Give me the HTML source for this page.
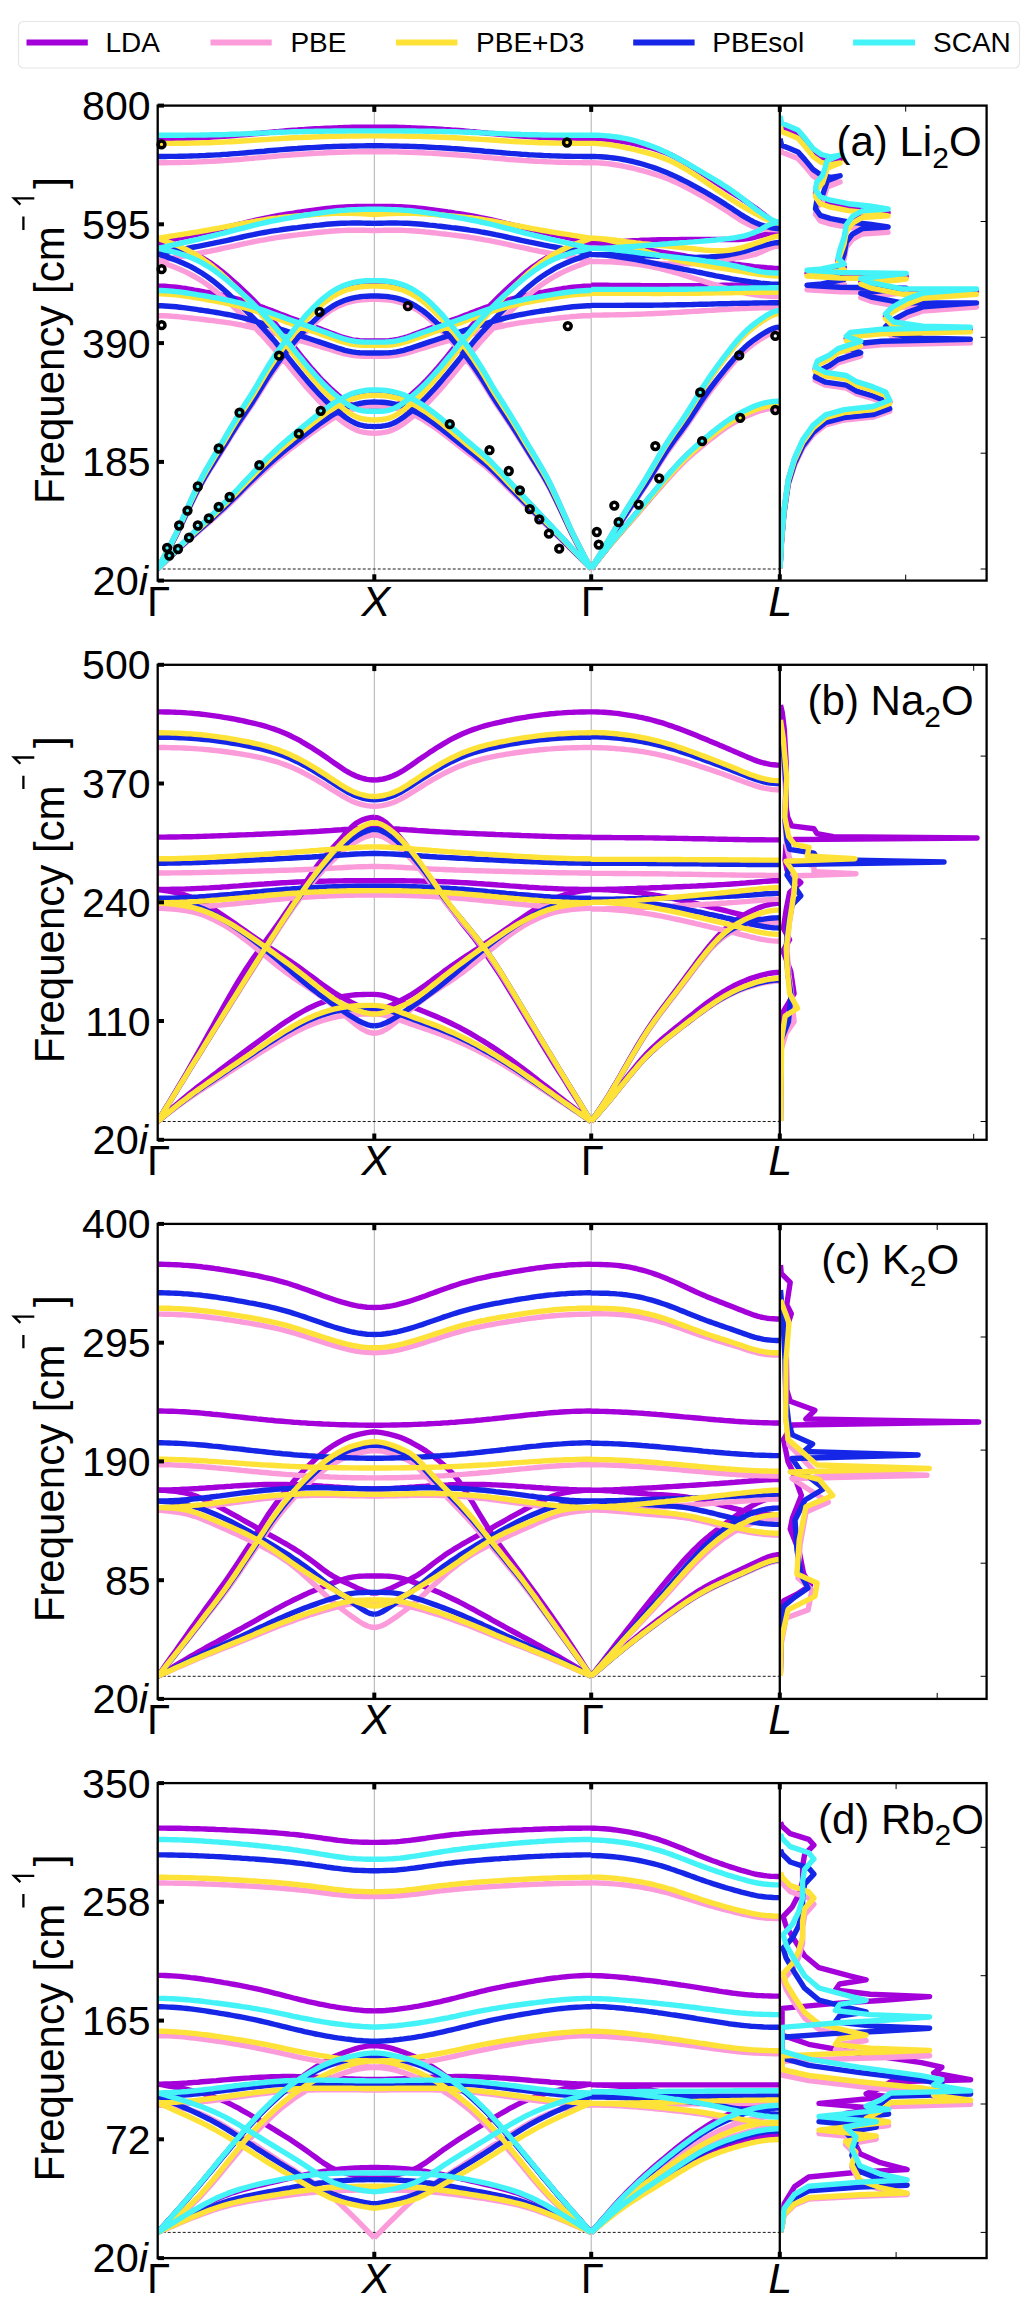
<!DOCTYPE html><html><head><meta charset="utf-8"><style>html,body{margin:0;padding:0;background:#fff;width:1025px;height:2316px;overflow:hidden}svg{display:block}text{font-family:"Liberation Sans",sans-serif;fill:#000}</style></head><body>
<svg width="1025" height="2316" viewBox="0 0 1025 2316">
<rect x="0" y="0" width="1025" height="2316" fill="#fff"/>
<defs>
<clipPath id="cb0"><rect x="157.7" y="105.6" width="622.1" height="475"/></clipPath>
<clipPath id="cd0"><rect x="779.8" y="105.6" width="206.8" height="475"/></clipPath>
<clipPath id="cb1"><rect x="157.7" y="664.8" width="622.1" height="475"/></clipPath>
<clipPath id="cd1"><rect x="779.8" y="664.8" width="206.8" height="475"/></clipPath>
<clipPath id="cb2"><rect x="157.7" y="1223.9" width="622.1" height="475"/></clipPath>
<clipPath id="cd2"><rect x="779.8" y="1223.9" width="206.8" height="475"/></clipPath>
<clipPath id="cb3"><rect x="157.7" y="1783.1" width="622.1" height="475"/></clipPath>
<clipPath id="cd3"><rect x="779.8" y="1783.1" width="206.8" height="475"/></clipPath>
</defs>
<rect x="18.5" y="21.5" width="1001" height="46.5" rx="5" fill="#fff" stroke="#e6e6e6" stroke-width="1.2"/>
<line x1="26.5" y1="42.6" x2="87.8" y2="42.6" stroke="#a400da" stroke-width="6"/>
<text x="105.5" y="52" font-size="28">LDA</text>
<line x1="210.5" y1="42.6" x2="271.7" y2="42.6" stroke="#fb9bd9" stroke-width="6"/>
<text x="290.4" y="52" font-size="28">PBE</text>
<line x1="396" y1="42.6" x2="457.4" y2="42.6" stroke="#fee237" stroke-width="6"/>
<text x="476.09999999999997" y="52" font-size="28">PBE+D3</text>
<line x1="633.2" y1="42.6" x2="694.6" y2="42.6" stroke="#1626e6" stroke-width="6"/>
<text x="712.3000000000001" y="52" font-size="28">PBEsol</text>
<line x1="853.1" y1="42.6" x2="915" y2="42.6" stroke="#44f3f7" stroke-width="6"/>
<text x="933.0" y="52" font-size="28">SCAN</text>
<line x1="374.3" y1="105.6" x2="374.3" y2="580.6" stroke="#b0b0b0" stroke-width="1"/>
<line x1="591.2" y1="105.6" x2="591.2" y2="580.6" stroke="#b0b0b0" stroke-width="1"/>
<line x1="157.7" y1="569" x2="779.8" y2="569" stroke="#1a1a1a" stroke-width="1" stroke-dasharray="3,2"/>
<path d="M157.7 138.5 L161.4 138.5 L165 138.5 L168.7 138.4 L172.4 138.4 L176.1 138.3 L179.7 138.3 L183.4 138.2 L187.1 138.1 L190.7 138 L194.4 137.9 L198.1 137.7 L201.8 137.6 L205.4 137.4 L209.1 137.2 L212.8 137 L216.4 136.8 L220.1 136.6 L223.8 136.3 L227.5 136 L231.1 135.7 L234.8 135.5 L238.5 135.1 L242.1 134.8 L245.8 134.5 L249.5 134.2 L253.2 133.8 L256.8 133.5 L260.5 133.2 L264.2 132.8 L267.8 132.5 L271.5 132.1 L275.2 131.8 L278.8 131.5 L282.5 131.1 L286.2 130.8 L289.9 130.5 L293.5 130.2 L297.2 130 L300.9 129.7 L304.5 129.5 L308.2 129.2 L311.9 129 L315.6 128.8 L319.2 128.6 L322.9 128.4 L326.6 128.2 L330.2 128.1 L333.9 127.9 L337.6 127.8 L341.3 127.6 L344.9 127.5 L348.6 127.4 L352.3 127.3 L355.9 127.3 L359.6 127.2 L363.3 127.2 L367 127.1 L370.6 127.1 L374.3 127.1 M591.2 138.5 L587.5 138.5 L583.8 138.5 L580.2 138.4 L576.5 138.4 L572.8 138.3 L569.1 138.3 L565.5 138.2 L561.8 138.1 L558.1 138 L554.4 137.9 L550.8 137.7 L547.1 137.6 L543.4 137.4 L539.7 137.2 L536.1 137 L532.4 136.8 L528.7 136.6 L525 136.3 L521.4 136 L517.7 135.7 L514 135.5 L510.3 135.1 L506.6 134.8 L503 134.5 L499.3 134.2 L495.6 133.8 L491.9 133.5 L488.3 133.2 L484.6 132.8 L480.9 132.5 L477.2 132.1 L473.6 131.8 L469.9 131.5 L466.2 131.1 L462.5 130.8 L458.9 130.5 L455.2 130.2 L451.5 130 L447.8 129.7 L444.1 129.5 L440.5 129.2 L436.8 129 L433.1 128.8 L429.4 128.6 L425.8 128.4 L422.1 128.2 L418.4 128.1 L414.7 127.9 L411.1 127.8 L407.4 127.6 L403.7 127.5 L400 127.4 L396.4 127.3 L392.7 127.3 L389 127.2 L385.3 127.2 L381.7 127.1 L378 127.1 L374.3 127.1 M157.7 242.6 L161.4 241.8 L165 241 L168.7 240.3 L172.4 239.5 L176.1 238.7 L179.7 237.9 L183.4 237.1 L187.1 236.4 L190.7 235.6 L194.4 234.8 L198.1 234 L201.8 233.2 L205.4 232.3 L209.1 231.5 L212.8 230.7 L216.4 229.8 L220.1 228.9 L223.8 228 L227.5 227.1 L231.1 226.2 L234.8 225.3 L238.5 224.4 L242.1 223.5 L245.8 222.6 L249.5 221.7 L253.2 220.8 L256.8 219.9 L260.5 219.1 L264.2 218.3 L267.8 217.6 L271.5 216.8 L275.2 216.1 L278.8 215.5 L282.5 214.8 L286.2 214.2 L289.9 213.6 L293.5 213.1 L297.2 212.5 L300.9 212 L304.5 211.4 L308.2 210.9 L311.9 210.4 L315.6 209.9 L319.2 209.4 L322.9 208.9 L326.6 208.5 L330.2 208.1 L333.9 207.7 L337.6 207.4 L341.3 207.1 L344.9 206.9 L348.6 206.7 L352.3 206.6 L355.9 206.5 L359.6 206.4 L363.3 206.4 L367 206.4 L370.6 206.4 L374.3 206.5 M591.2 242.6 L587.5 241.8 L583.8 241 L580.2 240.3 L576.5 239.5 L572.8 238.7 L569.1 237.9 L565.5 237.1 L561.8 236.4 L558.1 235.6 L554.4 234.8 L550.8 234 L547.1 233.2 L543.4 232.3 L539.7 231.5 L536.1 230.7 L532.4 229.8 L528.7 228.9 L525 228 L521.4 227.1 L517.7 226.2 L514 225.3 L510.3 224.4 L506.6 223.5 L503 222.6 L499.3 221.7 L495.6 220.8 L491.9 219.9 L488.3 219.1 L484.6 218.3 L480.9 217.6 L477.2 216.8 L473.6 216.1 L469.9 215.5 L466.2 214.8 L462.5 214.2 L458.9 213.6 L455.2 213.1 L451.5 212.5 L447.8 212 L444.1 211.4 L440.5 210.9 L436.8 210.4 L433.1 209.9 L429.4 209.4 L425.8 208.9 L422.1 208.5 L418.4 208.1 L414.7 207.7 L411.1 207.4 L407.4 207.1 L403.7 206.9 L400 206.7 L396.4 206.6 L392.7 206.5 L389 206.4 L385.3 206.4 L381.7 206.4 L378 206.4 L374.3 206.5 M157.7 242.6 L161.4 243.4 L165 244.3 L168.7 245.2 L172.4 246.1 L176.1 247.1 L179.7 248.2 L183.4 249.5 L187.1 250.8 L190.7 252.3 L194.4 253.9 L198.1 255.7 L201.8 257.6 L205.4 259.8 L209.1 262.1 L212.8 264.6 L216.4 267.2 L220.1 270.1 L223.8 273 L227.5 276.1 L231.1 279.3 L234.8 282.5 L238.5 285.8 L242.1 289.2 L245.8 292.7 L249.5 296.3 L253.2 299.9 L256.8 303.6 L260.5 307.4 L264.2 311.3 L267.8 315.4 L271.5 319.5 L275.2 323.7 L278.8 328.1 L282.5 332.6 L286.2 337.1 L289.9 341.7 L293.5 346.4 L297.2 351 L300.9 355.6 L304.5 360.1 L308.2 364.5 L311.9 368.9 L315.6 373.1 L319.2 377.1 L322.9 381 L326.6 384.7 L330.2 388.2 L333.9 391.6 L337.6 394.8 L341.3 397.8 L344.9 400.6 L348.6 403.2 L352.3 405.4 L355.9 407.2 L359.6 408.4 L363.3 409.1 L367 409.4 L370.6 409.5 L374.3 409.5 M591.2 242.6 L587.5 243.4 L583.8 244.3 L580.2 245.2 L576.5 246.1 L572.8 247.1 L569.1 248.2 L565.5 249.5 L561.8 250.8 L558.1 252.3 L554.4 253.9 L550.8 255.7 L547.1 257.6 L543.4 259.8 L539.7 262.1 L536.1 264.6 L532.4 267.2 L528.7 270.1 L525 273 L521.4 276.1 L517.7 279.3 L514 282.5 L510.3 285.8 L506.6 289.2 L503 292.7 L499.3 296.3 L495.6 299.9 L491.9 303.6 L488.3 307.4 L484.6 311.3 L480.9 315.4 L477.2 319.5 L473.6 323.7 L469.9 328.1 L466.2 332.6 L462.5 337.1 L458.9 341.7 L455.2 346.4 L451.5 351 L447.8 355.6 L444.1 360.1 L440.5 364.5 L436.8 368.9 L433.1 373.1 L429.4 377.1 L425.8 381 L422.1 384.7 L418.4 388.2 L414.7 391.6 L411.1 394.8 L407.4 397.8 L403.7 400.6 L400 403.2 L396.4 405.4 L392.7 407.2 L389 408.4 L385.3 409.1 L381.7 409.4 L378 409.5 L374.3 409.5 M157.7 286.1 L161.4 286.2 L165 286.3 L168.7 286.6 L172.4 286.9 L176.1 287.3 L179.7 287.7 L183.4 288.3 L187.1 288.8 L190.7 289.4 L194.4 290.1 L198.1 290.7 L201.8 291.4 L205.4 292.1 L209.1 292.7 L212.8 293.5 L216.4 294.2 L220.1 295 L223.8 295.8 L227.5 296.6 L231.1 297.5 L234.8 298.4 L238.5 299.4 L242.1 300.5 L245.8 301.6 L249.5 302.8 L253.2 304 L256.8 305.2 L260.5 306.6 L264.2 307.9 L267.8 309.3 L271.5 310.6 L275.2 312 L278.8 313.4 L282.5 314.9 L286.2 316.3 L289.9 317.7 L293.5 319 L297.2 320.4 L300.9 321.8 L304.5 323.2 L308.2 324.5 L311.9 325.9 L315.6 327.2 L319.2 328.6 L322.9 330 L326.6 331.3 L330.2 332.7 L333.9 334.1 L337.6 335.5 L341.3 336.8 L344.9 337.9 L348.6 338.9 L352.3 339.8 L355.9 340.3 L359.6 340.7 L363.3 340.9 L367 341 L370.6 341 L374.3 341 M591.2 286.1 L587.5 286.2 L583.8 286.3 L580.2 286.6 L576.5 286.9 L572.8 287.3 L569.1 287.7 L565.5 288.3 L561.8 288.8 L558.1 289.4 L554.4 290.1 L550.8 290.7 L547.1 291.4 L543.4 292.1 L539.7 292.7 L536.1 293.5 L532.4 294.2 L528.7 295 L525 295.8 L521.4 296.6 L517.7 297.5 L514 298.4 L510.3 299.4 L506.6 300.5 L503 301.6 L499.3 302.8 L495.6 304 L491.9 305.2 L488.3 306.6 L484.6 307.9 L480.9 309.3 L477.2 310.6 L473.6 312 L469.9 313.4 L466.2 314.9 L462.5 316.3 L458.9 317.7 L455.2 319 L451.5 320.4 L447.8 321.8 L444.1 323.2 L440.5 324.5 L436.8 325.9 L433.1 327.2 L429.4 328.6 L425.8 330 L422.1 331.3 L418.4 332.7 L414.7 334.1 L411.1 335.5 L407.4 336.8 L403.7 337.9 L400 338.9 L396.4 339.8 L392.7 340.3 L389 340.7 L385.3 340.9 L381.7 341 L378 341 L374.3 341 M157.7 568.7 L161.4 562 L165 555.2 L168.7 548.3 L172.4 541.1 L176.1 533.6 L179.7 525.8 L183.4 517.7 L187.1 509.4 L190.7 501.2 L194.4 493.1 L198.1 485.5 L201.8 478.3 L205.4 471.6 L209.1 465.2 L212.8 459 L216.4 452.9 L220.1 446.8 L223.8 440.6 L227.5 434.4 L231.1 428.1 L234.8 422 L238.5 416 L242.1 410.1 L245.8 404.4 L249.5 398.7 L253.2 392.9 L256.8 386.8 L260.5 380.5 L264.2 374.2 L267.8 368.2 L271.5 362.4 L275.2 356.9 L278.8 351.6 L282.5 346.5 L286.2 341.5 L289.9 336.7 L293.5 332.1 L297.2 327.6 L300.9 323.2 L304.5 319 L308.2 315 L311.9 311.2 L315.6 307.5 L319.2 304 L322.9 300.8 L326.6 297.9 L330.2 295.2 L333.9 292.8 L337.6 290.8 L341.3 289 L344.9 287.5 L348.6 286.2 L352.3 285.2 L355.9 284.4 L359.6 283.8 L363.3 283.4 L367 283.2 L370.6 283 L374.3 283 M591.2 568.7 L587.5 562 L583.8 555.2 L580.2 548.3 L576.5 541.1 L572.8 533.6 L569.1 525.8 L565.5 517.7 L561.8 509.4 L558.1 501.2 L554.4 493.1 L550.8 485.5 L547.1 478.3 L543.4 471.6 L539.7 465.2 L536.1 459 L532.4 452.9 L528.7 446.8 L525 440.6 L521.4 434.4 L517.7 428.1 L514 422 L510.3 416 L506.6 410.1 L503 404.4 L499.3 398.7 L495.6 392.9 L491.9 386.8 L488.3 380.5 L484.6 374.2 L480.9 368.2 L477.2 362.4 L473.6 356.9 L469.9 351.6 L466.2 346.5 L462.5 341.5 L458.9 336.7 L455.2 332.1 L451.5 327.6 L447.8 323.2 L444.1 319 L440.5 315 L436.8 311.2 L433.1 307.5 L429.4 304 L425.8 300.8 L422.1 297.9 L418.4 295.2 L414.7 292.8 L411.1 290.8 L407.4 289 L403.7 287.5 L400 286.2 L396.4 285.2 L392.7 284.4 L389 283.8 L385.3 283.4 L381.7 283.2 L378 283 L374.3 283 M157.7 568.7 L161.4 565 L165 561.2 L168.7 557.5 L172.4 553.8 L176.1 550.1 L179.7 546.5 L183.4 542.9 L187.1 539.3 L190.7 535.7 L194.4 532.2 L198.1 528.8 L201.8 525.3 L205.4 521.8 L209.1 518.4 L212.8 514.9 L216.4 511.4 L220.1 507.8 L223.8 504.2 L227.5 500.6 L231.1 496.8 L234.8 493 L238.5 489.2 L242.1 485.3 L245.8 481.4 L249.5 477.6 L253.2 473.7 L256.8 469.9 L260.5 466.2 L264.2 462.6 L267.8 459 L271.5 455.5 L275.2 452.1 L278.8 448.8 L282.5 445.5 L286.2 442.3 L289.9 439.1 L293.5 436.1 L297.2 433 L300.9 430 L304.5 427.1 L308.2 424.1 L311.9 421.2 L315.6 418.3 L319.2 415.4 L322.9 412.7 L326.6 410 L330.2 407.4 L333.9 405 L337.6 402.7 L341.3 400.7 L344.9 398.8 L348.6 397.1 L352.3 395.7 L355.9 394.5 L359.6 393.6 L363.3 392.9 L367 392.4 L370.6 392.1 L374.3 392 M591.2 568.7 L587.5 564.8 L583.8 560.9 L580.2 557 L576.5 553.1 L572.8 549.2 L569.1 545.3 L565.5 541.4 L561.8 537.6 L558.1 533.7 L554.4 529.8 L550.8 525.9 L547.1 522.1 L543.4 518.2 L539.7 514.4 L536.1 510.5 L532.4 506.7 L528.7 502.8 L525 499 L521.4 495.1 L517.7 491.2 L514 487.3 L510.3 483.4 L506.6 479.5 L503 475.5 L499.3 471.6 L495.6 467.7 L491.9 463.9 L488.3 460.3 L484.6 457 L480.9 453.8 L477.2 450.7 L473.6 447.6 L469.9 444.6 L466.2 441.5 L462.5 438.4 L458.9 435.2 L455.2 432 L451.5 428.9 L447.8 425.8 L444.1 422.7 L440.5 419.8 L436.8 416.9 L433.1 414.1 L429.4 411.4 L425.8 408.8 L422.1 406.4 L418.4 404.1 L414.7 402 L411.1 400.1 L407.4 398.4 L403.7 396.9 L400 395.6 L396.4 394.5 L392.7 393.7 L389 393 L385.3 392.6 L381.7 392.2 L378 392.1 L374.3 392 M591.2 138.5 L594.4 138.5 L597.6 138.6 L600.8 138.8 L604 139 L607.2 139.3 L610.4 139.7 L613.6 140.1 L616.8 140.5 L620 141 L623.2 141.5 L626.4 142.1 L629.6 142.7 L632.8 143.4 L636 144.1 L639.1 144.8 L642.3 145.5 L645.5 146.3 L648.7 147.1 L651.9 148 L655.1 148.9 L658.3 150 L661.5 151.1 L664.7 152.3 L667.9 153.6 L671.1 155 L674.3 156.6 L677.5 158.3 L680.7 160 L683.9 161.9 L687.1 163.8 L690.3 165.7 L693.5 167.8 L696.7 169.8 L699.9 171.9 L703.1 174 L706.3 176.1 L709.5 178.2 L712.7 180.3 L715.9 182.4 L719.1 184.4 L722.3 186.5 L725.5 188.6 L728.7 190.6 L731.9 192.6 L735 194.6 L738.2 196.5 L741.4 198.6 L744.6 200.6 L747.8 202.7 L751 204.9 L754.2 207.1 L757.4 209.5 L760.6 211.9 L763.8 214.4 L767 216.9 L770.2 219.4 L773.4 221.6 L776.6 223.3 L779.8 224 M591.2 242.9 L594.4 242.9 L597.6 242.8 L600.8 242.7 L604 242.6 L607.2 242.4 L610.4 242.3 L613.6 242.1 L616.8 241.9 L620 241.7 L623.2 241.5 L626.4 241.2 L629.6 241 L632.8 240.8 L636 240.6 L639.1 240.5 L642.3 240.3 L645.5 240.2 L648.7 240.1 L651.9 240 L655.1 239.9 L658.3 239.8 L661.5 239.7 L664.7 239.7 L667.9 239.6 L671.1 239.6 L674.3 239.6 L677.5 239.6 L680.7 239.5 L683.9 239.5 L687.1 239.5 L690.3 239.5 L693.5 239.4 L696.7 239.4 L699.9 239.4 L703.1 239.4 L706.3 239.4 L709.5 239.4 L712.7 239.4 L715.9 239.4 L719.1 239.4 L722.3 239.5 L725.5 239.5 L728.7 239.6 L731.9 239.6 L735 239.6 L738.2 239.5 L741.4 239.3 L744.6 239 L747.8 238.6 L751 238 L754.2 237.3 L757.4 236.5 L760.6 235.7 L763.8 234.8 L767 234 L770.2 233.3 L773.4 232.6 L776.6 232.2 L779.8 232 M591.2 242.9 L594.4 242.9 L597.6 243 L600.8 243.2 L604 243.4 L607.2 243.7 L610.4 244.1 L613.6 244.4 L616.8 244.9 L620 245.3 L623.2 245.8 L626.4 246.3 L629.6 246.8 L632.8 247.4 L636 247.9 L639.1 248.5 L642.3 249.1 L645.5 249.6 L648.7 250.2 L651.9 250.7 L655.1 251.2 L658.3 251.7 L661.5 252.2 L664.7 252.7 L667.9 253.2 L671.1 253.7 L674.3 254.2 L677.5 254.7 L680.7 255.2 L683.9 255.7 L687.1 256.3 L690.3 256.8 L693.5 257.3 L696.7 257.8 L699.9 258.4 L703.1 258.9 L706.3 259.4 L709.5 260 L712.7 260.5 L715.9 261 L719.1 261.6 L722.3 262.1 L725.5 262.6 L728.7 263.1 L731.9 263.6 L735 264.1 L738.2 264.5 L741.4 265 L744.6 265.4 L747.8 265.8 L751 266.2 L754.2 266.6 L757.4 266.9 L760.6 267.2 L763.8 267.5 L767 267.8 L770.2 268 L773.4 268.3 L776.6 268.4 L779.8 268.5 M591.2 285.3 L594.4 285.3 L597.6 285.3 L600.8 285.3 L604 285.3 L607.2 285.3 L610.4 285.4 L613.6 285.4 L616.8 285.4 L620 285.4 L623.2 285.4 L626.4 285.4 L629.6 285.5 L632.8 285.5 L636 285.5 L639.1 285.5 L642.3 285.6 L645.5 285.6 L648.7 285.6 L651.9 285.6 L655.1 285.6 L658.3 285.6 L661.5 285.7 L664.7 285.7 L667.9 285.7 L671.1 285.7 L674.3 285.7 L677.5 285.7 L680.7 285.7 L683.9 285.7 L687.1 285.6 L690.3 285.6 L693.5 285.6 L696.7 285.6 L699.9 285.6 L703.1 285.5 L706.3 285.5 L709.5 285.5 L712.7 285.4 L715.9 285.4 L719.1 285.4 L722.3 285.3 L725.5 285.3 L728.7 285.2 L731.9 285.2 L735 285.2 L738.2 285.1 L741.4 285.1 L744.6 285 L747.8 285 L751 285 L754.2 284.9 L757.4 284.9 L760.6 284.9 L763.8 284.9 L767 284.8 L770.2 284.8 L773.4 284.8 L776.6 284.8 L779.8 284.8 M591.2 568.7 L594.4 563.5 L597.6 558.3 L600.8 553.1 L604 547.8 L607.2 542.5 L610.4 537.1 L613.6 531.6 L616.8 526.2 L620 520.8 L623.2 515.4 L626.4 510.1 L629.6 505 L632.8 499.9 L636 495 L639.1 490 L642.3 484.9 L645.5 479.8 L648.7 474.4 L651.9 469 L655.1 463.5 L658.3 458 L661.5 452.6 L664.7 447.3 L667.9 442.3 L671.1 437.5 L674.3 432.8 L677.5 428.2 L680.7 423.6 L683.9 418.9 L687.1 414.1 L690.3 409.1 L693.5 404 L696.7 398.8 L699.9 393.7 L703.1 388.6 L706.3 383.7 L709.5 379 L712.7 374.4 L715.9 370 L719.1 365.7 L722.3 361.4 L725.5 357.2 L728.7 353.1 L731.9 349.1 L735 345.2 L738.2 341.4 L741.4 337.9 L744.6 334.7 L747.8 331.6 L751 328.9 L754.2 326.3 L757.4 324 L760.6 321.7 L763.8 319.6 L767 317.6 L770.2 315.8 L773.4 314.3 L776.6 313.4 L779.8 313 M591.2 568.7 L594.4 564.5 L597.6 560.4 L600.8 556.2 L604 552.1 L607.2 548.1 L610.4 544.1 L613.6 540.3 L616.8 536.4 L620 532.6 L623.2 528.8 L626.4 525.1 L629.6 521.3 L632.8 517.5 L636 513.7 L639.1 509.9 L642.3 506 L645.5 502.2 L648.7 498.3 L651.9 494.5 L655.1 490.6 L658.3 486.8 L661.5 483 L664.7 479.2 L667.9 475.5 L671.1 471.9 L674.3 468.3 L677.5 464.8 L680.7 461.4 L683.9 458.1 L687.1 455 L690.3 451.9 L693.5 449 L696.7 446.2 L699.9 443.4 L703.1 440.6 L706.3 437.9 L709.5 435.2 L712.7 432.6 L715.9 430 L719.1 427.5 L722.3 425.1 L725.5 422.8 L728.7 420.6 L731.9 418.6 L735 416.7 L738.2 414.9 L741.4 413.1 L744.6 411.5 L747.8 409.9 L751 408.5 L754.2 407.1 L757.4 405.9 L760.6 404.8 L763.8 403.9 L767 403.2 L770.2 402.7 L773.4 402.3 L776.6 402.1 L779.8 402" stroke="#a400da" stroke-width="5.4" fill="none" stroke-linejoin="round" stroke-linecap="butt" clip-path="url(#cb0)"/>
<path d="M157.7 162.7 L161.4 162.7 L165 162.7 L168.7 162.6 L172.4 162.6 L176.1 162.5 L179.7 162.5 L183.4 162.4 L187.1 162.3 L190.7 162.2 L194.4 162.1 L198.1 161.9 L201.8 161.8 L205.4 161.6 L209.1 161.4 L212.8 161.2 L216.4 161 L220.1 160.8 L223.8 160.6 L227.5 160.3 L231.1 160 L234.8 159.8 L238.5 159.5 L242.1 159.2 L245.8 158.8 L249.5 158.5 L253.2 158.2 L256.8 157.9 L260.5 157.5 L264.2 157.2 L267.8 156.9 L271.5 156.6 L275.2 156.2 L278.8 155.9 L282.5 155.6 L286.2 155.3 L289.9 155 L293.5 154.7 L297.2 154.5 L300.9 154.2 L304.5 154 L308.2 153.8 L311.9 153.5 L315.6 153.3 L319.2 153.1 L322.9 153 L326.6 152.8 L330.2 152.6 L333.9 152.5 L337.6 152.3 L341.3 152.2 L344.9 152.1 L348.6 152 L352.3 151.9 L355.9 151.9 L359.6 151.8 L363.3 151.8 L367 151.7 L370.6 151.7 L374.3 151.7 M591.2 162.7 L587.5 162.7 L583.8 162.7 L580.2 162.6 L576.5 162.6 L572.8 162.5 L569.1 162.5 L565.5 162.4 L561.8 162.3 L558.1 162.2 L554.4 162.1 L550.8 161.9 L547.1 161.8 L543.4 161.6 L539.7 161.4 L536.1 161.2 L532.4 161 L528.7 160.8 L525 160.6 L521.4 160.3 L517.7 160 L514 159.8 L510.3 159.5 L506.6 159.2 L503 158.8 L499.3 158.5 L495.6 158.2 L491.9 157.9 L488.3 157.5 L484.6 157.2 L480.9 156.9 L477.2 156.6 L473.6 156.2 L469.9 155.9 L466.2 155.6 L462.5 155.3 L458.9 155 L455.2 154.7 L451.5 154.5 L447.8 154.2 L444.1 154 L440.5 153.8 L436.8 153.5 L433.1 153.3 L429.4 153.1 L425.8 153 L422.1 152.8 L418.4 152.6 L414.7 152.5 L411.1 152.3 L407.4 152.2 L403.7 152.1 L400 152 L396.4 151.9 L392.7 151.9 L389 151.8 L385.3 151.8 L381.7 151.7 L378 151.7 L374.3 151.7 M157.7 260.9 L161.4 260.2 L165 259.5 L168.7 258.9 L172.4 258.2 L176.1 257.5 L179.7 256.8 L183.4 256.2 L187.1 255.5 L190.7 254.8 L194.4 254.1 L198.1 253.4 L201.8 252.7 L205.4 252 L209.1 251.3 L212.8 250.5 L216.4 249.8 L220.1 249 L223.8 248.2 L227.5 247.4 L231.1 246.6 L234.8 245.8 L238.5 245 L242.1 244.2 L245.8 243.4 L249.5 242.7 L253.2 241.9 L256.8 241.2 L260.5 240.4 L264.2 239.8 L267.8 239.1 L271.5 238.5 L275.2 237.9 L278.8 237.3 L282.5 236.8 L286.2 236.3 L289.9 235.8 L293.5 235.3 L297.2 234.9 L300.9 234.4 L304.5 234 L308.2 233.6 L311.9 233.1 L315.6 232.7 L319.2 232.3 L322.9 232 L326.6 231.6 L330.2 231.3 L333.9 231 L337.6 230.8 L341.3 230.6 L344.9 230.4 L348.6 230.3 L352.3 230.3 L355.9 230.2 L359.6 230.3 L363.3 230.3 L367 230.4 L370.6 230.5 L374.3 230.6 M591.2 260.9 L587.5 260.2 L583.8 259.5 L580.2 258.9 L576.5 258.2 L572.8 257.5 L569.1 256.8 L565.5 256.2 L561.8 255.5 L558.1 254.8 L554.4 254.1 L550.8 253.4 L547.1 252.7 L543.4 252 L539.7 251.3 L536.1 250.5 L532.4 249.8 L528.7 249 L525 248.2 L521.4 247.4 L517.7 246.6 L514 245.8 L510.3 245 L506.6 244.2 L503 243.4 L499.3 242.7 L495.6 241.9 L491.9 241.2 L488.3 240.4 L484.6 239.8 L480.9 239.1 L477.2 238.5 L473.6 237.9 L469.9 237.3 L466.2 236.8 L462.5 236.3 L458.9 235.8 L455.2 235.3 L451.5 234.9 L447.8 234.4 L444.1 234 L440.5 233.6 L436.8 233.1 L433.1 232.7 L429.4 232.3 L425.8 232 L422.1 231.6 L418.4 231.3 L414.7 231 L411.1 230.8 L407.4 230.6 L403.7 230.4 L400 230.3 L396.4 230.3 L392.7 230.2 L389 230.3 L385.3 230.3 L381.7 230.4 L378 230.5 L374.3 230.6 M157.7 260.9 L161.4 262.2 L165 263.5 L168.7 264.9 L172.4 266.2 L176.1 267.7 L179.7 269.2 L183.4 270.9 L187.1 272.6 L190.7 274.5 L194.4 276.5 L198.1 278.6 L201.8 280.9 L205.4 283.4 L209.1 286 L212.8 288.8 L216.4 291.7 L220.1 294.8 L223.8 297.9 L227.5 301.2 L231.1 304.5 L234.8 308 L238.5 311.4 L242.1 315 L245.8 318.5 L249.5 322.2 L253.2 325.9 L256.8 329.7 L260.5 333.5 L264.2 337.5 L267.8 341.5 L271.5 345.6 L275.2 349.7 L278.8 354 L282.5 358.4 L286.2 362.8 L289.9 367.3 L293.5 371.7 L297.2 376.2 L300.9 380.5 L304.5 384.9 L308.2 389.1 L311.9 393.2 L315.6 397.2 L319.2 401.1 L322.9 404.8 L326.6 408.3 L330.2 411.7 L333.9 414.9 L337.6 417.9 L341.3 420.8 L344.9 423.5 L348.6 426 L352.3 428.1 L355.9 429.9 L359.6 431.3 L363.3 432.1 L367 432.7 L370.6 433 L374.3 433.2 M591.2 260.9 L587.5 262.2 L583.8 263.5 L580.2 264.9 L576.5 266.2 L572.8 267.7 L569.1 269.2 L565.5 270.9 L561.8 272.6 L558.1 274.5 L554.4 276.5 L550.8 278.6 L547.1 280.9 L543.4 283.4 L539.7 286 L536.1 288.8 L532.4 291.7 L528.7 294.8 L525 297.9 L521.4 301.2 L517.7 304.5 L514 308 L510.3 311.4 L506.6 315 L503 318.5 L499.3 322.2 L495.6 325.9 L491.9 329.7 L488.3 333.5 L484.6 337.5 L480.9 341.5 L477.2 345.6 L473.6 349.7 L469.9 354 L466.2 358.4 L462.5 362.8 L458.9 367.3 L455.2 371.7 L451.5 376.2 L447.8 380.5 L444.1 384.9 L440.5 389.1 L436.8 393.2 L433.1 397.2 L429.4 401.1 L425.8 404.8 L422.1 408.3 L418.4 411.7 L414.7 414.9 L411.1 417.9 L407.4 420.8 L403.7 423.5 L400 426 L396.4 428.1 L392.7 429.9 L389 431.3 L385.3 432.1 L381.7 432.7 L378 433 L374.3 433.2 M157.7 315.7 L161.4 315.7 L165 315.8 L168.7 316 L172.4 316.3 L176.1 316.5 L179.7 316.9 L183.4 317.2 L187.1 317.6 L190.7 318 L194.4 318.5 L198.1 318.9 L201.8 319.3 L205.4 319.7 L209.1 320.2 L212.8 320.6 L216.4 321.1 L220.1 321.6 L223.8 322.1 L227.5 322.6 L231.1 323.2 L234.8 323.8 L238.5 324.5 L242.1 325.2 L245.8 326 L249.5 326.8 L253.2 327.6 L256.8 328.5 L260.5 329.5 L264.2 330.5 L267.8 331.5 L271.5 332.5 L275.2 333.5 L278.8 334.6 L282.5 335.6 L286.2 336.7 L289.9 337.7 L293.5 338.8 L297.2 339.8 L300.9 340.9 L304.5 341.9 L308.2 343 L311.9 344 L315.6 345.1 L319.2 346.2 L322.9 347.3 L326.6 348.4 L330.2 349.5 L333.9 350.7 L337.6 351.8 L341.3 352.9 L344.9 353.9 L348.6 354.7 L352.3 355.4 L355.9 355.9 L359.6 356.1 L363.3 356.3 L367 356.3 L370.6 356.3 L374.3 356.3 M591.2 315.7 L587.5 315.7 L583.8 315.8 L580.2 316 L576.5 316.3 L572.8 316.5 L569.1 316.9 L565.5 317.2 L561.8 317.6 L558.1 318 L554.4 318.5 L550.8 318.9 L547.1 319.3 L543.4 319.7 L539.7 320.2 L536.1 320.6 L532.4 321.1 L528.7 321.6 L525 322.1 L521.4 322.6 L517.7 323.2 L514 323.8 L510.3 324.5 L506.6 325.2 L503 326 L499.3 326.8 L495.6 327.6 L491.9 328.5 L488.3 329.5 L484.6 330.5 L480.9 331.5 L477.2 332.5 L473.6 333.5 L469.9 334.6 L466.2 335.6 L462.5 336.7 L458.9 337.7 L455.2 338.8 L451.5 339.8 L447.8 340.9 L444.1 341.9 L440.5 343 L436.8 344 L433.1 345.1 L429.4 346.2 L425.8 347.3 L422.1 348.4 L418.4 349.5 L414.7 350.7 L411.1 351.8 L407.4 352.9 L403.7 353.9 L400 354.7 L396.4 355.4 L392.7 355.9 L389 356.1 L385.3 356.3 L381.7 356.3 L378 356.3 L374.3 356.3 M157.7 568.7 L161.4 562.4 L165 556 L168.7 549.5 L172.4 542.7 L176.1 535.7 L179.7 528.3 L183.4 520.6 L187.1 512.8 L190.7 505 L194.4 497.5 L198.1 490.2 L201.8 483.5 L205.4 477.1 L209.1 471.1 L212.8 465.3 L216.4 459.5 L220.1 453.7 L223.8 447.9 L227.5 442 L231.1 436.2 L234.8 430.4 L238.5 424.7 L242.1 419.2 L245.8 413.8 L249.5 408.4 L253.2 402.9 L256.8 397.2 L260.5 391.3 L264.2 385.3 L267.8 379.6 L271.5 374.2 L275.2 369 L278.8 364 L282.5 359.1 L286.2 354.5 L289.9 350 L293.5 345.6 L297.2 341.3 L300.9 337.2 L304.5 333.3 L308.2 329.5 L311.9 325.9 L315.6 322.4 L319.2 319.1 L322.9 316.1 L326.6 313.3 L330.2 310.8 L333.9 308.6 L337.6 306.6 L341.3 305 L344.9 303.5 L348.6 302.3 L352.3 301.4 L355.9 300.6 L359.6 300.1 L363.3 299.7 L367 299.5 L370.6 299.3 L374.3 299.3 M591.2 568.7 L587.5 562.4 L583.8 556 L580.2 549.5 L576.5 542.7 L572.8 535.7 L569.1 528.3 L565.5 520.6 L561.8 512.8 L558.1 505 L554.4 497.5 L550.8 490.2 L547.1 483.5 L543.4 477.1 L539.7 471.1 L536.1 465.3 L532.4 459.5 L528.7 453.7 L525 447.9 L521.4 442 L517.7 436.2 L514 430.4 L510.3 424.7 L506.6 419.2 L503 413.8 L499.3 408.4 L495.6 402.9 L491.9 397.2 L488.3 391.3 L484.6 385.3 L480.9 379.6 L477.2 374.2 L473.6 369 L469.9 364 L466.2 359.1 L462.5 354.5 L458.9 350 L455.2 345.6 L451.5 341.3 L447.8 337.2 L444.1 333.3 L440.5 329.5 L436.8 325.9 L433.1 322.4 L429.4 319.1 L425.8 316.1 L422.1 313.3 L418.4 310.8 L414.7 308.6 L411.1 306.6 L407.4 305 L403.7 303.5 L400 302.3 L396.4 301.4 L392.7 300.6 L389 300.1 L385.3 299.7 L381.7 299.5 L378 299.3 L374.3 299.3 M157.7 568.7 L161.4 565.3 L165 561.9 L168.7 558.4 L172.4 555 L176.1 551.6 L179.7 548.3 L183.4 544.9 L187.1 541.6 L190.7 538.4 L194.4 535.2 L198.1 532 L201.8 528.8 L205.4 525.6 L209.1 522.4 L212.8 519.2 L216.4 515.9 L220.1 512.7 L223.8 509.4 L227.5 506 L231.1 502.6 L234.8 499.1 L238.5 495.5 L242.1 491.9 L245.8 488.4 L249.5 484.8 L253.2 481.3 L256.8 477.8 L260.5 474.3 L264.2 471 L267.8 467.7 L271.5 464.5 L275.2 461.3 L278.8 458.3 L282.5 455.3 L286.2 452.3 L289.9 449.4 L293.5 446.6 L297.2 443.8 L300.9 441 L304.5 438.3 L308.2 435.6 L311.9 432.9 L315.6 430.2 L319.2 427.6 L322.9 425 L326.6 422.6 L330.2 420.2 L333.9 418 L337.6 415.9 L341.3 414 L344.9 412.2 L348.6 410.7 L352.3 409.4 L355.9 408.3 L359.6 407.4 L363.3 406.8 L367 406.3 L370.6 406.1 L374.3 406 M591.2 568.7 L587.5 565.1 L583.8 561.5 L580.2 558 L576.5 554.4 L572.8 550.8 L569.1 547.2 L565.5 543.6 L561.8 540 L558.1 536.5 L554.4 532.9 L550.8 529.3 L547.1 525.8 L543.4 522.2 L539.7 518.7 L536.1 515.1 L532.4 511.6 L528.7 508.1 L525 504.5 L521.4 500.9 L517.7 497.4 L514 493.8 L510.3 490.2 L506.6 486.5 L503 482.9 L499.3 479.3 L495.6 475.7 L491.9 472.2 L488.3 468.9 L484.6 465.8 L480.9 462.9 L477.2 460 L473.6 457.2 L469.9 454.4 L466.2 451.6 L462.5 448.7 L458.9 445.8 L455.2 442.9 L451.5 440 L447.8 437.1 L444.1 434.3 L440.5 431.6 L436.8 428.9 L433.1 426.3 L429.4 423.9 L425.8 421.5 L422.1 419.3 L418.4 417.2 L414.7 415.2 L411.1 413.5 L407.4 411.9 L403.7 410.5 L400 409.3 L396.4 408.3 L392.7 407.6 L389 407 L385.3 406.5 L381.7 406.2 L378 406.1 L374.3 406 M591.2 162.7 L594.4 162.7 L597.6 162.9 L600.8 163 L604 163.3 L607.2 163.6 L610.4 164 L613.6 164.5 L616.8 165 L620 165.5 L623.2 166.1 L626.4 166.8 L629.6 167.5 L632.8 168.2 L636 169 L639.1 169.8 L642.3 170.6 L645.5 171.5 L648.7 172.4 L651.9 173.3 L655.1 174.3 L658.3 175.4 L661.5 176.5 L664.7 177.7 L667.9 178.9 L671.1 180.3 L674.3 181.7 L677.5 183.1 L680.7 184.7 L683.9 186.3 L687.1 187.9 L690.3 189.6 L693.5 191.3 L696.7 193.1 L699.9 194.9 L703.1 196.7 L706.3 198.5 L709.5 200.4 L712.7 202.3 L715.9 204.2 L719.1 206.2 L722.3 208.2 L725.5 210.2 L728.7 212.3 L731.9 214.4 L735 216.5 L738.2 218.6 L741.4 220.6 L744.6 222.4 L747.8 224.1 L751 225.6 L754.2 226.9 L757.4 227.9 L760.6 228.6 L763.8 229 L767 229.3 L770.2 229.5 L773.4 229.6 L776.6 229.8 L779.8 229.8 M591.2 261.5 L594.4 261.5 L597.6 261.5 L600.8 261.6 L604 261.6 L607.2 261.6 L610.4 261.7 L613.6 261.8 L616.8 261.8 L620 261.9 L623.2 262 L626.4 262.1 L629.6 262.2 L632.8 262.4 L636 262.5 L639.1 262.6 L642.3 262.8 L645.5 262.9 L648.7 263 L651.9 263.2 L655.1 263.4 L658.3 263.5 L661.5 263.6 L664.7 263.8 L667.9 263.9 L671.1 264 L674.3 264 L677.5 264.1 L680.7 264.1 L683.9 264 L687.1 263.9 L690.3 263.8 L693.5 263.6 L696.7 263.4 L699.9 263.1 L703.1 262.7 L706.3 262.3 L709.5 261.9 L712.7 261.5 L715.9 261 L719.1 260.5 L722.3 260 L725.5 259.5 L728.7 259.1 L731.9 258.6 L735 258.2 L738.2 257.7 L741.4 257.3 L744.6 256.8 L747.8 256.2 L751 255.4 L754.2 254.6 L757.4 253.6 L760.6 252.3 L763.8 250.9 L767 249.4 L770.2 248 L773.4 246.9 L776.6 246.2 L779.8 246 M591.2 261.5 L594.4 261.5 L597.6 261.5 L600.8 261.6 L604 261.7 L607.2 261.8 L610.4 261.9 L613.6 262.1 L616.8 262.3 L620 262.5 L623.2 262.7 L626.4 263 L629.6 263.3 L632.8 263.7 L636 264.1 L639.1 264.6 L642.3 265.1 L645.5 265.6 L648.7 266.2 L651.9 266.8 L655.1 267.5 L658.3 268.2 L661.5 269 L664.7 269.7 L667.9 270.6 L671.1 271.4 L674.3 272.3 L677.5 273.2 L680.7 274.1 L683.9 275.1 L687.1 276.1 L690.3 277.1 L693.5 278.1 L696.7 279.1 L699.9 280.1 L703.1 281.1 L706.3 282.1 L709.5 283.1 L712.7 284.1 L715.9 285.1 L719.1 286.1 L722.3 287.1 L725.5 288 L728.7 288.9 L731.9 289.8 L735 290.6 L738.2 291.4 L741.4 292.2 L744.6 292.9 L747.8 293.5 L751 294.1 L754.2 294.7 L757.4 295.1 L760.6 295.5 L763.8 295.8 L767 296.1 L770.2 296.3 L773.4 296.5 L776.6 296.6 L779.8 296.6 M591.2 315.1 L594.4 315.1 L597.6 315.1 L600.8 315.1 L604 315 L607.2 315 L610.4 314.9 L613.6 314.9 L616.8 314.8 L620 314.8 L623.2 314.7 L626.4 314.6 L629.6 314.5 L632.8 314.4 L636 314.3 L639.1 314.2 L642.3 314.1 L645.5 313.9 L648.7 313.8 L651.9 313.7 L655.1 313.5 L658.3 313.4 L661.5 313.2 L664.7 313.1 L667.9 312.9 L671.1 312.7 L674.3 312.6 L677.5 312.4 L680.7 312.2 L683.9 312 L687.1 311.8 L690.3 311.6 L693.5 311.4 L696.7 311.2 L699.9 311 L703.1 310.8 L706.3 310.6 L709.5 310.4 L712.7 310.2 L715.9 310 L719.1 309.8 L722.3 309.6 L725.5 309.5 L728.7 309.3 L731.9 309.1 L735 308.9 L738.2 308.8 L741.4 308.6 L744.6 308.5 L747.8 308.3 L751 308.2 L754.2 308.1 L757.4 308 L760.6 307.9 L763.8 307.8 L767 307.7 L770.2 307.7 L773.4 307.6 L776.6 307.6 L779.8 307.6 M591.2 568.7 L594.4 563.9 L597.6 559.1 L600.8 554.2 L604 549.3 L607.2 544.4 L610.4 539.3 L613.6 534.3 L616.8 529.2 L620 524.1 L623.2 519.2 L626.4 514.3 L629.6 509.5 L632.8 504.8 L636 500.2 L639.1 495.5 L642.3 490.8 L645.5 486 L648.7 481.1 L651.9 476 L655.1 470.9 L658.3 465.8 L661.5 460.8 L664.7 455.9 L667.9 451.2 L671.1 446.8 L674.3 442.4 L677.5 438.1 L680.7 433.9 L683.9 429.5 L687.1 425 L690.3 420.3 L693.5 415.6 L696.7 410.8 L699.9 406 L703.1 401.3 L706.3 396.7 L709.5 392.3 L712.7 388.1 L715.9 384 L719.1 380 L722.3 376 L725.5 372.1 L728.7 368.3 L731.9 364.5 L735 360.9 L738.2 357.4 L741.4 354.2 L744.6 351.1 L747.8 348.3 L751 345.8 L754.2 343.4 L757.4 341.2 L760.6 339.1 L763.8 337.1 L767 335.3 L770.2 333.6 L773.4 332.2 L776.6 331.3 L779.8 331 M591.2 568.7 L594.4 564.7 L597.6 560.7 L600.8 556.7 L604 552.7 L607.2 548.8 L610.4 545 L613.6 541.3 L616.8 537.6 L620 533.9 L623.2 530.3 L626.4 526.6 L629.6 523 L632.8 519.3 L636 515.7 L639.1 512 L642.3 508.3 L645.5 504.6 L648.7 500.9 L651.9 497.1 L655.1 493.4 L658.3 489.7 L661.5 486.1 L664.7 482.5 L667.9 478.9 L671.1 475.4 L674.3 471.9 L677.5 468.5 L680.7 465.3 L683.9 462.1 L687.1 459.1 L690.3 456.1 L693.5 453.3 L696.7 450.6 L699.9 447.9 L703.1 445.2 L706.3 442.6 L709.5 440 L712.7 437.5 L715.9 435 L719.1 432.6 L722.3 430.3 L725.5 428 L728.7 426 L731.9 424 L735 422.1 L738.2 420.4 L741.4 418.7 L744.6 417.1 L747.8 415.6 L751 414.2 L754.2 412.9 L757.4 411.8 L760.6 410.7 L763.8 409.9 L767 409.2 L770.2 408.6 L773.4 408.3 L776.6 408.1 L779.8 408" stroke="#fb9bd9" stroke-width="5.4" fill="none" stroke-linejoin="round" stroke-linecap="butt" clip-path="url(#cb0)"/>
<path d="M157.7 156.5 L161.4 156.5 L165 156.5 L168.7 156.4 L172.4 156.4 L176.1 156.4 L179.7 156.3 L183.4 156.2 L187.1 156.1 L190.7 156 L194.4 155.9 L198.1 155.8 L201.8 155.6 L205.4 155.5 L209.1 155.3 L212.8 155.1 L216.4 154.9 L220.1 154.7 L223.8 154.4 L227.5 154.2 L231.1 153.9 L234.8 153.6 L238.5 153.4 L242.1 153.1 L245.8 152.8 L249.5 152.4 L253.2 152.1 L256.8 151.8 L260.5 151.5 L264.2 151.2 L267.8 150.8 L271.5 150.5 L275.2 150.2 L278.8 149.9 L282.5 149.6 L286.2 149.3 L289.9 149 L293.5 148.7 L297.2 148.5 L300.9 148.2 L304.5 148 L308.2 147.8 L311.9 147.6 L315.6 147.4 L319.2 147.2 L322.9 147 L326.6 146.8 L330.2 146.7 L333.9 146.5 L337.6 146.4 L341.3 146.3 L344.9 146.2 L348.6 146.1 L352.3 146 L355.9 146 L359.6 145.9 L363.3 145.9 L367 145.8 L370.6 145.8 L374.3 145.8 M591.2 156.5 L587.5 156.5 L583.8 156.5 L580.2 156.4 L576.5 156.4 L572.8 156.4 L569.1 156.3 L565.5 156.2 L561.8 156.1 L558.1 156 L554.4 155.9 L550.8 155.8 L547.1 155.6 L543.4 155.5 L539.7 155.3 L536.1 155.1 L532.4 154.9 L528.7 154.7 L525 154.4 L521.4 154.2 L517.7 153.9 L514 153.6 L510.3 153.4 L506.6 153.1 L503 152.8 L499.3 152.4 L495.6 152.1 L491.9 151.8 L488.3 151.5 L484.6 151.2 L480.9 150.8 L477.2 150.5 L473.6 150.2 L469.9 149.9 L466.2 149.6 L462.5 149.3 L458.9 149 L455.2 148.7 L451.5 148.5 L447.8 148.2 L444.1 148 L440.5 147.8 L436.8 147.6 L433.1 147.4 L429.4 147.2 L425.8 147 L422.1 146.8 L418.4 146.7 L414.7 146.5 L411.1 146.4 L407.4 146.3 L403.7 146.2 L400 146.1 L396.4 146 L392.7 146 L389 145.9 L385.3 145.9 L381.7 145.8 L378 145.8 L374.3 145.8 M157.7 253.9 L161.4 253.2 L165 252.5 L168.7 251.8 L172.4 251.2 L176.1 250.5 L179.7 249.8 L183.4 249.1 L187.1 248.4 L190.7 247.7 L194.4 247 L198.1 246.3 L201.8 245.6 L205.4 244.9 L209.1 244.1 L212.8 243.4 L216.4 242.6 L220.1 241.9 L223.8 241.1 L227.5 240.3 L231.1 239.5 L234.8 238.7 L238.5 237.8 L242.1 237 L245.8 236.2 L249.5 235.4 L253.2 234.7 L256.8 233.9 L260.5 233.2 L264.2 232.5 L267.8 231.9 L271.5 231.2 L275.2 230.6 L278.8 230.1 L282.5 229.5 L286.2 229 L289.9 228.5 L293.5 228 L297.2 227.6 L300.9 227.1 L304.5 226.7 L308.2 226.3 L311.9 225.9 L315.6 225.4 L319.2 225.1 L322.9 224.7 L326.6 224.3 L330.2 224 L333.9 223.7 L337.6 223.5 L341.3 223.3 L344.9 223.2 L348.6 223.1 L352.3 223 L355.9 223 L359.6 223 L363.3 223.1 L367 223.2 L370.6 223.3 L374.3 223.4 M591.2 253.9 L587.5 253.2 L583.8 252.5 L580.2 251.8 L576.5 251.2 L572.8 250.5 L569.1 249.8 L565.5 249.1 L561.8 248.4 L558.1 247.7 L554.4 247 L550.8 246.3 L547.1 245.6 L543.4 244.9 L539.7 244.1 L536.1 243.4 L532.4 242.6 L528.7 241.9 L525 241.1 L521.4 240.3 L517.7 239.5 L514 238.7 L510.3 237.8 L506.6 237 L503 236.2 L499.3 235.4 L495.6 234.7 L491.9 233.9 L488.3 233.2 L484.6 232.5 L480.9 231.9 L477.2 231.2 L473.6 230.6 L469.9 230.1 L466.2 229.5 L462.5 229 L458.9 228.5 L455.2 228 L451.5 227.6 L447.8 227.1 L444.1 226.7 L440.5 226.3 L436.8 225.9 L433.1 225.4 L429.4 225.1 L425.8 224.7 L422.1 224.3 L418.4 224 L414.7 223.7 L411.1 223.5 L407.4 223.3 L403.7 223.2 L400 223.1 L396.4 223 L392.7 223 L389 223 L385.3 223.1 L381.7 223.2 L378 223.3 L374.3 223.4 M157.7 253.9 L161.4 255.1 L165 256.3 L168.7 257.6 L172.4 258.9 L176.1 260.3 L179.7 261.7 L183.4 263.3 L187.1 264.9 L190.7 266.7 L194.4 268.7 L198.1 270.8 L201.8 273 L205.4 275.4 L209.1 278 L212.8 280.7 L216.4 283.6 L220.1 286.6 L223.8 289.8 L227.5 293 L231.1 296.4 L234.8 299.8 L238.5 303.3 L242.1 306.8 L245.8 310.4 L249.5 314.1 L253.2 317.8 L256.8 321.6 L260.5 325.5 L264.2 329.4 L267.8 333.5 L271.5 337.6 L275.2 341.8 L278.8 346.2 L282.5 350.6 L286.2 355.1 L289.9 359.6 L293.5 364.2 L297.2 368.7 L300.9 373.2 L304.5 377.6 L308.2 381.9 L311.9 386.1 L315.6 390.2 L319.2 394.1 L322.9 397.9 L326.6 401.5 L330.2 404.9 L333.9 408.2 L337.6 411.3 L341.3 414.2 L344.9 417 L348.6 419.5 L352.3 421.7 L355.9 423.5 L359.6 424.9 L363.3 425.7 L367 426.2 L370.6 426.4 L374.3 426.6 M591.2 253.9 L587.5 255.1 L583.8 256.3 L580.2 257.6 L576.5 258.9 L572.8 260.3 L569.1 261.7 L565.5 263.3 L561.8 264.9 L558.1 266.7 L554.4 268.7 L550.8 270.8 L547.1 273 L543.4 275.4 L539.7 278 L536.1 280.7 L532.4 283.6 L528.7 286.6 L525 289.8 L521.4 293 L517.7 296.4 L514 299.8 L510.3 303.3 L506.6 306.8 L503 310.4 L499.3 314.1 L495.6 317.8 L491.9 321.6 L488.3 325.5 L484.6 329.4 L480.9 333.5 L477.2 337.6 L473.6 341.8 L469.9 346.2 L466.2 350.6 L462.5 355.1 L458.9 359.6 L455.2 364.2 L451.5 368.7 L447.8 373.2 L444.1 377.6 L440.5 381.9 L436.8 386.1 L433.1 390.2 L429.4 394.1 L425.8 397.9 L422.1 401.5 L418.4 404.9 L414.7 408.2 L411.1 411.3 L407.4 414.2 L403.7 417 L400 419.5 L396.4 421.7 L392.7 423.5 L389 424.9 L385.3 425.7 L381.7 426.2 L378 426.4 L374.3 426.6 M157.7 305.8 L161.4 305.8 L165 306 L168.7 306.2 L172.4 306.5 L176.1 306.8 L179.7 307.2 L183.4 307.6 L187.1 308.1 L190.7 308.6 L194.4 309.1 L198.1 309.7 L201.8 310.2 L205.4 310.8 L209.1 311.3 L212.8 311.9 L216.4 312.5 L220.1 313.1 L223.8 313.8 L227.5 314.5 L231.1 315.2 L234.8 316 L238.5 316.8 L242.1 317.6 L245.8 318.6 L249.5 319.6 L253.2 320.6 L256.8 321.7 L260.5 322.8 L264.2 323.9 L267.8 325.1 L271.5 326.3 L275.2 327.5 L278.8 328.7 L282.5 329.9 L286.2 331.1 L289.9 332.3 L293.5 333.5 L297.2 334.7 L300.9 335.9 L304.5 337.1 L308.2 338.3 L311.9 339.5 L315.6 340.7 L319.2 341.9 L322.9 343.1 L326.6 344.4 L330.2 345.6 L333.9 346.8 L337.6 348.1 L341.3 349.2 L344.9 350.3 L348.6 351.2 L352.3 351.9 L355.9 352.4 L359.6 352.8 L363.3 352.9 L367 353 L370.6 353 L374.3 353 M591.2 305.8 L587.5 305.8 L583.8 306 L580.2 306.2 L576.5 306.5 L572.8 306.8 L569.1 307.2 L565.5 307.6 L561.8 308.1 L558.1 308.6 L554.4 309.1 L550.8 309.7 L547.1 310.2 L543.4 310.8 L539.7 311.3 L536.1 311.9 L532.4 312.5 L528.7 313.1 L525 313.8 L521.4 314.5 L517.7 315.2 L514 316 L510.3 316.8 L506.6 317.6 L503 318.6 L499.3 319.6 L495.6 320.6 L491.9 321.7 L488.3 322.8 L484.6 323.9 L480.9 325.1 L477.2 326.3 L473.6 327.5 L469.9 328.7 L466.2 329.9 L462.5 331.1 L458.9 332.3 L455.2 333.5 L451.5 334.7 L447.8 335.9 L444.1 337.1 L440.5 338.3 L436.8 339.5 L433.1 340.7 L429.4 341.9 L425.8 343.1 L422.1 344.4 L418.4 345.6 L414.7 346.8 L411.1 348.1 L407.4 349.2 L403.7 350.3 L400 351.2 L396.4 351.9 L392.7 352.4 L389 352.8 L385.3 352.9 L381.7 353 L378 353 L374.3 353 M157.7 568.7 L161.4 562.3 L165 555.9 L168.7 549.2 L172.4 542.4 L176.1 535.3 L179.7 527.8 L183.4 520 L187.1 512.1 L190.7 504.3 L194.4 496.6 L198.1 489.3 L201.8 482.4 L205.4 476 L209.1 469.9 L212.8 464 L216.4 458.2 L220.1 452.3 L223.8 446.4 L227.5 440.5 L231.1 434.5 L234.8 428.7 L238.5 422.9 L242.1 417.4 L245.8 411.9 L249.5 406.4 L253.2 400.9 L256.8 395.1 L260.5 389.1 L264.2 383.1 L267.8 377.3 L271.5 371.8 L275.2 366.5 L278.8 361.5 L282.5 356.6 L286.2 351.9 L289.9 347.3 L293.5 342.8 L297.2 338.5 L300.9 334.4 L304.5 330.4 L308.2 326.6 L311.9 322.9 L315.6 319.4 L319.2 316.1 L322.9 313 L326.6 310.2 L330.2 307.7 L333.9 305.4 L337.6 303.4 L341.3 301.7 L344.9 300.3 L348.6 299.1 L352.3 298.1 L355.9 297.4 L359.6 296.8 L363.3 296.4 L367 296.2 L370.6 296 L374.3 296 M591.2 568.7 L587.5 562.3 L583.8 555.9 L580.2 549.2 L576.5 542.4 L572.8 535.3 L569.1 527.8 L565.5 520 L561.8 512.1 L558.1 504.3 L554.4 496.6 L550.8 489.3 L547.1 482.4 L543.4 476 L539.7 469.9 L536.1 464 L532.4 458.2 L528.7 452.3 L525 446.4 L521.4 440.5 L517.7 434.5 L514 428.7 L510.3 422.9 L506.6 417.4 L503 411.9 L499.3 406.4 L495.6 400.9 L491.9 395.1 L488.3 389.1 L484.6 383.1 L480.9 377.3 L477.2 371.8 L473.6 366.5 L469.9 361.5 L466.2 356.6 L462.5 351.9 L458.9 347.3 L455.2 342.8 L451.5 338.5 L447.8 334.4 L444.1 330.4 L440.5 326.6 L436.8 322.9 L433.1 319.4 L429.4 316.1 L425.8 313 L422.1 310.2 L418.4 307.7 L414.7 305.4 L411.1 303.4 L407.4 301.7 L403.7 300.3 L400 299.1 L396.4 298.1 L392.7 297.4 L389 296.8 L385.3 296.4 L381.7 296.2 L378 296 L374.3 296 M157.7 568.7 L161.4 565.2 L165 561.7 L168.7 558.2 L172.4 554.7 L176.1 551.2 L179.7 547.8 L183.4 544.3 L187.1 541 L190.7 537.6 L194.4 534.3 L198.1 531 L201.8 527.8 L205.4 524.5 L209.1 521.2 L212.8 518 L216.4 514.6 L220.1 511.3 L223.8 507.9 L227.5 504.4 L231.1 500.9 L234.8 497.3 L238.5 493.7 L242.1 490.1 L245.8 486.4 L249.5 482.7 L253.2 479.1 L256.8 475.5 L260.5 472 L264.2 468.6 L267.8 465.2 L271.5 461.9 L275.2 458.7 L278.8 455.6 L282.5 452.5 L286.2 449.4 L289.9 446.5 L293.5 443.6 L297.2 440.7 L300.9 437.9 L304.5 435.1 L308.2 432.3 L311.9 429.5 L315.6 426.8 L319.2 424.1 L322.9 421.5 L326.6 419 L330.2 416.5 L333.9 414.3 L337.6 412.1 L341.3 410.2 L344.9 408.4 L348.6 406.8 L352.3 405.5 L355.9 404.4 L359.6 403.5 L363.3 402.8 L367 402.4 L370.6 402.1 L374.3 402 M591.2 568.7 L587.5 565 L583.8 561.4 L580.2 557.7 L576.5 554 L572.8 550.3 L569.1 546.7 L565.5 543 L561.8 539.3 L558.1 535.7 L554.4 532 L550.8 528.4 L547.1 524.7 L543.4 521.1 L539.7 517.5 L536.1 513.8 L532.4 510.2 L528.7 506.6 L525 502.9 L521.4 499.3 L517.7 495.6 L514 491.9 L510.3 488.2 L506.6 484.5 L503 480.8 L499.3 477.1 L495.6 473.4 L491.9 469.8 L488.3 466.5 L484.6 463.3 L480.9 460.3 L477.2 457.4 L473.6 454.5 L469.9 451.6 L466.2 448.7 L462.5 445.7 L458.9 442.8 L455.2 439.8 L451.5 436.8 L447.8 433.9 L444.1 431 L440.5 428.2 L436.8 425.5 L433.1 422.8 L429.4 420.3 L425.8 417.9 L422.1 415.6 L418.4 413.5 L414.7 411.5 L411.1 409.7 L407.4 408 L403.7 406.6 L400 405.4 L396.4 404.4 L392.7 403.6 L389 403 L385.3 402.5 L381.7 402.2 L378 402.1 L374.3 402 M591.2 156.5 L594.4 156.5 L597.6 156.6 L600.8 156.8 L604 157 L607.2 157.3 L610.4 157.6 L613.6 158 L616.8 158.4 L620 158.9 L623.2 159.5 L626.4 160.1 L629.6 160.8 L632.8 161.5 L636 162.3 L639.1 163.2 L642.3 164 L645.5 165 L648.7 166 L651.9 167 L655.1 168.1 L658.3 169.3 L661.5 170.5 L664.7 171.8 L667.9 173.1 L671.1 174.5 L674.3 175.9 L677.5 177.4 L680.7 179 L683.9 180.6 L687.1 182.2 L690.3 183.8 L693.5 185.6 L696.7 187.3 L699.9 189.1 L703.1 190.9 L706.3 192.7 L709.5 194.6 L712.7 196.5 L715.9 198.4 L719.1 200.4 L722.3 202.4 L725.5 204.4 L728.7 206.5 L731.9 208.6 L735 210.7 L738.2 212.8 L741.4 214.9 L744.6 216.9 L747.8 218.7 L751 220.5 L754.2 222.1 L757.4 223.5 L760.6 224.7 L763.8 225.8 L767 226.7 L770.2 227.5 L773.4 228.1 L776.6 228.6 L779.8 228.8 M591.2 254.6 L594.4 254.6 L597.6 254.6 L600.8 254.6 L604 254.7 L607.2 254.7 L610.4 254.8 L613.6 254.8 L616.8 254.9 L620 255 L623.2 255 L626.4 255.1 L629.6 255.2 L632.8 255.3 L636 255.4 L639.1 255.5 L642.3 255.6 L645.5 255.8 L648.7 255.9 L651.9 256 L655.1 256.1 L658.3 256.3 L661.5 256.4 L664.7 256.5 L667.9 256.7 L671.1 256.8 L674.3 256.9 L677.5 257 L680.7 257.1 L683.9 257.2 L687.1 257.3 L690.3 257.4 L693.5 257.4 L696.7 257.4 L699.9 257.3 L703.1 257.3 L706.3 257.1 L709.5 257 L712.7 256.7 L715.9 256.5 L719.1 256.1 L722.3 255.8 L725.5 255.3 L728.7 254.8 L731.9 254.2 L735 253.6 L738.2 252.9 L741.4 252.1 L744.6 251.3 L747.8 250.4 L751 249.4 L754.2 248.5 L757.4 247.5 L760.6 246.5 L763.8 245.5 L767 244.6 L770.2 243.8 L773.4 243.2 L776.6 242.7 L779.8 242.5 M591.2 254.6 L594.4 254.6 L597.6 254.7 L600.8 254.9 L604 255.1 L607.2 255.4 L610.4 255.7 L613.6 256.1 L616.8 256.5 L620 257 L623.2 257.5 L626.4 258 L629.6 258.5 L632.8 259.1 L636 259.7 L639.1 260.3 L642.3 260.9 L645.5 261.6 L648.7 262.2 L651.9 262.8 L655.1 263.5 L658.3 264.1 L661.5 264.8 L664.7 265.4 L667.9 266 L671.1 266.7 L674.3 267.3 L677.5 268 L680.7 268.6 L683.9 269.3 L687.1 269.9 L690.3 270.6 L693.5 271.2 L696.7 271.9 L699.9 272.5 L703.1 273.2 L706.3 273.8 L709.5 274.5 L712.7 275.1 L715.9 275.8 L719.1 276.4 L722.3 277 L725.5 277.6 L728.7 278.2 L731.9 278.8 L735 279.3 L738.2 279.9 L741.4 280.4 L744.6 280.9 L747.8 281.4 L751 281.9 L754.2 282.3 L757.4 282.7 L760.6 283.1 L763.8 283.4 L767 283.7 L770.2 284 L773.4 284.2 L776.6 284.3 L779.8 284.3 M591.2 305.4 L594.4 305.4 L597.6 305.4 L600.8 305.4 L604 305.4 L607.2 305.4 L610.4 305.4 L613.6 305.4 L616.8 305.4 L620 305.4 L623.2 305.4 L626.4 305.3 L629.6 305.3 L632.8 305.3 L636 305.3 L639.1 305.3 L642.3 305.2 L645.5 305.2 L648.7 305.2 L651.9 305.2 L655.1 305.1 L658.3 305.1 L661.5 305.1 L664.7 305 L667.9 305 L671.1 304.9 L674.3 304.9 L677.5 304.8 L680.7 304.8 L683.9 304.7 L687.1 304.6 L690.3 304.6 L693.5 304.5 L696.7 304.4 L699.9 304.3 L703.1 304.3 L706.3 304.2 L709.5 304.1 L712.7 304 L715.9 303.9 L719.1 303.8 L722.3 303.8 L725.5 303.7 L728.7 303.6 L731.9 303.5 L735 303.4 L738.2 303.4 L741.4 303.3 L744.6 303.2 L747.8 303.2 L751 303.1 L754.2 303 L757.4 303 L760.6 302.9 L763.8 302.9 L767 302.9 L770.2 302.8 L773.4 302.8 L776.6 302.8 L779.8 302.8 M591.2 568.7 L594.4 563.8 L597.6 558.9 L600.8 554 L604 549 L607.2 544 L610.4 538.9 L613.6 533.7 L616.8 528.5 L620 523.4 L623.2 518.3 L626.4 513.4 L629.6 508.5 L632.8 503.8 L636 499 L639.1 494.3 L642.3 489.6 L645.5 484.7 L648.7 479.7 L651.9 474.5 L655.1 469.3 L658.3 464.1 L661.5 459 L664.7 454 L667.9 449.3 L671.1 444.8 L674.3 440.3 L677.5 436 L680.7 431.6 L683.9 427.2 L687.1 422.6 L690.3 417.9 L693.5 413 L696.7 408.2 L699.9 403.3 L703.1 398.5 L706.3 393.9 L709.5 389.4 L712.7 385.1 L715.9 380.9 L719.1 376.9 L722.3 372.9 L725.5 368.9 L728.7 365 L731.9 361.2 L735 357.5 L738.2 354 L741.4 350.7 L744.6 347.6 L747.8 344.7 L751 342.1 L754.2 339.7 L757.4 337.5 L760.6 335.3 L763.8 333.3 L767 331.4 L770.2 329.7 L773.4 328.3 L776.6 327.4 L779.8 327.1 M591.2 568.7 L594.4 564.6 L597.6 560.5 L600.8 556.4 L604 552.3 L607.2 548.3 L610.4 544.4 L613.6 540.6 L616.8 536.8 L620 533.1 L623.2 529.3 L626.4 525.6 L629.6 521.9 L632.8 518.1 L636 514.3 L639.1 510.6 L642.3 506.8 L645.5 503 L648.7 499.2 L651.9 495.4 L655.1 491.6 L658.3 487.8 L661.5 484 L664.7 480.3 L667.9 476.6 L671.1 473 L674.3 469.5 L677.5 466 L680.7 462.7 L683.9 459.5 L687.1 456.3 L690.3 453.3 L693.5 450.4 L696.7 447.6 L699.9 444.9 L703.1 442.2 L706.3 439.5 L709.5 436.8 L712.7 434.2 L715.9 431.7 L719.1 429.2 L722.3 426.8 L725.5 424.5 L728.7 422.4 L731.9 420.4 L735 418.5 L738.2 416.7 L741.4 415 L744.6 413.4 L747.8 411.8 L751 410.4 L754.2 409.1 L757.4 407.9 L760.6 406.8 L763.8 405.9 L767 405.2 L770.2 404.7 L773.4 404.3 L776.6 404.1 L779.8 404" stroke="#1626e6" stroke-width="5.4" fill="none" stroke-linejoin="round" stroke-linecap="butt" clip-path="url(#cb0)"/>
<path d="M157.7 143.4 L161.4 143.4 L165 143.4 L168.7 143.4 L172.4 143.4 L176.1 143.3 L179.7 143.3 L183.4 143.2 L187.1 143.2 L190.7 143.1 L194.4 143.1 L198.1 143 L201.8 142.9 L205.4 142.8 L209.1 142.7 L212.8 142.5 L216.4 142.4 L220.1 142.2 L223.8 142.1 L227.5 141.9 L231.1 141.7 L234.8 141.5 L238.5 141.3 L242.1 141 L245.8 140.8 L249.5 140.6 L253.2 140.3 L256.8 140.1 L260.5 139.8 L264.2 139.6 L267.8 139.4 L271.5 139.1 L275.2 138.9 L278.8 138.7 L282.5 138.4 L286.2 138.2 L289.9 138 L293.5 137.8 L297.2 137.6 L300.9 137.5 L304.5 137.3 L308.2 137.2 L311.9 137 L315.6 136.9 L319.2 136.8 L322.9 136.6 L326.6 136.5 L330.2 136.4 L333.9 136.3 L337.6 136.3 L341.3 136.2 L344.9 136.1 L348.6 136.1 L352.3 136 L355.9 136 L359.6 136 L363.3 135.9 L367 135.9 L370.6 135.9 L374.3 135.9 M591.2 143.4 L587.5 143.4 L583.8 143.4 L580.2 143.4 L576.5 143.4 L572.8 143.3 L569.1 143.3 L565.5 143.2 L561.8 143.2 L558.1 143.1 L554.4 143.1 L550.8 143 L547.1 142.9 L543.4 142.8 L539.7 142.7 L536.1 142.5 L532.4 142.4 L528.7 142.2 L525 142.1 L521.4 141.9 L517.7 141.7 L514 141.5 L510.3 141.3 L506.6 141 L503 140.8 L499.3 140.6 L495.6 140.3 L491.9 140.1 L488.3 139.8 L484.6 139.6 L480.9 139.4 L477.2 139.1 L473.6 138.9 L469.9 138.7 L466.2 138.4 L462.5 138.2 L458.9 138 L455.2 137.8 L451.5 137.6 L447.8 137.5 L444.1 137.3 L440.5 137.2 L436.8 137 L433.1 136.9 L429.4 136.8 L425.8 136.6 L422.1 136.5 L418.4 136.4 L414.7 136.3 L411.1 136.3 L407.4 136.2 L403.7 136.1 L400 136.1 L396.4 136 L392.7 136 L389 136 L385.3 135.9 L381.7 135.9 L378 135.9 L374.3 135.9 M157.7 238.3 L161.4 237.7 L165 237.1 L168.7 236.5 L172.4 235.9 L176.1 235.3 L179.7 234.7 L183.4 234.2 L187.1 233.6 L190.7 233 L194.4 232.4 L198.1 231.8 L201.8 231.1 L205.4 230.5 L209.1 229.9 L212.8 229.2 L216.4 228.6 L220.1 227.9 L223.8 227.2 L227.5 226.5 L231.1 225.8 L234.8 225.1 L238.5 224.4 L242.1 223.7 L245.8 223 L249.5 222.3 L253.2 221.6 L256.8 221 L260.5 220.4 L264.2 219.8 L267.8 219.2 L271.5 218.7 L275.2 218.3 L278.8 217.8 L282.5 217.4 L286.2 217 L289.9 216.6 L293.5 216.3 L297.2 215.9 L300.9 215.6 L304.5 215.3 L308.2 215 L311.9 214.7 L315.6 214.4 L319.2 214.2 L322.9 213.9 L326.6 213.7 L330.2 213.5 L333.9 213.4 L337.6 213.3 L341.3 213.2 L344.9 213.2 L348.6 213.2 L352.3 213.3 L355.9 213.5 L359.6 213.6 L363.3 213.8 L367 214.1 L370.6 214.3 L374.3 214.6 M591.2 238.3 L587.5 237.7 L583.8 237.1 L580.2 236.5 L576.5 235.9 L572.8 235.3 L569.1 234.7 L565.5 234.2 L561.8 233.6 L558.1 233 L554.4 232.4 L550.8 231.8 L547.1 231.1 L543.4 230.5 L539.7 229.9 L536.1 229.2 L532.4 228.6 L528.7 227.9 L525 227.2 L521.4 226.5 L517.7 225.8 L514 225.1 L510.3 224.4 L506.6 223.7 L503 223 L499.3 222.3 L495.6 221.6 L491.9 221 L488.3 220.4 L484.6 219.8 L480.9 219.2 L477.2 218.7 L473.6 218.3 L469.9 217.8 L466.2 217.4 L462.5 217 L458.9 216.6 L455.2 216.3 L451.5 215.9 L447.8 215.6 L444.1 215.3 L440.5 215 L436.8 214.7 L433.1 214.4 L429.4 214.2 L425.8 213.9 L422.1 213.7 L418.4 213.5 L414.7 213.4 L411.1 213.3 L407.4 213.2 L403.7 213.2 L400 213.2 L396.4 213.3 L392.7 213.5 L389 213.6 L385.3 213.8 L381.7 214.1 L378 214.3 L374.3 214.6 M157.7 238.3 L161.4 239.6 L165 240.9 L168.7 242.2 L172.4 243.6 L176.1 245 L179.7 246.6 L183.4 248.2 L187.1 250 L190.7 251.9 L194.4 253.9 L198.1 256.2 L201.8 258.5 L205.4 261.1 L209.1 263.8 L212.8 266.7 L216.4 269.7 L220.1 272.9 L223.8 276.2 L227.5 279.6 L231.1 283.2 L234.8 286.7 L238.5 290.4 L242.1 294.1 L245.8 297.9 L249.5 301.8 L253.2 305.7 L256.8 309.7 L260.5 313.8 L264.2 317.9 L267.8 322.2 L271.5 326.5 L275.2 331 L278.8 335.5 L282.5 340.2 L286.2 344.9 L289.9 349.7 L293.5 354.4 L297.2 359.2 L300.9 363.9 L304.5 368.5 L308.2 373 L311.9 377.5 L315.6 381.8 L319.2 385.9 L322.9 389.9 L326.6 393.6 L330.2 397.2 L333.9 400.6 L337.6 403.9 L341.3 407 L344.9 409.9 L348.6 412.5 L352.3 414.8 L355.9 416.7 L359.6 418.1 L363.3 419 L367 419.5 L370.6 419.8 L374.3 420 M591.2 238.3 L587.5 239.6 L583.8 240.9 L580.2 242.2 L576.5 243.6 L572.8 245 L569.1 246.6 L565.5 248.2 L561.8 250 L558.1 251.9 L554.4 253.9 L550.8 256.2 L547.1 258.5 L543.4 261.1 L539.7 263.8 L536.1 266.7 L532.4 269.7 L528.7 272.9 L525 276.2 L521.4 279.6 L517.7 283.2 L514 286.7 L510.3 290.4 L506.6 294.1 L503 297.9 L499.3 301.8 L495.6 305.7 L491.9 309.7 L488.3 313.8 L484.6 317.9 L480.9 322.2 L477.2 326.5 L473.6 331 L469.9 335.5 L466.2 340.2 L462.5 344.9 L458.9 349.7 L455.2 354.4 L451.5 359.2 L447.8 363.9 L444.1 368.5 L440.5 373 L436.8 377.5 L433.1 381.8 L429.4 385.9 L425.8 389.9 L422.1 393.6 L418.4 397.2 L414.7 400.6 L411.1 403.9 L407.4 407 L403.7 409.9 L400 412.5 L396.4 414.8 L392.7 416.7 L389 418.1 L385.3 419 L381.7 419.5 L378 419.8 L374.3 420 M157.7 293.8 L161.4 293.8 L165 294 L168.7 294.2 L172.4 294.5 L176.1 294.9 L179.7 295.3 L183.4 295.8 L187.1 296.3 L190.7 296.9 L194.4 297.5 L198.1 298.1 L201.8 298.7 L205.4 299.3 L209.1 300 L212.8 300.6 L216.4 301.3 L220.1 302 L223.8 302.7 L227.5 303.5 L231.1 304.3 L234.8 305.2 L238.5 306.1 L242.1 307.1 L245.8 308.1 L249.5 309.2 L253.2 310.3 L256.8 311.5 L260.5 312.7 L264.2 314 L267.8 315.3 L271.5 316.6 L275.2 317.9 L278.8 319.2 L282.5 320.5 L286.2 321.9 L289.9 323.2 L293.5 324.5 L297.2 325.8 L300.9 327.1 L304.5 328.4 L308.2 329.7 L311.9 331 L315.6 332.3 L319.2 333.5 L322.9 334.9 L326.6 336.2 L330.2 337.5 L333.9 338.8 L337.6 340.1 L341.3 341.4 L344.9 342.5 L348.6 343.5 L352.3 344.2 L355.9 344.8 L359.6 345.1 L363.3 345.3 L367 345.4 L370.6 345.4 L374.3 345.4 M591.2 293.8 L587.5 293.8 L583.8 294 L580.2 294.2 L576.5 294.5 L572.8 294.9 L569.1 295.3 L565.5 295.8 L561.8 296.3 L558.1 296.9 L554.4 297.5 L550.8 298.1 L547.1 298.7 L543.4 299.3 L539.7 300 L536.1 300.6 L532.4 301.3 L528.7 302 L525 302.7 L521.4 303.5 L517.7 304.3 L514 305.2 L510.3 306.1 L506.6 307.1 L503 308.1 L499.3 309.2 L495.6 310.3 L491.9 311.5 L488.3 312.7 L484.6 314 L480.9 315.3 L477.2 316.6 L473.6 317.9 L469.9 319.2 L466.2 320.5 L462.5 321.9 L458.9 323.2 L455.2 324.5 L451.5 325.8 L447.8 327.1 L444.1 328.4 L440.5 329.7 L436.8 331 L433.1 332.3 L429.4 333.5 L425.8 334.9 L422.1 336.2 L418.4 337.5 L414.7 338.8 L411.1 340.1 L407.4 341.4 L403.7 342.5 L400 343.5 L396.4 344.2 L392.7 344.8 L389 345.1 L385.3 345.3 L381.7 345.4 L378 345.4 L374.3 345.4 M157.7 568.7 L161.4 562.1 L165 555.4 L168.7 548.5 L172.4 541.4 L176.1 534 L179.7 526.3 L183.4 518.2 L187.1 510 L190.7 501.9 L194.4 494 L198.1 486.4 L201.8 479.3 L205.4 472.6 L209.1 466.3 L212.8 460.2 L216.4 454.2 L220.1 448.1 L223.8 442 L227.5 435.8 L231.1 429.7 L234.8 423.6 L238.5 417.6 L242.1 411.9 L245.8 406.2 L249.5 400.5 L253.2 394.8 L256.8 388.8 L260.5 382.6 L264.2 376.4 L267.8 370.4 L271.5 364.7 L275.2 359.2 L278.8 353.9 L282.5 348.9 L286.2 344 L289.9 339.2 L293.5 334.6 L297.2 330.2 L300.9 325.9 L304.5 321.8 L308.2 317.8 L311.9 314 L315.6 310.3 L319.2 306.9 L322.9 303.7 L326.6 300.8 L330.2 298.2 L333.9 295.8 L337.6 293.8 L341.3 292 L344.9 290.5 L348.6 289.3 L352.3 288.3 L355.9 287.5 L359.6 286.9 L363.3 286.5 L367 286.3 L370.6 286.1 L374.3 286.1 M591.2 568.7 L587.5 562.1 L583.8 555.4 L580.2 548.5 L576.5 541.4 L572.8 534 L569.1 526.3 L565.5 518.2 L561.8 510 L558.1 501.9 L554.4 494 L550.8 486.4 L547.1 479.3 L543.4 472.6 L539.7 466.3 L536.1 460.2 L532.4 454.2 L528.7 448.1 L525 442 L521.4 435.8 L517.7 429.7 L514 423.6 L510.3 417.6 L506.6 411.9 L503 406.2 L499.3 400.5 L495.6 394.8 L491.9 388.8 L488.3 382.6 L484.6 376.4 L480.9 370.4 L477.2 364.7 L473.6 359.2 L469.9 353.9 L466.2 348.9 L462.5 344 L458.9 339.2 L455.2 334.6 L451.5 330.2 L447.8 325.9 L444.1 321.8 L440.5 317.8 L436.8 314 L433.1 310.3 L429.4 306.9 L425.8 303.7 L422.1 300.8 L418.4 298.2 L414.7 295.8 L411.1 293.8 L407.4 292 L403.7 290.5 L400 289.3 L396.4 288.3 L392.7 287.5 L389 286.9 L385.3 286.5 L381.7 286.3 L378 286.1 L374.3 286.1 M157.7 568.7 L161.4 565 L165 561.4 L168.7 557.7 L172.4 554.1 L176.1 550.5 L179.7 546.9 L183.4 543.4 L187.1 539.8 L190.7 536.4 L194.4 532.9 L198.1 529.5 L201.8 526.1 L205.4 522.7 L209.1 519.3 L212.8 515.9 L216.4 512.5 L220.1 509 L223.8 505.4 L227.5 501.9 L231.1 498.2 L234.8 494.5 L238.5 490.7 L242.1 486.9 L245.8 483.1 L249.5 479.3 L253.2 475.5 L256.8 471.8 L260.5 468.1 L264.2 464.6 L267.8 461.1 L271.5 457.6 L275.2 454.3 L278.8 451 L282.5 447.8 L286.2 444.6 L289.9 441.6 L293.5 438.5 L297.2 435.6 L300.9 432.6 L304.5 429.7 L308.2 426.8 L311.9 423.9 L315.6 421.1 L319.2 418.3 L322.9 415.6 L326.6 412.9 L330.2 410.4 L333.9 408.1 L337.6 405.8 L341.3 403.8 L344.9 402 L348.6 400.3 L352.3 398.9 L355.9 397.8 L359.6 396.8 L363.3 396.1 L367 395.7 L370.6 395.4 L374.3 395.3 M591.2 568.7 L587.5 564.9 L583.8 561.1 L580.2 557.2 L576.5 553.4 L572.8 549.6 L569.1 545.8 L565.5 542 L561.8 538.1 L558.1 534.3 L554.4 530.5 L550.8 526.7 L547.1 523 L543.4 519.2 L539.7 515.4 L536.1 511.6 L532.4 507.8 L528.7 504.1 L525 500.3 L521.4 496.5 L517.7 492.7 L514 488.8 L510.3 485 L506.6 481.1 L503 477.2 L499.3 473.4 L495.6 469.6 L491.9 465.9 L488.3 462.4 L484.6 459.1 L480.9 455.9 L477.2 452.9 L473.6 449.9 L469.9 446.9 L466.2 443.9 L462.5 440.8 L458.9 437.7 L455.2 434.6 L451.5 431.5 L447.8 428.4 L444.1 425.5 L440.5 422.5 L436.8 419.7 L433.1 417 L429.4 414.3 L425.8 411.8 L422.1 409.4 L418.4 407.2 L414.7 405.2 L411.1 403.3 L407.4 401.6 L403.7 400.1 L400 398.8 L396.4 397.8 L392.7 397 L389 396.3 L385.3 395.8 L381.7 395.5 L378 395.4 L374.3 395.3 M591.2 143.4 L594.4 143.4 L597.6 143.6 L600.8 143.8 L604 144.1 L607.2 144.4 L610.4 144.8 L613.6 145.3 L616.8 145.9 L620 146.4 L623.2 147.1 L626.4 147.8 L629.6 148.5 L632.8 149.2 L636 150 L639.1 150.8 L642.3 151.6 L645.5 152.4 L648.7 153.3 L651.9 154.2 L655.1 155.2 L658.3 156.2 L661.5 157.4 L664.7 158.6 L667.9 159.9 L671.1 161.3 L674.3 162.9 L677.5 164.5 L680.7 166.3 L683.9 168.1 L687.1 170 L690.3 172 L693.5 174 L696.7 176.1 L699.9 178.2 L703.1 180.4 L706.3 182.5 L709.5 184.7 L712.7 186.9 L715.9 189.1 L719.1 191.3 L722.3 193.5 L725.5 195.6 L728.7 197.7 L731.9 199.7 L735 201.7 L738.2 203.7 L741.4 205.6 L744.6 207.5 L747.8 209.4 L751 211.2 L754.2 213 L757.4 214.7 L760.6 216.5 L763.8 218.1 L767 219.6 L770.2 220.9 L773.4 222 L776.6 222.7 L779.8 223 M591.2 238.3 L594.4 238.3 L597.6 238.5 L600.8 238.7 L604 238.9 L607.2 239.2 L610.4 239.6 L613.6 240 L616.8 240.4 L620 240.8 L623.2 241.2 L626.4 241.7 L629.6 242.1 L632.8 242.5 L636 242.9 L639.1 243.2 L642.3 243.6 L645.5 243.9 L648.7 244.2 L651.9 244.6 L655.1 244.9 L658.3 245.2 L661.5 245.5 L664.7 245.8 L667.9 246.1 L671.1 246.4 L674.3 246.7 L677.5 247 L680.7 247.4 L683.9 247.7 L687.1 248.1 L690.3 248.4 L693.5 248.8 L696.7 249.2 L699.9 249.5 L703.1 249.9 L706.3 250.2 L709.5 250.4 L712.7 250.6 L715.9 250.7 L719.1 250.8 L722.3 250.7 L725.5 250.5 L728.7 250.2 L731.9 249.8 L735 249.2 L738.2 248.5 L741.4 247.8 L744.6 246.9 L747.8 245.9 L751 244.9 L754.2 243.8 L757.4 242.7 L760.6 241.6 L763.8 240.4 L767 239.3 L770.2 238.2 L773.4 237.2 L776.6 236.4 L779.8 236 M591.2 238.3 L594.4 238.4 L597.6 238.6 L600.8 238.9 L604 239.4 L607.2 239.9 L610.4 240.6 L613.6 241.3 L616.8 242.2 L620 243 L623.2 244 L626.4 245 L629.6 246 L632.8 247 L636 248.1 L639.1 249.2 L642.3 250.2 L645.5 251.3 L648.7 252.3 L651.9 253.3 L655.1 254.2 L658.3 255.2 L661.5 256.1 L664.7 256.9 L667.9 257.7 L671.1 258.5 L674.3 259.3 L677.5 260.1 L680.7 260.8 L683.9 261.5 L687.1 262.2 L690.3 262.8 L693.5 263.4 L696.7 264.1 L699.9 264.6 L703.1 265.2 L706.3 265.8 L709.5 266.3 L712.7 266.8 L715.9 267.3 L719.1 267.8 L722.3 268.3 L725.5 268.8 L728.7 269.3 L731.9 269.8 L735 270.4 L738.2 270.9 L741.4 271.4 L744.6 271.9 L747.8 272.5 L751 273 L754.2 273.5 L757.4 274 L760.6 274.5 L763.8 274.9 L767 275.3 L770.2 275.6 L773.4 275.8 L776.6 275.9 L779.8 276 M591.2 293.3 L594.4 293.3 L597.6 293.3 L600.8 293.3 L604 293.3 L607.2 293.3 L610.4 293.3 L613.6 293.3 L616.8 293.4 L620 293.4 L623.2 293.4 L626.4 293.4 L629.6 293.4 L632.8 293.4 L636 293.4 L639.1 293.4 L642.3 293.4 L645.5 293.4 L648.7 293.4 L651.9 293.5 L655.1 293.5 L658.3 293.5 L661.5 293.5 L664.7 293.4 L667.9 293.4 L671.1 293.4 L674.3 293.4 L677.5 293.4 L680.7 293.4 L683.9 293.4 L687.1 293.3 L690.3 293.3 L693.5 293.3 L696.7 293.2 L699.9 293.2 L703.1 293.1 L706.3 293.1 L709.5 293 L712.7 293 L715.9 292.9 L719.1 292.9 L722.3 292.8 L725.5 292.8 L728.7 292.7 L731.9 292.7 L735 292.6 L738.2 292.6 L741.4 292.5 L744.6 292.5 L747.8 292.4 L751 292.4 L754.2 292.4 L757.4 292.3 L760.6 292.3 L763.8 292.3 L767 292.2 L770.2 292.2 L773.4 292.2 L776.6 292.2 L779.8 292.2 M591.2 568.7 L594.4 563.5 L597.6 558.3 L600.8 553.1 L604 547.9 L607.2 542.5 L610.4 537.2 L613.6 531.7 L616.8 526.3 L620 520.8 L623.2 515.5 L626.4 510.2 L629.6 505.1 L632.8 500.1 L636 495.1 L639.1 490.1 L642.3 485.1 L645.5 479.9 L648.7 474.6 L651.9 469.2 L655.1 463.7 L658.3 458.2 L661.5 452.8 L664.7 447.6 L667.9 442.6 L671.1 437.8 L674.3 433.1 L677.5 428.5 L680.7 423.9 L683.9 419.2 L687.1 414.4 L690.3 409.4 L693.5 404.3 L696.7 399.1 L699.9 394 L703.1 389 L706.3 384.1 L709.5 379.4 L712.7 374.8 L715.9 370.4 L719.1 366.1 L722.3 361.8 L725.5 357.7 L728.7 353.5 L731.9 349.5 L735 345.6 L738.2 341.9 L741.4 338.4 L744.6 335.1 L747.8 332.1 L751 329.4 L754.2 326.8 L757.4 324.4 L760.6 322.2 L763.8 320.1 L767 318.1 L770.2 316.3 L773.4 314.8 L776.6 313.9 L779.8 313.5 M591.2 568.7 L594.4 564.6 L597.6 560.5 L600.8 556.5 L604 552.4 L607.2 548.5 L610.4 544.6 L613.6 540.8 L616.8 537 L620 533.3 L623.2 529.6 L626.4 525.9 L629.6 522.2 L632.8 518.4 L636 514.7 L639.1 511 L642.3 507.2 L645.5 503.4 L648.7 499.6 L651.9 495.9 L655.1 492.1 L658.3 488.3 L661.5 484.6 L664.7 480.9 L667.9 477.3 L671.1 473.7 L674.3 470.2 L677.5 466.7 L680.7 463.4 L683.9 460.2 L687.1 457.1 L690.3 454.1 L693.5 451.2 L696.7 448.4 L699.9 445.7 L703.1 443 L706.3 440.4 L709.5 437.7 L712.7 435.1 L715.9 432.6 L719.1 430.1 L722.3 427.8 L725.5 425.5 L728.7 423.4 L731.9 421.4 L735 419.5 L738.2 417.7 L741.4 416 L744.6 414.4 L747.8 412.9 L751 411.4 L754.2 410.1 L757.4 408.9 L760.6 407.9 L763.8 407 L767 406.3 L770.2 405.8 L773.4 405.4 L776.6 405.2 L779.8 405.1" stroke="#fee237" stroke-width="5.4" fill="none" stroke-linejoin="round" stroke-linecap="butt" clip-path="url(#cb0)"/>
<path d="M157.7 135.2 L161.4 135.2 L165 135.2 L168.7 135.2 L172.4 135.2 L176.1 135.2 L179.7 135.2 L183.4 135.2 L187.1 135.1 L190.7 135.1 L194.4 135.1 L198.1 135.1 L201.8 135 L205.4 135 L209.1 134.9 L212.8 134.8 L216.4 134.8 L220.1 134.7 L223.8 134.6 L227.5 134.5 L231.1 134.3 L234.8 134.2 L238.5 134.1 L242.1 133.9 L245.8 133.8 L249.5 133.6 L253.2 133.4 L256.8 133.3 L260.5 133.1 L264.2 132.9 L267.8 132.8 L271.5 132.6 L275.2 132.5 L278.8 132.3 L282.5 132.2 L286.2 132.1 L289.9 131.9 L293.5 131.8 L297.2 131.7 L300.9 131.6 L304.5 131.5 L308.2 131.4 L311.9 131.4 L315.6 131.3 L319.2 131.2 L322.9 131.2 L326.6 131.1 L330.2 131.1 L333.9 131 L337.6 131 L341.3 131 L344.9 131 L348.6 130.9 L352.3 130.9 L355.9 130.9 L359.6 130.9 L363.3 130.9 L367 130.9 L370.6 130.9 L374.3 130.9 M591.2 135.2 L587.5 135.2 L583.8 135.2 L580.2 135.2 L576.5 135.2 L572.8 135.2 L569.1 135.2 L565.5 135.2 L561.8 135.1 L558.1 135.1 L554.4 135.1 L550.8 135.1 L547.1 135 L543.4 135 L539.7 134.9 L536.1 134.8 L532.4 134.8 L528.7 134.7 L525 134.6 L521.4 134.5 L517.7 134.3 L514 134.2 L510.3 134.1 L506.6 133.9 L503 133.8 L499.3 133.6 L495.6 133.4 L491.9 133.3 L488.3 133.1 L484.6 132.9 L480.9 132.8 L477.2 132.6 L473.6 132.5 L469.9 132.3 L466.2 132.2 L462.5 132.1 L458.9 131.9 L455.2 131.8 L451.5 131.7 L447.8 131.6 L444.1 131.5 L440.5 131.4 L436.8 131.4 L433.1 131.3 L429.4 131.2 L425.8 131.2 L422.1 131.1 L418.4 131.1 L414.7 131 L411.1 131 L407.4 131 L403.7 131 L400 130.9 L396.4 130.9 L392.7 130.9 L389 130.9 L385.3 130.9 L381.7 130.9 L378 130.9 L374.3 130.9 M157.7 248.4 L161.4 247.6 L165 246.8 L168.7 245.9 L172.4 245.1 L176.1 244.3 L179.7 243.5 L183.4 242.6 L187.1 241.8 L190.7 241 L194.4 240.1 L198.1 239.3 L201.8 238.4 L205.4 237.6 L209.1 236.7 L212.8 235.8 L216.4 234.9 L220.1 234 L223.8 233.1 L227.5 232.1 L231.1 231.2 L234.8 230.2 L238.5 229.2 L242.1 228.3 L245.8 227.3 L249.5 226.4 L253.2 225.4 L256.8 224.5 L260.5 223.7 L264.2 222.8 L267.8 222 L271.5 221.2 L275.2 220.5 L278.8 219.8 L282.5 219.1 L286.2 218.4 L289.9 217.8 L293.5 217.1 L297.2 216.5 L300.9 215.9 L304.5 215.3 L308.2 214.8 L311.9 214.2 L315.6 213.6 L319.2 213.1 L322.9 212.6 L326.6 212.1 L330.2 211.6 L333.9 211.2 L337.6 210.8 L341.3 210.4 L344.9 210.2 L348.6 209.9 L352.3 209.7 L355.9 209.6 L359.6 209.5 L363.3 209.4 L367 209.3 L370.6 209.3 L374.3 209.3 M591.2 248.4 L587.5 247.6 L583.8 246.8 L580.2 245.9 L576.5 245.1 L572.8 244.3 L569.1 243.5 L565.5 242.6 L561.8 241.8 L558.1 241 L554.4 240.1 L550.8 239.3 L547.1 238.4 L543.4 237.6 L539.7 236.7 L536.1 235.8 L532.4 234.9 L528.7 234 L525 233.1 L521.4 232.1 L517.7 231.2 L514 230.2 L510.3 229.2 L506.6 228.3 L503 227.3 L499.3 226.4 L495.6 225.4 L491.9 224.5 L488.3 223.7 L484.6 222.8 L480.9 222 L477.2 221.2 L473.6 220.5 L469.9 219.8 L466.2 219.1 L462.5 218.4 L458.9 217.8 L455.2 217.1 L451.5 216.5 L447.8 215.9 L444.1 215.3 L440.5 214.8 L436.8 214.2 L433.1 213.6 L429.4 213.1 L425.8 212.6 L422.1 212.1 L418.4 211.6 L414.7 211.2 L411.1 210.8 L407.4 210.4 L403.7 210.2 L400 209.9 L396.4 209.7 L392.7 209.6 L389 209.5 L385.3 209.4 L381.7 209.3 L378 209.3 L374.3 209.3 M157.7 248.4 L161.4 249.2 L165 250 L168.7 250.8 L172.4 251.7 L176.1 252.7 L179.7 253.7 L183.4 254.9 L187.1 256.1 L190.7 257.6 L194.4 259.1 L198.1 260.8 L201.8 262.7 L205.4 264.8 L209.1 267 L212.8 269.4 L216.4 272 L220.1 274.8 L223.8 277.6 L227.5 280.6 L231.1 283.7 L234.8 286.9 L238.5 290.1 L242.1 293.4 L245.8 296.8 L249.5 300.3 L253.2 303.8 L256.8 307.5 L260.5 311.2 L264.2 315 L267.8 319 L271.5 323 L275.2 327.1 L278.8 331.4 L282.5 335.8 L286.2 340.3 L289.9 344.8 L293.5 349.3 L297.2 353.9 L300.9 358.3 L304.5 362.8 L308.2 367.2 L311.9 371.4 L315.6 375.5 L319.2 379.5 L322.9 383.3 L326.6 387 L330.2 390.4 L333.9 393.7 L337.6 396.8 L341.3 399.8 L344.9 402.5 L348.6 405.1 L352.3 407.2 L355.9 409 L359.6 410.2 L363.3 410.9 L367 411.2 L370.6 411.2 L374.3 411.2 M591.2 248.4 L587.5 249.2 L583.8 250 L580.2 250.8 L576.5 251.7 L572.8 252.7 L569.1 253.7 L565.5 254.9 L561.8 256.1 L558.1 257.6 L554.4 259.1 L550.8 260.8 L547.1 262.7 L543.4 264.8 L539.7 267 L536.1 269.4 L532.4 272 L528.7 274.8 L525 277.6 L521.4 280.6 L517.7 283.7 L514 286.9 L510.3 290.1 L506.6 293.4 L503 296.8 L499.3 300.3 L495.6 303.8 L491.9 307.5 L488.3 311.2 L484.6 315 L480.9 319 L477.2 323 L473.6 327.1 L469.9 331.4 L466.2 335.8 L462.5 340.3 L458.9 344.8 L455.2 349.3 L451.5 353.9 L447.8 358.3 L444.1 362.8 L440.5 367.2 L436.8 371.4 L433.1 375.5 L429.4 379.5 L425.8 383.3 L422.1 387 L418.4 390.4 L414.7 393.7 L411.1 396.8 L407.4 399.8 L403.7 402.5 L400 405.1 L396.4 407.2 L392.7 409 L389 410.2 L385.3 410.9 L381.7 411.2 L378 411.2 L374.3 411.2 M157.7 290.5 L161.4 290.5 L165 290.7 L168.7 290.9 L172.4 291.2 L176.1 291.6 L179.7 292 L183.4 292.5 L187.1 293 L190.7 293.6 L194.4 294.2 L198.1 294.8 L201.8 295.4 L205.4 296 L209.1 296.6 L212.8 297.3 L216.4 297.9 L220.1 298.6 L223.8 299.4 L227.5 300.1 L231.1 300.9 L234.8 301.8 L238.5 302.7 L242.1 303.7 L245.8 304.7 L249.5 305.8 L253.2 306.9 L256.8 308.1 L260.5 309.3 L264.2 310.6 L267.8 311.9 L271.5 313.2 L275.2 314.5 L278.8 315.8 L282.5 317.1 L286.2 318.5 L289.9 319.8 L293.5 321.1 L297.2 322.4 L300.9 323.7 L304.5 325 L308.2 326.3 L311.9 327.6 L315.6 328.9 L319.2 330.2 L322.9 331.5 L326.6 332.8 L330.2 334.1 L333.9 335.5 L337.6 336.8 L341.3 338 L344.9 339.2 L348.6 340.2 L352.3 340.9 L355.9 341.5 L359.6 341.8 L363.3 342 L367 342.1 L370.6 342.1 L374.3 342.1 M591.2 290.5 L587.5 290.5 L583.8 290.7 L580.2 290.9 L576.5 291.2 L572.8 291.6 L569.1 292 L565.5 292.5 L561.8 293 L558.1 293.6 L554.4 294.2 L550.8 294.8 L547.1 295.4 L543.4 296 L539.7 296.6 L536.1 297.3 L532.4 297.9 L528.7 298.6 L525 299.4 L521.4 300.1 L517.7 300.9 L514 301.8 L510.3 302.7 L506.6 303.7 L503 304.7 L499.3 305.8 L495.6 306.9 L491.9 308.1 L488.3 309.3 L484.6 310.6 L480.9 311.9 L477.2 313.2 L473.6 314.5 L469.9 315.8 L466.2 317.1 L462.5 318.5 L458.9 319.8 L455.2 321.1 L451.5 322.4 L447.8 323.7 L444.1 325 L440.5 326.3 L436.8 327.6 L433.1 328.9 L429.4 330.2 L425.8 331.5 L422.1 332.8 L418.4 334.1 L414.7 335.5 L411.1 336.8 L407.4 338 L403.7 339.2 L400 340.2 L396.4 340.9 L392.7 341.5 L389 341.8 L385.3 342 L381.7 342.1 L378 342.1 L374.3 342.1 M157.7 568.7 L161.4 561.9 L165 555.1 L168.7 548.1 L172.4 540.9 L176.1 533.4 L179.7 525.4 L183.4 517.2 L187.1 508.9 L190.7 500.6 L194.4 492.5 L198.1 484.8 L201.8 477.5 L205.4 470.7 L209.1 464.3 L212.8 458.1 L216.4 451.9 L220.1 445.8 L223.8 439.5 L227.5 433.2 L231.1 427 L234.8 420.8 L238.5 414.7 L242.1 408.8 L245.8 403 L249.5 397.3 L253.2 391.4 L256.8 385.3 L260.5 378.9 L264.2 372.6 L267.8 366.5 L271.5 360.7 L275.2 355.1 L278.8 349.7 L282.5 344.6 L286.2 339.6 L289.9 334.8 L293.5 330.1 L297.2 325.5 L300.9 321.2 L304.5 316.9 L308.2 312.9 L311.9 309 L315.6 305.3 L319.2 301.8 L322.9 298.6 L326.6 295.6 L330.2 292.9 L333.9 290.5 L337.6 288.4 L341.3 286.6 L344.9 285.1 L348.6 283.9 L352.3 282.8 L355.9 282 L359.6 281.5 L363.3 281 L367 280.8 L370.6 280.6 L374.3 280.6 M591.2 568.7 L587.5 561.9 L583.8 555.1 L580.2 548.1 L576.5 540.9 L572.8 533.4 L569.1 525.4 L565.5 517.2 L561.8 508.9 L558.1 500.6 L554.4 492.5 L550.8 484.8 L547.1 477.5 L543.4 470.7 L539.7 464.3 L536.1 458.1 L532.4 451.9 L528.7 445.8 L525 439.5 L521.4 433.2 L517.7 427 L514 420.8 L510.3 414.7 L506.6 408.8 L503 403 L499.3 397.3 L495.6 391.4 L491.9 385.3 L488.3 378.9 L484.6 372.6 L480.9 366.5 L477.2 360.7 L473.6 355.1 L469.9 349.7 L466.2 344.6 L462.5 339.6 L458.9 334.8 L455.2 330.1 L451.5 325.5 L447.8 321.2 L444.1 316.9 L440.5 312.9 L436.8 309 L433.1 305.3 L429.4 301.8 L425.8 298.6 L422.1 295.6 L418.4 292.9 L414.7 290.5 L411.1 288.4 L407.4 286.6 L403.7 285.1 L400 283.9 L396.4 282.8 L392.7 282 L389 281.5 L385.3 281 L381.7 280.8 L378 280.6 L374.3 280.6 M157.7 568.7 L161.4 564.9 L165 561.1 L168.7 557.4 L172.4 553.6 L176.1 549.9 L179.7 546.2 L183.4 542.6 L187.1 538.9 L190.7 535.4 L194.4 531.8 L198.1 528.3 L201.8 524.8 L205.4 521.3 L209.1 517.8 L212.8 514.3 L216.4 510.7 L220.1 507.1 L223.8 503.5 L227.5 499.8 L231.1 496 L234.8 492.1 L238.5 488.3 L242.1 484.3 L245.8 480.4 L249.5 476.5 L253.2 472.6 L256.8 468.8 L260.5 465 L264.2 461.3 L267.8 457.7 L271.5 454.2 L275.2 450.7 L278.8 447.3 L282.5 444 L286.2 440.8 L289.9 437.6 L293.5 434.5 L297.2 431.4 L300.9 428.4 L304.5 425.4 L308.2 422.4 L311.9 419.4 L315.6 416.5 L319.2 413.6 L322.9 410.8 L326.6 408.1 L330.2 405.5 L333.9 403.1 L337.6 400.8 L341.3 398.7 L344.9 396.8 L348.6 395.1 L352.3 393.6 L355.9 392.4 L359.6 391.5 L363.3 390.8 L367 390.3 L370.6 390 L374.3 389.9 M591.2 568.7 L587.5 564.8 L583.8 560.8 L580.2 556.9 L576.5 552.9 L572.8 549 L569.1 545 L565.5 541.1 L561.8 537.2 L558.1 533.3 L554.4 529.3 L550.8 525.4 L547.1 521.5 L543.4 517.6 L539.7 513.7 L536.1 509.8 L532.4 505.9 L528.7 502 L525 498.1 L521.4 494.2 L517.7 490.3 L514 486.3 L510.3 482.4 L506.6 478.4 L503 474.4 L499.3 470.4 L495.6 466.5 L491.9 462.7 L488.3 459 L484.6 455.6 L480.9 452.4 L477.2 449.3 L473.6 446.2 L469.9 443.1 L466.2 440 L462.5 436.8 L458.9 433.6 L455.2 430.4 L451.5 427.2 L447.8 424.1 L444.1 421 L440.5 418 L436.8 415.1 L433.1 412.2 L429.4 409.5 L425.8 406.9 L422.1 404.5 L418.4 402.2 L414.7 400.1 L411.1 398.1 L407.4 396.4 L403.7 394.8 L400 393.5 L396.4 392.5 L392.7 391.6 L389 390.9 L385.3 390.5 L381.7 390.1 L378 390 L374.3 389.9 M591.2 135.2 L594.4 135.2 L597.6 135.3 L600.8 135.4 L604 135.6 L607.2 135.9 L610.4 136.2 L613.6 136.6 L616.8 137 L620 137.5 L623.2 138.1 L626.4 138.7 L629.6 139.4 L632.8 140.2 L636 141 L639.1 142 L642.3 142.9 L645.5 144 L648.7 145.1 L651.9 146.2 L655.1 147.5 L658.3 148.8 L661.5 150.2 L664.7 151.6 L667.9 153.2 L671.1 154.8 L674.3 156.4 L677.5 158.1 L680.7 159.8 L683.9 161.6 L687.1 163.4 L690.3 165.3 L693.5 167.1 L696.7 169 L699.9 170.9 L703.1 172.8 L706.3 174.7 L709.5 176.6 L712.7 178.5 L715.9 180.4 L719.1 182.4 L722.3 184.4 L725.5 186.5 L728.7 188.6 L731.9 190.8 L735 193 L738.2 195.3 L741.4 197.7 L744.6 200.2 L747.8 202.7 L751 205.3 L754.2 207.8 L757.4 210.3 L760.6 212.6 L763.8 214.9 L767 217 L770.2 218.9 L773.4 220.6 L776.6 221.7 L779.8 222.2 M591.2 248.4 L594.4 248.4 L597.6 248.3 L600.8 248.3 L604 248.1 L607.2 248 L610.4 247.9 L613.6 247.7 L616.8 247.5 L620 247.3 L623.2 247.1 L626.4 246.8 L629.6 246.6 L632.8 246.4 L636 246.2 L639.1 245.9 L642.3 245.7 L645.5 245.4 L648.7 245.2 L651.9 245 L655.1 244.7 L658.3 244.5 L661.5 244.2 L664.7 244 L667.9 243.8 L671.1 243.5 L674.3 243.3 L677.5 243.1 L680.7 242.8 L683.9 242.6 L687.1 242.4 L690.3 242.1 L693.5 241.9 L696.7 241.6 L699.9 241.4 L703.1 241.1 L706.3 240.8 L709.5 240.6 L712.7 240.3 L715.9 240 L719.1 239.6 L722.3 239.3 L725.5 238.9 L728.7 238.6 L731.9 238.1 L735 237.7 L738.2 237.1 L741.4 236.5 L744.6 235.8 L747.8 234.9 L751 233.8 L754.2 232.6 L757.4 231.1 L760.6 229.5 L763.8 227.7 L767 225.9 L770.2 224.4 L773.4 223.3 L776.6 222.6 L779.8 222.5 M591.2 248.4 L594.4 248.4 L597.6 248.5 L600.8 248.6 L604 248.8 L607.2 249.1 L610.4 249.3 L613.6 249.6 L616.8 250 L620 250.3 L623.2 250.7 L626.4 251.1 L629.6 251.5 L632.8 251.9 L636 252.4 L639.1 252.8 L642.3 253.2 L645.5 253.7 L648.7 254.1 L651.9 254.5 L655.1 254.9 L658.3 255.3 L661.5 255.6 L664.7 256 L667.9 256.4 L671.1 256.8 L674.3 257.1 L677.5 257.5 L680.7 257.9 L683.9 258.3 L687.1 258.6 L690.3 259 L693.5 259.4 L696.7 259.8 L699.9 260.2 L703.1 260.6 L706.3 261.1 L709.5 261.5 L712.7 262 L715.9 262.5 L719.1 263 L722.3 263.5 L725.5 264.1 L728.7 264.7 L731.9 265.3 L735 266 L738.2 266.7 L741.4 267.5 L744.6 268.2 L747.8 269 L751 269.7 L754.2 270.4 L757.4 271 L760.6 271.6 L763.8 272.1 L767 272.5 L770.2 272.7 L773.4 272.9 L776.6 273 L779.8 273 M591.2 289.4 L594.4 289.4 L597.6 289.4 L600.8 289.4 L604 289.4 L607.2 289.4 L610.4 289.4 L613.6 289.4 L616.8 289.4 L620 289.4 L623.2 289.4 L626.4 289.4 L629.6 289.4 L632.8 289.4 L636 289.4 L639.1 289.4 L642.3 289.4 L645.5 289.4 L648.7 289.4 L651.9 289.4 L655.1 289.4 L658.3 289.4 L661.5 289.4 L664.7 289.4 L667.9 289.4 L671.1 289.3 L674.3 289.3 L677.5 289.3 L680.7 289.3 L683.9 289.2 L687.1 289.2 L690.3 289.1 L693.5 289.1 L696.7 289 L699.9 289 L703.1 288.9 L706.3 288.9 L709.5 288.8 L712.7 288.7 L715.9 288.7 L719.1 288.6 L722.3 288.6 L725.5 288.5 L728.7 288.4 L731.9 288.4 L735 288.3 L738.2 288.2 L741.4 288.2 L744.6 288.1 L747.8 288.1 L751 288 L754.2 288 L757.4 287.9 L760.6 287.9 L763.8 287.9 L767 287.9 L770.2 287.8 L773.4 287.8 L776.6 287.8 L779.8 287.8 M591.2 568.7 L594.4 563.5 L597.6 558.2 L600.8 552.9 L604 547.6 L607.2 542.2 L610.4 536.8 L613.6 531.3 L616.8 525.8 L620 520.3 L623.2 514.9 L626.4 509.5 L629.6 504.4 L632.8 499.3 L636 494.2 L639.1 489.2 L642.3 484.1 L645.5 478.9 L648.7 473.5 L651.9 468 L655.1 462.5 L658.3 456.9 L661.5 451.5 L664.7 446.2 L667.9 441.1 L671.1 436.2 L674.3 431.5 L677.5 426.9 L680.7 422.2 L683.9 417.5 L687.1 412.6 L690.3 407.5 L693.5 402.3 L696.7 397.1 L699.9 391.9 L703.1 386.8 L706.3 381.9 L709.5 377.1 L712.7 372.5 L715.9 368 L719.1 363.7 L722.3 359.4 L725.5 355.2 L728.7 351 L731.9 346.9 L735 343 L738.2 339.2 L741.4 335.7 L744.6 332.4 L747.8 329.3 L751 326.5 L754.2 324 L757.4 321.6 L760.6 319.3 L763.8 317.2 L767 315.1 L770.2 313.3 L773.4 311.8 L776.6 310.9 L779.8 310.5 M591.2 568.7 L594.4 564.5 L597.6 560.3 L600.8 556.2 L604 552 L607.2 548 L610.4 544 L613.6 540.1 L616.8 536.3 L620 532.4 L623.2 528.7 L626.4 524.9 L629.6 521.1 L632.8 517.2 L636 513.4 L639.1 509.6 L642.3 505.7 L645.5 501.9 L648.7 498 L651.9 494.1 L655.1 490.2 L658.3 486.4 L661.5 482.6 L664.7 478.8 L667.9 475.1 L671.1 471.4 L674.3 467.8 L677.5 464.3 L680.7 460.9 L683.9 457.6 L687.1 454.4 L690.3 451.4 L693.5 448.4 L696.7 445.6 L699.9 442.8 L703.1 440 L706.3 437.3 L709.5 434.6 L712.7 431.9 L715.9 429.3 L719.1 426.8 L722.3 424.4 L725.5 422.1 L728.7 419.9 L731.9 417.9 L735 415.9 L738.2 414.1 L741.4 412.4 L744.6 410.7 L747.8 409.2 L751 407.7 L754.2 406.3 L757.4 405.1 L760.6 404 L763.8 403.1 L767 402.4 L770.2 401.9 L773.4 401.5 L776.6 401.3 L779.8 401.2" stroke="#44f3f7" stroke-width="5.4" fill="none" stroke-linejoin="round" stroke-linecap="butt" clip-path="url(#cb0)"/>
<path d="M780 120.5 L781.5 127.4 L789.7 130.8 L797.9 134.3 L804.9 142.4 L813.1 152.8 L821.3 158.6 L830.7 160.9 L840.1 159.2 L827.2 164.5 L824.8 172.5 L822.5 179.5 L816.6 186.5 L815.5 193.4 L820.2 200.4 L830.7 203.9 L848.3 207.4 L869.3 209.6 L888.1 212.6 L862.3 214.3 L852.5 220 L846.3 228.2 L844.2 240.5 L840 252.8 L838 261 L844.2 267.1 L819.4 272.3 L807 273.3 L840 275.4 L906.2 276.4 L860.7 281.5 L871.1 285.6 L902.1 291.7 L976.5 291.7 L922.8 295.9 L906.2 302 L891.8 310.1 L885.5 316.4 L893.8 324.5 L922.8 328.6 L970.3 329.6 L881.4 331.7 L850.4 334.8 L846.3 338.5 L860.7 343.7 L850.4 346.7 L838 350.8 L829.7 356.9 L817.3 363.1 L815.2 369.2 L825.6 374.4 L846.3 377.4 L856.6 383.6 L873.1 388.7 L885.5 393.8 L889.7 402 L873.1 408.1 L844.2 411.2 L825.6 416.3 L813.2 426.5 L802.8 440.9 L794.5 459.3 L788.3 479.8 L784 510.6 L781.5 540.3 L780 568" stroke="#a400da" stroke-width="5.4" fill="none" stroke-linejoin="round" clip-path="url(#cd0)"/>
<path d="M780 145.4 L781.5 151.9 L789.7 155.2 L797.9 158.4 L804.9 166.1 L813.1 175.9 L821.3 181.4 L830.7 183.6 L840.1 182 L827.2 187 L824.8 194.5 L822.5 201.2 L816.6 207.7 L815.5 214.3 L820.2 220.9 L830.7 224.2 L848.3 227.4 L869.3 229.6 L888.1 232.4 L862.3 234 L852.5 239.4 L846.3 247.2 L844.2 258.8 L840 270.4 L838 278.1 L844.2 283.9 L819.4 288.8 L807 289.7 L840 291.7 L906.2 292.6 L860.7 297.5 L871.1 301.3 L902.1 307.1 L976.5 307.1 L922.8 311 L906.2 316.8 L891.8 324.5 L885.5 330.4 L893.8 338.1 L922.8 342 L970.3 342.9 L881.4 344.9 L850.4 347.8 L846.3 351.3 L860.7 356.2 L850.4 359.1 L838 362.9 L829.7 368.7 L817.3 374.5 L815.2 380.3 L825.6 385.2 L846.3 388.1 L856.6 393.9 L873.1 398.7 L885.5 403.5 L889.7 411.3 L873.1 417.1 L844.2 420 L825.6 424.8 L813.2 434.5 L802.8 448 L794.5 465.4 L788.3 484.8 L784 513.8 L781.5 541.9 L780 568.1" stroke="#fb9bd9" stroke-width="5.4" fill="none" stroke-linejoin="round" clip-path="url(#cd0)"/>
<path d="M780 138.7 L781.5 145.2 L789.7 148.5 L797.9 151.9 L804.9 159.6 L813.1 169.6 L821.3 175.2 L830.7 177.4 L840.1 175.8 L827.2 180.8 L824.8 188.5 L822.5 195.3 L816.6 201.9 L815.5 208.6 L820.2 215.3 L830.7 218.6 L848.3 222 L869.3 224.2 L888.1 227 L862.3 228.6 L852.5 234.1 L846.3 242 L844.2 253.8 L840 265.6 L838 273.5 L844.2 279.3 L819.4 284.3 L807 285.2 L840 287.2 L906.2 288.2 L860.7 293.1 L871.1 297 L902.1 302.9 L976.5 302.9 L922.8 306.9 L906.2 312.8 L891.8 320.6 L885.5 326.6 L893.8 334.4 L922.8 338.3 L970.3 339.3 L881.4 341.3 L850.4 344.2 L846.3 347.8 L860.7 352.8 L850.4 355.7 L838 359.6 L829.7 365.5 L817.3 371.4 L815.2 377.3 L825.6 382.2 L846.3 385.2 L856.6 391.1 L873.1 396 L885.5 400.9 L889.7 408.7 L873.1 414.6 L844.2 417.6 L825.6 422.5 L813.2 432.3 L802.8 446.1 L794.5 463.7 L788.3 483.4 L784 513 L781.5 541.5 L780 568.1" stroke="#1626e6" stroke-width="5.4" fill="none" stroke-linejoin="round" clip-path="url(#cd0)"/>
<path d="M780 124.6 L781.5 131.4 L789.7 134.8 L797.9 138.2 L804.9 146.3 L813.1 156.6 L821.3 162.4 L830.7 164.6 L840.1 163 L827.2 168.2 L824.8 176.1 L822.5 183.1 L816.6 189.9 L815.5 196.8 L820.2 203.8 L830.7 207.2 L848.3 210.6 L869.3 212.9 L888.1 215.8 L862.3 217.5 L852.5 223.2 L846.3 231.3 L844.2 243.5 L840 255.7 L838 263.8 L844.2 269.9 L819.4 275 L807 276 L840 278 L906.2 279 L860.7 284.1 L871.1 288.1 L902.1 294.2 L976.5 294.2 L922.8 298.3 L906.2 304.4 L891.8 312.5 L885.5 318.6 L893.8 326.7 L922.8 330.8 L970.3 331.8 L881.4 333.9 L850.4 336.9 L846.3 340.6 L860.7 345.7 L850.4 348.8 L838 352.8 L829.7 358.9 L817.3 365 L815.2 371 L825.6 376.1 L846.3 379.2 L856.6 385.3 L873.1 390.4 L885.5 395.4 L889.7 403.5 L873.1 409.6 L844.2 412.6 L825.6 417.7 L813.2 427.8 L802.8 442.1 L794.5 460.3 L788.3 480.6 L784 511.1 L781.5 540.6 L780 568" stroke="#fee237" stroke-width="5.4" fill="none" stroke-linejoin="round" clip-path="url(#cd0)"/>
<path d="M780 116 L781.5 122.9 L789.7 126.4 L797.9 129.9 L804.9 138.1 L813.1 148.6 L821.3 154.5 L830.7 156.8 L840.1 155.1 L827.2 160.4 L824.8 168.5 L822.5 175.6 L816.6 182.6 L815.5 189.6 L820.2 196.7 L830.7 200.2 L848.3 203.7 L869.3 206 L888.1 209 L862.3 210.7 L852.5 216.5 L846.3 224.8 L844.2 237.2 L840 249.6 L838 257.9 L844.2 264.1 L819.4 269.3 L807 270.3 L840 272.4 L906.2 273.4 L860.7 278.6 L871.1 282.7 L902.1 288.9 L976.5 288.9 L922.8 293.1 L906.2 299.3 L891.8 307.5 L885.5 313.8 L893.8 322 L922.8 326.2 L970.3 327.2 L881.4 329.3 L850.4 332.4 L846.3 336.2 L860.7 341.4 L850.4 344.5 L838 348.6 L829.7 354.8 L817.3 361 L815.2 367.2 L825.6 372.4 L846.3 375.5 L856.6 381.7 L873.1 386.9 L885.5 392 L889.7 400.3 L873.1 406.5 L844.2 409.6 L825.6 414.8 L813.2 425.1 L802.8 439.6 L794.5 458.2 L788.3 478.9 L784 510 L781.5 540 L780 568" stroke="#44f3f7" stroke-width="5.4" fill="none" stroke-linejoin="round" clip-path="url(#cd0)"/>
<circle cx="161.5" cy="144.4" r="3.4" fill="none" stroke="#000" stroke-width="3.5"/>
<circle cx="161.6" cy="269.2" r="3.4" fill="none" stroke="#000" stroke-width="3.5"/>
<circle cx="161.6" cy="325.2" r="3.4" fill="none" stroke="#000" stroke-width="3.5"/>
<circle cx="319.6" cy="311.8" r="3.4" fill="none" stroke="#000" stroke-width="3.5"/>
<circle cx="279" cy="355.7" r="3.4" fill="none" stroke="#000" stroke-width="3.5"/>
<circle cx="239.5" cy="412.6" r="3.4" fill="none" stroke="#000" stroke-width="3.5"/>
<circle cx="320.7" cy="410.8" r="3.4" fill="none" stroke="#000" stroke-width="3.5"/>
<circle cx="298.8" cy="433.7" r="3.4" fill="none" stroke="#000" stroke-width="3.5"/>
<circle cx="218.7" cy="448.5" r="3.4" fill="none" stroke="#000" stroke-width="3.5"/>
<circle cx="197.8" cy="486.5" r="3.4" fill="none" stroke="#000" stroke-width="3.5"/>
<circle cx="187.5" cy="510.6" r="3.4" fill="none" stroke="#000" stroke-width="3.5"/>
<circle cx="179.1" cy="525.5" r="3.4" fill="none" stroke="#000" stroke-width="3.5"/>
<circle cx="167.1" cy="547.9" r="3.4" fill="none" stroke="#000" stroke-width="3.5"/>
<circle cx="169.3" cy="555.6" r="3.4" fill="none" stroke="#000" stroke-width="3.5"/>
<circle cx="178" cy="549" r="3.4" fill="none" stroke="#000" stroke-width="3.5"/>
<circle cx="189" cy="537.6" r="3.4" fill="none" stroke="#000" stroke-width="3.5"/>
<circle cx="197.8" cy="525.5" r="3.4" fill="none" stroke="#000" stroke-width="3.5"/>
<circle cx="208.8" cy="518.3" r="3.4" fill="none" stroke="#000" stroke-width="3.5"/>
<circle cx="218.7" cy="506.9" r="3.4" fill="none" stroke="#000" stroke-width="3.5"/>
<circle cx="229.6" cy="497" r="3.4" fill="none" stroke="#000" stroke-width="3.5"/>
<circle cx="259.3" cy="465.2" r="3.4" fill="none" stroke="#000" stroke-width="3.5"/>
<circle cx="407.9" cy="306.2" r="3.4" fill="none" stroke="#000" stroke-width="3.5"/>
<circle cx="567.8" cy="326.1" r="3.4" fill="none" stroke="#000" stroke-width="3.5"/>
<circle cx="567" cy="142.5" r="3.4" fill="none" stroke="#000" stroke-width="3.5"/>
<circle cx="449.8" cy="424.2" r="3.4" fill="none" stroke="#000" stroke-width="3.5"/>
<circle cx="489.5" cy="450.2" r="3.4" fill="none" stroke="#000" stroke-width="3.5"/>
<circle cx="508.8" cy="471" r="3.4" fill="none" stroke="#000" stroke-width="3.5"/>
<circle cx="519.9" cy="490.3" r="3.4" fill="none" stroke="#000" stroke-width="3.5"/>
<circle cx="529.8" cy="509.2" r="3.4" fill="none" stroke="#000" stroke-width="3.5"/>
<circle cx="539.3" cy="519.3" r="3.4" fill="none" stroke="#000" stroke-width="3.5"/>
<circle cx="548.9" cy="533.7" r="3.4" fill="none" stroke="#000" stroke-width="3.5"/>
<circle cx="559.2" cy="548.7" r="3.4" fill="none" stroke="#000" stroke-width="3.5"/>
<circle cx="596.8" cy="532" r="3.4" fill="none" stroke="#000" stroke-width="3.5"/>
<circle cx="598.7" cy="544.6" r="3.4" fill="none" stroke="#000" stroke-width="3.5"/>
<circle cx="614.3" cy="505.6" r="3.4" fill="none" stroke="#000" stroke-width="3.5"/>
<circle cx="618.6" cy="522.2" r="3.4" fill="none" stroke="#000" stroke-width="3.5"/>
<circle cx="638.7" cy="504.6" r="3.4" fill="none" stroke="#000" stroke-width="3.5"/>
<circle cx="655.3" cy="446.1" r="3.4" fill="none" stroke="#000" stroke-width="3.5"/>
<circle cx="659.2" cy="478.3" r="3.4" fill="none" stroke="#000" stroke-width="3.5"/>
<circle cx="700.2" cy="392.4" r="3.4" fill="none" stroke="#000" stroke-width="3.5"/>
<circle cx="702.1" cy="441.2" r="3.4" fill="none" stroke="#000" stroke-width="3.5"/>
<circle cx="739.2" cy="355.4" r="3.4" fill="none" stroke="#000" stroke-width="3.5"/>
<circle cx="740.2" cy="417.8" r="3.4" fill="none" stroke="#000" stroke-width="3.5"/>
<circle cx="775.3" cy="335.9" r="3.4" fill="none" stroke="#000" stroke-width="3.5"/>
<circle cx="775.3" cy="410" r="3.4" fill="none" stroke="#000" stroke-width="3.5"/>
<rect x="157.7" y="105.6" width="828.9" height="475" fill="none" stroke="#000" stroke-width="2.3"/>
<line x1="779.8" y1="105.6" x2="779.8" y2="580.6" stroke="#000" stroke-width="2.3"/>
<line x1="157.7" y1="105.6" x2="164" y2="105.6" stroke="#000" stroke-width="4"/>
<text x="150.5" y="120.1" font-size="41" text-anchor="end">800</text>
<line x1="157.7" y1="224.3" x2="164" y2="224.3" stroke="#000" stroke-width="4"/>
<text x="150.5" y="238.8" font-size="41" text-anchor="end">595</text>
<line x1="157.7" y1="343.1" x2="164" y2="343.1" stroke="#000" stroke-width="4"/>
<text x="150.5" y="357.6" font-size="41" text-anchor="end">390</text>
<line x1="157.7" y1="461.9" x2="164" y2="461.9" stroke="#000" stroke-width="4"/>
<text x="150.5" y="476.4" font-size="41" text-anchor="end">185</text>
<line x1="157.7" y1="580.6" x2="164" y2="580.6" stroke="#000" stroke-width="4"/>
<text x="148" y="594.9" font-size="41.5" text-anchor="end">20<tspan font-style="italic">i</tspan></text>
<line x1="374.3" y1="580.6" x2="374.3" y2="574.3" stroke="#000" stroke-width="4"/>
<line x1="374.3" y1="105.6" x2="374.3" y2="111.9" stroke="#000" stroke-width="4"/>
<line x1="591.2" y1="580.6" x2="591.2" y2="574.3" stroke="#000" stroke-width="4"/>
<line x1="591.2" y1="105.6" x2="591.2" y2="111.9" stroke="#000" stroke-width="4"/>
<line x1="779.8" y1="580.6" x2="779.8" y2="574.3" stroke="#000" stroke-width="4"/>
<line x1="779.8" y1="105.6" x2="779.8" y2="111.9" stroke="#000" stroke-width="4"/>
<line x1="905.7" y1="105.6" x2="905.7" y2="111.6" stroke="#000" stroke-width="1"/>
<line x1="905.7" y1="580.6" x2="905.7" y2="574.6" stroke="#000" stroke-width="1"/>
<text x="158.5" y="615.6" font-size="42" text-anchor="middle">Γ</text>
<text x="375.8" y="615.6" font-size="43" text-anchor="middle" font-style="italic">X</text>
<text x="592.2" y="615.6" font-size="42" text-anchor="middle">Γ</text>
<text x="780.3" y="615.6" font-size="43" text-anchor="middle" font-style="italic">L</text>
<text transform="translate(63.5 504) rotate(-90)" font-size="42">Frequency [cm</text>
<path d="M23.4 229.9 V216.6 M34.3 198.3 H14 L20.4 204.6" stroke="#000" stroke-width="2.3" fill="none" stroke-linejoin="miter"/>
<text transform="translate(63.5 188.8) rotate(-90)" font-size="42">]</text>
<text x="836.5" y="156.1" font-size="42">(a) Li<tspan font-size="30" dy="11.5">2</tspan><tspan dy="-11.5">O</tspan></text>
<line x1="986.6" y1="569" x2="980.6" y2="569" stroke="#000" stroke-width="1"/>
<line x1="986.6" y1="453.2" x2="980.6" y2="453.2" stroke="#000" stroke-width="1"/>
<line x1="986.6" y1="337.3" x2="980.6" y2="337.3" stroke="#000" stroke-width="1"/>
<line x1="986.6" y1="221.5" x2="980.6" y2="221.5" stroke="#000" stroke-width="1"/>
<line x1="374.3" y1="664.8" x2="374.3" y2="1139.8" stroke="#b0b0b0" stroke-width="1"/>
<line x1="591.2" y1="664.8" x2="591.2" y2="1139.8" stroke="#b0b0b0" stroke-width="1"/>
<line x1="157.7" y1="1121.5" x2="779.8" y2="1121.5" stroke="#1a1a1a" stroke-width="1" stroke-dasharray="3,2"/>
<path d="M157.7 711.9 L161.4 711.9 L165 712 L168.7 712 L172.4 712.1 L176.1 712.3 L179.7 712.4 L183.4 712.6 L187.1 712.9 L190.7 713.1 L194.4 713.5 L198.1 713.8 L201.8 714.2 L205.4 714.6 L209.1 715.1 L212.8 715.6 L216.4 716.1 L220.1 716.7 L223.8 717.3 L227.5 717.9 L231.1 718.5 L234.8 719.2 L238.5 720 L242.1 720.7 L245.8 721.5 L249.5 722.3 L253.2 723.1 L256.8 724 L260.5 724.9 L264.2 725.9 L267.8 727 L271.5 728.2 L275.2 729.4 L278.8 730.8 L282.5 732.3 L286.2 733.8 L289.9 735.5 L293.5 737.3 L297.2 739.2 L300.9 741.2 L304.5 743.4 L308.2 745.6 L311.9 747.8 L315.6 750.2 L319.2 752.6 L322.9 755.1 L326.6 757.6 L330.2 760.1 L333.9 762.7 L337.6 765.3 L341.3 767.8 L344.9 770.2 L348.6 772.4 L352.3 774.3 L355.9 776 L359.6 777.4 L363.3 778.5 L367 779.3 L370.6 779.8 L374.3 780 M591.2 711.9 L587.5 711.9 L583.8 712 L580.2 712 L576.5 712.1 L572.8 712.3 L569.1 712.4 L565.5 712.6 L561.8 712.9 L558.1 713.1 L554.4 713.5 L550.8 713.8 L547.1 714.2 L543.4 714.6 L539.7 715.1 L536.1 715.6 L532.4 716.1 L528.7 716.7 L525 717.3 L521.4 717.9 L517.7 718.5 L514 719.2 L510.3 720 L506.6 720.7 L503 721.5 L499.3 722.3 L495.6 723.1 L491.9 724 L488.3 724.9 L484.6 725.9 L480.9 727 L477.2 728.2 L473.6 729.4 L469.9 730.8 L466.2 732.3 L462.5 733.8 L458.9 735.5 L455.2 737.3 L451.5 739.2 L447.8 741.2 L444.1 743.4 L440.5 745.6 L436.8 747.8 L433.1 750.2 L429.4 752.6 L425.8 755.1 L422.1 757.6 L418.4 760.1 L414.7 762.7 L411.1 765.3 L407.4 767.8 L403.7 770.2 L400 772.4 L396.4 774.3 L392.7 776 L389 777.4 L385.3 778.5 L381.7 779.3 L378 779.8 L374.3 780 M157.7 1121.5 L161.4 1115.4 L165 1109.2 L168.7 1103.1 L172.4 1096.9 L176.1 1090.7 L179.7 1084.5 L183.4 1078.3 L187.1 1072 L190.7 1065.6 L194.4 1059.2 L198.1 1052.7 L201.8 1046.2 L205.4 1039.6 L209.1 1032.9 L212.8 1026.3 L216.4 1019.6 L220.1 1013 L223.8 1006.4 L227.5 999.9 L231.1 993.5 L234.8 987.2 L238.5 981 L242.1 975.1 L245.8 969.3 L249.5 963.8 L253.2 958.4 L256.8 953.3 L260.5 948.2 L264.2 943.2 L267.8 938.2 L271.5 933.1 L275.2 927.9 L278.8 922.7 L282.5 917.5 L286.2 912.1 L289.9 906.7 L293.5 901.2 L297.2 895.6 L300.9 890 L304.5 884.3 L308.2 878.7 L311.9 873.3 L315.6 868.1 L319.2 863.2 L322.9 858.7 L326.6 854.5 L330.2 850.5 L333.9 846.6 L337.6 842.7 L341.3 838.6 L344.9 834.3 L348.6 830.1 L352.3 826.3 L355.9 823.4 L359.6 821.2 L363.3 819.6 L367 818.4 L370.6 817.6 L374.3 817.3 M591.2 1121.5 L587.5 1115.9 L583.8 1110.2 L580.2 1104.5 L576.5 1098.9 L572.8 1093.2 L569.1 1087.5 L565.5 1081.7 L561.8 1075.9 L558.1 1070.1 L554.4 1064.2 L550.8 1058.3 L547.1 1052.3 L543.4 1046.3 L539.7 1040.3 L536.1 1034.2 L532.4 1028.1 L528.7 1022 L525 1015.9 L521.4 1009.8 L517.7 1003.7 L514 997.6 L510.3 991.6 L506.6 985.6 L503 979.7 L499.3 973.9 L495.6 968.3 L491.9 962.7 L488.3 957.4 L484.6 952.1 L480.9 947.1 L477.2 942.3 L473.6 937.5 L469.9 932.9 L466.2 928.3 L462.5 923.7 L458.9 919.1 L455.2 914.4 L451.5 909.7 L447.8 904.7 L444.1 899.6 L440.5 894.4 L436.8 889.1 L433.1 883.7 L429.4 878.3 L425.8 872.9 L422.1 867.5 L418.4 862.1 L414.7 856.9 L411.1 851.7 L407.4 846.8 L403.7 842 L400 837.4 L396.4 833.1 L392.7 829.1 L389 825.4 L385.3 822.1 L381.7 819.6 L378 817.9 L374.3 817.3 M157.7 837.1 L161.4 837.1 L165 837.1 L168.7 837 L172.4 837 L176.1 837 L179.7 836.9 L183.4 836.8 L187.1 836.7 L190.7 836.7 L194.4 836.6 L198.1 836.5 L201.8 836.4 L205.4 836.2 L209.1 836.1 L212.8 836 L216.4 835.9 L220.1 835.7 L223.8 835.6 L227.5 835.5 L231.1 835.3 L234.8 835.2 L238.5 835 L242.1 834.9 L245.8 834.8 L249.5 834.6 L253.2 834.5 L256.8 834.3 L260.5 834.2 L264.2 834 L267.8 833.9 L271.5 833.7 L275.2 833.5 L278.8 833.4 L282.5 833.2 L286.2 833 L289.9 832.9 L293.5 832.7 L297.2 832.5 L300.9 832.3 L304.5 832.1 L308.2 831.9 L311.9 831.7 L315.6 831.5 L319.2 831.3 L322.9 831 L326.6 830.8 L330.2 830.6 L333.9 830.3 L337.6 830 L341.3 829.8 L344.9 829.5 L348.6 829.3 L352.3 829 L355.9 828.8 L359.6 828.7 L363.3 828.5 L367 828.4 L370.6 828.3 L374.3 828.3 M591.2 837.1 L587.5 837.1 L583.8 837.1 L580.2 837 L576.5 837 L572.8 837 L569.1 836.9 L565.5 836.8 L561.8 836.7 L558.1 836.7 L554.4 836.6 L550.8 836.5 L547.1 836.4 L543.4 836.2 L539.7 836.1 L536.1 836 L532.4 835.9 L528.7 835.7 L525 835.6 L521.4 835.5 L517.7 835.3 L514 835.2 L510.3 835 L506.6 834.9 L503 834.8 L499.3 834.6 L495.6 834.5 L491.9 834.3 L488.3 834.2 L484.6 834 L480.9 833.9 L477.2 833.7 L473.6 833.5 L469.9 833.4 L466.2 833.2 L462.5 833 L458.9 832.9 L455.2 832.7 L451.5 832.5 L447.8 832.3 L444.1 832.1 L440.5 831.9 L436.8 831.7 L433.1 831.5 L429.4 831.3 L425.8 831 L422.1 830.8 L418.4 830.6 L414.7 830.3 L411.1 830 L407.4 829.8 L403.7 829.5 L400 829.3 L396.4 829 L392.7 828.8 L389 828.7 L385.3 828.5 L381.7 828.4 L378 828.3 L374.3 828.3 M157.7 889.5 L161.4 889.5 L165 889.5 L168.7 889.4 L172.4 889.3 L176.1 889.3 L179.7 889.2 L183.4 889.1 L187.1 888.9 L190.7 888.8 L194.4 888.6 L198.1 888.4 L201.8 888.3 L205.4 888.1 L209.1 887.9 L212.8 887.6 L216.4 887.4 L220.1 887.2 L223.8 886.9 L227.5 886.7 L231.1 886.4 L234.8 886.1 L238.5 885.9 L242.1 885.6 L245.8 885.3 L249.5 885.1 L253.2 884.8 L256.8 884.5 L260.5 884.2 L264.2 884 L267.8 883.7 L271.5 883.5 L275.2 883.2 L278.8 883 L282.5 882.8 L286.2 882.6 L289.9 882.4 L293.5 882.2 L297.2 882 L300.9 881.9 L304.5 881.7 L308.2 881.6 L311.9 881.5 L315.6 881.4 L319.2 881.3 L322.9 881.2 L326.6 881.1 L330.2 881 L333.9 881 L337.6 880.9 L341.3 880.9 L344.9 880.8 L348.6 880.8 L352.3 880.8 L355.9 880.7 L359.6 880.7 L363.3 880.7 L367 880.7 L370.6 880.7 L374.3 880.7 M591.2 889.5 L587.5 889.5 L583.8 889.5 L580.2 889.4 L576.5 889.3 L572.8 889.3 L569.1 889.2 L565.5 889.1 L561.8 888.9 L558.1 888.8 L554.4 888.6 L550.8 888.4 L547.1 888.3 L543.4 888.1 L539.7 887.9 L536.1 887.6 L532.4 887.4 L528.7 887.2 L525 886.9 L521.4 886.7 L517.7 886.4 L514 886.1 L510.3 885.9 L506.6 885.6 L503 885.3 L499.3 885.1 L495.6 884.8 L491.9 884.5 L488.3 884.2 L484.6 884 L480.9 883.7 L477.2 883.5 L473.6 883.2 L469.9 883 L466.2 882.8 L462.5 882.6 L458.9 882.4 L455.2 882.2 L451.5 882 L447.8 881.9 L444.1 881.7 L440.5 881.6 L436.8 881.5 L433.1 881.4 L429.4 881.3 L425.8 881.2 L422.1 881.1 L418.4 881 L414.7 881 L411.1 880.9 L407.4 880.9 L403.7 880.8 L400 880.8 L396.4 880.8 L392.7 880.7 L389 880.7 L385.3 880.7 L381.7 880.7 L378 880.7 L374.3 880.7 M157.7 889.5 L161.4 890 L165 890.6 L168.7 891.2 L172.4 891.9 L176.1 892.6 L179.7 893.5 L183.4 894.6 L187.1 895.8 L190.7 897.1 L194.4 898.7 L198.1 900.4 L201.8 902.3 L205.4 904.3 L209.1 906.5 L212.8 908.7 L216.4 911 L220.1 913.4 L223.8 915.9 L227.5 918.4 L231.1 920.9 L234.8 923.5 L238.5 926.1 L242.1 928.7 L245.8 931.3 L249.5 933.9 L253.2 936.4 L256.8 939 L260.5 941.5 L264.2 944 L267.8 946.5 L271.5 948.9 L275.2 951.3 L278.8 953.7 L282.5 956.1 L286.2 958.5 L289.9 960.9 L293.5 963.4 L297.2 966 L300.9 968.6 L304.5 971.3 L308.2 974.1 L311.9 976.8 L315.6 979.5 L319.2 982.3 L322.9 984.9 L326.6 987.5 L330.2 990 L333.9 992.4 L337.6 994.7 L341.3 996.9 L344.9 998.9 L348.6 1000.9 L352.3 1002.8 L355.9 1004.6 L359.6 1006.3 L363.3 1007.7 L367 1008.8 L370.6 1009.5 L374.3 1009.8 M591.2 889.5 L587.5 890 L583.8 890.6 L580.2 891.2 L576.5 891.9 L572.8 892.6 L569.1 893.5 L565.5 894.6 L561.8 895.8 L558.1 897.1 L554.4 898.7 L550.8 900.4 L547.1 902.3 L543.4 904.3 L539.7 906.5 L536.1 908.7 L532.4 911 L528.7 913.4 L525 915.9 L521.4 918.4 L517.7 920.9 L514 923.5 L510.3 926.1 L506.6 928.7 L503 931.3 L499.3 933.9 L495.6 936.4 L491.9 939 L488.3 941.5 L484.6 944 L480.9 946.5 L477.2 948.9 L473.6 951.3 L469.9 953.7 L466.2 956.1 L462.5 958.5 L458.9 960.9 L455.2 963.4 L451.5 966 L447.8 968.6 L444.1 971.3 L440.5 974.1 L436.8 976.8 L433.1 979.5 L429.4 982.3 L425.8 984.9 L422.1 987.5 L418.4 990 L414.7 992.4 L411.1 994.7 L407.4 996.9 L403.7 998.9 L400 1000.9 L396.4 1002.8 L392.7 1004.6 L389 1006.3 L385.3 1007.7 L381.7 1008.8 L378 1009.5 L374.3 1009.8 M157.7 1121.5 L161.4 1118.1 L165 1114.8 L168.7 1111.4 L172.4 1108.1 L176.1 1104.9 L179.7 1101.7 L183.4 1098.6 L187.1 1095.5 L190.7 1092.5 L194.4 1089.6 L198.1 1086.7 L201.8 1083.9 L205.4 1081.1 L209.1 1078.3 L212.8 1075.5 L216.4 1072.8 L220.1 1070 L223.8 1067.3 L227.5 1064.5 L231.1 1061.7 L234.8 1059 L238.5 1056.2 L242.1 1053.5 L245.8 1050.8 L249.5 1048 L253.2 1045.3 L256.8 1042.6 L260.5 1039.9 L264.2 1037.2 L267.8 1034.5 L271.5 1031.9 L275.2 1029.2 L278.8 1026.6 L282.5 1024.1 L286.2 1021.6 L289.9 1019.2 L293.5 1016.9 L297.2 1014.6 L300.9 1012.5 L304.5 1010.5 L308.2 1008.5 L311.9 1006.7 L315.6 1005 L319.2 1003.5 L322.9 1002.1 L326.6 1000.8 L330.2 999.6 L333.9 998.5 L337.6 997.6 L341.3 996.8 L344.9 996.1 L348.6 995.6 L352.3 995.1 L355.9 994.8 L359.6 994.6 L363.3 994.5 L367 994.4 L370.6 994.4 L374.3 994.4 M591.2 1121.5 L587.5 1118.6 L583.8 1115.8 L580.2 1112.9 L576.5 1110.1 L572.8 1107.2 L569.1 1104.4 L565.5 1101.5 L561.8 1098.6 L558.1 1095.8 L554.4 1092.9 L550.8 1090.1 L547.1 1087.2 L543.4 1084.4 L539.7 1081.5 L536.1 1078.7 L532.4 1075.8 L528.7 1073 L525 1070.2 L521.4 1067.4 L517.7 1064.7 L514 1062 L510.3 1059.3 L506.6 1056.7 L503 1054.1 L499.3 1051.6 L495.6 1049.1 L491.9 1046.6 L488.3 1044.3 L484.6 1041.9 L480.9 1039.7 L477.2 1037.5 L473.6 1035.3 L469.9 1033.2 L466.2 1031.1 L462.5 1029.1 L458.9 1027.2 L455.2 1025.3 L451.5 1023.5 L447.8 1021.7 L444.1 1020 L440.5 1018.4 L436.8 1016.8 L433.1 1015.2 L429.4 1013.7 L425.8 1012.2 L422.1 1010.8 L418.4 1009.3 L414.7 1007.8 L411.1 1006.3 L407.4 1004.7 L403.7 1003.1 L400 1001.5 L396.4 1000 L392.7 998.5 L389 997.2 L385.3 996 L381.7 995.2 L378 994.6 L374.3 994.4 M591.2 711.9 L594.4 711.9 L597.6 712 L600.8 712.1 L604 712.3 L607.2 712.5 L610.4 712.8 L613.6 713.1 L616.8 713.4 L620 713.8 L623.2 714.3 L626.4 714.8 L629.6 715.3 L632.8 715.8 L636 716.4 L639.1 717.1 L642.3 717.7 L645.5 718.5 L648.7 719.2 L651.9 720 L655.1 720.9 L658.3 721.8 L661.5 722.7 L664.7 723.7 L667.9 724.8 L671.1 725.8 L674.3 727 L677.5 728.1 L680.7 729.3 L683.9 730.5 L687.1 731.7 L690.3 733 L693.5 734.3 L696.7 735.6 L699.9 736.9 L703.1 738.2 L706.3 739.5 L709.5 740.9 L712.7 742.2 L715.9 743.5 L719.1 744.9 L722.3 746.2 L725.5 747.6 L728.7 749 L731.9 750.4 L735 751.7 L738.2 753.1 L741.4 754.5 L744.6 755.9 L747.8 757.3 L751 758.6 L754.2 759.9 L757.4 761.1 L760.6 762.1 L763.8 763 L767 763.7 L770.2 764.3 L773.4 764.8 L776.6 765 L779.8 765.1 M591.2 837.5 L594.4 837.5 L597.6 837.5 L600.8 837.5 L604 837.5 L607.2 837.5 L610.4 837.5 L613.6 837.6 L616.8 837.6 L620 837.6 L623.2 837.6 L626.4 837.7 L629.6 837.7 L632.8 837.7 L636 837.7 L639.1 837.8 L642.3 837.8 L645.5 837.9 L648.7 837.9 L651.9 837.9 L655.1 838 L658.3 838 L661.5 838.1 L664.7 838.1 L667.9 838.2 L671.1 838.2 L674.3 838.3 L677.5 838.4 L680.7 838.4 L683.9 838.5 L687.1 838.5 L690.3 838.6 L693.5 838.7 L696.7 838.7 L699.9 838.8 L703.1 838.8 L706.3 838.9 L709.5 839 L712.7 839 L715.9 839.1 L719.1 839.2 L722.3 839.2 L725.5 839.3 L728.7 839.4 L731.9 839.4 L735 839.5 L738.2 839.5 L741.4 839.6 L744.6 839.6 L747.8 839.7 L751 839.7 L754.2 839.7 L757.4 839.8 L760.6 839.8 L763.8 839.8 L767 839.9 L770.2 839.9 L773.4 839.9 L776.6 839.9 L779.8 839.9 M591.2 889.5 L594.4 889.5 L597.6 889.5 L600.8 889.4 L604 889.4 L607.2 889.3 L610.4 889.3 L613.6 889.2 L616.8 889.1 L620 889 L623.2 888.9 L626.4 888.8 L629.6 888.7 L632.8 888.6 L636 888.5 L639.1 888.3 L642.3 888.2 L645.5 888.1 L648.7 888 L651.9 887.8 L655.1 887.7 L658.3 887.6 L661.5 887.5 L664.7 887.3 L667.9 887.2 L671.1 887.1 L674.3 886.9 L677.5 886.8 L680.7 886.7 L683.9 886.5 L687.1 886.4 L690.3 886.3 L693.5 886.1 L696.7 886 L699.9 885.8 L703.1 885.7 L706.3 885.5 L709.5 885.3 L712.7 885.2 L715.9 885 L719.1 884.8 L722.3 884.6 L725.5 884.4 L728.7 884.2 L731.9 884 L735 883.8 L738.2 883.6 L741.4 883.3 L744.6 883.1 L747.8 882.8 L751 882.5 L754.2 882.3 L757.4 882 L760.6 881.7 L763.8 881.4 L767 881.2 L770.2 881 L773.4 880.8 L776.6 880.7 L779.8 880.7 M591.2 889.5 L594.4 889.5 L597.6 889.6 L600.8 889.6 L604 889.7 L607.2 889.9 L610.4 890 L613.6 890.2 L616.8 890.4 L620 890.7 L623.2 891 L626.4 891.3 L629.6 891.6 L632.8 891.9 L636 892.3 L639.1 892.7 L642.3 893.2 L645.5 893.6 L648.7 894.1 L651.9 894.6 L655.1 895.2 L658.3 895.7 L661.5 896.3 L664.7 896.9 L667.9 897.5 L671.1 898.2 L674.3 898.8 L677.5 899.5 L680.7 900.2 L683.9 900.9 L687.1 901.6 L690.3 902.3 L693.5 903 L696.7 903.7 L699.9 904.5 L703.1 905.2 L706.3 906 L709.5 906.8 L712.7 907.5 L715.9 908.3 L719.1 909.1 L722.3 909.9 L725.5 910.7 L728.7 911.5 L731.9 912.3 L735 913.1 L738.2 913.9 L741.4 914.7 L744.6 915.6 L747.8 916.4 L751 917.2 L754.2 918 L757.4 918.8 L760.6 919.5 L763.8 920.1 L767 920.6 L770.2 921.1 L773.4 921.4 L776.6 921.6 L779.8 921.7 M591.2 1121.5 L594.4 1116.9 L597.6 1112.3 L600.8 1107.5 L604 1102.6 L607.2 1097.6 L610.4 1092.4 L613.6 1087 L616.8 1081.5 L620 1076 L623.2 1070.4 L626.4 1064.8 L629.6 1059.2 L632.8 1053.7 L636 1048.2 L639.1 1042.9 L642.3 1037.7 L645.5 1032.6 L648.7 1027.7 L651.9 1023 L655.1 1018.3 L658.3 1013.8 L661.5 1009.4 L664.7 1005.1 L667.9 1000.8 L671.1 996.5 L674.3 992.3 L677.5 988.1 L680.7 983.8 L683.9 979.5 L687.1 975.2 L690.3 970.9 L693.5 966.5 L696.7 962.2 L699.9 958 L703.1 953.8 L706.3 949.7 L709.5 945.8 L712.7 942 L715.9 938.3 L719.1 934.9 L722.3 931.7 L725.5 928.7 L728.7 925.9 L731.9 923.3 L735 920.9 L738.2 918.7 L741.4 916.6 L744.6 914.7 L747.8 912.9 L751 911.2 L754.2 909.7 L757.4 908.3 L760.6 907.1 L763.8 906 L767 905 L770.2 904.3 L773.4 903.7 L776.6 903.3 L779.8 903.2 M591.2 1121.5 L594.4 1117.8 L597.6 1114.1 L600.8 1110.3 L604 1106.5 L607.2 1102.6 L610.4 1098.5 L613.6 1094.5 L616.8 1090.3 L620 1086.2 L623.2 1082 L626.4 1077.9 L629.6 1073.9 L632.8 1069.9 L636 1066 L639.1 1062.2 L642.3 1058.5 L645.5 1055 L648.7 1051.7 L651.9 1048.5 L655.1 1045.4 L658.3 1042.5 L661.5 1039.6 L664.7 1036.9 L667.9 1034.2 L671.1 1031.5 L674.3 1028.9 L677.5 1026.3 L680.7 1023.8 L683.9 1021.2 L687.1 1018.6 L690.3 1016.1 L693.5 1013.5 L696.7 1011 L699.9 1008.4 L703.1 1006 L706.3 1003.5 L709.5 1001.2 L712.7 998.9 L715.9 996.6 L719.1 994.5 L722.3 992.4 L725.5 990.5 L728.7 988.6 L731.9 986.9 L735 985.2 L738.2 983.7 L741.4 982.2 L744.6 980.9 L747.8 979.6 L751 978.4 L754.2 977.3 L757.4 976.3 L760.6 975.4 L763.8 974.6 L767 973.8 L770.2 973.2 L773.4 972.8 L776.6 972.5 L779.8 972.4" stroke="#a400da" stroke-width="5.4" fill="none" stroke-linejoin="round" stroke-linecap="butt" clip-path="url(#cb1)"/>
<path d="M157.7 747.5 L161.4 747.5 L165 747.5 L168.7 747.6 L172.4 747.7 L176.1 747.8 L179.7 747.9 L183.4 748 L187.1 748.2 L190.7 748.4 L194.4 748.6 L198.1 748.9 L201.8 749.1 L205.4 749.5 L209.1 749.8 L212.8 750.2 L216.4 750.6 L220.1 751 L223.8 751.5 L227.5 752 L231.1 752.5 L234.8 753 L238.5 753.6 L242.1 754.2 L245.8 754.8 L249.5 755.4 L253.2 756.1 L256.8 756.8 L260.5 757.6 L264.2 758.4 L267.8 759.3 L271.5 760.3 L275.2 761.3 L278.8 762.5 L282.5 763.7 L286.2 765.1 L289.9 766.5 L293.5 768.1 L297.2 769.8 L300.9 771.5 L304.5 773.4 L308.2 775.3 L311.9 777.3 L315.6 779.4 L319.2 781.6 L322.9 783.8 L326.6 786.1 L330.2 788.4 L333.9 790.7 L337.6 793 L341.3 795.3 L344.9 797.4 L348.6 799.4 L352.3 801.2 L355.9 802.7 L359.6 803.9 L363.3 804.9 L367 805.6 L370.6 806.1 L374.3 806.3 M591.2 747.5 L587.5 747.5 L583.8 747.5 L580.2 747.6 L576.5 747.7 L572.8 747.8 L569.1 747.9 L565.5 748 L561.8 748.2 L558.1 748.4 L554.4 748.6 L550.8 748.9 L547.1 749.1 L543.4 749.5 L539.7 749.8 L536.1 750.2 L532.4 750.6 L528.7 751 L525 751.5 L521.4 752 L517.7 752.5 L514 753 L510.3 753.6 L506.6 754.2 L503 754.8 L499.3 755.4 L495.6 756.1 L491.9 756.8 L488.3 757.6 L484.6 758.4 L480.9 759.3 L477.2 760.3 L473.6 761.3 L469.9 762.5 L466.2 763.7 L462.5 765.1 L458.9 766.5 L455.2 768.1 L451.5 769.8 L447.8 771.5 L444.1 773.4 L440.5 775.3 L436.8 777.3 L433.1 779.4 L429.4 781.6 L425.8 783.8 L422.1 786.1 L418.4 788.4 L414.7 790.7 L411.1 793 L407.4 795.3 L403.7 797.4 L400 799.4 L396.4 801.2 L392.7 802.7 L389 803.9 L385.3 804.9 L381.7 805.6 L378 806.1 L374.3 806.3 M157.7 1121.5 L161.4 1115.6 L165 1109.7 L168.7 1103.7 L172.4 1097.8 L176.1 1091.9 L179.7 1086 L183.4 1080.1 L187.1 1074.2 L190.7 1068.3 L194.4 1062.4 L198.1 1056.5 L201.8 1050.6 L205.4 1044.7 L209.1 1038.8 L212.8 1032.9 L216.4 1027 L220.1 1021.2 L223.8 1015.3 L227.5 1009.5 L231.1 1003.6 L234.8 997.8 L238.5 992 L242.1 986.2 L245.8 980.4 L249.5 974.6 L253.2 968.8 L256.8 963.1 L260.5 957.3 L264.2 951.6 L267.8 945.9 L271.5 940.2 L275.2 934.5 L278.8 928.8 L282.5 923.3 L286.2 917.8 L289.9 912.5 L293.5 907.2 L297.2 902.1 L300.9 897.2 L304.5 892.4 L308.2 887.7 L311.9 883.1 L315.6 878.8 L319.2 874.6 L322.9 870.5 L326.6 866.6 L330.2 862.8 L333.9 859.2 L337.6 855.7 L341.3 852.4 L344.9 849.3 L348.6 846.4 L352.3 843.8 L355.9 841.5 L359.6 839.5 L363.3 837.7 L367 836.3 L370.6 835.3 L374.3 834.9 M591.2 1121.5 L587.5 1115.5 L583.8 1109.6 L580.2 1103.6 L576.5 1097.7 L572.8 1091.7 L569.1 1085.7 L565.5 1079.8 L561.8 1073.8 L558.1 1067.8 L554.4 1061.8 L550.8 1055.8 L547.1 1049.8 L543.4 1043.8 L539.7 1037.8 L536.1 1031.7 L532.4 1025.7 L528.7 1019.6 L525 1013.5 L521.4 1007.4 L517.7 1001.3 L514 995.2 L510.3 989.2 L506.6 983.2 L503 977.3 L499.3 971.5 L495.6 965.9 L491.9 960.4 L488.3 955.1 L484.6 950 L480.9 945.1 L477.2 940.3 L473.6 935.8 L469.9 931.3 L466.2 927 L462.5 922.7 L458.9 918.4 L455.2 914.1 L451.5 909.7 L447.8 905.2 L444.1 900.5 L440.5 895.7 L436.8 890.9 L433.1 886 L429.4 881.2 L425.8 876.4 L422.1 871.8 L418.4 867.3 L414.7 863 L411.1 859 L407.4 855.2 L403.7 851.7 L400 848.5 L396.4 845.5 L392.7 842.7 L389 840.3 L385.3 838.1 L381.7 836.4 L378 835.3 L374.3 834.9 M157.7 873 L161.4 873 L165 873 L168.7 873 L172.4 872.9 L176.1 872.9 L179.7 872.9 L183.4 872.8 L187.1 872.8 L190.7 872.7 L194.4 872.6 L198.1 872.6 L201.8 872.5 L205.4 872.4 L209.1 872.3 L212.8 872.2 L216.4 872.1 L220.1 872.1 L223.8 872 L227.5 871.9 L231.1 871.8 L234.8 871.7 L238.5 871.6 L242.1 871.5 L245.8 871.4 L249.5 871.3 L253.2 871.2 L256.8 871.1 L260.5 871 L264.2 870.9 L267.8 870.8 L271.5 870.7 L275.2 870.6 L278.8 870.4 L282.5 870.3 L286.2 870.2 L289.9 870.1 L293.5 870 L297.2 869.8 L300.9 869.7 L304.5 869.5 L308.2 869.4 L311.9 869.2 L315.6 869.1 L319.2 868.9 L322.9 868.7 L326.6 868.5 L330.2 868.3 L333.9 868.1 L337.6 867.9 L341.3 867.7 L344.9 867.5 L348.6 867.3 L352.3 867.1 L355.9 866.9 L359.6 866.8 L363.3 866.7 L367 866.6 L370.6 866.5 L374.3 866.5 M591.2 873 L587.5 873 L583.8 873 L580.2 873 L576.5 872.9 L572.8 872.9 L569.1 872.9 L565.5 872.8 L561.8 872.8 L558.1 872.7 L554.4 872.6 L550.8 872.6 L547.1 872.5 L543.4 872.4 L539.7 872.3 L536.1 872.2 L532.4 872.1 L528.7 872.1 L525 872 L521.4 871.9 L517.7 871.8 L514 871.7 L510.3 871.6 L506.6 871.5 L503 871.4 L499.3 871.3 L495.6 871.2 L491.9 871.1 L488.3 871 L484.6 870.9 L480.9 870.8 L477.2 870.7 L473.6 870.6 L469.9 870.4 L466.2 870.3 L462.5 870.2 L458.9 870.1 L455.2 870 L451.5 869.8 L447.8 869.7 L444.1 869.5 L440.5 869.4 L436.8 869.2 L433.1 869.1 L429.4 868.9 L425.8 868.7 L422.1 868.5 L418.4 868.3 L414.7 868.1 L411.1 867.9 L407.4 867.7 L403.7 867.5 L400 867.3 L396.4 867.1 L392.7 866.9 L389 866.8 L385.3 866.7 L381.7 866.6 L378 866.5 L374.3 866.5 M157.7 908.2 L161.4 908.2 L165 908.1 L168.7 908.1 L172.4 908 L176.1 907.9 L179.7 907.8 L183.4 907.6 L187.1 907.4 L190.7 907.2 L194.4 907 L198.1 906.8 L201.8 906.5 L205.4 906.3 L209.1 906 L212.8 905.7 L216.4 905.4 L220.1 905.1 L223.8 904.7 L227.5 904.4 L231.1 904 L234.8 903.7 L238.5 903.3 L242.1 902.9 L245.8 902.6 L249.5 902.2 L253.2 901.8 L256.8 901.4 L260.5 901 L264.2 900.7 L267.8 900.3 L271.5 899.9 L275.2 899.6 L278.8 899.3 L282.5 898.9 L286.2 898.6 L289.9 898.3 L293.5 898 L297.2 897.7 L300.9 897.5 L304.5 897.2 L308.2 897 L311.9 896.8 L315.6 896.6 L319.2 896.4 L322.9 896.2 L326.6 896 L330.2 895.9 L333.9 895.7 L337.6 895.6 L341.3 895.5 L344.9 895.4 L348.6 895.3 L352.3 895.2 L355.9 895.1 L359.6 895.1 L363.3 895.1 L367 895 L370.6 895 L374.3 895 M591.2 908.2 L587.5 908.2 L583.8 908.1 L580.2 908.1 L576.5 908 L572.8 907.9 L569.1 907.8 L565.5 907.6 L561.8 907.4 L558.1 907.2 L554.4 907 L550.8 906.8 L547.1 906.5 L543.4 906.3 L539.7 906 L536.1 905.7 L532.4 905.4 L528.7 905.1 L525 904.7 L521.4 904.4 L517.7 904 L514 903.7 L510.3 903.3 L506.6 902.9 L503 902.6 L499.3 902.2 L495.6 901.8 L491.9 901.4 L488.3 901 L484.6 900.7 L480.9 900.3 L477.2 899.9 L473.6 899.6 L469.9 899.3 L466.2 898.9 L462.5 898.6 L458.9 898.3 L455.2 898 L451.5 897.7 L447.8 897.5 L444.1 897.2 L440.5 897 L436.8 896.8 L433.1 896.6 L429.4 896.4 L425.8 896.2 L422.1 896 L418.4 895.9 L414.7 895.7 L411.1 895.6 L407.4 895.5 L403.7 895.4 L400 895.3 L396.4 895.2 L392.7 895.1 L389 895.1 L385.3 895.1 L381.7 895 L378 895 L374.3 895 M157.7 908.2 L161.4 908.4 L165 908.6 L168.7 908.8 L172.4 909 L176.1 909.4 L179.7 909.8 L183.4 910.3 L187.1 910.9 L190.7 911.6 L194.4 912.5 L198.1 913.5 L201.8 914.6 L205.4 916 L209.1 917.5 L212.8 919.2 L216.4 921 L220.1 922.9 L223.8 925 L227.5 927.2 L231.1 929.6 L234.8 932 L238.5 934.6 L242.1 937.3 L245.8 940.1 L249.5 942.9 L253.2 945.9 L256.8 948.8 L260.5 951.9 L264.2 954.9 L267.8 957.9 L271.5 960.9 L275.2 963.9 L278.8 966.8 L282.5 969.7 L286.2 972.5 L289.9 975.1 L293.5 977.7 L297.2 980.2 L300.9 982.7 L304.5 985.1 L308.2 987.6 L311.9 990 L315.6 992.5 L319.2 995 L322.9 997.6 L326.6 1000.4 L330.2 1003.2 L333.9 1006.2 L337.6 1009.2 L341.3 1012.4 L344.9 1015.5 L348.6 1018.6 L352.3 1021.7 L355.9 1024.6 L359.6 1027.4 L363.3 1029.7 L367 1031.6 L370.6 1032.8 L374.3 1033.2 M591.2 908.2 L587.5 908.4 L583.8 908.6 L580.2 908.8 L576.5 909 L572.8 909.4 L569.1 909.8 L565.5 910.3 L561.8 910.9 L558.1 911.6 L554.4 912.5 L550.8 913.5 L547.1 914.6 L543.4 916 L539.7 917.5 L536.1 919.2 L532.4 921 L528.7 922.9 L525 925 L521.4 927.2 L517.7 929.6 L514 932 L510.3 934.6 L506.6 937.3 L503 940.1 L499.3 942.9 L495.6 945.9 L491.9 948.8 L488.3 951.9 L484.6 954.9 L480.9 957.9 L477.2 960.9 L473.6 963.9 L469.9 966.8 L466.2 969.7 L462.5 972.5 L458.9 975.1 L455.2 977.7 L451.5 980.2 L447.8 982.7 L444.1 985.1 L440.5 987.6 L436.8 990 L433.1 992.5 L429.4 995 L425.8 997.6 L422.1 1000.4 L418.4 1003.2 L414.7 1006.2 L411.1 1009.2 L407.4 1012.4 L403.7 1015.5 L400 1018.6 L396.4 1021.7 L392.7 1024.6 L389 1027.4 L385.3 1029.7 L381.7 1031.6 L378 1032.8 L374.3 1033.2 M157.7 1121.5 L161.4 1118.6 L165 1115.8 L168.7 1113 L172.4 1110.2 L176.1 1107.4 L179.7 1104.7 L183.4 1102.1 L187.1 1099.5 L190.7 1097 L194.4 1094.5 L198.1 1092.1 L201.8 1089.7 L205.4 1087.3 L209.1 1084.9 L212.8 1082.6 L216.4 1080.3 L220.1 1077.9 L223.8 1075.6 L227.5 1073.3 L231.1 1071 L234.8 1068.6 L238.5 1066.3 L242.1 1064 L245.8 1061.7 L249.5 1059.4 L253.2 1057.1 L256.8 1054.8 L260.5 1052.5 L264.2 1050.2 L267.8 1047.9 L271.5 1045.7 L275.2 1043.5 L278.8 1041.3 L282.5 1039.1 L286.2 1037 L289.9 1035 L293.5 1033 L297.2 1031.1 L300.9 1029.3 L304.5 1027.6 L308.2 1026 L311.9 1024.4 L315.6 1023 L319.2 1021.7 L322.9 1020.5 L326.6 1019.4 L330.2 1018.4 L333.9 1017.5 L337.6 1016.7 L341.3 1016 L344.9 1015.5 L348.6 1015 L352.3 1014.6 L355.9 1014.4 L359.6 1014.2 L363.3 1014.1 L367 1014 L370.6 1014 L374.3 1014 M591.2 1121.5 L587.5 1119.1 L583.8 1116.7 L580.2 1114.3 L576.5 1111.8 L572.8 1109.4 L569.1 1107 L565.5 1104.6 L561.8 1102.2 L558.1 1099.8 L554.4 1097.3 L550.8 1094.9 L547.1 1092.5 L543.4 1090.1 L539.7 1087.7 L536.1 1085.3 L532.4 1082.9 L528.7 1080.5 L525 1078.1 L521.4 1075.8 L517.7 1073.4 L514 1071.2 L510.3 1068.9 L506.6 1066.7 L503 1064.5 L499.3 1062.3 L495.6 1060.2 L491.9 1058.2 L488.3 1056.2 L484.6 1054.2 L480.9 1052.3 L477.2 1050.4 L473.6 1048.6 L469.9 1046.8 L466.2 1045.1 L462.5 1043.4 L458.9 1041.8 L455.2 1040.2 L451.5 1038.6 L447.8 1037.1 L444.1 1035.7 L440.5 1034.3 L436.8 1032.9 L433.1 1031.6 L429.4 1030.3 L425.8 1029.1 L422.1 1027.8 L418.4 1026.6 L414.7 1025.3 L411.1 1024.1 L407.4 1022.7 L403.7 1021.4 L400 1020 L396.4 1018.7 L392.7 1017.5 L389 1016.3 L385.3 1015.4 L381.7 1014.6 L378 1014.2 L374.3 1014 M591.2 747.6 L594.4 747.6 L597.6 747.7 L600.8 747.8 L604 747.9 L607.2 748 L610.4 748.2 L613.6 748.4 L616.8 748.7 L620 748.9 L623.2 749.2 L626.4 749.6 L629.6 749.9 L632.8 750.3 L636 750.7 L639.1 751.2 L642.3 751.6 L645.5 752.2 L648.7 752.7 L651.9 753.3 L655.1 753.9 L658.3 754.6 L661.5 755.3 L664.7 756 L667.9 756.8 L671.1 757.6 L674.3 758.5 L677.5 759.4 L680.7 760.3 L683.9 761.2 L687.1 762.2 L690.3 763.2 L693.5 764.2 L696.7 765.2 L699.9 766.3 L703.1 767.3 L706.3 768.4 L709.5 769.4 L712.7 770.5 L715.9 771.6 L719.1 772.7 L722.3 773.8 L725.5 775 L728.7 776.1 L731.9 777.2 L735 778.4 L738.2 779.6 L741.4 780.8 L744.6 782 L747.8 783.1 L751 784.3 L754.2 785.4 L757.4 786.4 L760.6 787.3 L763.8 788.1 L767 788.7 L770.2 789.2 L773.4 789.6 L776.6 789.8 L779.8 789.9 M591.2 873.4 L594.4 873.4 L597.6 873.4 L600.8 873.4 L604 873.4 L607.2 873.4 L610.4 873.4 L613.6 873.5 L616.8 873.5 L620 873.5 L623.2 873.5 L626.4 873.5 L629.6 873.6 L632.8 873.6 L636 873.6 L639.1 873.6 L642.3 873.7 L645.5 873.7 L648.7 873.7 L651.9 873.8 L655.1 873.8 L658.3 873.8 L661.5 873.9 L664.7 873.9 L667.9 874 L671.1 874 L674.3 874.1 L677.5 874.1 L680.7 874.2 L683.9 874.2 L687.1 874.3 L690.3 874.3 L693.5 874.4 L696.7 874.4 L699.9 874.5 L703.1 874.5 L706.3 874.6 L709.5 874.6 L712.7 874.7 L715.9 874.7 L719.1 874.8 L722.3 874.8 L725.5 874.9 L728.7 874.9 L731.9 875 L735 875 L738.2 875.1 L741.4 875.1 L744.6 875.2 L747.8 875.2 L751 875.2 L754.2 875.3 L757.4 875.3 L760.6 875.3 L763.8 875.3 L767 875.4 L770.2 875.4 L773.4 875.4 L776.6 875.4 L779.8 875.4 M591.2 909 L594.4 909 L597.6 909 L600.8 908.9 L604 908.9 L607.2 908.8 L610.4 908.7 L613.6 908.7 L616.8 908.6 L620 908.5 L623.2 908.3 L626.4 908.2 L629.6 908.1 L632.8 908 L636 907.8 L639.1 907.7 L642.3 907.5 L645.5 907.4 L648.7 907.2 L651.9 907.1 L655.1 906.9 L658.3 906.8 L661.5 906.6 L664.7 906.5 L667.9 906.3 L671.1 906.2 L674.3 906 L677.5 905.8 L680.7 905.7 L683.9 905.5 L687.1 905.3 L690.3 905.2 L693.5 905 L696.7 904.8 L699.9 904.6 L703.1 904.5 L706.3 904.3 L709.5 904.1 L712.7 903.9 L715.9 903.7 L719.1 903.5 L722.3 903.3 L725.5 903.1 L728.7 902.8 L731.9 902.6 L735 902.4 L738.2 902.1 L741.4 901.9 L744.6 901.6 L747.8 901.4 L751 901.1 L754.2 900.8 L757.4 900.5 L760.6 900.3 L763.8 900 L767 899.8 L770.2 899.6 L773.4 899.4 L776.6 899.3 L779.8 899.3 M591.2 909 L594.4 909 L597.6 909.1 L600.8 909.1 L604 909.3 L607.2 909.4 L610.4 909.6 L613.6 909.8 L616.8 910 L620 910.3 L623.2 910.6 L626.4 910.9 L629.6 911.2 L632.8 911.6 L636 912 L639.1 912.5 L642.3 912.9 L645.5 913.4 L648.7 913.9 L651.9 914.4 L655.1 915 L658.3 915.6 L661.5 916.2 L664.7 916.8 L667.9 917.4 L671.1 918.1 L674.3 918.8 L677.5 919.5 L680.7 920.2 L683.9 920.9 L687.1 921.6 L690.3 922.3 L693.5 923 L696.7 923.8 L699.9 924.5 L703.1 925.3 L706.3 926 L709.5 926.8 L712.7 927.6 L715.9 928.3 L719.1 929.1 L722.3 929.9 L725.5 930.7 L728.7 931.4 L731.9 932.2 L735 933 L738.2 933.8 L741.4 934.6 L744.6 935.4 L747.8 936.2 L751 937 L754.2 937.7 L757.4 938.5 L760.6 939.1 L763.8 939.7 L767 940.2 L770.2 940.6 L773.4 940.9 L776.6 941.1 L779.8 941.2 M591.2 1121.5 L594.4 1117 L597.6 1112.5 L600.8 1107.9 L604 1103.1 L607.2 1098.2 L610.4 1093.1 L613.6 1087.9 L616.8 1082.5 L620 1077.1 L623.2 1071.7 L626.4 1066.2 L629.6 1060.8 L632.8 1055.4 L636 1050.1 L639.1 1044.8 L642.3 1039.8 L645.5 1034.8 L648.7 1030.1 L651.9 1025.4 L655.1 1020.9 L658.3 1016.5 L661.5 1012.2 L664.7 1008 L667.9 1003.8 L671.1 999.7 L674.3 995.5 L677.5 991.4 L680.7 987.3 L683.9 983.1 L687.1 978.9 L690.3 974.6 L693.5 970.4 L696.7 966.2 L699.9 962.1 L703.1 958 L706.3 954 L709.5 950.3 L712.7 946.8 L715.9 943.6 L719.1 940.7 L722.3 938.1 L725.5 935.7 L728.7 933.7 L731.9 931.9 L735 930.4 L738.2 929 L741.4 927.8 L744.6 926.8 L747.8 925.9 L751 925.2 L754.2 924.5 L757.4 923.9 L760.6 923.4 L763.8 923 L767 922.7 L770.2 922.4 L773.4 922.2 L776.6 922 L779.8 922 M591.2 1121.5 L594.4 1118 L597.6 1114.4 L600.8 1110.8 L604 1107.2 L607.2 1103.4 L610.4 1099.6 L613.6 1095.7 L616.8 1091.7 L620 1087.8 L623.2 1083.8 L626.4 1079.9 L629.6 1076 L632.8 1072.2 L636 1068.5 L639.1 1064.8 L642.3 1061.4 L645.5 1058 L648.7 1054.8 L651.9 1051.8 L655.1 1048.9 L658.3 1046 L661.5 1043.3 L664.7 1040.7 L667.9 1038.1 L671.1 1035.6 L674.3 1033.1 L677.5 1030.6 L680.7 1028.2 L683.9 1025.7 L687.1 1023.3 L690.3 1020.8 L693.5 1018.4 L696.7 1016 L699.9 1013.6 L703.1 1011.3 L706.3 1009 L709.5 1006.8 L712.7 1004.7 L715.9 1002.6 L719.1 1000.7 L722.3 998.8 L725.5 997 L728.7 995.4 L731.9 993.8 L735 992.3 L738.2 990.9 L741.4 989.6 L744.6 988.4 L747.8 987.3 L751 986.3 L754.2 985.3 L757.4 984.4 L760.6 983.6 L763.8 982.9 L767 982.3 L770.2 981.7 L773.4 981.3 L776.6 981.1 L779.8 981" stroke="#fb9bd9" stroke-width="5.4" fill="none" stroke-linejoin="round" stroke-linecap="butt" clip-path="url(#cb1)"/>
<path d="M157.7 737.2 L161.4 737.2 L165 737.2 L168.7 737.3 L172.4 737.4 L176.1 737.5 L179.7 737.7 L183.4 737.8 L187.1 738 L190.7 738.3 L194.4 738.5 L198.1 738.8 L201.8 739.2 L205.4 739.5 L209.1 739.9 L212.8 740.4 L216.4 740.8 L220.1 741.3 L223.8 741.9 L227.5 742.4 L231.1 743 L234.8 743.6 L238.5 744.2 L242.1 744.9 L245.8 745.6 L249.5 746.3 L253.2 747 L256.8 747.8 L260.5 748.7 L264.2 749.6 L267.8 750.6 L271.5 751.6 L275.2 752.8 L278.8 754 L282.5 755.3 L286.2 756.8 L289.9 758.3 L293.5 760 L297.2 761.7 L300.9 763.6 L304.5 765.5 L308.2 767.6 L311.9 769.7 L315.6 771.9 L319.2 774.1 L322.9 776.4 L326.6 778.8 L330.2 781.1 L333.9 783.6 L337.6 786 L341.3 788.3 L344.9 790.5 L348.6 792.6 L352.3 794.4 L355.9 795.9 L359.6 797.2 L363.3 798.3 L367 799 L370.6 799.5 L374.3 799.7 M591.2 737.2 L587.5 737.2 L583.8 737.2 L580.2 737.3 L576.5 737.4 L572.8 737.5 L569.1 737.7 L565.5 737.8 L561.8 738 L558.1 738.3 L554.4 738.5 L550.8 738.8 L547.1 739.2 L543.4 739.5 L539.7 739.9 L536.1 740.4 L532.4 740.8 L528.7 741.3 L525 741.9 L521.4 742.4 L517.7 743 L514 743.6 L510.3 744.2 L506.6 744.9 L503 745.6 L499.3 746.3 L495.6 747 L491.9 747.8 L488.3 748.7 L484.6 749.6 L480.9 750.6 L477.2 751.6 L473.6 752.8 L469.9 754 L466.2 755.3 L462.5 756.8 L458.9 758.3 L455.2 760 L451.5 761.7 L447.8 763.6 L444.1 765.5 L440.5 767.6 L436.8 769.7 L433.1 771.9 L429.4 774.1 L425.8 776.4 L422.1 778.8 L418.4 781.1 L414.7 783.6 L411.1 786 L407.4 788.3 L403.7 790.5 L400 792.6 L396.4 794.4 L392.7 795.9 L389 797.2 L385.3 798.3 L381.7 799 L378 799.5 L374.3 799.7 M157.7 1121.5 L161.4 1115.5 L165 1109.5 L168.7 1103.6 L172.4 1097.6 L176.1 1091.6 L179.7 1085.6 L183.4 1079.7 L187.1 1073.7 L190.7 1067.7 L194.4 1061.8 L198.1 1055.8 L201.8 1049.8 L205.4 1043.9 L209.1 1038 L212.8 1032 L216.4 1026.1 L220.1 1020.2 L223.8 1014.2 L227.5 1008.3 L231.1 1002.4 L234.8 996.6 L238.5 990.7 L242.1 984.8 L245.8 979 L249.5 973.1 L253.2 967.3 L256.8 961.5 L260.5 955.6 L264.2 949.9 L267.8 944.1 L271.5 938.3 L275.2 932.6 L278.8 926.9 L282.5 921.3 L286.2 915.7 L289.9 910.3 L293.5 904.9 L297.2 899.7 L300.9 894.6 L304.5 889.6 L308.2 884.8 L311.9 880.1 L315.6 875.6 L319.2 871.2 L322.9 866.9 L326.6 862.8 L330.2 858.9 L333.9 855.1 L337.6 851.4 L341.3 847.9 L344.9 844.6 L348.6 841.6 L352.3 838.8 L355.9 836.4 L359.6 834.2 L363.3 832.4 L367 830.9 L370.6 829.8 L374.3 829.4 M591.2 1121.5 L587.5 1115.5 L583.8 1109.5 L580.2 1103.4 L576.5 1097.4 L572.8 1091.4 L569.1 1085.4 L565.5 1079.3 L561.8 1073.3 L558.1 1067.3 L554.4 1061.2 L550.8 1055.2 L547.1 1049.1 L543.4 1043 L539.7 1036.9 L536.1 1030.8 L532.4 1024.7 L528.7 1018.6 L525 1012.4 L521.4 1006.3 L517.7 1000.1 L514 993.9 L510.3 987.8 L506.6 981.8 L503 975.9 L499.3 970 L495.6 964.3 L491.9 958.8 L488.3 953.4 L484.6 948.2 L480.9 943.3 L477.2 938.5 L473.6 933.9 L469.9 929.4 L466.2 925 L462.5 920.6 L458.9 916.3 L455.2 911.9 L451.5 907.4 L447.8 902.7 L444.1 897.9 L440.5 892.9 L436.8 887.9 L433.1 882.9 L429.4 877.9 L425.8 873 L422.1 868.1 L418.4 863.5 L414.7 859 L411.1 854.7 L407.4 850.8 L403.7 847.1 L400 843.7 L396.4 840.5 L392.7 837.6 L389 835 L385.3 832.8 L381.7 831 L378 829.8 L374.3 829.4 M157.7 863.2 L161.4 863.2 L165 863.2 L168.7 863.1 L172.4 863.1 L176.1 863 L179.7 863 L183.4 862.9 L187.1 862.8 L190.7 862.7 L194.4 862.6 L198.1 862.5 L201.8 862.4 L205.4 862.2 L209.1 862.1 L212.8 861.9 L216.4 861.8 L220.1 861.6 L223.8 861.5 L227.5 861.3 L231.1 861.1 L234.8 861 L238.5 860.8 L242.1 860.6 L245.8 860.5 L249.5 860.3 L253.2 860.1 L256.8 859.9 L260.5 859.8 L264.2 859.6 L267.8 859.4 L271.5 859.2 L275.2 859 L278.8 858.8 L282.5 858.6 L286.2 858.4 L289.9 858.2 L293.5 858 L297.2 857.8 L300.9 857.6 L304.5 857.4 L308.2 857.2 L311.9 857 L315.6 856.7 L319.2 856.5 L322.9 856.2 L326.6 856 L330.2 855.7 L333.9 855.5 L337.6 855.2 L341.3 855 L344.9 854.7 L348.6 854.5 L352.3 854.2 L355.9 854 L359.6 853.9 L363.3 853.7 L367 853.6 L370.6 853.5 L374.3 853.5 M591.2 863.2 L587.5 863.2 L583.8 863.2 L580.2 863.1 L576.5 863.1 L572.8 863 L569.1 863 L565.5 862.9 L561.8 862.8 L558.1 862.7 L554.4 862.6 L550.8 862.5 L547.1 862.4 L543.4 862.2 L539.7 862.1 L536.1 861.9 L532.4 861.8 L528.7 861.6 L525 861.5 L521.4 861.3 L517.7 861.1 L514 861 L510.3 860.8 L506.6 860.6 L503 860.5 L499.3 860.3 L495.6 860.1 L491.9 859.9 L488.3 859.8 L484.6 859.6 L480.9 859.4 L477.2 859.2 L473.6 859 L469.9 858.8 L466.2 858.6 L462.5 858.4 L458.9 858.2 L455.2 858 L451.5 857.8 L447.8 857.6 L444.1 857.4 L440.5 857.2 L436.8 857 L433.1 856.7 L429.4 856.5 L425.8 856.2 L422.1 856 L418.4 855.7 L414.7 855.5 L411.1 855.2 L407.4 855 L403.7 854.7 L400 854.5 L396.4 854.2 L392.7 854 L389 853.9 L385.3 853.7 L381.7 853.6 L378 853.5 L374.3 853.5 M157.7 898.3 L161.4 898.3 L165 898.3 L168.7 898.2 L172.4 898.1 L176.1 898 L179.7 897.9 L183.4 897.7 L187.1 897.6 L190.7 897.4 L194.4 897.2 L198.1 897 L201.8 896.7 L205.4 896.5 L209.1 896.2 L212.8 895.9 L216.4 895.6 L220.1 895.3 L223.8 895 L227.5 894.7 L231.1 894.4 L234.8 894 L238.5 893.7 L242.1 893.4 L245.8 893 L249.5 892.6 L253.2 892.3 L256.8 891.9 L260.5 891.6 L264.2 891.2 L267.8 890.9 L271.5 890.6 L275.2 890.3 L278.8 889.9 L282.5 889.6 L286.2 889.3 L289.9 889.1 L293.5 888.8 L297.2 888.6 L300.9 888.3 L304.5 888.1 L308.2 887.9 L311.9 887.7 L315.6 887.5 L319.2 887.3 L322.9 887.2 L326.6 887 L330.2 886.9 L333.9 886.8 L337.6 886.7 L341.3 886.6 L344.9 886.5 L348.6 886.4 L352.3 886.4 L355.9 886.3 L359.6 886.3 L363.3 886.2 L367 886.2 L370.6 886.2 L374.3 886.2 M591.2 898.3 L587.5 898.3 L583.8 898.3 L580.2 898.2 L576.5 898.1 L572.8 898 L569.1 897.9 L565.5 897.7 L561.8 897.6 L558.1 897.4 L554.4 897.2 L550.8 897 L547.1 896.7 L543.4 896.5 L539.7 896.2 L536.1 895.9 L532.4 895.6 L528.7 895.3 L525 895 L521.4 894.7 L517.7 894.4 L514 894 L510.3 893.7 L506.6 893.4 L503 893 L499.3 892.6 L495.6 892.3 L491.9 891.9 L488.3 891.6 L484.6 891.2 L480.9 890.9 L477.2 890.6 L473.6 890.3 L469.9 889.9 L466.2 889.6 L462.5 889.3 L458.9 889.1 L455.2 888.8 L451.5 888.6 L447.8 888.3 L444.1 888.1 L440.5 887.9 L436.8 887.7 L433.1 887.5 L429.4 887.3 L425.8 887.2 L422.1 887 L418.4 886.9 L414.7 886.8 L411.1 886.7 L407.4 886.6 L403.7 886.5 L400 886.4 L396.4 886.4 L392.7 886.3 L389 886.3 L385.3 886.2 L381.7 886.2 L378 886.2 L374.3 886.2 M157.7 898.3 L161.4 898.8 L165 899.2 L168.7 899.7 L172.4 900.3 L176.1 900.9 L179.7 901.6 L183.4 902.4 L187.1 903.3 L190.7 904.3 L194.4 905.4 L198.1 906.7 L201.8 908.2 L205.4 909.8 L209.1 911.6 L212.8 913.5 L216.4 915.5 L220.1 917.6 L223.8 919.9 L227.5 922.2 L231.1 924.6 L234.8 927 L238.5 929.5 L242.1 932 L245.8 934.6 L249.5 937.3 L253.2 940 L256.8 942.8 L260.5 945.7 L264.2 948.6 L267.8 951.6 L271.5 954.6 L275.2 957.7 L278.8 960.8 L282.5 964 L286.2 967.1 L289.9 970.3 L293.5 973.4 L297.2 976.5 L300.9 979.6 L304.5 982.7 L308.2 985.6 L311.9 988.5 L315.6 991.4 L319.2 994.2 L322.9 996.9 L326.6 999.5 L330.2 1002.2 L333.9 1004.7 L337.6 1007.3 L341.3 1009.8 L344.9 1012.3 L348.6 1014.7 L352.3 1017 L355.9 1019.2 L359.6 1021.3 L363.3 1023.1 L367 1024.6 L370.6 1025.5 L374.3 1025.9 M591.2 898.3 L587.5 898.8 L583.8 899.2 L580.2 899.7 L576.5 900.3 L572.8 900.9 L569.1 901.6 L565.5 902.4 L561.8 903.3 L558.1 904.3 L554.4 905.4 L550.8 906.7 L547.1 908.2 L543.4 909.8 L539.7 911.6 L536.1 913.5 L532.4 915.5 L528.7 917.6 L525 919.9 L521.4 922.2 L517.7 924.6 L514 927 L510.3 929.5 L506.6 932 L503 934.6 L499.3 937.3 L495.6 940 L491.9 942.8 L488.3 945.7 L484.6 948.6 L480.9 951.6 L477.2 954.6 L473.6 957.7 L469.9 960.8 L466.2 964 L462.5 967.1 L458.9 970.3 L455.2 973.4 L451.5 976.5 L447.8 979.6 L444.1 982.7 L440.5 985.6 L436.8 988.5 L433.1 991.4 L429.4 994.2 L425.8 996.9 L422.1 999.5 L418.4 1002.2 L414.7 1004.7 L411.1 1007.3 L407.4 1009.8 L403.7 1012.3 L400 1014.7 L396.4 1017 L392.7 1019.2 L389 1021.3 L385.3 1023.1 L381.7 1024.6 L378 1025.5 L374.3 1025.9 M157.7 1121.5 L161.4 1118.5 L165 1115.5 L168.7 1112.5 L172.4 1109.6 L176.1 1106.7 L179.7 1103.8 L183.4 1101 L187.1 1098.3 L190.7 1095.6 L194.4 1093 L198.1 1090.4 L201.8 1087.9 L205.4 1085.4 L209.1 1082.9 L212.8 1080.4 L216.4 1078 L220.1 1075.5 L223.8 1073.1 L227.5 1070.6 L231.1 1068.1 L234.8 1065.7 L238.5 1063.2 L242.1 1060.8 L245.8 1058.3 L249.5 1055.9 L253.2 1053.5 L256.8 1051 L260.5 1048.6 L264.2 1046.2 L267.8 1043.8 L271.5 1041.4 L275.2 1039.1 L278.8 1036.8 L282.5 1034.5 L286.2 1032.3 L289.9 1030.2 L293.5 1028.1 L297.2 1026.1 L300.9 1024.2 L304.5 1022.3 L308.2 1020.6 L311.9 1019 L315.6 1017.5 L319.2 1016.1 L322.9 1014.8 L326.6 1013.7 L330.2 1012.6 L333.9 1011.7 L337.6 1010.9 L341.3 1010.1 L344.9 1009.5 L348.6 1009 L352.3 1008.7 L355.9 1008.4 L359.6 1008.2 L363.3 1008.1 L367 1008 L370.6 1008 L374.3 1008 M591.2 1121.5 L587.5 1119 L583.8 1116.4 L580.2 1113.8 L576.5 1111.3 L572.8 1108.7 L569.1 1106.2 L565.5 1103.6 L561.8 1101.1 L558.1 1098.5 L554.4 1096 L550.8 1093.4 L547.1 1090.9 L543.4 1088.3 L539.7 1085.8 L536.1 1083.2 L532.4 1080.7 L528.7 1078.2 L525 1075.7 L521.4 1073.2 L517.7 1070.8 L514 1068.3 L510.3 1066 L506.6 1063.6 L503 1061.3 L499.3 1059 L495.6 1056.8 L491.9 1054.7 L488.3 1052.5 L484.6 1050.5 L480.9 1048.4 L477.2 1046.5 L473.6 1044.5 L469.9 1042.6 L466.2 1040.8 L462.5 1039 L458.9 1037.3 L455.2 1035.6 L451.5 1034 L447.8 1032.4 L444.1 1030.9 L440.5 1029.4 L436.8 1028 L433.1 1026.6 L429.4 1025.2 L425.8 1023.9 L422.1 1022.6 L418.4 1021.3 L414.7 1020 L411.1 1018.6 L407.4 1017.2 L403.7 1015.8 L400 1014.4 L396.4 1013 L392.7 1011.6 L389 1010.5 L385.3 1009.5 L381.7 1008.7 L378 1008.2 L374.3 1008 M591.2 736.8 L594.4 736.8 L597.6 736.9 L600.8 737 L604 737.1 L607.2 737.3 L610.4 737.5 L613.6 737.8 L616.8 738.1 L620 738.4 L623.2 738.8 L626.4 739.2 L629.6 739.6 L632.8 740 L636 740.5 L639.1 741.1 L642.3 741.7 L645.5 742.3 L648.7 742.9 L651.9 743.6 L655.1 744.3 L658.3 745.1 L661.5 745.9 L664.7 746.7 L667.9 747.6 L671.1 748.6 L674.3 749.5 L677.5 750.5 L680.7 751.6 L683.9 752.6 L687.1 753.7 L690.3 754.8 L693.5 755.9 L696.7 757.1 L699.9 758.2 L703.1 759.4 L706.3 760.6 L709.5 761.8 L712.7 762.9 L715.9 764.1 L719.1 765.3 L722.3 766.6 L725.5 767.8 L728.7 769 L731.9 770.2 L735 771.5 L738.2 772.8 L741.4 774 L744.6 775.3 L747.8 776.6 L751 777.8 L754.2 778.9 L757.4 780 L760.6 780.9 L763.8 781.8 L767 782.5 L770.2 783 L773.4 783.4 L776.6 783.6 L779.8 783.7 M591.2 863.3 L594.4 863.3 L597.6 863.3 L600.8 863.3 L604 863.3 L607.2 863.3 L610.4 863.3 L613.6 863.3 L616.8 863.3 L620 863.3 L623.2 863.4 L626.4 863.4 L629.6 863.4 L632.8 863.4 L636 863.4 L639.1 863.4 L642.3 863.4 L645.5 863.4 L648.7 863.5 L651.9 863.5 L655.1 863.5 L658.3 863.5 L661.5 863.6 L664.7 863.6 L667.9 863.6 L671.1 863.6 L674.3 863.7 L677.5 863.7 L680.7 863.7 L683.9 863.7 L687.1 863.8 L690.3 863.8 L693.5 863.9 L696.7 863.9 L699.9 863.9 L703.1 864 L706.3 864 L709.5 864 L712.7 864.1 L715.9 864.1 L719.1 864.2 L722.3 864.2 L725.5 864.2 L728.7 864.3 L731.9 864.3 L735 864.3 L738.2 864.4 L741.4 864.4 L744.6 864.4 L747.8 864.5 L751 864.5 L754.2 864.5 L757.4 864.5 L760.6 864.5 L763.8 864.6 L767 864.6 L770.2 864.6 L773.4 864.6 L776.6 864.6 L779.8 864.6 M591.2 899.3 L594.4 899.3 L597.6 899.3 L600.8 899.3 L604 899.2 L607.2 899.2 L610.4 899.1 L613.6 899.1 L616.8 899 L620 899 L623.2 898.9 L626.4 898.9 L629.6 898.8 L632.8 898.7 L636 898.7 L639.1 898.6 L642.3 898.5 L645.5 898.4 L648.7 898.4 L651.9 898.3 L655.1 898.2 L658.3 898.2 L661.5 898.1 L664.7 898.1 L667.9 898 L671.1 897.9 L674.3 897.9 L677.5 897.8 L680.7 897.7 L683.9 897.7 L687.1 897.6 L690.3 897.5 L693.5 897.5 L696.7 897.4 L699.9 897.3 L703.1 897.2 L706.3 897.1 L709.5 897 L712.7 896.9 L715.9 896.8 L719.1 896.7 L722.3 896.6 L725.5 896.4 L728.7 896.3 L731.9 896.1 L735 896 L738.2 895.8 L741.4 895.6 L744.6 895.4 L747.8 895.2 L751 895 L754.2 894.8 L757.4 894.5 L760.6 894.3 L763.8 894 L767 893.8 L770.2 893.7 L773.4 893.5 L776.6 893.4 L779.8 893.4 M591.2 899.3 L594.4 899.3 L597.6 899.3 L600.8 899.4 L604 899.5 L607.2 899.6 L610.4 899.7 L613.6 899.9 L616.8 900.1 L620 900.3 L623.2 900.5 L626.4 900.8 L629.6 901 L632.8 901.3 L636 901.6 L639.1 902 L642.3 902.4 L645.5 902.8 L648.7 903.2 L651.9 903.6 L655.1 904.1 L658.3 904.6 L661.5 905.1 L664.7 905.6 L667.9 906.1 L671.1 906.7 L674.3 907.2 L677.5 907.8 L680.7 908.4 L683.9 909 L687.1 909.6 L690.3 910.3 L693.5 910.9 L696.7 911.6 L699.9 912.2 L703.1 912.9 L706.3 913.6 L709.5 914.3 L712.7 914.9 L715.9 915.6 L719.1 916.3 L722.3 917 L725.5 917.8 L728.7 918.5 L731.9 919.2 L735 920 L738.2 920.7 L741.4 921.5 L744.6 922.3 L747.8 923 L751 923.8 L754.2 924.6 L757.4 925.3 L760.6 925.9 L763.8 926.5 L767 927 L770.2 927.4 L773.4 927.7 L776.6 927.9 L779.8 928 M591.2 1121.5 L594.4 1117 L597.6 1112.4 L600.8 1107.7 L604 1102.9 L607.2 1098 L610.4 1092.8 L613.6 1087.5 L616.8 1082.1 L620 1076.7 L623.2 1071.2 L626.4 1065.7 L629.6 1060.2 L632.8 1054.7 L636 1049.3 L639.1 1044.1 L642.3 1038.9 L645.5 1033.9 L648.7 1029.1 L651.9 1024.4 L655.1 1019.9 L658.3 1015.5 L661.5 1011.1 L664.7 1006.8 L667.9 1002.6 L671.1 998.4 L674.3 994.3 L677.5 990.1 L680.7 985.9 L683.9 981.7 L687.1 977.4 L690.3 973.1 L693.5 968.9 L696.7 964.6 L699.9 960.4 L703.1 956.3 L706.3 952.3 L709.5 948.5 L712.7 945 L715.9 941.7 L719.1 938.7 L722.3 935.9 L725.5 933.5 L728.7 931.3 L731.9 929.4 L735 927.7 L738.2 926.2 L741.4 924.9 L744.6 923.7 L747.8 922.6 L751 921.7 L754.2 920.9 L757.4 920.2 L760.6 919.6 L763.8 919.1 L767 918.6 L770.2 918.3 L773.4 918 L776.6 917.9 L779.8 917.8 M591.2 1121.5 L594.4 1118 L597.6 1114.4 L600.8 1110.8 L604 1107.1 L607.2 1103.3 L610.4 1099.5 L613.6 1095.5 L616.8 1091.6 L620 1087.6 L623.2 1083.6 L626.4 1079.7 L629.6 1075.8 L632.8 1071.9 L636 1068.2 L639.1 1064.5 L642.3 1061 L645.5 1057.7 L648.7 1054.5 L651.9 1051.4 L655.1 1048.5 L658.3 1045.6 L661.5 1042.9 L664.7 1040.2 L667.9 1037.7 L671.1 1035.1 L674.3 1032.6 L677.5 1030.1 L680.7 1027.7 L683.9 1025.2 L687.1 1022.8 L690.3 1020.3 L693.5 1017.8 L696.7 1015.4 L699.9 1013 L703.1 1010.7 L706.3 1008.4 L709.5 1006.2 L712.7 1004 L715.9 1002 L719.1 1000 L722.3 998.1 L725.5 996.3 L728.7 994.6 L731.9 993 L735 991.5 L738.2 990.1 L741.4 988.8 L744.6 987.5 L747.8 986.4 L751 985.3 L754.2 984.4 L757.4 983.5 L760.6 982.7 L763.8 981.9 L767 981.3 L770.2 980.7 L773.4 980.3 L776.6 980.1 L779.8 980" stroke="#1626e6" stroke-width="5.4" fill="none" stroke-linejoin="round" stroke-linecap="butt" clip-path="url(#cb1)"/>
<path d="M157.7 732.8 L161.4 732.8 L165 732.9 L168.7 732.9 L172.4 733 L176.1 733.1 L179.7 733.3 L183.4 733.5 L187.1 733.7 L190.7 733.9 L194.4 734.2 L198.1 734.5 L201.8 734.8 L205.4 735.2 L209.1 735.6 L212.8 736.1 L216.4 736.6 L220.1 737.1 L223.8 737.6 L227.5 738.2 L231.1 738.8 L234.8 739.4 L238.5 740.1 L242.1 740.8 L245.8 741.5 L249.5 742.2 L253.2 743 L256.8 743.8 L260.5 744.7 L264.2 745.6 L267.8 746.6 L271.5 747.7 L275.2 748.9 L278.8 750.1 L282.5 751.5 L286.2 752.9 L289.9 754.5 L293.5 756.2 L297.2 758 L300.9 759.9 L304.5 761.9 L308.2 763.9 L311.9 766.1 L315.6 768.3 L319.2 770.6 L322.9 772.9 L326.6 775.3 L330.2 777.7 L333.9 780.2 L337.6 782.6 L341.3 785 L344.9 787.2 L348.6 789.3 L352.3 791.1 L355.9 792.7 L359.6 794 L363.3 795 L367 795.8 L370.6 796.3 L374.3 796.5 M591.2 732.8 L587.5 732.8 L583.8 732.9 L580.2 732.9 L576.5 733 L572.8 733.1 L569.1 733.3 L565.5 733.5 L561.8 733.7 L558.1 733.9 L554.4 734.2 L550.8 734.5 L547.1 734.8 L543.4 735.2 L539.7 735.6 L536.1 736.1 L532.4 736.6 L528.7 737.1 L525 737.6 L521.4 738.2 L517.7 738.8 L514 739.4 L510.3 740.1 L506.6 740.8 L503 741.5 L499.3 742.2 L495.6 743 L491.9 743.8 L488.3 744.7 L484.6 745.6 L480.9 746.6 L477.2 747.7 L473.6 748.9 L469.9 750.1 L466.2 751.5 L462.5 752.9 L458.9 754.5 L455.2 756.2 L451.5 758 L447.8 759.9 L444.1 761.9 L440.5 763.9 L436.8 766.1 L433.1 768.3 L429.4 770.6 L425.8 772.9 L422.1 775.3 L418.4 777.7 L414.7 780.2 L411.1 782.6 L407.4 785 L403.7 787.2 L400 789.3 L396.4 791.1 L392.7 792.7 L389 794 L385.3 795 L381.7 795.8 L378 796.3 L374.3 796.5 M157.7 1121.5 L161.4 1115.5 L165 1109.5 L168.7 1103.6 L172.4 1097.6 L176.1 1091.6 L179.7 1085.6 L183.4 1079.7 L187.1 1073.7 L190.7 1067.7 L194.4 1061.8 L198.1 1055.8 L201.8 1049.8 L205.4 1043.9 L209.1 1038 L212.8 1032 L216.4 1026.1 L220.1 1020.2 L223.8 1014.2 L227.5 1008.3 L231.1 1002.4 L234.8 996.6 L238.5 990.7 L242.1 984.8 L245.8 979 L249.5 973.1 L253.2 967.3 L256.8 961.5 L260.5 955.6 L264.2 949.9 L267.8 944.1 L271.5 938.3 L275.2 932.6 L278.8 926.9 L282.5 921.2 L286.2 915.6 L289.9 910 L293.5 904.6 L297.2 899.2 L300.9 893.8 L304.5 888.6 L308.2 883.5 L311.9 878.5 L315.6 873.7 L319.2 868.9 L322.9 864.3 L326.6 859.8 L330.2 855.5 L333.9 851.3 L337.6 847.3 L341.3 843.4 L344.9 839.8 L348.6 836.4 L352.3 833.3 L355.9 830.5 L359.6 828.2 L363.3 826.1 L367 824.4 L370.6 823.2 L374.3 822.8 M591.2 1121.5 L587.5 1115.5 L583.8 1109.5 L580.2 1103.4 L576.5 1097.4 L572.8 1091.4 L569.1 1085.4 L565.5 1079.3 L561.8 1073.3 L558.1 1067.3 L554.4 1061.2 L550.8 1055.2 L547.1 1049.1 L543.4 1043 L539.7 1036.9 L536.1 1030.8 L532.4 1024.7 L528.7 1018.6 L525 1012.4 L521.4 1006.3 L517.7 1000.1 L514 993.9 L510.3 987.8 L506.6 981.8 L503 975.9 L499.3 970 L495.6 964.3 L491.9 958.8 L488.3 953.4 L484.6 948.2 L480.9 943.3 L477.2 938.5 L473.6 933.9 L469.9 929.4 L466.2 925 L462.5 920.5 L458.9 916.1 L455.2 911.5 L451.5 906.8 L447.8 901.9 L444.1 896.9 L440.5 891.7 L436.8 886.4 L433.1 881.1 L429.4 875.7 L425.8 870.4 L422.1 865.2 L418.4 860.2 L414.7 855.3 L411.1 850.7 L407.4 846.3 L403.7 842.3 L400 838.5 L396.4 835 L392.7 831.8 L389 829 L385.3 826.5 L381.7 824.5 L378 823.3 L374.3 822.8 M157.7 858.8 L161.4 858.8 L165 858.8 L168.7 858.7 L172.4 858.7 L176.1 858.6 L179.7 858.5 L183.4 858.4 L187.1 858.3 L190.7 858.2 L194.4 858 L198.1 857.9 L201.8 857.7 L205.4 857.6 L209.1 857.4 L212.8 857.2 L216.4 857 L220.1 856.8 L223.8 856.6 L227.5 856.4 L231.1 856.2 L234.8 856 L238.5 855.7 L242.1 855.5 L245.8 855.3 L249.5 855.1 L253.2 854.8 L256.8 854.6 L260.5 854.4 L264.2 854.2 L267.8 853.9 L271.5 853.7 L275.2 853.4 L278.8 853.2 L282.5 852.9 L286.2 852.7 L289.9 852.4 L293.5 852.2 L297.2 851.9 L300.9 851.7 L304.5 851.4 L308.2 851.1 L311.9 850.8 L315.6 850.6 L319.2 850.3 L322.9 850 L326.6 849.7 L330.2 849.4 L333.9 849.1 L337.6 848.8 L341.3 848.5 L344.9 848.2 L348.6 848 L352.3 847.7 L355.9 847.5 L359.6 847.3 L363.3 847.1 L367 847 L370.6 846.9 L374.3 846.9 M591.2 858.8 L587.5 858.8 L583.8 858.8 L580.2 858.7 L576.5 858.7 L572.8 858.6 L569.1 858.5 L565.5 858.4 L561.8 858.3 L558.1 858.2 L554.4 858 L550.8 857.9 L547.1 857.7 L543.4 857.6 L539.7 857.4 L536.1 857.2 L532.4 857 L528.7 856.8 L525 856.6 L521.4 856.4 L517.7 856.2 L514 856 L510.3 855.7 L506.6 855.5 L503 855.3 L499.3 855.1 L495.6 854.8 L491.9 854.6 L488.3 854.4 L484.6 854.2 L480.9 853.9 L477.2 853.7 L473.6 853.4 L469.9 853.2 L466.2 852.9 L462.5 852.7 L458.9 852.4 L455.2 852.2 L451.5 851.9 L447.8 851.7 L444.1 851.4 L440.5 851.1 L436.8 850.8 L433.1 850.6 L429.4 850.3 L425.8 850 L422.1 849.7 L418.4 849.4 L414.7 849.1 L411.1 848.8 L407.4 848.5 L403.7 848.2 L400 848 L396.4 847.7 L392.7 847.5 L389 847.3 L385.3 847.1 L381.7 847 L378 846.9 L374.3 846.9 M157.7 902.7 L161.4 902.7 L165 902.7 L168.7 902.6 L172.4 902.5 L176.1 902.4 L179.7 902.3 L183.4 902.1 L187.1 902 L190.7 901.8 L194.4 901.6 L198.1 901.4 L201.8 901.1 L205.4 900.9 L209.1 900.6 L212.8 900.3 L216.4 900.1 L220.1 899.8 L223.8 899.4 L227.5 899.1 L231.1 898.8 L234.8 898.5 L238.5 898.1 L242.1 897.8 L245.8 897.4 L249.5 897.1 L253.2 896.7 L256.8 896.4 L260.5 896 L264.2 895.7 L267.8 895.3 L271.5 895 L275.2 894.7 L278.8 894.4 L282.5 894.1 L286.2 893.8 L289.9 893.5 L293.5 893.2 L297.2 893 L300.9 892.7 L304.5 892.5 L308.2 892.3 L311.9 892.1 L315.6 891.9 L319.2 891.8 L322.9 891.6 L326.6 891.5 L330.2 891.3 L333.9 891.2 L337.6 891.1 L341.3 891 L344.9 890.9 L348.6 890.8 L352.3 890.8 L355.9 890.7 L359.6 890.7 L363.3 890.6 L367 890.6 L370.6 890.6 L374.3 890.6 M591.2 902.7 L587.5 902.7 L583.8 902.7 L580.2 902.6 L576.5 902.5 L572.8 902.4 L569.1 902.3 L565.5 902.1 L561.8 902 L558.1 901.8 L554.4 901.6 L550.8 901.4 L547.1 901.1 L543.4 900.9 L539.7 900.6 L536.1 900.3 L532.4 900.1 L528.7 899.8 L525 899.4 L521.4 899.1 L517.7 898.8 L514 898.5 L510.3 898.1 L506.6 897.8 L503 897.4 L499.3 897.1 L495.6 896.7 L491.9 896.4 L488.3 896 L484.6 895.7 L480.9 895.3 L477.2 895 L473.6 894.7 L469.9 894.4 L466.2 894.1 L462.5 893.8 L458.9 893.5 L455.2 893.2 L451.5 893 L447.8 892.7 L444.1 892.5 L440.5 892.3 L436.8 892.1 L433.1 891.9 L429.4 891.8 L425.8 891.6 L422.1 891.5 L418.4 891.3 L414.7 891.2 L411.1 891.1 L407.4 891 L403.7 890.9 L400 890.8 L396.4 890.8 L392.7 890.7 L389 890.7 L385.3 890.6 L381.7 890.6 L378 890.6 L374.3 890.6 M157.7 902.7 L161.4 903 L165 903.3 L168.7 903.7 L172.4 904.1 L176.1 904.5 L179.7 905.1 L183.4 905.6 L187.1 906.3 L190.7 907.1 L194.4 908 L198.1 909.1 L201.8 910.2 L205.4 911.6 L209.1 913 L212.8 914.6 L216.4 916.3 L220.1 918.1 L223.8 920.1 L227.5 922.1 L231.1 924.2 L234.8 926.4 L238.5 928.7 L242.1 931.1 L245.8 933.5 L249.5 936 L253.2 938.5 L256.8 941 L260.5 943.6 L264.2 946.2 L267.8 948.8 L271.5 951.5 L275.2 954.1 L278.8 956.8 L282.5 959.5 L286.2 962.2 L289.9 964.9 L293.5 967.7 L297.2 970.5 L300.9 973.4 L304.5 976.2 L308.2 979.1 L311.9 982.1 L315.6 985 L319.2 988 L322.9 990.9 L326.6 993.7 L330.2 996.4 L333.9 998.9 L337.6 1001.3 L341.3 1003.4 L344.9 1005.3 L348.6 1007 L352.3 1008.5 L355.9 1009.9 L359.6 1011.2 L363.3 1012.3 L367 1013.2 L370.6 1013.9 L374.3 1014.1 M591.2 902.7 L587.5 903 L583.8 903.3 L580.2 903.7 L576.5 904.1 L572.8 904.5 L569.1 905.1 L565.5 905.6 L561.8 906.3 L558.1 907.1 L554.4 908 L550.8 909.1 L547.1 910.2 L543.4 911.6 L539.7 913 L536.1 914.6 L532.4 916.3 L528.7 918.1 L525 920.1 L521.4 922.1 L517.7 924.2 L514 926.4 L510.3 928.7 L506.6 931.1 L503 933.5 L499.3 936 L495.6 938.5 L491.9 941 L488.3 943.6 L484.6 946.2 L480.9 948.8 L477.2 951.5 L473.6 954.1 L469.9 956.8 L466.2 959.5 L462.5 962.2 L458.9 964.9 L455.2 967.7 L451.5 970.5 L447.8 973.4 L444.1 976.2 L440.5 979.1 L436.8 982.1 L433.1 985 L429.4 988 L425.8 990.9 L422.1 993.7 L418.4 996.4 L414.7 998.9 L411.1 1001.3 L407.4 1003.4 L403.7 1005.3 L400 1007 L396.4 1008.5 L392.7 1009.9 L389 1011.2 L385.3 1012.3 L381.7 1013.2 L378 1013.9 L374.3 1014.1 M157.7 1121.5 L161.4 1118.4 L165 1115.3 L168.7 1112.3 L172.4 1109.3 L176.1 1106.3 L179.7 1103.4 L183.4 1100.6 L187.1 1097.8 L190.7 1095 L194.4 1092.4 L198.1 1089.7 L201.8 1087.1 L205.4 1084.6 L209.1 1082 L212.8 1079.5 L216.4 1077 L220.1 1074.5 L223.8 1071.9 L227.5 1069.4 L231.1 1066.9 L234.8 1064.4 L238.5 1061.9 L242.1 1059.4 L245.8 1056.9 L249.5 1054.4 L253.2 1051.9 L256.8 1049.4 L260.5 1046.9 L264.2 1044.5 L267.8 1042 L271.5 1039.6 L275.2 1037.2 L278.8 1034.9 L282.5 1032.5 L286.2 1030.3 L289.9 1028.1 L293.5 1025.9 L297.2 1023.9 L300.9 1021.9 L304.5 1020.1 L308.2 1018.3 L311.9 1016.7 L315.6 1015.1 L319.2 1013.7 L322.9 1012.4 L326.6 1011.2 L330.2 1010.1 L333.9 1009.2 L337.6 1008.3 L341.3 1007.6 L344.9 1007 L348.6 1006.5 L352.3 1006.1 L355.9 1005.8 L359.6 1005.6 L363.3 1005.5 L367 1005.4 L370.6 1005.4 L374.3 1005.4 M591.2 1121.5 L587.5 1118.9 L583.8 1116.3 L580.2 1113.7 L576.5 1111.1 L572.8 1108.5 L569.1 1105.8 L565.5 1103.2 L561.8 1100.6 L558.1 1098 L554.4 1095.4 L550.8 1092.8 L547.1 1090.2 L543.4 1087.6 L539.7 1085 L536.1 1082.4 L532.4 1079.8 L528.7 1077.2 L525 1074.6 L521.4 1072.1 L517.7 1069.6 L514 1067.1 L510.3 1064.7 L506.6 1062.3 L503 1059.9 L499.3 1057.6 L495.6 1055.3 L491.9 1053.1 L488.3 1051 L484.6 1048.8 L480.9 1046.8 L477.2 1044.7 L473.6 1042.8 L469.9 1040.8 L466.2 1039 L462.5 1037.1 L458.9 1035.4 L455.2 1033.6 L451.5 1032 L447.8 1030.4 L444.1 1028.8 L440.5 1027.3 L436.8 1025.8 L433.1 1024.4 L429.4 1023 L425.8 1021.7 L422.1 1020.3 L418.4 1019 L414.7 1017.6 L411.1 1016.3 L407.4 1014.8 L403.7 1013.4 L400 1011.9 L396.4 1010.5 L392.7 1009.1 L389 1007.9 L385.3 1006.9 L381.7 1006.1 L378 1005.6 L374.3 1005.4 M591.2 732.5 L594.4 732.5 L597.6 732.6 L600.8 732.7 L604 732.8 L607.2 733 L610.4 733.3 L613.6 733.5 L616.8 733.8 L620 734.2 L623.2 734.6 L626.4 735 L629.6 735.4 L632.8 735.9 L636 736.4 L639.1 737 L642.3 737.6 L645.5 738.2 L648.7 738.9 L651.9 739.6 L655.1 740.3 L658.3 741.1 L661.5 742 L664.7 742.9 L667.9 743.8 L671.1 744.7 L674.3 745.7 L677.5 746.8 L680.7 747.8 L683.9 748.9 L687.1 750 L690.3 751.2 L693.5 752.3 L696.7 753.5 L699.9 754.7 L703.1 755.9 L706.3 757.1 L709.5 758.3 L712.7 759.5 L715.9 760.7 L719.1 762 L722.3 763.2 L725.5 764.5 L728.7 765.7 L731.9 767 L735 768.3 L738.2 769.6 L741.4 770.9 L744.6 772.2 L747.8 773.4 L751 774.7 L754.2 775.8 L757.4 776.9 L760.6 777.9 L763.8 778.7 L767 779.4 L770.2 780 L773.4 780.4 L776.6 780.6 L779.8 780.7 M591.2 859.4 L594.4 859.4 L597.6 859.4 L600.8 859.4 L604 859.4 L607.2 859.4 L610.4 859.4 L613.6 859.4 L616.8 859.4 L620 859.4 L623.2 859.4 L626.4 859.4 L629.6 859.4 L632.8 859.4 L636 859.4 L639.1 859.4 L642.3 859.4 L645.5 859.4 L648.7 859.4 L651.9 859.4 L655.1 859.4 L658.3 859.5 L661.5 859.5 L664.7 859.5 L667.9 859.5 L671.1 859.5 L674.3 859.5 L677.5 859.5 L680.7 859.5 L683.9 859.6 L687.1 859.6 L690.3 859.6 L693.5 859.6 L696.7 859.6 L699.9 859.7 L703.1 859.7 L706.3 859.7 L709.5 859.7 L712.7 859.7 L715.9 859.8 L719.1 859.8 L722.3 859.8 L725.5 859.8 L728.7 859.9 L731.9 859.9 L735 859.9 L738.2 859.9 L741.4 860 L744.6 860 L747.8 860 L751 860 L754.2 860 L757.4 860 L760.6 860.1 L763.8 860.1 L767 860.1 L770.2 860.1 L773.4 860.1 L776.6 860.1 L779.8 860.1 M591.2 902.2 L594.4 902.2 L597.6 902.2 L600.8 902.1 L604 902 L607.2 901.9 L610.4 901.8 L613.6 901.7 L616.8 901.5 L620 901.4 L623.2 901.2 L626.4 901 L629.6 900.8 L632.8 900.6 L636 900.4 L639.1 900.1 L642.3 899.9 L645.5 899.6 L648.7 899.4 L651.9 899.1 L655.1 898.9 L658.3 898.6 L661.5 898.4 L664.7 898.1 L667.9 897.8 L671.1 897.5 L674.3 897.3 L677.5 897 L680.7 896.7 L683.9 896.4 L687.1 896.1 L690.3 895.8 L693.5 895.5 L696.7 895.2 L699.9 894.9 L703.1 894.6 L706.3 894.3 L709.5 894 L712.7 893.7 L715.9 893.4 L719.1 893.1 L722.3 892.8 L725.5 892.5 L728.7 892.1 L731.9 891.8 L735 891.5 L738.2 891.2 L741.4 890.8 L744.6 890.5 L747.8 890.1 L751 889.8 L754.2 889.4 L757.4 889.1 L760.6 888.7 L763.8 888.4 L767 888.2 L770.2 887.9 L773.4 887.8 L776.6 887.6 L779.8 887.6 M591.2 902.2 L594.4 902.2 L597.6 902.3 L600.8 902.3 L604 902.4 L607.2 902.6 L610.4 902.8 L613.6 903 L616.8 903.2 L620 903.4 L623.2 903.7 L626.4 904 L629.6 904.4 L632.8 904.8 L636 905.2 L639.1 905.6 L642.3 906 L645.5 906.5 L648.7 907 L651.9 907.5 L655.1 908.1 L658.3 908.7 L661.5 909.3 L664.7 909.9 L667.9 910.5 L671.1 911.1 L674.3 911.8 L677.5 912.5 L680.7 913.2 L683.9 913.9 L687.1 914.6 L690.3 915.3 L693.5 916.1 L696.7 916.8 L699.9 917.5 L703.1 918.3 L706.3 919.1 L709.5 919.8 L712.7 920.6 L715.9 921.3 L719.1 922.1 L722.3 922.9 L725.5 923.7 L728.7 924.5 L731.9 925.3 L735 926.1 L738.2 926.9 L741.4 927.7 L744.6 928.5 L747.8 929.3 L751 930.1 L754.2 930.9 L757.4 931.6 L760.6 932.3 L763.8 932.9 L767 933.4 L770.2 933.8 L773.4 934.1 L776.6 934.3 L779.8 934.4 M591.2 1121.5 L594.4 1117 L597.6 1112.4 L600.8 1107.7 L604 1102.9 L607.2 1098 L610.4 1092.8 L613.6 1087.5 L616.8 1082.1 L620 1076.7 L623.2 1071.2 L626.4 1065.7 L629.6 1060.2 L632.8 1054.7 L636 1049.3 L639.1 1044.1 L642.3 1038.9 L645.5 1033.9 L648.7 1029.1 L651.9 1024.4 L655.1 1019.9 L658.3 1015.5 L661.5 1011.1 L664.7 1006.8 L667.9 1002.6 L671.1 998.4 L674.3 994.3 L677.5 990.1 L680.7 985.9 L683.9 981.7 L687.1 977.4 L690.3 973.1 L693.5 968.9 L696.7 964.6 L699.9 960.4 L703.1 956.3 L706.3 952.3 L709.5 948.5 L712.7 944.8 L715.9 941.3 L719.1 938 L722.3 935 L725.5 932.2 L728.7 929.6 L731.9 927.3 L735 925.1 L738.2 923.1 L741.4 921.3 L744.6 919.6 L747.8 918.1 L751 916.7 L754.2 915.4 L757.4 914.2 L760.6 913.2 L763.8 912.3 L767 911.5 L770.2 910.9 L773.4 910.4 L776.6 910.1 L779.8 910 M591.2 1121.5 L594.4 1118 L597.6 1114.4 L600.8 1110.8 L604 1107.1 L607.2 1103.3 L610.4 1099.5 L613.6 1095.5 L616.8 1091.6 L620 1087.6 L623.2 1083.6 L626.4 1079.7 L629.6 1075.8 L632.8 1071.9 L636 1068.2 L639.1 1064.5 L642.3 1061 L645.5 1057.7 L648.7 1054.4 L651.9 1051.4 L655.1 1048.4 L658.3 1045.6 L661.5 1042.9 L664.7 1040.2 L667.9 1037.6 L671.1 1035.1 L674.3 1032.6 L677.5 1030.1 L680.7 1027.6 L683.9 1025.2 L687.1 1022.7 L690.3 1020.2 L693.5 1017.8 L696.7 1015.3 L699.9 1012.9 L703.1 1010.5 L706.3 1008.2 L709.5 1005.9 L712.7 1003.7 L715.9 1001.6 L719.1 999.5 L722.3 997.5 L725.5 995.7 L728.7 993.9 L731.9 992.2 L735 990.6 L738.2 989.1 L741.4 987.7 L744.6 986.4 L747.8 985.2 L751 984.1 L754.2 983 L757.4 982 L760.6 981.2 L763.8 980.4 L767 979.7 L770.2 979.1 L773.4 978.7 L776.6 978.4 L779.8 978.3" stroke="#fee237" stroke-width="5.4" fill="none" stroke-linejoin="round" stroke-linecap="butt" clip-path="url(#cb1)"/>
<path d="M780.5 705 L782.3 712.7 L784.3 729.3 L786.2 763.4 L786.2 807.3 L787.7 817.1 L791.6 825.9 L814 828.8 L817 833.7 L833.5 836.6 L977 838 L794.5 839.5 L786 845 L785 860 L787 870 L800.8 882.4 L789.6 892.5 L786.2 909.3 L783.4 928.4 L789.6 939.7 L782.9 950.9 L790.7 971.1 L794.1 993.6 L784 1010.4 L780.6 1016 L780.3 1121" stroke="#a400da" stroke-width="5.4" fill="none" stroke-linejoin="round" clip-path="url(#cd1)"/>
<path d="M780.5 730 L783 755 L785.5 790 L785 825 L787 848 L790 860 L814 865.9 L814 871.7 L856 873.7 L790 876 L795 885 L793 900 L789 925 L787 950 L789 975 L792 998 L794.1 1021.7 L786.2 1032.9 L781 1050 L780.5 1121" stroke="#fb9bd9" stroke-width="5.4" fill="none" stroke-linejoin="round" clip-path="url(#cd1)"/>
<path d="M780.5 722 L783 745 L786 785 L785 820 L787 840 L789.6 849.3 L814 853.2 L818 859.5 L944 862 L790 864.5 L787 875 L800.8 895.8 L792 905 L788 925 L786 950 L788 975 L791 995 L788.5 1021.7 L781 1040 L780.5 1121" stroke="#1626e6" stroke-width="5.4" fill="none" stroke-linejoin="round" clip-path="url(#cd1)"/>
<path d="M780.5 720 L783.3 739 L786.7 778 L784.8 817 L788.7 836.6 L794.5 844.4 L809.1 847.3 L807.2 856 L855 858.7 L786 861.3 L794.5 873.7 L795.2 875.6 L794.1 892.5 L789.6 920.6 L786.2 948.7 L787.4 971.1 L789.6 993.6 L797.5 1008.2 L785.1 1016.1 L781.7 1038.5 L780.6 1121" stroke="#fee237" stroke-width="5.4" fill="none" stroke-linejoin="round" clip-path="url(#cd1)"/>
<rect x="157.7" y="664.8" width="828.9" height="475" fill="none" stroke="#000" stroke-width="2.3"/>
<line x1="779.8" y1="664.8" x2="779.8" y2="1139.8" stroke="#000" stroke-width="2.3"/>
<line x1="157.7" y1="664.8" x2="164" y2="664.8" stroke="#000" stroke-width="4"/>
<text x="150.5" y="679.3" font-size="41" text-anchor="end">500</text>
<line x1="157.7" y1="783.5" x2="164" y2="783.5" stroke="#000" stroke-width="4"/>
<text x="150.5" y="798" font-size="41" text-anchor="end">370</text>
<line x1="157.7" y1="902.3" x2="164" y2="902.3" stroke="#000" stroke-width="4"/>
<text x="150.5" y="916.8" font-size="41" text-anchor="end">240</text>
<line x1="157.7" y1="1021" x2="164" y2="1021" stroke="#000" stroke-width="4"/>
<text x="150.5" y="1035.5" font-size="41" text-anchor="end">110</text>
<line x1="157.7" y1="1139.8" x2="164" y2="1139.8" stroke="#000" stroke-width="4"/>
<text x="148" y="1154.1" font-size="41.5" text-anchor="end">20<tspan font-style="italic">i</tspan></text>
<line x1="374.3" y1="1139.8" x2="374.3" y2="1133.5" stroke="#000" stroke-width="4"/>
<line x1="374.3" y1="664.8" x2="374.3" y2="671.1" stroke="#000" stroke-width="4"/>
<line x1="591.2" y1="1139.8" x2="591.2" y2="1133.5" stroke="#000" stroke-width="4"/>
<line x1="591.2" y1="664.8" x2="591.2" y2="671.1" stroke="#000" stroke-width="4"/>
<line x1="779.8" y1="1139.8" x2="779.8" y2="1133.5" stroke="#000" stroke-width="4"/>
<line x1="779.8" y1="664.8" x2="779.8" y2="671.1" stroke="#000" stroke-width="4"/>
<line x1="973.7" y1="664.8" x2="973.7" y2="670.8" stroke="#000" stroke-width="1"/>
<line x1="973.7" y1="1139.8" x2="973.7" y2="1133.8" stroke="#000" stroke-width="1"/>
<text x="158.5" y="1174.8" font-size="42" text-anchor="middle">Γ</text>
<text x="375.8" y="1174.8" font-size="43" text-anchor="middle" font-style="italic">X</text>
<text x="592.2" y="1174.8" font-size="42" text-anchor="middle">Γ</text>
<text x="780.3" y="1174.8" font-size="43" text-anchor="middle" font-style="italic">L</text>
<text transform="translate(63.5 1063.2) rotate(-90)" font-size="42">Frequency [cm</text>
<path d="M23.4 789.1 V775.8 M34.3 757.5 H14 L20.4 763.8" stroke="#000" stroke-width="2.3" fill="none" stroke-linejoin="miter"/>
<text transform="translate(63.5 748) rotate(-90)" font-size="42">]</text>
<text x="807.6" y="715.3" font-size="42">(b) Na<tspan font-size="30" dy="11.5">2</tspan><tspan dy="-11.5">O</tspan></text>
<line x1="986.6" y1="1121.5" x2="980.6" y2="1121.5" stroke="#000" stroke-width="1"/>
<line x1="986.6" y1="938.8" x2="980.6" y2="938.8" stroke="#000" stroke-width="1"/>
<line x1="986.6" y1="756.1" x2="980.6" y2="756.1" stroke="#000" stroke-width="1"/>
<line x1="374.3" y1="1223.9" x2="374.3" y2="1698.9" stroke="#b0b0b0" stroke-width="1"/>
<line x1="591.2" y1="1223.9" x2="591.2" y2="1698.9" stroke="#b0b0b0" stroke-width="1"/>
<line x1="157.7" y1="1676.3" x2="779.8" y2="1676.3" stroke="#1a1a1a" stroke-width="1" stroke-dasharray="3,2"/>
<path d="M157.7 1264.3 L161.4 1264.3 L165 1264.4 L168.7 1264.5 L172.4 1264.6 L176.1 1264.7 L179.7 1264.9 L183.4 1265.2 L187.1 1265.4 L190.7 1265.7 L194.4 1266 L198.1 1266.4 L201.8 1266.8 L205.4 1267.3 L209.1 1267.7 L212.8 1268.2 L216.4 1268.8 L220.1 1269.3 L223.8 1269.9 L227.5 1270.5 L231.1 1271.1 L234.8 1271.7 L238.5 1272.3 L242.1 1273 L245.8 1273.7 L249.5 1274.3 L253.2 1275 L256.8 1275.7 L260.5 1276.5 L264.2 1277.3 L267.8 1278.1 L271.5 1278.9 L275.2 1279.8 L278.8 1280.8 L282.5 1281.8 L286.2 1282.8 L289.9 1284 L293.5 1285.2 L297.2 1286.4 L300.9 1287.7 L304.5 1289 L308.2 1290.3 L311.9 1291.6 L315.6 1293 L319.2 1294.3 L322.9 1295.7 L326.6 1297 L330.2 1298.3 L333.9 1299.5 L337.6 1300.7 L341.3 1301.9 L344.9 1302.9 L348.6 1303.9 L352.3 1304.8 L355.9 1305.6 L359.6 1306.3 L363.3 1306.8 L367 1307.2 L370.6 1307.4 L374.3 1307.5 M591.2 1264.3 L587.5 1264.3 L583.8 1264.4 L580.2 1264.5 L576.5 1264.6 L572.8 1264.7 L569.1 1264.9 L565.5 1265.2 L561.8 1265.4 L558.1 1265.7 L554.4 1266 L550.8 1266.4 L547.1 1266.8 L543.4 1267.3 L539.7 1267.7 L536.1 1268.2 L532.4 1268.8 L528.7 1269.3 L525 1269.9 L521.4 1270.5 L517.7 1271.1 L514 1271.7 L510.3 1272.3 L506.6 1273 L503 1273.7 L499.3 1274.3 L495.6 1275 L491.9 1275.7 L488.3 1276.5 L484.6 1277.3 L480.9 1278.1 L477.2 1278.9 L473.6 1279.8 L469.9 1280.8 L466.2 1281.8 L462.5 1282.8 L458.9 1284 L455.2 1285.2 L451.5 1286.4 L447.8 1287.7 L444.1 1289 L440.5 1290.3 L436.8 1291.6 L433.1 1293 L429.4 1294.3 L425.8 1295.7 L422.1 1297 L418.4 1298.3 L414.7 1299.5 L411.1 1300.7 L407.4 1301.9 L403.7 1302.9 L400 1303.9 L396.4 1304.8 L392.7 1305.6 L389 1306.3 L385.3 1306.8 L381.7 1307.2 L378 1307.4 L374.3 1307.5 M157.7 1411 L161.4 1411 L165 1411.1 L168.7 1411.2 L172.4 1411.3 L176.1 1411.4 L179.7 1411.6 L183.4 1411.8 L187.1 1412 L190.7 1412.3 L194.4 1412.5 L198.1 1412.8 L201.8 1413.1 L205.4 1413.5 L209.1 1413.8 L212.8 1414.2 L216.4 1414.5 L220.1 1414.9 L223.8 1415.3 L227.5 1415.7 L231.1 1416.1 L234.8 1416.5 L238.5 1416.9 L242.1 1417.3 L245.8 1417.7 L249.5 1418.1 L253.2 1418.5 L256.8 1418.9 L260.5 1419.2 L264.2 1419.6 L267.8 1420 L271.5 1420.3 L275.2 1420.7 L278.8 1421 L282.5 1421.3 L286.2 1421.6 L289.9 1421.9 L293.5 1422.2 L297.2 1422.4 L300.9 1422.7 L304.5 1422.9 L308.2 1423.2 L311.9 1423.4 L315.6 1423.6 L319.2 1423.8 L322.9 1424 L326.6 1424.1 L330.2 1424.3 L333.9 1424.4 L337.6 1424.6 L341.3 1424.7 L344.9 1424.8 L348.6 1424.9 L352.3 1425 L355.9 1425 L359.6 1425.1 L363.3 1425.1 L367 1425.2 L370.6 1425.2 L374.3 1425.2 M591.2 1411 L587.5 1411 L583.8 1411.1 L580.2 1411.2 L576.5 1411.3 L572.8 1411.4 L569.1 1411.6 L565.5 1411.8 L561.8 1412 L558.1 1412.3 L554.4 1412.5 L550.8 1412.8 L547.1 1413.1 L543.4 1413.5 L539.7 1413.8 L536.1 1414.2 L532.4 1414.5 L528.7 1414.9 L525 1415.3 L521.4 1415.7 L517.7 1416.1 L514 1416.5 L510.3 1416.9 L506.6 1417.3 L503 1417.7 L499.3 1418.1 L495.6 1418.5 L491.9 1418.9 L488.3 1419.2 L484.6 1419.6 L480.9 1420 L477.2 1420.3 L473.6 1420.7 L469.9 1421 L466.2 1421.3 L462.5 1421.6 L458.9 1421.9 L455.2 1422.2 L451.5 1422.4 L447.8 1422.7 L444.1 1422.9 L440.5 1423.2 L436.8 1423.4 L433.1 1423.6 L429.4 1423.8 L425.8 1424 L422.1 1424.1 L418.4 1424.3 L414.7 1424.4 L411.1 1424.6 L407.4 1424.7 L403.7 1424.8 L400 1424.9 L396.4 1425 L392.7 1425 L389 1425.1 L385.3 1425.1 L381.7 1425.2 L378 1425.2 L374.3 1425.2 M157.7 1490 L161.4 1490 L165 1489.9 L168.7 1489.9 L172.4 1489.8 L176.1 1489.6 L179.7 1489.5 L183.4 1489.3 L187.1 1489.1 L190.7 1488.9 L194.4 1488.7 L198.1 1488.5 L201.8 1488.2 L205.4 1488 L209.1 1487.7 L212.8 1487.5 L216.4 1487.2 L220.1 1486.9 L223.8 1486.7 L227.5 1486.4 L231.1 1486.2 L234.8 1485.9 L238.5 1485.7 L242.1 1485.5 L245.8 1485.3 L249.5 1485.1 L253.2 1484.9 L256.8 1484.8 L260.5 1484.6 L264.2 1484.5 L267.8 1484.5 L271.5 1484.4 L275.2 1484.4 L278.8 1484.4 L282.5 1484.4 L286.2 1484.5 L289.9 1484.6 L293.5 1484.7 L297.2 1484.8 L300.9 1485 L304.5 1485.1 L308.2 1485.3 L311.9 1485.5 L315.6 1485.7 L319.2 1485.9 L322.9 1486.2 L326.6 1486.4 L330.2 1486.7 L333.9 1487 L337.6 1487.2 L341.3 1487.5 L344.9 1487.7 L348.6 1488 L352.3 1488.2 L355.9 1488.4 L359.6 1488.6 L363.3 1488.7 L367 1488.8 L370.6 1488.9 L374.3 1488.9 M591.2 1490 L587.5 1490 L583.8 1489.9 L580.2 1489.9 L576.5 1489.8 L572.8 1489.6 L569.1 1489.5 L565.5 1489.3 L561.8 1489.1 L558.1 1488.9 L554.4 1488.7 L550.8 1488.5 L547.1 1488.2 L543.4 1488 L539.7 1487.7 L536.1 1487.5 L532.4 1487.2 L528.7 1486.9 L525 1486.7 L521.4 1486.4 L517.7 1486.2 L514 1485.9 L510.3 1485.7 L506.6 1485.5 L503 1485.3 L499.3 1485.1 L495.6 1484.9 L491.9 1484.8 L488.3 1484.6 L484.6 1484.5 L480.9 1484.5 L477.2 1484.4 L473.6 1484.4 L469.9 1484.4 L466.2 1484.4 L462.5 1484.5 L458.9 1484.6 L455.2 1484.7 L451.5 1484.8 L447.8 1485 L444.1 1485.1 L440.5 1485.3 L436.8 1485.5 L433.1 1485.7 L429.4 1485.9 L425.8 1486.2 L422.1 1486.4 L418.4 1486.7 L414.7 1487 L411.1 1487.2 L407.4 1487.5 L403.7 1487.7 L400 1488 L396.4 1488.2 L392.7 1488.4 L389 1488.6 L385.3 1488.7 L381.7 1488.8 L378 1488.9 L374.3 1488.9 M157.7 1490 L161.4 1490.2 L165 1490.4 L168.7 1490.7 L172.4 1491 L176.1 1491.4 L179.7 1492 L183.4 1492.6 L187.1 1493.4 L190.7 1494.4 L194.4 1495.6 L198.1 1496.9 L201.8 1498.4 L205.4 1500 L209.1 1501.7 L212.8 1503.5 L216.4 1505.4 L220.1 1507.3 L223.8 1509.3 L227.5 1511.3 L231.1 1513.3 L234.8 1515.3 L238.5 1517.4 L242.1 1519.5 L245.8 1521.6 L249.5 1523.7 L253.2 1525.7 L256.8 1527.8 L260.5 1529.8 L264.2 1531.9 L267.8 1533.9 L271.5 1535.9 L275.2 1537.9 L278.8 1539.9 L282.5 1542 L286.2 1544 L289.9 1546.2 L293.5 1548.4 L297.2 1550.7 L300.9 1553.1 L304.5 1555.6 L308.2 1558.2 L311.9 1560.9 L315.6 1563.7 L319.2 1566.5 L322.9 1569.3 L326.6 1572 L330.2 1574.4 L333.9 1576.7 L337.6 1578.7 L341.3 1580.5 L344.9 1582.2 L348.6 1583.9 L352.3 1585.6 L355.9 1587.4 L359.6 1589.1 L363.3 1590.6 L367 1591.9 L370.6 1592.7 L374.3 1593 M591.2 1490 L587.5 1490.2 L583.8 1490.4 L580.2 1490.7 L576.5 1491 L572.8 1491.4 L569.1 1492 L565.5 1492.6 L561.8 1493.4 L558.1 1494.4 L554.4 1495.6 L550.8 1496.9 L547.1 1498.4 L543.4 1500 L539.7 1501.7 L536.1 1503.5 L532.4 1505.4 L528.7 1507.3 L525 1509.3 L521.4 1511.3 L517.7 1513.3 L514 1515.3 L510.3 1517.4 L506.6 1519.5 L503 1521.6 L499.3 1523.7 L495.6 1525.7 L491.9 1527.8 L488.3 1529.8 L484.6 1531.9 L480.9 1533.9 L477.2 1535.9 L473.6 1537.9 L469.9 1539.9 L466.2 1542 L462.5 1544 L458.9 1546.2 L455.2 1548.4 L451.5 1550.7 L447.8 1553.1 L444.1 1555.6 L440.5 1558.2 L436.8 1560.9 L433.1 1563.7 L429.4 1566.5 L425.8 1569.3 L422.1 1572 L418.4 1574.4 L414.7 1576.7 L411.1 1578.7 L407.4 1580.5 L403.7 1582.2 L400 1583.9 L396.4 1585.6 L392.7 1587.4 L389 1589.1 L385.3 1590.6 L381.7 1591.9 L378 1592.7 L374.3 1593 M157.7 1676.3 L161.4 1671.1 L165 1665.8 L168.7 1660.6 L172.4 1655.4 L176.1 1650.2 L179.7 1645 L183.4 1639.8 L187.1 1634.6 L190.7 1629.4 L194.4 1624.3 L198.1 1619.1 L201.8 1614 L205.4 1608.9 L209.1 1603.8 L212.8 1598.8 L216.4 1593.7 L220.1 1588.6 L223.8 1583.5 L227.5 1578.2 L231.1 1572.9 L234.8 1567.5 L238.5 1562 L242.1 1556.4 L245.8 1550.8 L249.5 1545.1 L253.2 1539.1 L256.8 1533 L260.5 1526.8 L264.2 1520.8 L267.8 1515.1 L271.5 1509.8 L275.2 1504.7 L278.8 1499.7 L282.5 1494.8 L286.2 1490.2 L289.9 1485.7 L293.5 1481.4 L297.2 1477.4 L300.9 1473.5 L304.5 1469.7 L308.2 1466 L311.9 1462.5 L315.6 1459.1 L319.2 1455.8 L322.9 1452.8 L326.6 1450 L330.2 1447.5 L333.9 1445.1 L337.6 1442.9 L341.3 1440.8 L344.9 1439 L348.6 1437.4 L352.3 1436.1 L355.9 1435.1 L359.6 1434.1 L363.3 1433.3 L367 1432.6 L370.6 1432.1 L374.3 1431.8 M591.2 1676.3 L587.5 1670.4 L583.8 1664.6 L580.2 1658.9 L576.5 1653.2 L572.8 1647.6 L569.1 1642 L565.5 1636.5 L561.8 1631 L558.1 1625.6 L554.4 1620.2 L550.8 1614.9 L547.1 1609.7 L543.4 1604.6 L539.7 1599.5 L536.1 1594.4 L532.4 1589.4 L528.7 1584.3 L525 1579.3 L521.4 1574.2 L517.7 1569.3 L514 1564.3 L510.3 1559.4 L506.6 1554.5 L503 1549.5 L499.3 1544.5 L495.6 1539.3 L491.9 1534 L488.3 1528.4 L484.6 1522.5 L480.9 1516.4 L477.2 1510.3 L473.6 1504.1 L469.9 1498.1 L466.2 1492.2 L462.5 1486.6 L458.9 1481.4 L455.2 1476.6 L451.5 1472.4 L447.8 1468.7 L444.1 1465.2 L440.5 1462 L436.8 1459 L433.1 1456.1 L429.4 1453.4 L425.8 1450.9 L422.1 1448.6 L418.4 1446.4 L414.7 1444.3 L411.1 1442.3 L407.4 1440.5 L403.7 1438.8 L400 1437.3 L396.4 1436.1 L392.7 1435.1 L389 1434.2 L385.3 1433.4 L381.7 1432.7 L378 1432.1 L374.3 1431.8 M157.7 1676.3 L161.4 1674.1 L165 1671.8 L168.7 1669.6 L172.4 1667.3 L176.1 1665.1 L179.7 1662.9 L183.4 1660.7 L187.1 1658.5 L190.7 1656.4 L194.4 1654.2 L198.1 1652.1 L201.8 1650.1 L205.4 1648 L209.1 1646 L212.8 1644 L216.4 1642 L220.1 1640 L223.8 1638 L227.5 1636 L231.1 1634 L234.8 1632 L238.5 1630 L242.1 1628 L245.8 1625.9 L249.5 1623.9 L253.2 1621.8 L256.8 1619.8 L260.5 1617.7 L264.2 1615.6 L267.8 1613.6 L271.5 1611.6 L275.2 1609.5 L278.8 1607.6 L282.5 1605.6 L286.2 1603.7 L289.9 1601.8 L293.5 1600 L297.2 1598.2 L300.9 1596.5 L304.5 1594.8 L308.2 1593.1 L311.9 1591.5 L315.6 1589.9 L319.2 1588.4 L322.9 1586.9 L326.6 1585.4 L330.2 1584 L333.9 1582.6 L337.6 1581.2 L341.3 1580 L344.9 1578.9 L348.6 1577.9 L352.3 1577.2 L355.9 1576.6 L359.6 1576.3 L363.3 1576.1 L367 1576 L370.6 1576 L374.3 1576 M591.2 1676.3 L587.5 1674.1 L583.8 1671.8 L580.2 1669.6 L576.5 1667.3 L572.8 1665.1 L569.1 1662.9 L565.5 1660.7 L561.8 1658.5 L558.1 1656.4 L554.4 1654.2 L550.8 1652.1 L547.1 1650.1 L543.4 1648 L539.7 1646 L536.1 1644 L532.4 1642 L528.7 1640 L525 1638 L521.4 1636 L517.7 1634 L514 1632 L510.3 1630 L506.6 1628 L503 1625.9 L499.3 1623.9 L495.6 1621.8 L491.9 1619.8 L488.3 1617.7 L484.6 1615.6 L480.9 1613.6 L477.2 1611.6 L473.6 1609.5 L469.9 1607.6 L466.2 1605.6 L462.5 1603.7 L458.9 1601.8 L455.2 1600 L451.5 1598.2 L447.8 1596.5 L444.1 1594.8 L440.5 1593.1 L436.8 1591.5 L433.1 1589.9 L429.4 1588.4 L425.8 1586.9 L422.1 1585.4 L418.4 1584 L414.7 1582.6 L411.1 1581.2 L407.4 1580 L403.7 1578.9 L400 1577.9 L396.4 1577.2 L392.7 1576.6 L389 1576.3 L385.3 1576.1 L381.7 1576 L378 1576 L374.3 1576 M591.2 1264.4 L594.4 1264.4 L597.6 1264.4 L600.8 1264.5 L604 1264.6 L607.2 1264.7 L610.4 1264.9 L613.6 1265.1 L616.8 1265.4 L620 1265.8 L623.2 1266.2 L626.4 1266.7 L629.6 1267.2 L632.8 1267.8 L636 1268.5 L639.1 1269.3 L642.3 1270.1 L645.5 1271 L648.7 1272 L651.9 1273 L655.1 1274.1 L658.3 1275.3 L661.5 1276.5 L664.7 1277.8 L667.9 1279.1 L671.1 1280.5 L674.3 1281.9 L677.5 1283.3 L680.7 1284.8 L683.9 1286.3 L687.1 1287.8 L690.3 1289.2 L693.5 1290.7 L696.7 1292.2 L699.9 1293.6 L703.1 1295 L706.3 1296.4 L709.5 1297.7 L712.7 1299 L715.9 1300.3 L719.1 1301.6 L722.3 1302.8 L725.5 1304.1 L728.7 1305.3 L731.9 1306.6 L735 1307.8 L738.2 1309.1 L741.4 1310.3 L744.6 1311.6 L747.8 1312.8 L751 1314 L754.2 1315.2 L757.4 1316.2 L760.6 1317 L763.8 1317.7 L767 1318.2 L770.2 1318.6 L773.4 1318.8 L776.6 1319 L779.8 1319 M591.2 1411.3 L594.4 1411.3 L597.6 1411.3 L600.8 1411.4 L604 1411.4 L607.2 1411.5 L610.4 1411.6 L613.6 1411.7 L616.8 1411.9 L620 1412 L623.2 1412.2 L626.4 1412.3 L629.6 1412.5 L632.8 1412.7 L636 1412.9 L639.1 1413.1 L642.3 1413.3 L645.5 1413.6 L648.7 1413.8 L651.9 1414.1 L655.1 1414.3 L658.3 1414.6 L661.5 1414.8 L664.7 1415.1 L667.9 1415.4 L671.1 1415.7 L674.3 1416 L677.5 1416.3 L680.7 1416.6 L683.9 1416.9 L687.1 1417.1 L690.3 1417.4 L693.5 1417.7 L696.7 1418 L699.9 1418.3 L703.1 1418.6 L706.3 1418.9 L709.5 1419.2 L712.7 1419.5 L715.9 1419.8 L719.1 1420 L722.3 1420.3 L725.5 1420.6 L728.7 1420.8 L731.9 1421 L735 1421.3 L738.2 1421.5 L741.4 1421.7 L744.6 1421.9 L747.8 1422.1 L751 1422.2 L754.2 1422.4 L757.4 1422.5 L760.6 1422.6 L763.8 1422.8 L767 1422.8 L770.2 1422.9 L773.4 1423 L776.6 1423 L779.8 1423 M591.2 1490.2 L594.4 1490.2 L597.6 1490.2 L600.8 1490.1 L604 1490 L607.2 1490 L610.4 1489.9 L613.6 1489.8 L616.8 1489.6 L620 1489.5 L623.2 1489.3 L626.4 1489.2 L629.6 1489 L632.8 1488.9 L636 1488.7 L639.1 1488.5 L642.3 1488.3 L645.5 1488.1 L648.7 1487.9 L651.9 1487.8 L655.1 1487.6 L658.3 1487.4 L661.5 1487.2 L664.7 1487 L667.9 1486.8 L671.1 1486.6 L674.3 1486.4 L677.5 1486.2 L680.7 1486 L683.9 1485.8 L687.1 1485.6 L690.3 1485.4 L693.5 1485.2 L696.7 1485 L699.9 1484.8 L703.1 1484.6 L706.3 1484.4 L709.5 1484.1 L712.7 1483.9 L715.9 1483.7 L719.1 1483.5 L722.3 1483.2 L725.5 1483 L728.7 1482.8 L731.9 1482.5 L735 1482.3 L738.2 1482 L741.4 1481.8 L744.6 1481.5 L747.8 1481.3 L751 1481 L754.2 1480.8 L757.4 1480.5 L760.6 1480.3 L763.8 1480.1 L767 1479.9 L770.2 1479.7 L773.4 1479.6 L776.6 1479.5 L779.8 1479.5 M591.2 1490.2 L594.4 1490.2 L597.6 1490.3 L600.8 1490.4 L604 1490.5 L607.2 1490.7 L610.4 1490.9 L613.6 1491.2 L616.8 1491.4 L620 1491.7 L623.2 1491.9 L626.4 1492.2 L629.6 1492.5 L632.8 1492.8 L636 1493.1 L639.1 1493.3 L642.3 1493.6 L645.5 1493.8 L648.7 1494.1 L651.9 1494.3 L655.1 1494.4 L658.3 1494.6 L661.5 1494.8 L664.7 1495 L667.9 1495.2 L671.1 1495.4 L674.3 1495.7 L677.5 1496 L680.7 1496.4 L683.9 1496.8 L687.1 1497.2 L690.3 1497.8 L693.5 1498.4 L696.7 1499 L699.9 1499.7 L703.1 1500.5 L706.3 1501.2 L709.5 1502 L712.7 1502.9 L715.9 1503.7 L719.1 1504.5 L722.3 1505.4 L725.5 1506.2 L728.7 1507 L731.9 1507.8 L735 1508.6 L738.2 1509.4 L741.4 1510.1 L744.6 1510.7 L747.8 1511.4 L751 1511.9 L754.2 1512.5 L757.4 1513 L760.6 1513.4 L763.8 1513.7 L767 1514 L770.2 1514.3 L773.4 1514.5 L776.6 1514.6 L779.8 1514.6 M591.2 1676.3 L594.4 1672.1 L597.6 1667.9 L600.8 1663.8 L604 1659.6 L607.2 1655.5 L610.4 1651.3 L613.6 1647.2 L616.8 1643 L620 1638.9 L623.2 1634.8 L626.4 1630.7 L629.6 1626.6 L632.8 1622.6 L636 1618.5 L639.1 1614.5 L642.3 1610.5 L645.5 1606.5 L648.7 1602.5 L651.9 1598.5 L655.1 1594.6 L658.3 1590.7 L661.5 1586.8 L664.7 1582.9 L667.9 1579 L671.1 1575.2 L674.3 1571.4 L677.5 1567.7 L680.7 1564 L683.9 1560.4 L687.1 1556.9 L690.3 1553.5 L693.5 1550.2 L696.7 1547.1 L699.9 1544 L703.1 1541.1 L706.3 1538.4 L709.5 1535.7 L712.7 1533.2 L715.9 1530.7 L719.1 1528.3 L722.3 1525.9 L725.5 1523.5 L728.7 1521.1 L731.9 1518.8 L735 1516.5 L738.2 1514.3 L741.4 1512.2 L744.6 1510.1 L747.8 1508.1 L751 1506.3 L754.2 1504.5 L757.4 1502.9 L760.6 1501.5 L763.8 1500.2 L767 1499.1 L770.2 1498.2 L773.4 1497.5 L776.6 1497.1 L779.8 1497 M591.2 1676.3 L594.4 1673.4 L597.6 1670.5 L600.8 1667.7 L604 1664.8 L607.2 1662 L610.4 1659.1 L613.6 1656.3 L616.8 1653.5 L620 1650.8 L623.2 1648 L626.4 1645.3 L629.6 1642.6 L632.8 1640 L636 1637.4 L639.1 1634.8 L642.3 1632.2 L645.5 1629.7 L648.7 1627.2 L651.9 1624.7 L655.1 1622.2 L658.3 1619.7 L661.5 1617.3 L664.7 1614.8 L667.9 1612.4 L671.1 1610 L674.3 1607.6 L677.5 1605.3 L680.7 1602.9 L683.9 1600.7 L687.1 1598.4 L690.3 1596.3 L693.5 1594.2 L696.7 1592.1 L699.9 1590.1 L703.1 1588.2 L706.3 1586.4 L709.5 1584.6 L712.7 1582.9 L715.9 1581.3 L719.1 1579.7 L722.3 1578.2 L725.5 1576.6 L728.7 1575.1 L731.9 1573.6 L735 1572.1 L738.2 1570.7 L741.4 1569.2 L744.6 1567.6 L747.8 1566.1 L751 1564.6 L754.2 1563.1 L757.4 1561.6 L760.6 1560.1 L763.8 1558.7 L767 1557.4 L770.2 1556.3 L773.4 1555.4 L776.6 1554.8 L779.8 1554.6" stroke="#a400da" stroke-width="5.4" fill="none" stroke-linejoin="round" stroke-linecap="butt" clip-path="url(#cb2)"/>
<path d="M157.7 1314.1 L161.4 1314.1 L165 1314.2 L168.7 1314.2 L172.4 1314.4 L176.1 1314.5 L179.7 1314.7 L183.4 1314.9 L187.1 1315.1 L190.7 1315.4 L194.4 1315.7 L198.1 1316 L201.8 1316.4 L205.4 1316.8 L209.1 1317.2 L212.8 1317.7 L216.4 1318.1 L220.1 1318.6 L223.8 1319.2 L227.5 1319.7 L231.1 1320.2 L234.8 1320.8 L238.5 1321.4 L242.1 1322 L245.8 1322.6 L249.5 1323.2 L253.2 1323.8 L256.8 1324.5 L260.5 1325.1 L264.2 1325.8 L267.8 1326.6 L271.5 1327.3 L275.2 1328.1 L278.8 1329 L282.5 1329.9 L286.2 1330.8 L289.9 1331.8 L293.5 1332.9 L297.2 1334 L300.9 1335.1 L304.5 1336.3 L308.2 1337.5 L311.9 1338.7 L315.6 1339.8 L319.2 1341 L322.9 1342.2 L326.6 1343.4 L330.2 1344.5 L333.9 1345.6 L337.6 1346.7 L341.3 1347.7 L344.9 1348.7 L348.6 1349.5 L352.3 1350.3 L355.9 1351 L359.6 1351.6 L363.3 1352.1 L367 1352.4 L370.6 1352.6 L374.3 1352.7 M591.2 1314.1 L587.5 1314.1 L583.8 1314.2 L580.2 1314.2 L576.5 1314.4 L572.8 1314.5 L569.1 1314.7 L565.5 1314.9 L561.8 1315.1 L558.1 1315.4 L554.4 1315.7 L550.8 1316 L547.1 1316.4 L543.4 1316.8 L539.7 1317.2 L536.1 1317.7 L532.4 1318.1 L528.7 1318.6 L525 1319.2 L521.4 1319.7 L517.7 1320.2 L514 1320.8 L510.3 1321.4 L506.6 1322 L503 1322.6 L499.3 1323.2 L495.6 1323.8 L491.9 1324.5 L488.3 1325.1 L484.6 1325.8 L480.9 1326.6 L477.2 1327.3 L473.6 1328.1 L469.9 1329 L466.2 1329.9 L462.5 1330.8 L458.9 1331.8 L455.2 1332.9 L451.5 1334 L447.8 1335.1 L444.1 1336.3 L440.5 1337.5 L436.8 1338.7 L433.1 1339.8 L429.4 1341 L425.8 1342.2 L422.1 1343.4 L418.4 1344.5 L414.7 1345.6 L411.1 1346.7 L407.4 1347.7 L403.7 1348.7 L400 1349.5 L396.4 1350.3 L392.7 1351 L389 1351.6 L385.3 1352.1 L381.7 1352.4 L378 1352.6 L374.3 1352.7 M157.7 1464.7 L161.4 1464.7 L165 1464.8 L168.7 1464.8 L172.4 1464.9 L176.1 1465.1 L179.7 1465.2 L183.4 1465.4 L187.1 1465.6 L190.7 1465.8 L194.4 1466.1 L198.1 1466.3 L201.8 1466.6 L205.4 1466.9 L209.1 1467.2 L212.8 1467.5 L216.4 1467.9 L220.1 1468.2 L223.8 1468.6 L227.5 1468.9 L231.1 1469.3 L234.8 1469.6 L238.5 1470 L242.1 1470.4 L245.8 1470.7 L249.5 1471.1 L253.2 1471.5 L256.8 1471.8 L260.5 1472.2 L264.2 1472.5 L267.8 1472.8 L271.5 1473.2 L275.2 1473.5 L278.8 1473.8 L282.5 1474.1 L286.2 1474.4 L289.9 1474.6 L293.5 1474.9 L297.2 1475.2 L300.9 1475.4 L304.5 1475.7 L308.2 1475.9 L311.9 1476.1 L315.6 1476.3 L319.2 1476.5 L322.9 1476.7 L326.6 1476.8 L330.2 1477 L333.9 1477.1 L337.6 1477.3 L341.3 1477.4 L344.9 1477.5 L348.6 1477.6 L352.3 1477.7 L355.9 1477.7 L359.6 1477.8 L363.3 1477.8 L367 1477.9 L370.6 1477.9 L374.3 1477.9 M591.2 1464.7 L587.5 1464.7 L583.8 1464.8 L580.2 1464.8 L576.5 1464.9 L572.8 1465.1 L569.1 1465.2 L565.5 1465.4 L561.8 1465.6 L558.1 1465.8 L554.4 1466.1 L550.8 1466.3 L547.1 1466.6 L543.4 1466.9 L539.7 1467.2 L536.1 1467.5 L532.4 1467.9 L528.7 1468.2 L525 1468.6 L521.4 1468.9 L517.7 1469.3 L514 1469.6 L510.3 1470 L506.6 1470.4 L503 1470.7 L499.3 1471.1 L495.6 1471.5 L491.9 1471.8 L488.3 1472.2 L484.6 1472.5 L480.9 1472.8 L477.2 1473.2 L473.6 1473.5 L469.9 1473.8 L466.2 1474.1 L462.5 1474.4 L458.9 1474.6 L455.2 1474.9 L451.5 1475.2 L447.8 1475.4 L444.1 1475.7 L440.5 1475.9 L436.8 1476.1 L433.1 1476.3 L429.4 1476.5 L425.8 1476.7 L422.1 1476.8 L418.4 1477 L414.7 1477.1 L411.1 1477.3 L407.4 1477.4 L403.7 1477.5 L400 1477.6 L396.4 1477.7 L392.7 1477.7 L389 1477.8 L385.3 1477.8 L381.7 1477.9 L378 1477.9 L374.3 1477.9 M157.7 1510 L161.4 1510 L165 1509.9 L168.7 1509.8 L172.4 1509.6 L176.1 1509.4 L179.7 1509.2 L183.4 1508.9 L187.1 1508.6 L190.7 1508.2 L194.4 1507.8 L198.1 1507.4 L201.8 1507 L205.4 1506.6 L209.1 1506.1 L212.8 1505.6 L216.4 1505.1 L220.1 1504.6 L223.8 1504.1 L227.5 1503.6 L231.1 1503 L234.8 1502.5 L238.5 1502 L242.1 1501.5 L245.8 1501 L249.5 1500.5 L253.2 1500 L256.8 1499.5 L260.5 1499.1 L264.2 1498.6 L267.8 1498.2 L271.5 1497.8 L275.2 1497.5 L278.8 1497.2 L282.5 1496.9 L286.2 1496.6 L289.9 1496.3 L293.5 1496.1 L297.2 1495.9 L300.9 1495.7 L304.5 1495.6 L308.2 1495.5 L311.9 1495.4 L315.6 1495.3 L319.2 1495.3 L322.9 1495.3 L326.6 1495.3 L330.2 1495.3 L333.9 1495.3 L337.6 1495.4 L341.3 1495.5 L344.9 1495.5 L348.6 1495.6 L352.3 1495.7 L355.9 1495.8 L359.6 1495.9 L363.3 1495.9 L367 1496 L370.6 1496 L374.3 1496 M591.2 1510 L587.5 1510 L583.8 1509.9 L580.2 1509.8 L576.5 1509.6 L572.8 1509.4 L569.1 1509.2 L565.5 1508.9 L561.8 1508.6 L558.1 1508.2 L554.4 1507.8 L550.8 1507.4 L547.1 1507 L543.4 1506.6 L539.7 1506.1 L536.1 1505.6 L532.4 1505.1 L528.7 1504.6 L525 1504.1 L521.4 1503.6 L517.7 1503 L514 1502.5 L510.3 1502 L506.6 1501.5 L503 1501 L499.3 1500.5 L495.6 1500 L491.9 1499.5 L488.3 1499.1 L484.6 1498.6 L480.9 1498.2 L477.2 1497.8 L473.6 1497.5 L469.9 1497.2 L466.2 1496.9 L462.5 1496.6 L458.9 1496.3 L455.2 1496.1 L451.5 1495.9 L447.8 1495.7 L444.1 1495.6 L440.5 1495.5 L436.8 1495.4 L433.1 1495.3 L429.4 1495.3 L425.8 1495.3 L422.1 1495.3 L418.4 1495.3 L414.7 1495.3 L411.1 1495.4 L407.4 1495.5 L403.7 1495.5 L400 1495.6 L396.4 1495.7 L392.7 1495.8 L389 1495.9 L385.3 1495.9 L381.7 1496 L378 1496 L374.3 1496 M157.7 1510 L161.4 1510.3 L165 1510.7 L168.7 1511.1 L172.4 1511.5 L176.1 1512 L179.7 1512.6 L183.4 1513.3 L187.1 1514.2 L190.7 1515.2 L194.4 1516.3 L198.1 1517.5 L201.8 1518.9 L205.4 1520.4 L209.1 1521.9 L212.8 1523.5 L216.4 1525.2 L220.1 1526.8 L223.8 1528.5 L227.5 1530.1 L231.1 1531.8 L234.8 1533.4 L238.5 1535.1 L242.1 1536.8 L245.8 1538.5 L249.5 1540.2 L253.2 1542 L256.8 1543.8 L260.5 1545.7 L264.2 1547.6 L267.8 1549.5 L271.5 1551.6 L275.2 1553.8 L278.8 1556 L282.5 1558.4 L286.2 1560.9 L289.9 1563.6 L293.5 1566.5 L297.2 1569.4 L300.9 1572.5 L304.5 1575.7 L308.2 1579 L311.9 1582.4 L315.6 1585.8 L319.2 1589.2 L322.9 1592.7 L326.6 1596.1 L330.2 1599.4 L333.9 1602.5 L337.6 1605.6 L341.3 1608.5 L344.9 1611.4 L348.6 1614.1 L352.3 1616.8 L355.9 1619.3 L359.6 1621.8 L363.3 1624 L367 1625.8 L370.6 1627 L374.3 1627.5 M591.2 1510 L587.5 1510.3 L583.8 1510.7 L580.2 1511.1 L576.5 1511.5 L572.8 1512 L569.1 1512.6 L565.5 1513.3 L561.8 1514.2 L558.1 1515.2 L554.4 1516.3 L550.8 1517.5 L547.1 1518.9 L543.4 1520.4 L539.7 1521.9 L536.1 1523.5 L532.4 1525.2 L528.7 1526.8 L525 1528.5 L521.4 1530.1 L517.7 1531.8 L514 1533.4 L510.3 1535.1 L506.6 1536.8 L503 1538.5 L499.3 1540.2 L495.6 1542 L491.9 1543.8 L488.3 1545.7 L484.6 1547.6 L480.9 1549.5 L477.2 1551.6 L473.6 1553.8 L469.9 1556 L466.2 1558.4 L462.5 1560.9 L458.9 1563.6 L455.2 1566.5 L451.5 1569.4 L447.8 1572.5 L444.1 1575.7 L440.5 1579 L436.8 1582.4 L433.1 1585.8 L429.4 1589.2 L425.8 1592.7 L422.1 1596.1 L418.4 1599.4 L414.7 1602.5 L411.1 1605.6 L407.4 1608.5 L403.7 1611.4 L400 1614.1 L396.4 1616.8 L392.7 1619.3 L389 1621.8 L385.3 1624 L381.7 1625.8 L378 1627 L374.3 1627.5 M157.7 1676.3 L161.4 1671.9 L165 1667.5 L168.7 1663.1 L172.4 1658.6 L176.1 1654.1 L179.7 1649.6 L183.4 1645.1 L187.1 1640.5 L190.7 1636 L194.4 1631.4 L198.1 1626.8 L201.8 1622.1 L205.4 1617.5 L209.1 1612.9 L212.8 1608.3 L216.4 1603.6 L220.1 1598.8 L223.8 1594 L227.5 1589.1 L231.1 1584.1 L234.8 1578.9 L238.5 1573.6 L242.1 1568.2 L245.8 1562.8 L249.5 1557.4 L253.2 1552 L256.8 1546.7 L260.5 1541.4 L264.2 1535.9 L267.8 1530.6 L271.5 1525.4 L275.2 1520.4 L278.8 1515.7 L282.5 1511.1 L286.2 1506.7 L289.9 1502.4 L293.5 1498.4 L297.2 1494.6 L300.9 1490.9 L304.5 1487.2 L308.2 1483.7 L311.9 1480.2 L315.6 1476.9 L319.2 1473.8 L322.9 1470.8 L326.6 1468.1 L330.2 1465.7 L333.9 1463.4 L337.6 1461.3 L341.3 1459.3 L344.9 1457.5 L348.6 1456 L352.3 1454.7 L355.9 1453.7 L359.6 1452.8 L363.3 1452 L367 1451.3 L370.6 1450.8 L374.3 1450.5 M591.2 1676.3 L587.5 1671.3 L583.8 1666.3 L580.2 1661.3 L576.5 1656.4 L572.8 1651.4 L569.1 1646.4 L565.5 1641.4 L561.8 1636.5 L558.1 1631.5 L554.4 1626.5 L550.8 1621.5 L547.1 1616.5 L543.4 1611.5 L539.7 1606.5 L536.1 1601.5 L532.4 1596.6 L528.7 1591.8 L525 1587 L521.4 1582.4 L517.7 1577.8 L514 1573.3 L510.3 1568.9 L506.6 1564.5 L503 1560.1 L499.3 1555.7 L495.6 1551.4 L491.9 1547 L488.3 1542.7 L484.6 1538.3 L480.9 1533.9 L477.2 1529.5 L473.6 1525.2 L469.9 1521.1 L466.2 1517.1 L462.5 1513.2 L458.9 1509.3 L455.2 1505.5 L451.5 1501.8 L447.8 1498.1 L444.1 1494.4 L440.5 1490.8 L436.8 1487.2 L433.1 1483.4 L429.4 1479.5 L425.8 1475.6 L422.1 1471.7 L418.4 1468.2 L414.7 1464.9 L411.1 1462.2 L407.4 1460 L403.7 1458.4 L400 1456.9 L396.4 1455.4 L392.7 1454.1 L389 1452.9 L385.3 1451.9 L381.7 1451.1 L378 1450.7 L374.3 1450.5 M157.7 1676.3 L161.4 1674.7 L165 1673 L168.7 1671.4 L172.4 1669.7 L176.1 1668.1 L179.7 1666.5 L183.4 1664.9 L187.1 1663.3 L190.7 1661.7 L194.4 1660.2 L198.1 1658.6 L201.8 1657.1 L205.4 1655.6 L209.1 1654.1 L212.8 1652.7 L216.4 1651.2 L220.1 1649.7 L223.8 1648.3 L227.5 1646.8 L231.1 1645.4 L234.8 1643.9 L238.5 1642.5 L242.1 1641 L245.8 1639.5 L249.5 1638 L253.2 1636.5 L256.8 1635 L260.5 1633.5 L264.2 1632 L267.8 1630.5 L271.5 1629 L275.2 1627.5 L278.8 1626.1 L282.5 1624.6 L286.2 1623.2 L289.9 1621.9 L293.5 1620.6 L297.2 1619.3 L300.9 1618 L304.5 1616.7 L308.2 1615.5 L311.9 1614.3 L315.6 1613.2 L319.2 1612.1 L322.9 1611 L326.6 1609.9 L330.2 1608.8 L333.9 1607.8 L337.6 1606.8 L341.3 1605.9 L344.9 1605.1 L348.6 1604.4 L352.3 1603.9 L355.9 1603.5 L359.6 1603.2 L363.3 1603.1 L367 1603 L370.6 1603 L374.3 1603 M591.2 1676.3 L587.5 1674.7 L583.8 1673 L580.2 1671.4 L576.5 1669.7 L572.8 1668.1 L569.1 1666.5 L565.5 1664.9 L561.8 1663.3 L558.1 1661.7 L554.4 1660.2 L550.8 1658.6 L547.1 1657.1 L543.4 1655.6 L539.7 1654.1 L536.1 1652.7 L532.4 1651.2 L528.7 1649.7 L525 1648.3 L521.4 1646.8 L517.7 1645.4 L514 1643.9 L510.3 1642.5 L506.6 1641 L503 1639.5 L499.3 1638 L495.6 1636.5 L491.9 1635 L488.3 1633.5 L484.6 1632 L480.9 1630.5 L477.2 1629 L473.6 1627.5 L469.9 1626.1 L466.2 1624.6 L462.5 1623.2 L458.9 1621.9 L455.2 1620.6 L451.5 1619.3 L447.8 1618 L444.1 1616.7 L440.5 1615.5 L436.8 1614.3 L433.1 1613.2 L429.4 1612.1 L425.8 1611 L422.1 1609.9 L418.4 1608.8 L414.7 1607.8 L411.1 1606.8 L407.4 1605.9 L403.7 1605.1 L400 1604.4 L396.4 1603.9 L392.7 1603.5 L389 1603.2 L385.3 1603.1 L381.7 1603 L378 1603 L374.3 1603 M591.2 1313.8 L594.4 1313.8 L597.6 1313.8 L600.8 1313.8 L604 1313.9 L607.2 1313.9 L610.4 1314 L613.6 1314.1 L616.8 1314.3 L620 1314.5 L623.2 1314.8 L626.4 1315.1 L629.6 1315.5 L632.8 1315.9 L636 1316.3 L639.1 1316.9 L642.3 1317.5 L645.5 1318.1 L648.7 1318.8 L651.9 1319.5 L655.1 1320.3 L658.3 1321.2 L661.5 1322.1 L664.7 1323 L667.9 1324 L671.1 1325.1 L674.3 1326.1 L677.5 1327.2 L680.7 1328.3 L683.9 1329.5 L687.1 1330.6 L690.3 1331.7 L693.5 1332.9 L696.7 1334 L699.9 1335.1 L703.1 1336.2 L706.3 1337.2 L709.5 1338.2 L712.7 1339.2 L715.9 1340.2 L719.1 1341.2 L722.3 1342.2 L725.5 1343.1 L728.7 1344.1 L731.9 1345 L735 1346 L738.2 1347 L741.4 1348 L744.6 1349.1 L747.8 1350.1 L751 1351.1 L754.2 1352 L757.4 1352.8 L760.6 1353.5 L763.8 1354.1 L767 1354.5 L770.2 1354.8 L773.4 1355 L776.6 1355.1 L779.8 1355.1 M591.2 1464.8 L594.4 1464.8 L597.6 1464.8 L600.8 1464.9 L604 1464.9 L607.2 1465 L610.4 1465.1 L613.6 1465.2 L616.8 1465.3 L620 1465.5 L623.2 1465.6 L626.4 1465.8 L629.6 1466 L632.8 1466.2 L636 1466.4 L639.1 1466.6 L642.3 1466.8 L645.5 1467 L648.7 1467.3 L651.9 1467.5 L655.1 1467.7 L658.3 1468 L661.5 1468.3 L664.7 1468.5 L667.9 1468.8 L671.1 1469.1 L674.3 1469.4 L677.5 1469.6 L680.7 1469.9 L683.9 1470.2 L687.1 1470.5 L690.3 1470.8 L693.5 1471.1 L696.7 1471.4 L699.9 1471.6 L703.1 1471.9 L706.3 1472.2 L709.5 1472.5 L712.7 1472.7 L715.9 1473 L719.1 1473.3 L722.3 1473.5 L725.5 1473.8 L728.7 1474 L731.9 1474.2 L735 1474.4 L738.2 1474.7 L741.4 1474.9 L744.6 1475 L747.8 1475.2 L751 1475.4 L754.2 1475.5 L757.4 1475.6 L760.6 1475.8 L763.8 1475.9 L767 1475.9 L770.2 1476 L773.4 1476.1 L776.6 1476.1 L779.8 1476.1 M591.2 1510 L594.4 1510 L597.6 1510 L600.8 1509.9 L604 1509.8 L607.2 1509.8 L610.4 1509.7 L613.6 1509.5 L616.8 1509.4 L620 1509.3 L623.2 1509.1 L626.4 1509 L629.6 1508.8 L632.8 1508.6 L636 1508.4 L639.1 1508.3 L642.3 1508.1 L645.5 1507.9 L648.7 1507.7 L651.9 1507.5 L655.1 1507.3 L658.3 1507.1 L661.5 1506.9 L664.7 1506.7 L667.9 1506.5 L671.1 1506.3 L674.3 1506.1 L677.5 1505.8 L680.7 1505.6 L683.9 1505.4 L687.1 1505.2 L690.3 1505 L693.5 1504.8 L696.7 1504.5 L699.9 1504.3 L703.1 1504.1 L706.3 1503.9 L709.5 1503.6 L712.7 1503.4 L715.9 1503.2 L719.1 1502.9 L722.3 1502.7 L725.5 1502.4 L728.7 1502.2 L731.9 1501.9 L735 1501.7 L738.2 1501.5 L741.4 1501.2 L744.6 1501 L747.8 1500.7 L751 1500.5 L754.2 1500.2 L757.4 1500 L760.6 1499.8 L763.8 1499.6 L767 1499.4 L770.2 1499.2 L773.4 1499.1 L776.6 1499 L779.8 1499 M591.2 1510 L594.4 1510 L597.6 1510.1 L600.8 1510.2 L604 1510.4 L607.2 1510.5 L610.4 1510.8 L613.6 1511 L616.8 1511.3 L620 1511.5 L623.2 1511.8 L626.4 1512.1 L629.6 1512.5 L632.8 1512.8 L636 1513.1 L639.1 1513.4 L642.3 1513.7 L645.5 1514 L648.7 1514.3 L651.9 1514.5 L655.1 1514.8 L658.3 1515 L661.5 1515.3 L664.7 1515.5 L667.9 1515.8 L671.1 1516.1 L674.3 1516.4 L677.5 1516.8 L680.7 1517.2 L683.9 1517.7 L687.1 1518.2 L690.3 1518.7 L693.5 1519.4 L696.7 1520 L699.9 1520.7 L703.1 1521.5 L706.3 1522.2 L709.5 1523 L712.7 1523.8 L715.9 1524.6 L719.1 1525.4 L722.3 1526.3 L725.5 1527.1 L728.7 1527.9 L731.9 1528.6 L735 1529.4 L738.2 1530.1 L741.4 1530.8 L744.6 1531.4 L747.8 1532 L751 1532.6 L754.2 1533.1 L757.4 1533.5 L760.6 1533.9 L763.8 1534.3 L767 1534.6 L770.2 1534.8 L773.4 1535 L776.6 1535.1 L779.8 1535.1 M591.2 1676.3 L594.4 1672.8 L597.6 1669.2 L600.8 1665.7 L604 1662.2 L607.2 1658.7 L610.4 1655.2 L613.6 1651.7 L616.8 1648.2 L620 1644.8 L623.2 1641.3 L626.4 1637.9 L629.6 1634.5 L632.8 1631 L636 1627.6 L639.1 1624.2 L642.3 1620.9 L645.5 1617.4 L648.7 1614 L651.9 1610.6 L655.1 1607.2 L658.3 1603.7 L661.5 1600.2 L664.7 1596.7 L667.9 1593.1 L671.1 1589.6 L674.3 1586 L677.5 1582.5 L680.7 1578.9 L683.9 1575.4 L687.1 1572 L690.3 1568.6 L693.5 1565.2 L696.7 1562 L699.9 1558.8 L703.1 1555.7 L706.3 1552.8 L709.5 1549.9 L712.7 1547.2 L715.9 1544.6 L719.1 1542.1 L722.3 1539.7 L725.5 1537.4 L728.7 1535.3 L731.9 1533.2 L735 1531.3 L738.2 1529.6 L741.4 1527.9 L744.6 1526.4 L747.8 1525 L751 1523.7 L754.2 1522.6 L757.4 1521.6 L760.6 1520.8 L763.8 1520 L767 1519.5 L770.2 1519 L773.4 1518.7 L776.6 1518.6 L779.8 1518.5 M591.2 1676.3 L594.4 1673.6 L597.6 1670.8 L600.8 1668.1 L604 1665.4 L607.2 1662.7 L610.4 1660 L613.6 1657.4 L616.8 1654.7 L620 1652.1 L623.2 1649.5 L626.4 1646.9 L629.6 1644.4 L632.8 1641.9 L636 1639.4 L639.1 1637 L642.3 1634.6 L645.5 1632.1 L648.7 1629.8 L651.9 1627.4 L655.1 1625 L658.3 1622.7 L661.5 1620.4 L664.7 1618.1 L667.9 1615.8 L671.1 1613.5 L674.3 1611.2 L677.5 1609 L680.7 1606.8 L683.9 1604.6 L687.1 1602.5 L690.3 1600.5 L693.5 1598.5 L696.7 1596.5 L699.9 1594.7 L703.1 1592.9 L706.3 1591.1 L709.5 1589.5 L712.7 1587.9 L715.9 1586.3 L719.1 1584.8 L722.3 1583.3 L725.5 1581.9 L728.7 1580.4 L731.9 1579 L735 1577.6 L738.2 1576.2 L741.4 1574.8 L744.6 1573.4 L747.8 1571.9 L751 1570.5 L754.2 1569 L757.4 1567.6 L760.6 1566.3 L763.8 1564.9 L767 1563.7 L770.2 1562.6 L773.4 1561.8 L776.6 1561.2 L779.8 1561" stroke="#fb9bd9" stroke-width="5.4" fill="none" stroke-linejoin="round" stroke-linecap="butt" clip-path="url(#cb2)"/>
<path d="M157.7 1292.8 L161.4 1292.8 L165 1292.9 L168.7 1293 L172.4 1293.1 L176.1 1293.2 L179.7 1293.4 L183.4 1293.7 L187.1 1293.9 L190.7 1294.2 L194.4 1294.6 L198.1 1294.9 L201.8 1295.3 L205.4 1295.8 L209.1 1296.2 L212.8 1296.7 L216.4 1297.2 L220.1 1297.8 L223.8 1298.4 L227.5 1298.9 L231.1 1299.5 L234.8 1300.2 L238.5 1300.8 L242.1 1301.4 L245.8 1302.1 L249.5 1302.8 L253.2 1303.4 L256.8 1304.2 L260.5 1304.9 L264.2 1305.6 L267.8 1306.4 L271.5 1307.3 L275.2 1308.2 L278.8 1309.1 L282.5 1310.1 L286.2 1311.1 L289.9 1312.2 L293.5 1313.3 L297.2 1314.5 L300.9 1315.7 L304.5 1316.9 L308.2 1318.2 L311.9 1319.5 L315.6 1320.8 L319.2 1322 L322.9 1323.3 L326.6 1324.6 L330.2 1325.8 L333.9 1327 L337.6 1328.1 L341.3 1329.2 L344.9 1330.2 L348.6 1331.1 L352.3 1332 L355.9 1332.7 L359.6 1333.3 L363.3 1333.8 L367 1334.2 L370.6 1334.4 L374.3 1334.5 M591.2 1292.8 L587.5 1292.8 L583.8 1292.9 L580.2 1293 L576.5 1293.1 L572.8 1293.2 L569.1 1293.4 L565.5 1293.7 L561.8 1293.9 L558.1 1294.2 L554.4 1294.6 L550.8 1294.9 L547.1 1295.3 L543.4 1295.8 L539.7 1296.2 L536.1 1296.7 L532.4 1297.2 L528.7 1297.8 L525 1298.4 L521.4 1298.9 L517.7 1299.5 L514 1300.2 L510.3 1300.8 L506.6 1301.4 L503 1302.1 L499.3 1302.8 L495.6 1303.4 L491.9 1304.2 L488.3 1304.9 L484.6 1305.6 L480.9 1306.4 L477.2 1307.3 L473.6 1308.2 L469.9 1309.1 L466.2 1310.1 L462.5 1311.1 L458.9 1312.2 L455.2 1313.3 L451.5 1314.5 L447.8 1315.7 L444.1 1316.9 L440.5 1318.2 L436.8 1319.5 L433.1 1320.8 L429.4 1322 L425.8 1323.3 L422.1 1324.6 L418.4 1325.8 L414.7 1327 L411.1 1328.1 L407.4 1329.2 L403.7 1330.2 L400 1331.1 L396.4 1332 L392.7 1332.7 L389 1333.3 L385.3 1333.8 L381.7 1334.2 L378 1334.4 L374.3 1334.5 M157.7 1442.8 L161.4 1442.8 L165 1442.9 L168.7 1443 L172.4 1443.1 L176.1 1443.2 L179.7 1443.4 L183.4 1443.6 L187.1 1443.9 L190.7 1444.1 L194.4 1444.4 L198.1 1444.7 L201.8 1445 L205.4 1445.3 L209.1 1445.7 L212.8 1446.1 L216.4 1446.4 L220.1 1446.8 L223.8 1447.2 L227.5 1447.7 L231.1 1448.1 L234.8 1448.5 L238.5 1448.9 L242.1 1449.3 L245.8 1449.8 L249.5 1450.2 L253.2 1450.6 L256.8 1451 L260.5 1451.4 L264.2 1451.8 L267.8 1452.2 L271.5 1452.6 L275.2 1453 L278.8 1453.3 L282.5 1453.7 L286.2 1454 L289.9 1454.3 L293.5 1454.7 L297.2 1455 L300.9 1455.2 L304.5 1455.5 L308.2 1455.8 L311.9 1456 L315.6 1456.3 L319.2 1456.5 L322.9 1456.7 L326.6 1456.9 L330.2 1457.1 L333.9 1457.3 L337.6 1457.4 L341.3 1457.6 L344.9 1457.7 L348.6 1457.8 L352.3 1457.9 L355.9 1458 L359.6 1458.1 L363.3 1458.1 L367 1458.2 L370.6 1458.2 L374.3 1458.2 M591.2 1442.8 L587.5 1442.8 L583.8 1442.9 L580.2 1443 L576.5 1443.1 L572.8 1443.2 L569.1 1443.4 L565.5 1443.6 L561.8 1443.9 L558.1 1444.1 L554.4 1444.4 L550.8 1444.7 L547.1 1445 L543.4 1445.3 L539.7 1445.7 L536.1 1446.1 L532.4 1446.4 L528.7 1446.8 L525 1447.2 L521.4 1447.7 L517.7 1448.1 L514 1448.5 L510.3 1448.9 L506.6 1449.3 L503 1449.8 L499.3 1450.2 L495.6 1450.6 L491.9 1451 L488.3 1451.4 L484.6 1451.8 L480.9 1452.2 L477.2 1452.6 L473.6 1453 L469.9 1453.3 L466.2 1453.7 L462.5 1454 L458.9 1454.3 L455.2 1454.7 L451.5 1455 L447.8 1455.2 L444.1 1455.5 L440.5 1455.8 L436.8 1456 L433.1 1456.3 L429.4 1456.5 L425.8 1456.7 L422.1 1456.9 L418.4 1457.1 L414.7 1457.3 L411.1 1457.4 L407.4 1457.6 L403.7 1457.7 L400 1457.8 L396.4 1457.9 L392.7 1458 L389 1458.1 L385.3 1458.1 L381.7 1458.2 L378 1458.2 L374.3 1458.2 M157.7 1501 L161.4 1501 L165 1500.9 L168.7 1500.8 L172.4 1500.6 L176.1 1500.4 L179.7 1500.2 L183.4 1499.9 L187.1 1499.6 L190.7 1499.3 L194.4 1498.9 L198.1 1498.5 L201.8 1498.1 L205.4 1497.7 L209.1 1497.3 L212.8 1496.8 L216.4 1496.3 L220.1 1495.9 L223.8 1495.4 L227.5 1494.9 L231.1 1494.4 L234.8 1493.9 L238.5 1493.4 L242.1 1492.9 L245.8 1492.5 L249.5 1492 L253.2 1491.6 L256.8 1491.1 L260.5 1490.7 L264.2 1490.3 L267.8 1490 L271.5 1489.7 L275.2 1489.4 L278.8 1489.1 L282.5 1488.8 L286.2 1488.6 L289.9 1488.4 L293.5 1488.2 L297.2 1488.1 L300.9 1488 L304.5 1487.9 L308.2 1487.8 L311.9 1487.8 L315.6 1487.7 L319.2 1487.8 L322.9 1487.8 L326.6 1487.8 L330.2 1487.9 L333.9 1488 L337.6 1488.1 L341.3 1488.2 L344.9 1488.3 L348.6 1488.4 L352.3 1488.5 L355.9 1488.6 L359.6 1488.7 L363.3 1488.8 L367 1488.8 L370.6 1488.9 L374.3 1488.9 M591.2 1501 L587.5 1501 L583.8 1500.9 L580.2 1500.8 L576.5 1500.6 L572.8 1500.4 L569.1 1500.2 L565.5 1499.9 L561.8 1499.6 L558.1 1499.3 L554.4 1498.9 L550.8 1498.5 L547.1 1498.1 L543.4 1497.7 L539.7 1497.3 L536.1 1496.8 L532.4 1496.3 L528.7 1495.9 L525 1495.4 L521.4 1494.9 L517.7 1494.4 L514 1493.9 L510.3 1493.4 L506.6 1492.9 L503 1492.5 L499.3 1492 L495.6 1491.6 L491.9 1491.1 L488.3 1490.7 L484.6 1490.3 L480.9 1490 L477.2 1489.7 L473.6 1489.4 L469.9 1489.1 L466.2 1488.8 L462.5 1488.6 L458.9 1488.4 L455.2 1488.2 L451.5 1488.1 L447.8 1488 L444.1 1487.9 L440.5 1487.8 L436.8 1487.8 L433.1 1487.7 L429.4 1487.8 L425.8 1487.8 L422.1 1487.8 L418.4 1487.9 L414.7 1488 L411.1 1488.1 L407.4 1488.2 L403.7 1488.3 L400 1488.4 L396.4 1488.5 L392.7 1488.6 L389 1488.7 L385.3 1488.8 L381.7 1488.8 L378 1488.9 L374.3 1488.9 M157.7 1501 L161.4 1501.3 L165 1501.6 L168.7 1501.9 L172.4 1502.3 L176.1 1502.7 L179.7 1503.3 L183.4 1503.9 L187.1 1504.7 L190.7 1505.6 L194.4 1506.6 L198.1 1507.7 L201.8 1508.9 L205.4 1510.3 L209.1 1511.7 L212.8 1513.2 L216.4 1514.7 L220.1 1516.4 L223.8 1518.1 L227.5 1519.9 L231.1 1521.7 L234.8 1523.6 L238.5 1525.6 L242.1 1527.6 L245.8 1529.6 L249.5 1531.7 L253.2 1533.8 L256.8 1535.9 L260.5 1538 L264.2 1540.2 L267.8 1542.4 L271.5 1544.5 L275.2 1546.8 L278.8 1549 L282.5 1551.3 L286.2 1553.6 L289.9 1555.9 L293.5 1558.4 L297.2 1560.8 L300.9 1563.4 L304.5 1566 L308.2 1568.7 L311.9 1571.4 L315.6 1574.3 L319.2 1577.2 L322.9 1580.1 L326.6 1583 L330.2 1586 L333.9 1588.9 L337.6 1591.8 L341.3 1594.6 L344.9 1597.3 L348.6 1600 L352.3 1602.6 L355.9 1605.1 L359.6 1607.5 L363.3 1609.9 L367 1612.1 L370.6 1613.7 L374.3 1614.4 M591.2 1501 L587.5 1501.3 L583.8 1501.6 L580.2 1501.9 L576.5 1502.3 L572.8 1502.7 L569.1 1503.3 L565.5 1503.9 L561.8 1504.7 L558.1 1505.6 L554.4 1506.6 L550.8 1507.7 L547.1 1508.9 L543.4 1510.3 L539.7 1511.7 L536.1 1513.2 L532.4 1514.7 L528.7 1516.4 L525 1518.1 L521.4 1519.9 L517.7 1521.7 L514 1523.6 L510.3 1525.6 L506.6 1527.6 L503 1529.6 L499.3 1531.7 L495.6 1533.8 L491.9 1535.9 L488.3 1538 L484.6 1540.2 L480.9 1542.4 L477.2 1544.5 L473.6 1546.8 L469.9 1549 L466.2 1551.3 L462.5 1553.6 L458.9 1555.9 L455.2 1558.4 L451.5 1560.8 L447.8 1563.4 L444.1 1566 L440.5 1568.7 L436.8 1571.4 L433.1 1574.3 L429.4 1577.2 L425.8 1580.1 L422.1 1583 L418.4 1586 L414.7 1588.9 L411.1 1591.8 L407.4 1594.6 L403.7 1597.3 L400 1600 L396.4 1602.6 L392.7 1605.1 L389 1607.5 L385.3 1609.9 L381.7 1612.1 L378 1613.7 L374.3 1614.4 M157.7 1676.3 L161.4 1671.8 L165 1667.3 L168.7 1662.7 L172.4 1658.2 L176.1 1653.6 L179.7 1648.9 L183.4 1644.3 L187.1 1639.7 L190.7 1635 L194.4 1630.3 L198.1 1625.6 L201.8 1620.8 L205.4 1616.1 L209.1 1611.4 L212.8 1606.6 L216.4 1601.8 L220.1 1597 L223.8 1592 L227.5 1587 L231.1 1581.8 L234.8 1576.5 L238.5 1571.1 L242.1 1565.6 L245.8 1560 L249.5 1554.5 L253.2 1549 L256.8 1543.6 L260.5 1538.1 L264.2 1532.5 L267.8 1527.1 L271.5 1521.7 L275.2 1516.6 L278.8 1511.8 L282.5 1507.1 L286.2 1502.6 L289.9 1498.2 L293.5 1494.1 L297.2 1490.2 L300.9 1486.4 L304.5 1482.6 L308.2 1479 L311.9 1475.5 L315.6 1472.1 L319.2 1468.8 L322.9 1465.8 L326.6 1463.1 L330.2 1460.6 L333.9 1458.3 L337.6 1456.1 L341.3 1454 L344.9 1452.2 L348.6 1450.6 L352.3 1449.3 L355.9 1448.3 L359.6 1447.4 L363.3 1446.5 L367 1445.8 L370.6 1445.3 L374.3 1445 M591.2 1676.3 L587.5 1671.2 L583.8 1666.1 L580.2 1661 L576.5 1655.9 L572.8 1650.8 L569.1 1645.7 L565.5 1640.6 L561.8 1635.5 L558.1 1630.4 L554.4 1625.3 L550.8 1620.2 L547.1 1615.1 L543.4 1609.9 L539.7 1604.8 L536.1 1599.7 L532.4 1594.7 L528.7 1589.7 L525 1584.8 L521.4 1580.1 L517.7 1575.4 L514 1570.8 L510.3 1566.2 L506.6 1561.7 L503 1557.3 L499.3 1552.8 L495.6 1548.4 L491.9 1543.9 L488.3 1539.4 L484.6 1534.9 L480.9 1530.4 L477.2 1525.9 L473.6 1521.6 L469.9 1517.3 L466.2 1513.2 L462.5 1509.2 L458.9 1505.2 L455.2 1501.3 L451.5 1497.5 L447.8 1493.7 L444.1 1490 L440.5 1486.3 L436.8 1482.6 L433.1 1478.7 L429.4 1474.7 L425.8 1470.7 L422.1 1466.8 L418.4 1463.1 L414.7 1459.8 L411.1 1456.9 L407.4 1454.7 L403.7 1453.1 L400 1451.5 L396.4 1450 L392.7 1448.7 L389 1447.4 L385.3 1446.4 L381.7 1445.7 L378 1445.2 L374.3 1445 M157.7 1676.3 L161.4 1674.4 L165 1672.5 L168.7 1670.7 L172.4 1668.8 L176.1 1666.9 L179.7 1665.1 L183.4 1663.3 L187.1 1661.4 L190.7 1659.6 L194.4 1657.8 L198.1 1656.1 L201.8 1654.3 L205.4 1652.6 L209.1 1650.9 L212.8 1649.2 L216.4 1647.6 L220.1 1645.9 L223.8 1644.2 L227.5 1642.6 L231.1 1640.9 L234.8 1639.2 L238.5 1637.6 L242.1 1635.9 L245.8 1634.2 L249.5 1632.5 L253.2 1630.7 L256.8 1629 L260.5 1627.3 L264.2 1625.6 L267.8 1623.8 L271.5 1622.1 L275.2 1620.5 L278.8 1618.8 L282.5 1617.2 L286.2 1615.6 L289.9 1614 L293.5 1612.5 L297.2 1611 L300.9 1609.5 L304.5 1608.1 L308.2 1606.7 L311.9 1605.4 L315.6 1604.1 L319.2 1602.8 L322.9 1601.5 L326.6 1600.3 L330.2 1599.1 L333.9 1597.9 L337.6 1596.8 L341.3 1595.7 L344.9 1594.8 L348.6 1594 L352.3 1593.4 L355.9 1592.9 L359.6 1592.6 L363.3 1592.5 L367 1592.4 L370.6 1592.4 L374.3 1592.4 M591.2 1676.3 L587.5 1674.4 L583.8 1672.5 L580.2 1670.7 L576.5 1668.8 L572.8 1666.9 L569.1 1665.1 L565.5 1663.3 L561.8 1661.4 L558.1 1659.6 L554.4 1657.8 L550.8 1656.1 L547.1 1654.3 L543.4 1652.6 L539.7 1650.9 L536.1 1649.2 L532.4 1647.6 L528.7 1645.9 L525 1644.2 L521.4 1642.6 L517.7 1640.9 L514 1639.2 L510.3 1637.6 L506.6 1635.9 L503 1634.2 L499.3 1632.5 L495.6 1630.7 L491.9 1629 L488.3 1627.3 L484.6 1625.6 L480.9 1623.8 L477.2 1622.1 L473.6 1620.5 L469.9 1618.8 L466.2 1617.2 L462.5 1615.6 L458.9 1614 L455.2 1612.5 L451.5 1611 L447.8 1609.5 L444.1 1608.1 L440.5 1606.7 L436.8 1605.4 L433.1 1604.1 L429.4 1602.8 L425.8 1601.5 L422.1 1600.3 L418.4 1599.1 L414.7 1597.9 L411.1 1596.8 L407.4 1595.7 L403.7 1594.8 L400 1594 L396.4 1593.4 L392.7 1592.9 L389 1592.6 L385.3 1592.5 L381.7 1592.4 L378 1592.4 L374.3 1592.4 M591.2 1293.1 L594.4 1293.1 L597.6 1293.1 L600.8 1293.2 L604 1293.2 L607.2 1293.3 L610.4 1293.5 L613.6 1293.6 L616.8 1293.9 L620 1294.1 L623.2 1294.5 L626.4 1294.8 L629.6 1295.3 L632.8 1295.8 L636 1296.4 L639.1 1297 L642.3 1297.7 L645.5 1298.5 L648.7 1299.3 L651.9 1300.2 L655.1 1301.1 L658.3 1302.1 L661.5 1303.2 L664.7 1304.3 L667.9 1305.4 L671.1 1306.6 L674.3 1307.8 L677.5 1309.1 L680.7 1310.4 L683.9 1311.6 L687.1 1312.9 L690.3 1314.2 L693.5 1315.5 L696.7 1316.8 L699.9 1318.1 L703.1 1319.3 L706.3 1320.5 L709.5 1321.6 L712.7 1322.8 L715.9 1323.9 L719.1 1325 L722.3 1326.1 L725.5 1327.2 L728.7 1328.3 L731.9 1329.4 L735 1330.5 L738.2 1331.6 L741.4 1332.7 L744.6 1333.9 L747.8 1335 L751 1336.1 L754.2 1337.1 L757.4 1338 L760.6 1338.7 L763.8 1339.4 L767 1339.8 L770.2 1340.1 L773.4 1340.4 L776.6 1340.5 L779.8 1340.5 M591.2 1443.3 L594.4 1443.3 L597.6 1443.3 L600.8 1443.4 L604 1443.5 L607.2 1443.5 L610.4 1443.6 L613.6 1443.8 L616.8 1443.9 L620 1444 L623.2 1444.2 L626.4 1444.4 L629.6 1444.6 L632.8 1444.8 L636 1445 L639.1 1445.2 L642.3 1445.5 L645.5 1445.7 L648.7 1446 L651.9 1446.2 L655.1 1446.5 L658.3 1446.8 L661.5 1447.1 L664.7 1447.4 L667.9 1447.7 L671.1 1448 L674.3 1448.3 L677.5 1448.6 L680.7 1448.9 L683.9 1449.2 L687.1 1449.5 L690.3 1449.8 L693.5 1450.1 L696.7 1450.4 L699.9 1450.7 L703.1 1451.1 L706.3 1451.4 L709.5 1451.7 L712.7 1451.9 L715.9 1452.2 L719.1 1452.5 L722.3 1452.8 L725.5 1453.1 L728.7 1453.3 L731.9 1453.6 L735 1453.8 L738.2 1454 L741.4 1454.2 L744.6 1454.4 L747.8 1454.6 L751 1454.8 L754.2 1455 L757.4 1455.1 L760.6 1455.2 L763.8 1455.3 L767 1455.4 L770.2 1455.5 L773.4 1455.6 L776.6 1455.6 L779.8 1455.6 M591.2 1501 L594.4 1501 L597.6 1501 L600.8 1500.9 L604 1500.9 L607.2 1500.8 L610.4 1500.8 L613.6 1500.7 L616.8 1500.6 L620 1500.5 L623.2 1500.4 L626.4 1500.3 L629.6 1500.2 L632.8 1500.1 L636 1500 L639.1 1499.9 L642.3 1499.8 L645.5 1499.7 L648.7 1499.6 L651.9 1499.4 L655.1 1499.3 L658.3 1499.2 L661.5 1499.1 L664.7 1499 L667.9 1498.9 L671.1 1498.8 L674.3 1498.7 L677.5 1498.6 L680.7 1498.5 L683.9 1498.4 L687.1 1498.3 L690.3 1498.2 L693.5 1498.1 L696.7 1497.9 L699.9 1497.8 L703.1 1497.7 L706.3 1497.6 L709.5 1497.4 L712.7 1497.3 L715.9 1497.2 L719.1 1497 L722.3 1496.9 L725.5 1496.7 L728.7 1496.6 L731.9 1496.4 L735 1496.2 L738.2 1496.1 L741.4 1495.9 L744.6 1495.7 L747.8 1495.5 L751 1495.3 L754.2 1495.1 L757.4 1494.9 L760.6 1494.8 L763.8 1494.6 L767 1494.4 L770.2 1494.3 L773.4 1494.2 L776.6 1494.1 L779.8 1494.1 M591.2 1501 L594.4 1501 L597.6 1501.1 L600.8 1501.2 L604 1501.3 L607.2 1501.5 L610.4 1501.7 L613.6 1501.9 L616.8 1502.2 L620 1502.4 L623.2 1502.7 L626.4 1502.9 L629.6 1503.2 L632.8 1503.5 L636 1503.8 L639.1 1504 L642.3 1504.3 L645.5 1504.5 L648.7 1504.7 L651.9 1504.9 L655.1 1505.1 L658.3 1505.3 L661.5 1505.5 L664.7 1505.7 L667.9 1505.9 L671.1 1506.1 L674.3 1506.4 L677.5 1506.7 L680.7 1507 L683.9 1507.4 L687.1 1507.9 L690.3 1508.4 L693.5 1509 L696.7 1509.6 L699.9 1510.3 L703.1 1511 L706.3 1511.7 L709.5 1512.5 L712.7 1513.2 L715.9 1514 L719.1 1514.8 L722.3 1515.6 L725.5 1516.4 L728.7 1517.2 L731.9 1518 L735 1518.7 L738.2 1519.4 L741.4 1520.1 L744.6 1520.7 L747.8 1521.3 L751 1521.9 L754.2 1522.4 L757.4 1522.8 L760.6 1523.2 L763.8 1523.6 L767 1523.9 L770.2 1524.1 L773.4 1524.3 L776.6 1524.4 L779.8 1524.4 M591.2 1676.3 L594.4 1672.5 L597.6 1668.8 L600.8 1665 L604 1661.3 L607.2 1657.5 L610.4 1653.8 L613.6 1650.1 L616.8 1646.3 L620 1642.7 L623.2 1639 L626.4 1635.3 L629.6 1631.7 L632.8 1628 L636 1624.4 L639.1 1620.8 L642.3 1617.2 L645.5 1613.5 L648.7 1609.9 L651.9 1606.2 L655.1 1602.6 L658.3 1598.9 L661.5 1595.1 L664.7 1591.4 L667.9 1587.6 L671.1 1583.8 L674.3 1580 L677.5 1576.2 L680.7 1572.4 L683.9 1568.7 L687.1 1565 L690.3 1561.4 L693.5 1557.8 L696.7 1554.4 L699.9 1551 L703.1 1547.7 L706.3 1544.5 L709.5 1541.5 L712.7 1538.6 L715.9 1535.8 L719.1 1533.1 L722.3 1530.6 L725.5 1528.2 L728.7 1525.9 L731.9 1523.7 L735 1521.7 L738.2 1519.8 L741.4 1518 L744.6 1516.4 L747.8 1514.9 L751 1513.6 L754.2 1512.4 L757.4 1511.3 L760.6 1510.4 L763.8 1509.6 L767 1509 L770.2 1508.6 L773.4 1508.2 L776.6 1508.1 L779.8 1508 M591.2 1676.3 L594.4 1673.5 L597.6 1670.8 L600.8 1668.1 L604 1665.3 L607.2 1662.6 L610.4 1659.9 L613.6 1657.2 L616.8 1654.5 L620 1651.9 L623.2 1649.3 L626.4 1646.7 L629.6 1644.1 L632.8 1641.6 L636 1639.1 L639.1 1636.6 L642.3 1634.2 L645.5 1631.8 L648.7 1629.4 L651.9 1627 L655.1 1624.6 L658.3 1622.2 L661.5 1619.9 L664.7 1617.6 L667.9 1615.2 L671.1 1612.9 L674.3 1610.7 L677.5 1608.4 L680.7 1606.2 L683.9 1604 L687.1 1601.9 L690.3 1599.8 L693.5 1597.8 L696.7 1595.8 L699.9 1593.9 L703.1 1592.1 L706.3 1590.4 L709.5 1588.7 L712.7 1587.1 L715.9 1585.5 L719.1 1584 L722.3 1582.5 L725.5 1581.1 L728.7 1579.6 L731.9 1578.2 L735 1576.8 L738.2 1575.3 L741.4 1573.9 L744.6 1572.5 L747.8 1571 L751 1569.6 L754.2 1568.1 L757.4 1566.7 L760.6 1565.3 L763.8 1564 L767 1562.7 L770.2 1561.6 L773.4 1560.8 L776.6 1560.2 L779.8 1560" stroke="#1626e6" stroke-width="5.4" fill="none" stroke-linejoin="round" stroke-linecap="butt" clip-path="url(#cb2)"/>
<path d="M157.7 1308.2 L161.4 1308.2 L165 1308.3 L168.7 1308.3 L172.4 1308.5 L176.1 1308.6 L179.7 1308.8 L183.4 1309 L187.1 1309.2 L190.7 1309.5 L194.4 1309.8 L198.1 1310.2 L201.8 1310.6 L205.4 1311 L209.1 1311.4 L212.8 1311.9 L216.4 1312.4 L220.1 1312.9 L223.8 1313.4 L227.5 1314 L231.1 1314.5 L234.8 1315.1 L238.5 1315.7 L242.1 1316.3 L245.8 1316.9 L249.5 1317.5 L253.2 1318.2 L256.8 1318.8 L260.5 1319.5 L264.2 1320.3 L267.8 1321 L271.5 1321.8 L275.2 1322.6 L278.8 1323.5 L282.5 1324.4 L286.2 1325.4 L289.9 1326.4 L293.5 1327.5 L297.2 1328.6 L300.9 1329.8 L304.5 1331 L308.2 1332.2 L311.9 1333.4 L315.6 1334.6 L319.2 1335.8 L322.9 1337 L326.6 1338.2 L330.2 1339.4 L333.9 1340.5 L337.6 1341.6 L341.3 1342.6 L344.9 1343.6 L348.6 1344.5 L352.3 1345.3 L355.9 1346 L359.6 1346.6 L363.3 1347.1 L367 1347.4 L370.6 1347.6 L374.3 1347.7 M591.2 1308.2 L587.5 1308.2 L583.8 1308.3 L580.2 1308.3 L576.5 1308.5 L572.8 1308.6 L569.1 1308.8 L565.5 1309 L561.8 1309.2 L558.1 1309.5 L554.4 1309.8 L550.8 1310.2 L547.1 1310.6 L543.4 1311 L539.7 1311.4 L536.1 1311.9 L532.4 1312.4 L528.7 1312.9 L525 1313.4 L521.4 1314 L517.7 1314.5 L514 1315.1 L510.3 1315.7 L506.6 1316.3 L503 1316.9 L499.3 1317.5 L495.6 1318.2 L491.9 1318.8 L488.3 1319.5 L484.6 1320.3 L480.9 1321 L477.2 1321.8 L473.6 1322.6 L469.9 1323.5 L466.2 1324.4 L462.5 1325.4 L458.9 1326.4 L455.2 1327.5 L451.5 1328.6 L447.8 1329.8 L444.1 1331 L440.5 1332.2 L436.8 1333.4 L433.1 1334.6 L429.4 1335.8 L425.8 1337 L422.1 1338.2 L418.4 1339.4 L414.7 1340.5 L411.1 1341.6 L407.4 1342.6 L403.7 1343.6 L400 1344.5 L396.4 1345.3 L392.7 1346 L389 1346.6 L385.3 1347.1 L381.7 1347.4 L378 1347.6 L374.3 1347.7 M157.7 1459.3 L161.4 1459.3 L165 1459.3 L168.7 1459.4 L172.4 1459.5 L176.1 1459.6 L179.7 1459.7 L183.4 1459.8 L187.1 1460 L190.7 1460.1 L194.4 1460.3 L198.1 1460.5 L201.8 1460.7 L205.4 1460.9 L209.1 1461.2 L212.8 1461.4 L216.4 1461.6 L220.1 1461.9 L223.8 1462.1 L227.5 1462.4 L231.1 1462.6 L234.8 1462.9 L238.5 1463.2 L242.1 1463.4 L245.8 1463.7 L249.5 1463.9 L253.2 1464.2 L256.8 1464.4 L260.5 1464.7 L264.2 1464.9 L267.8 1465.1 L271.5 1465.3 L275.2 1465.5 L278.8 1465.7 L282.5 1465.9 L286.2 1466.1 L289.9 1466.3 L293.5 1466.4 L297.2 1466.6 L300.9 1466.7 L304.5 1466.8 L308.2 1467 L311.9 1467.1 L315.6 1467.2 L319.2 1467.3 L322.9 1467.4 L326.6 1467.5 L330.2 1467.6 L333.9 1467.6 L337.6 1467.7 L341.3 1467.8 L344.9 1467.8 L348.6 1467.9 L352.3 1467.9 L355.9 1467.9 L359.6 1468 L363.3 1468 L367 1468 L370.6 1468 L374.3 1468 M591.2 1459.3 L587.5 1459.3 L583.8 1459.3 L580.2 1459.4 L576.5 1459.5 L572.8 1459.6 L569.1 1459.7 L565.5 1459.8 L561.8 1460 L558.1 1460.1 L554.4 1460.3 L550.8 1460.5 L547.1 1460.7 L543.4 1460.9 L539.7 1461.2 L536.1 1461.4 L532.4 1461.6 L528.7 1461.9 L525 1462.1 L521.4 1462.4 L517.7 1462.6 L514 1462.9 L510.3 1463.2 L506.6 1463.4 L503 1463.7 L499.3 1463.9 L495.6 1464.2 L491.9 1464.4 L488.3 1464.7 L484.6 1464.9 L480.9 1465.1 L477.2 1465.3 L473.6 1465.5 L469.9 1465.7 L466.2 1465.9 L462.5 1466.1 L458.9 1466.3 L455.2 1466.4 L451.5 1466.6 L447.8 1466.7 L444.1 1466.8 L440.5 1467 L436.8 1467.1 L433.1 1467.2 L429.4 1467.3 L425.8 1467.4 L422.1 1467.5 L418.4 1467.6 L414.7 1467.6 L411.1 1467.7 L407.4 1467.8 L403.7 1467.8 L400 1467.9 L396.4 1467.9 L392.7 1467.9 L389 1468 L385.3 1468 L381.7 1468 L378 1468 L374.3 1468 M157.7 1507.5 L161.4 1507.5 L165 1507.4 L168.7 1507.3 L172.4 1507.1 L176.1 1506.9 L179.7 1506.7 L183.4 1506.4 L187.1 1506.1 L190.7 1505.8 L194.4 1505.4 L198.1 1505 L201.8 1504.6 L205.4 1504.1 L209.1 1503.7 L212.8 1503.2 L216.4 1502.7 L220.1 1502.3 L223.8 1501.8 L227.5 1501.2 L231.1 1500.7 L234.8 1500.2 L238.5 1499.7 L242.1 1499.2 L245.8 1498.7 L249.5 1498.3 L253.2 1497.8 L256.8 1497.4 L260.5 1496.9 L264.2 1496.5 L267.8 1496.1 L271.5 1495.8 L275.2 1495.4 L278.8 1495.1 L282.5 1494.9 L286.2 1494.6 L289.9 1494.4 L293.5 1494.2 L297.2 1494 L300.9 1493.9 L304.5 1493.7 L308.2 1493.6 L311.9 1493.6 L315.6 1493.5 L319.2 1493.5 L322.9 1493.5 L326.6 1493.5 L330.2 1493.6 L333.9 1493.6 L337.6 1493.7 L341.3 1493.8 L344.9 1493.9 L348.6 1494 L352.3 1494.1 L355.9 1494.2 L359.6 1494.2 L363.3 1494.3 L367 1494.4 L370.6 1494.4 L374.3 1494.4 M591.2 1507.5 L587.5 1507.5 L583.8 1507.4 L580.2 1507.3 L576.5 1507.1 L572.8 1506.9 L569.1 1506.7 L565.5 1506.4 L561.8 1506.1 L558.1 1505.8 L554.4 1505.4 L550.8 1505 L547.1 1504.6 L543.4 1504.1 L539.7 1503.7 L536.1 1503.2 L532.4 1502.7 L528.7 1502.3 L525 1501.8 L521.4 1501.2 L517.7 1500.7 L514 1500.2 L510.3 1499.7 L506.6 1499.2 L503 1498.7 L499.3 1498.3 L495.6 1497.8 L491.9 1497.4 L488.3 1496.9 L484.6 1496.5 L480.9 1496.1 L477.2 1495.8 L473.6 1495.4 L469.9 1495.1 L466.2 1494.9 L462.5 1494.6 L458.9 1494.4 L455.2 1494.2 L451.5 1494 L447.8 1493.9 L444.1 1493.7 L440.5 1493.6 L436.8 1493.6 L433.1 1493.5 L429.4 1493.5 L425.8 1493.5 L422.1 1493.5 L418.4 1493.6 L414.7 1493.6 L411.1 1493.7 L407.4 1493.8 L403.7 1493.9 L400 1494 L396.4 1494.1 L392.7 1494.2 L389 1494.2 L385.3 1494.3 L381.7 1494.4 L378 1494.4 L374.3 1494.4 M157.7 1507.5 L161.4 1507.6 L165 1507.7 L168.7 1507.9 L172.4 1508.1 L176.1 1508.5 L179.7 1508.9 L183.4 1509.5 L187.1 1510.2 L190.7 1511.1 L194.4 1512.3 L198.1 1513.5 L201.8 1514.9 L205.4 1516.4 L209.1 1517.9 L212.8 1519.5 L216.4 1521 L220.1 1522.5 L223.8 1524.1 L227.5 1525.6 L231.1 1527.1 L234.8 1528.7 L238.5 1530.4 L242.1 1532 L245.8 1533.8 L249.5 1535.7 L253.2 1537.6 L256.8 1539.6 L260.5 1541.8 L264.2 1544 L267.8 1546.4 L271.5 1548.8 L275.2 1551.2 L278.8 1553.7 L282.5 1556.3 L286.2 1558.8 L289.9 1561.4 L293.5 1563.9 L297.2 1566.5 L300.9 1568.9 L304.5 1571.4 L308.2 1573.8 L311.9 1576.2 L315.6 1578.5 L319.2 1580.8 L322.9 1583.1 L326.6 1585.3 L330.2 1587.6 L333.9 1589.8 L337.6 1592 L341.3 1594.1 L344.9 1596.2 L348.6 1598.1 L352.3 1599.9 L355.9 1601.6 L359.6 1603 L363.3 1604.3 L367 1605.2 L370.6 1605.8 L374.3 1606 M591.2 1507.5 L587.5 1507.6 L583.8 1507.7 L580.2 1507.9 L576.5 1508.1 L572.8 1508.5 L569.1 1508.9 L565.5 1509.5 L561.8 1510.2 L558.1 1511.1 L554.4 1512.3 L550.8 1513.5 L547.1 1514.9 L543.4 1516.4 L539.7 1517.9 L536.1 1519.5 L532.4 1521 L528.7 1522.5 L525 1524.1 L521.4 1525.6 L517.7 1527.1 L514 1528.7 L510.3 1530.4 L506.6 1532 L503 1533.8 L499.3 1535.7 L495.6 1537.6 L491.9 1539.6 L488.3 1541.8 L484.6 1544 L480.9 1546.4 L477.2 1548.8 L473.6 1551.2 L469.9 1553.7 L466.2 1556.3 L462.5 1558.8 L458.9 1561.4 L455.2 1563.9 L451.5 1566.5 L447.8 1568.9 L444.1 1571.4 L440.5 1573.8 L436.8 1576.2 L433.1 1578.5 L429.4 1580.8 L425.8 1583.1 L422.1 1585.3 L418.4 1587.6 L414.7 1589.8 L411.1 1592 L407.4 1594.1 L403.7 1596.2 L400 1598.1 L396.4 1599.9 L392.7 1601.6 L389 1603 L385.3 1604.3 L381.7 1605.2 L378 1605.8 L374.3 1606 M157.7 1676.3 L161.4 1671.7 L165 1667.1 L168.7 1662.5 L172.4 1657.9 L176.1 1653.2 L179.7 1648.6 L183.4 1643.9 L187.1 1639.1 L190.7 1634.4 L194.4 1629.6 L198.1 1624.8 L201.8 1620 L205.4 1615.2 L209.1 1610.4 L212.8 1605.6 L216.4 1600.8 L220.1 1595.8 L223.8 1590.8 L227.5 1585.7 L231.1 1580.5 L234.8 1575.1 L238.5 1569.6 L242.1 1564 L245.8 1558.4 L249.5 1552.8 L253.2 1547.2 L256.8 1541.7 L260.5 1536.1 L264.2 1530.5 L267.8 1524.9 L271.5 1519.5 L275.2 1514.4 L278.8 1509.5 L282.5 1504.7 L286.2 1500.1 L289.9 1495.7 L293.5 1491.5 L297.2 1487.5 L300.9 1483.7 L304.5 1479.9 L308.2 1476.2 L311.9 1472.6 L315.6 1469.1 L319.2 1465.9 L322.9 1462.8 L326.6 1460 L330.2 1457.5 L333.9 1455.1 L337.6 1452.9 L341.3 1450.8 L344.9 1449 L348.6 1447.4 L352.3 1446.1 L355.9 1445.1 L359.6 1444.1 L363.3 1443.2 L367 1442.5 L370.6 1442 L374.3 1441.7 M591.2 1676.3 L587.5 1671.1 L583.8 1665.9 L580.2 1660.8 L576.5 1655.6 L572.8 1650.4 L569.1 1645.2 L565.5 1640.1 L561.8 1634.9 L558.1 1629.8 L554.4 1624.6 L550.8 1619.4 L547.1 1614.2 L543.4 1609 L539.7 1603.8 L536.1 1598.6 L532.4 1593.5 L528.7 1588.5 L525 1583.5 L521.4 1578.7 L517.7 1573.9 L514 1569.3 L510.3 1564.7 L506.6 1560.1 L503 1555.6 L499.3 1551 L495.6 1546.5 L491.9 1542 L488.3 1537.5 L484.6 1532.9 L480.9 1528.3 L477.2 1523.8 L473.6 1519.3 L469.9 1515.1 L466.2 1510.9 L462.5 1506.8 L458.9 1502.8 L455.2 1498.8 L451.5 1494.9 L447.8 1491.1 L444.1 1487.3 L440.5 1483.6 L436.8 1479.9 L433.1 1475.9 L429.4 1471.8 L425.8 1467.8 L422.1 1463.8 L418.4 1460 L414.7 1456.7 L411.1 1453.8 L407.4 1451.6 L403.7 1449.9 L400 1448.3 L396.4 1446.8 L392.7 1445.4 L389 1444.2 L385.3 1443.2 L381.7 1442.4 L378 1441.9 L374.3 1441.7 M157.7 1676.3 L161.4 1674.6 L165 1672.9 L168.7 1671.2 L172.4 1669.5 L176.1 1667.8 L179.7 1666.1 L183.4 1664.4 L187.1 1662.8 L190.7 1661.1 L194.4 1659.5 L198.1 1657.9 L201.8 1656.3 L205.4 1654.8 L209.1 1653.2 L212.8 1651.7 L216.4 1650.2 L220.1 1648.7 L223.8 1647.1 L227.5 1645.6 L231.1 1644.1 L234.8 1642.6 L238.5 1641.1 L242.1 1639.5 L245.8 1638 L249.5 1636.4 L253.2 1634.9 L256.8 1633.3 L260.5 1631.7 L264.2 1630.1 L267.8 1628.6 L271.5 1627 L275.2 1625.5 L278.8 1624 L282.5 1622.5 L286.2 1621.1 L289.9 1619.7 L293.5 1618.3 L297.2 1616.9 L300.9 1615.6 L304.5 1614.3 L308.2 1613 L311.9 1611.8 L315.6 1610.6 L319.2 1609.4 L322.9 1608.3 L326.6 1607.2 L330.2 1606.1 L333.9 1605 L337.6 1604 L341.3 1603 L344.9 1602.2 L348.6 1601.5 L352.3 1600.9 L355.9 1600.5 L359.6 1600.2 L363.3 1600.1 L367 1600 L370.6 1600 L374.3 1600 M591.2 1676.3 L587.5 1674.6 L583.8 1672.9 L580.2 1671.2 L576.5 1669.5 L572.8 1667.8 L569.1 1666.1 L565.5 1664.4 L561.8 1662.8 L558.1 1661.1 L554.4 1659.5 L550.8 1657.9 L547.1 1656.3 L543.4 1654.8 L539.7 1653.2 L536.1 1651.7 L532.4 1650.2 L528.7 1648.7 L525 1647.1 L521.4 1645.6 L517.7 1644.1 L514 1642.6 L510.3 1641.1 L506.6 1639.5 L503 1638 L499.3 1636.4 L495.6 1634.9 L491.9 1633.3 L488.3 1631.7 L484.6 1630.1 L480.9 1628.6 L477.2 1627 L473.6 1625.5 L469.9 1624 L466.2 1622.5 L462.5 1621.1 L458.9 1619.7 L455.2 1618.3 L451.5 1616.9 L447.8 1615.6 L444.1 1614.3 L440.5 1613 L436.8 1611.8 L433.1 1610.6 L429.4 1609.4 L425.8 1608.3 L422.1 1607.2 L418.4 1606.1 L414.7 1605 L411.1 1604 L407.4 1603 L403.7 1602.2 L400 1601.5 L396.4 1600.9 L392.7 1600.5 L389 1600.2 L385.3 1600.1 L381.7 1600 L378 1600 L374.3 1600 M591.2 1308.3 L594.4 1308.3 L597.6 1308.3 L600.8 1308.4 L604 1308.4 L607.2 1308.5 L610.4 1308.6 L613.6 1308.8 L616.8 1309 L620 1309.2 L623.2 1309.5 L626.4 1309.9 L629.6 1310.3 L632.8 1310.8 L636 1311.3 L639.1 1311.9 L642.3 1312.6 L645.5 1313.3 L648.7 1314 L651.9 1314.8 L655.1 1315.7 L658.3 1316.6 L661.5 1317.6 L664.7 1318.6 L667.9 1319.7 L671.1 1320.8 L674.3 1322 L677.5 1323.2 L680.7 1324.4 L683.9 1325.6 L687.1 1326.8 L690.3 1328 L693.5 1329.2 L696.7 1330.4 L699.9 1331.6 L703.1 1332.7 L706.3 1333.9 L709.5 1335 L712.7 1336 L715.9 1337.1 L719.1 1338.1 L722.3 1339.2 L725.5 1340.2 L728.7 1341.2 L731.9 1342.3 L735 1343.3 L738.2 1344.3 L741.4 1345.4 L744.6 1346.5 L747.8 1347.6 L751 1348.6 L754.2 1349.5 L757.4 1350.4 L760.6 1351.1 L763.8 1351.7 L767 1352.2 L770.2 1352.5 L773.4 1352.7 L776.6 1352.8 L779.8 1352.8 M591.2 1459.5 L594.4 1459.5 L597.6 1459.5 L600.8 1459.6 L604 1459.6 L607.2 1459.7 L610.4 1459.8 L613.6 1459.9 L616.8 1460.1 L620 1460.2 L623.2 1460.4 L626.4 1460.5 L629.6 1460.7 L632.8 1460.9 L636 1461.1 L639.1 1461.3 L642.3 1461.6 L645.5 1461.8 L648.7 1462 L651.9 1462.3 L655.1 1462.5 L658.3 1462.8 L661.5 1463.1 L664.7 1463.4 L667.9 1463.6 L671.1 1463.9 L674.3 1464.2 L677.5 1464.5 L680.7 1464.8 L683.9 1465.1 L687.1 1465.4 L690.3 1465.7 L693.5 1466 L696.7 1466.3 L699.9 1466.6 L703.1 1466.9 L706.3 1467.2 L709.5 1467.5 L712.7 1467.7 L715.9 1468 L719.1 1468.3 L722.3 1468.5 L725.5 1468.8 L728.7 1469 L731.9 1469.3 L735 1469.5 L738.2 1469.7 L741.4 1469.9 L744.6 1470.1 L747.8 1470.3 L751 1470.4 L754.2 1470.6 L757.4 1470.7 L760.6 1470.9 L763.8 1471 L767 1471 L770.2 1471.1 L773.4 1471.2 L776.6 1471.2 L779.8 1471.2 M591.2 1506.8 L594.4 1506.8 L597.6 1506.7 L600.8 1506.7 L604 1506.6 L607.2 1506.5 L610.4 1506.3 L613.6 1506.1 L616.8 1506 L620 1505.7 L623.2 1505.5 L626.4 1505.3 L629.6 1505 L632.8 1504.8 L636 1504.5 L639.1 1504.2 L642.3 1503.9 L645.5 1503.6 L648.7 1503.3 L651.9 1503 L655.1 1502.6 L658.3 1502.3 L661.5 1502 L664.7 1501.7 L667.9 1501.3 L671.1 1501 L674.3 1500.6 L677.5 1500.3 L680.7 1499.9 L683.9 1499.6 L687.1 1499.2 L690.3 1498.9 L693.5 1498.5 L696.7 1498.2 L699.9 1497.8 L703.1 1497.4 L706.3 1497.1 L709.5 1496.7 L712.7 1496.3 L715.9 1496 L719.1 1495.6 L722.3 1495.2 L725.5 1494.9 L728.7 1494.5 L731.9 1494.1 L735 1493.8 L738.2 1493.4 L741.4 1493.1 L744.6 1492.7 L747.8 1492.4 L751 1492.1 L754.2 1491.8 L757.4 1491.4 L760.6 1491.2 L763.8 1490.9 L767 1490.7 L770.2 1490.5 L773.4 1490.3 L776.6 1490.2 L779.8 1490.2 M591.2 1506.8 L594.4 1506.8 L597.6 1506.9 L600.8 1507 L604 1507.2 L607.2 1507.4 L610.4 1507.6 L613.6 1507.9 L616.8 1508.1 L620 1508.4 L623.2 1508.7 L626.4 1509.1 L629.6 1509.4 L632.8 1509.8 L636 1510.1 L639.1 1510.4 L642.3 1510.8 L645.5 1511.1 L648.7 1511.4 L651.9 1511.6 L655.1 1511.9 L658.3 1512.2 L661.5 1512.5 L664.7 1512.7 L667.9 1513 L671.1 1513.4 L674.3 1513.7 L677.5 1514.1 L680.7 1514.6 L683.9 1515 L687.1 1515.6 L690.3 1516.2 L693.5 1516.8 L696.7 1517.5 L699.9 1518.3 L703.1 1519.1 L706.3 1519.9 L709.5 1520.7 L712.7 1521.5 L715.9 1522.4 L719.1 1523.2 L722.3 1524 L725.5 1524.9 L728.7 1525.7 L731.9 1526.5 L735 1527.3 L738.2 1528 L741.4 1528.7 L744.6 1529.4 L747.8 1530 L751 1530.6 L754.2 1531.1 L757.4 1531.6 L760.6 1532 L763.8 1532.4 L767 1532.7 L770.2 1532.9 L773.4 1533.1 L776.6 1533.2 L779.8 1533.2 M591.2 1676.3 L594.4 1672.7 L597.6 1669.1 L600.8 1665.5 L604 1661.9 L607.2 1658.3 L610.4 1654.7 L613.6 1651.1 L616.8 1647.5 L620 1644 L623.2 1640.4 L626.4 1636.9 L629.6 1633.4 L632.8 1629.9 L636 1626.4 L639.1 1623 L642.3 1619.5 L645.5 1616 L648.7 1612.5 L651.9 1609 L655.1 1605.5 L658.3 1601.9 L661.5 1598.3 L664.7 1594.7 L667.9 1591.1 L671.1 1587.4 L674.3 1583.8 L677.5 1580.1 L680.7 1576.5 L683.9 1572.9 L687.1 1569.4 L690.3 1565.9 L693.5 1562.5 L696.7 1559.1 L699.9 1555.9 L703.1 1552.7 L706.3 1549.7 L709.5 1546.8 L712.7 1544 L715.9 1541.3 L719.1 1538.7 L722.3 1536.3 L725.5 1534 L728.7 1531.8 L731.9 1529.7 L735 1527.8 L738.2 1525.9 L741.4 1524.2 L744.6 1522.7 L747.8 1521.3 L751 1520 L754.2 1518.8 L757.4 1517.8 L760.6 1516.9 L763.8 1516.2 L767 1515.6 L770.2 1515.1 L773.4 1514.8 L776.6 1514.7 L779.8 1514.6 M591.2 1676.3 L594.4 1673.5 L597.6 1670.8 L600.8 1668 L604 1665.3 L607.2 1662.5 L610.4 1659.8 L613.6 1657.1 L616.8 1654.4 L620 1651.8 L623.2 1649.2 L626.4 1646.6 L629.6 1644 L632.8 1641.5 L636 1639 L639.1 1636.5 L642.3 1634 L645.5 1631.6 L648.7 1629.2 L651.9 1626.8 L655.1 1624.4 L658.3 1622 L661.5 1619.6 L664.7 1617.3 L667.9 1615 L671.1 1612.7 L674.3 1610.4 L677.5 1608.1 L680.7 1605.9 L683.9 1603.7 L687.1 1601.6 L690.3 1599.5 L693.5 1597.5 L696.7 1595.5 L699.9 1593.6 L703.1 1591.8 L706.3 1590 L709.5 1588.3 L712.7 1586.7 L715.9 1585.1 L719.1 1583.6 L722.3 1582.1 L725.5 1580.6 L728.7 1579.2 L731.9 1577.8 L735 1576.3 L738.2 1574.9 L741.4 1573.5 L744.6 1572 L747.8 1570.6 L751 1569.1 L754.2 1567.6 L757.4 1566.2 L760.6 1564.8 L763.8 1563.5 L767 1562.2 L770.2 1561.1 L773.4 1560.3 L776.6 1559.7 L779.8 1559.5" stroke="#fee237" stroke-width="5.4" fill="none" stroke-linejoin="round" stroke-linecap="butt" clip-path="url(#cb2)"/>
<path d="M780.5 1265 L781.2 1273.3 L790.2 1282.3 L786.8 1304.7 L791.3 1313.7 L786 1330 L786.8 1390 L790.2 1401.2 L814.9 1410.2 L805.9 1419 L978.7 1422 L792.4 1425 L783.5 1439.4 L788 1461.8 L792.4 1470.8 L801.4 1495.5 L792.4 1517.9 L790.2 1529.1 L799.2 1551.5 L803.7 1574 L810.4 1585.2 L796.9 1594.2 L783.5 1600.9 L781.2 1630 L780.3 1676" stroke="#a400da" stroke-width="5.4" fill="none" stroke-linejoin="round" clip-path="url(#cd2)"/>
<path d="M780.5 1305 L787 1330 L785 1370 L786 1420 L789 1445 L815 1472 L927 1475.3 L792 1478.5 L828.3 1502.2 L806 1512 L800 1545 L798 1578 L812 1590 L808.1 1609.9 L786 1618 L781 1645 L780.3 1676" stroke="#fb9bd9" stroke-width="5.4" fill="none" stroke-linejoin="round" clip-path="url(#cd2)"/>
<path d="M780.5 1290 L783 1320 L785 1360 L786 1400 L789 1425 L792.4 1434.9 L812.6 1443.9 L803.7 1451.5 L918.1 1455 L792 1458.5 L800 1470 L823.8 1488.7 L805 1500 L795 1520 L797 1550 L801 1575 L808 1588 L795 1597 L784 1606 L781 1635 L780.3 1676" stroke="#1626e6" stroke-width="5.4" fill="none" stroke-linejoin="round" clip-path="url(#cd2)"/>
<path d="M780.5 1300 L789 1322.7 L786 1360 L785.7 1417 L788 1439.4 L817.1 1465 L929.3 1468.5 L790.2 1472 L819.4 1479.7 L832.8 1495.5 L805.9 1506.7 L799.2 1540.3 L796.9 1574 L817.1 1583 L814.9 1596.4 L788 1609.9 L781.2 1640 L780.3 1676" stroke="#fee237" stroke-width="5.4" fill="none" stroke-linejoin="round" clip-path="url(#cd2)"/>
<rect x="157.7" y="1223.9" width="828.9" height="475" fill="none" stroke="#000" stroke-width="2.3"/>
<line x1="779.8" y1="1223.9" x2="779.8" y2="1698.9" stroke="#000" stroke-width="2.3"/>
<line x1="157.7" y1="1223.9" x2="164" y2="1223.9" stroke="#000" stroke-width="4"/>
<text x="150.5" y="1238.4" font-size="41" text-anchor="end">400</text>
<line x1="157.7" y1="1342.7" x2="164" y2="1342.7" stroke="#000" stroke-width="4"/>
<text x="150.5" y="1357.2" font-size="41" text-anchor="end">295</text>
<line x1="157.7" y1="1461.4" x2="164" y2="1461.4" stroke="#000" stroke-width="4"/>
<text x="150.5" y="1475.9" font-size="41" text-anchor="end">190</text>
<line x1="157.7" y1="1580.2" x2="164" y2="1580.2" stroke="#000" stroke-width="4"/>
<text x="150.5" y="1594.7" font-size="41" text-anchor="end">85</text>
<line x1="157.7" y1="1698.9" x2="164" y2="1698.9" stroke="#000" stroke-width="4"/>
<text x="148" y="1713.2" font-size="41.5" text-anchor="end">20<tspan font-style="italic">i</tspan></text>
<line x1="374.3" y1="1698.9" x2="374.3" y2="1692.6" stroke="#000" stroke-width="4"/>
<line x1="374.3" y1="1223.9" x2="374.3" y2="1230.2" stroke="#000" stroke-width="4"/>
<line x1="591.2" y1="1698.9" x2="591.2" y2="1692.6" stroke="#000" stroke-width="4"/>
<line x1="591.2" y1="1223.9" x2="591.2" y2="1230.2" stroke="#000" stroke-width="4"/>
<line x1="779.8" y1="1698.9" x2="779.8" y2="1692.6" stroke="#000" stroke-width="4"/>
<line x1="779.8" y1="1223.9" x2="779.8" y2="1230.2" stroke="#000" stroke-width="4"/>
<line x1="937.2" y1="1223.9" x2="937.2" y2="1229.9" stroke="#000" stroke-width="1"/>
<line x1="937.2" y1="1698.9" x2="937.2" y2="1692.9" stroke="#000" stroke-width="1"/>
<text x="158.5" y="1733.9" font-size="42" text-anchor="middle">Γ</text>
<text x="375.8" y="1733.9" font-size="43" text-anchor="middle" font-style="italic">X</text>
<text x="592.2" y="1733.9" font-size="42" text-anchor="middle">Γ</text>
<text x="780.3" y="1733.9" font-size="43" text-anchor="middle" font-style="italic">L</text>
<text transform="translate(63.5 1622.3) rotate(-90)" font-size="42">Frequency [cm</text>
<path d="M23.4 1348.2 V1334.9 M34.3 1316.6 H14 L20.4 1322.9" stroke="#000" stroke-width="2.3" fill="none" stroke-linejoin="miter"/>
<text transform="translate(63.5 1307.1) rotate(-90)" font-size="42">]</text>
<text x="821.2" y="1274.4" font-size="42">(c) K<tspan font-size="30" dy="11.5">2</tspan><tspan dy="-11.5">O</tspan></text>
<line x1="986.6" y1="1676.3" x2="980.6" y2="1676.3" stroke="#000" stroke-width="1"/>
<line x1="986.6" y1="1563.2" x2="980.6" y2="1563.2" stroke="#000" stroke-width="1"/>
<line x1="986.6" y1="1450.1" x2="980.6" y2="1450.1" stroke="#000" stroke-width="1"/>
<line x1="986.6" y1="1337" x2="980.6" y2="1337" stroke="#000" stroke-width="1"/>
<line x1="374.3" y1="1783.1" x2="374.3" y2="2258.1" stroke="#b0b0b0" stroke-width="1"/>
<line x1="591.2" y1="1783.1" x2="591.2" y2="2258.1" stroke="#b0b0b0" stroke-width="1"/>
<line x1="157.7" y1="2232.4" x2="779.8" y2="2232.4" stroke="#1a1a1a" stroke-width="1" stroke-dasharray="3,2"/>
<path d="M157.7 1828.1 L161.4 1828.1 L165 1828.1 L168.7 1828.2 L172.4 1828.2 L176.1 1828.2 L179.7 1828.3 L183.4 1828.4 L187.1 1828.5 L190.7 1828.6 L194.4 1828.7 L198.1 1828.8 L201.8 1828.9 L205.4 1829 L209.1 1829.2 L212.8 1829.3 L216.4 1829.5 L220.1 1829.6 L223.8 1829.8 L227.5 1830 L231.1 1830.1 L234.8 1830.3 L238.5 1830.5 L242.1 1830.7 L245.8 1830.9 L249.5 1831.1 L253.2 1831.3 L256.8 1831.5 L260.5 1831.8 L264.2 1832 L267.8 1832.3 L271.5 1832.5 L275.2 1832.8 L278.8 1833.1 L282.5 1833.4 L286.2 1833.7 L289.9 1834.1 L293.5 1834.4 L297.2 1834.8 L300.9 1835.2 L304.5 1835.7 L308.2 1836.1 L311.9 1836.6 L315.6 1837.1 L319.2 1837.6 L322.9 1838.2 L326.6 1838.7 L330.2 1839.2 L333.9 1839.7 L337.6 1840.2 L341.3 1840.6 L344.9 1841 L348.6 1841.4 L352.3 1841.7 L355.9 1841.9 L359.6 1842.1 L363.3 1842.2 L367 1842.3 L370.6 1842.4 L374.3 1842.4 M591.2 1828.1 L587.5 1828.1 L583.8 1828.1 L580.2 1828.2 L576.5 1828.2 L572.8 1828.2 L569.1 1828.3 L565.5 1828.4 L561.8 1828.5 L558.1 1828.6 L554.4 1828.7 L550.8 1828.8 L547.1 1828.9 L543.4 1829 L539.7 1829.2 L536.1 1829.3 L532.4 1829.5 L528.7 1829.6 L525 1829.8 L521.4 1830 L517.7 1830.1 L514 1830.3 L510.3 1830.5 L506.6 1830.7 L503 1830.9 L499.3 1831.1 L495.6 1831.3 L491.9 1831.5 L488.3 1831.8 L484.6 1832 L480.9 1832.3 L477.2 1832.5 L473.6 1832.8 L469.9 1833.1 L466.2 1833.4 L462.5 1833.7 L458.9 1834.1 L455.2 1834.4 L451.5 1834.8 L447.8 1835.2 L444.1 1835.7 L440.5 1836.1 L436.8 1836.6 L433.1 1837.1 L429.4 1837.6 L425.8 1838.2 L422.1 1838.7 L418.4 1839.2 L414.7 1839.7 L411.1 1840.2 L407.4 1840.6 L403.7 1841 L400 1841.4 L396.4 1841.7 L392.7 1841.9 L389 1842.1 L385.3 1842.2 L381.7 1842.3 L378 1842.4 L374.3 1842.4 M157.7 1975.4 L161.4 1975.4 L165 1975.5 L168.7 1975.7 L172.4 1975.9 L176.1 1976.1 L179.7 1976.4 L183.4 1976.8 L187.1 1977.1 L190.7 1977.6 L194.4 1978 L198.1 1978.5 L201.8 1979 L205.4 1979.6 L209.1 1980.1 L212.8 1980.7 L216.4 1981.3 L220.1 1981.9 L223.8 1982.6 L227.5 1983.2 L231.1 1983.8 L234.8 1984.5 L238.5 1985.2 L242.1 1985.9 L245.8 1986.6 L249.5 1987.4 L253.2 1988.1 L256.8 1988.9 L260.5 1989.7 L264.2 1990.6 L267.8 1991.4 L271.5 1992.3 L275.2 1993.3 L278.8 1994.2 L282.5 1995.1 L286.2 1996.1 L289.9 1997 L293.5 1998 L297.2 1998.9 L300.9 1999.8 L304.5 2000.7 L308.2 2001.6 L311.9 2002.4 L315.6 2003.2 L319.2 2004 L322.9 2004.7 L326.6 2005.4 L330.2 2006.1 L333.9 2006.7 L337.6 2007.3 L341.3 2007.9 L344.9 2008.4 L348.6 2008.9 L352.3 2009.4 L355.9 2009.8 L359.6 2010.1 L363.3 2010.5 L367 2010.7 L370.6 2010.8 L374.3 2010.9 M591.2 1975.4 L587.5 1975.4 L583.8 1975.5 L580.2 1975.7 L576.5 1975.9 L572.8 1976.1 L569.1 1976.4 L565.5 1976.8 L561.8 1977.1 L558.1 1977.6 L554.4 1978 L550.8 1978.5 L547.1 1979 L543.4 1979.6 L539.7 1980.1 L536.1 1980.7 L532.4 1981.3 L528.7 1981.9 L525 1982.6 L521.4 1983.2 L517.7 1983.8 L514 1984.5 L510.3 1985.2 L506.6 1985.9 L503 1986.6 L499.3 1987.4 L495.6 1988.1 L491.9 1988.9 L488.3 1989.7 L484.6 1990.6 L480.9 1991.4 L477.2 1992.3 L473.6 1993.3 L469.9 1994.2 L466.2 1995.1 L462.5 1996.1 L458.9 1997 L455.2 1998 L451.5 1998.9 L447.8 1999.8 L444.1 2000.7 L440.5 2001.6 L436.8 2002.4 L433.1 2003.2 L429.4 2004 L425.8 2004.7 L422.1 2005.4 L418.4 2006.1 L414.7 2006.7 L411.1 2007.3 L407.4 2007.9 L403.7 2008.4 L400 2008.9 L396.4 2009.4 L392.7 2009.8 L389 2010.1 L385.3 2010.5 L381.7 2010.7 L378 2010.8 L374.3 2010.9 M157.7 2232.4 L161.4 2228.3 L165 2224.2 L168.7 2220.1 L172.4 2216 L176.1 2211.8 L179.7 2207.7 L183.4 2203.5 L187.1 2199.3 L190.7 2195.1 L194.4 2190.8 L198.1 2186.5 L201.8 2182.1 L205.4 2177.7 L209.1 2173.3 L212.8 2168.9 L216.4 2164.5 L220.1 2160 L223.8 2155.6 L227.5 2151.2 L231.1 2146.8 L234.8 2142.5 L238.5 2138.2 L242.1 2133.9 L245.8 2129.8 L249.5 2125.7 L253.2 2121.7 L256.8 2117.7 L260.5 2113.9 L264.2 2110.2 L267.8 2106.6 L271.5 2103 L275.2 2099.5 L278.8 2096.1 L282.5 2092.8 L286.2 2089.6 L289.9 2086.5 L293.5 2083.4 L297.2 2080.5 L300.9 2077.7 L304.5 2075 L308.2 2072.3 L311.9 2069.7 L315.6 2067.3 L319.2 2064.9 L322.9 2062.7 L326.6 2060.6 L330.2 2058.6 L333.9 2056.8 L337.6 2055.2 L341.3 2053.7 L344.9 2052.3 L348.6 2051 L352.3 2049.8 L355.9 2048.7 L359.6 2047.7 L363.3 2046.8 L367 2046.2 L370.6 2045.7 L374.3 2045.6 M591.2 2232.4 L587.5 2228.3 L583.8 2224.2 L580.2 2220.1 L576.5 2216 L572.8 2211.8 L569.1 2207.7 L565.5 2203.5 L561.8 2199.3 L558.1 2195.1 L554.4 2190.8 L550.8 2186.5 L547.1 2182.1 L543.4 2177.7 L539.7 2173.3 L536.1 2168.9 L532.4 2164.5 L528.7 2160 L525 2155.6 L521.4 2151.2 L517.7 2146.8 L514 2142.5 L510.3 2138.2 L506.6 2133.9 L503 2129.8 L499.3 2125.7 L495.6 2121.7 L491.9 2117.7 L488.3 2113.9 L484.6 2110.2 L480.9 2106.6 L477.2 2103 L473.6 2099.5 L469.9 2096.1 L466.2 2092.8 L462.5 2089.6 L458.9 2086.5 L455.2 2083.4 L451.5 2080.5 L447.8 2077.7 L444.1 2075 L440.5 2072.3 L436.8 2069.7 L433.1 2067.3 L429.4 2064.9 L425.8 2062.7 L422.1 2060.6 L418.4 2058.6 L414.7 2056.8 L411.1 2055.2 L407.4 2053.7 L403.7 2052.3 L400 2051 L396.4 2049.8 L392.7 2048.7 L389 2047.7 L385.3 2046.8 L381.7 2046.2 L378 2045.7 L374.3 2045.6 M157.7 2084.1 L161.4 2084.1 L165 2084 L168.7 2083.9 L172.4 2083.8 L176.1 2083.6 L179.7 2083.4 L183.4 2083.2 L187.1 2083 L190.7 2082.7 L194.4 2082.4 L198.1 2082.2 L201.8 2081.8 L205.4 2081.5 L209.1 2081.2 L212.8 2080.9 L216.4 2080.6 L220.1 2080.2 L223.8 2079.9 L227.5 2079.6 L231.1 2079.3 L234.8 2079 L238.5 2078.7 L242.1 2078.4 L245.8 2078.1 L249.5 2077.9 L253.2 2077.6 L256.8 2077.4 L260.5 2077.2 L264.2 2077.1 L267.8 2076.9 L271.5 2076.8 L275.2 2076.7 L278.8 2076.6 L282.5 2076.5 L286.2 2076.5 L289.9 2076.5 L293.5 2076.5 L297.2 2076.6 L300.9 2076.7 L304.5 2076.8 L308.2 2076.9 L311.9 2077.1 L315.6 2077.2 L319.2 2077.4 L322.9 2077.6 L326.6 2077.8 L330.2 2078 L333.9 2078.2 L337.6 2078.4 L341.3 2078.5 L344.9 2078.7 L348.6 2078.9 L352.3 2079 L355.9 2079.2 L359.6 2079.3 L363.3 2079.4 L367 2079.4 L370.6 2079.5 L374.3 2079.5 M591.2 2084.1 L587.5 2084.1 L583.8 2084 L580.2 2083.9 L576.5 2083.8 L572.8 2083.6 L569.1 2083.4 L565.5 2083.2 L561.8 2083 L558.1 2082.7 L554.4 2082.4 L550.8 2082.2 L547.1 2081.8 L543.4 2081.5 L539.7 2081.2 L536.1 2080.9 L532.4 2080.6 L528.7 2080.2 L525 2079.9 L521.4 2079.6 L517.7 2079.3 L514 2079 L510.3 2078.7 L506.6 2078.4 L503 2078.1 L499.3 2077.9 L495.6 2077.6 L491.9 2077.4 L488.3 2077.2 L484.6 2077.1 L480.9 2076.9 L477.2 2076.8 L473.6 2076.7 L469.9 2076.6 L466.2 2076.5 L462.5 2076.5 L458.9 2076.5 L455.2 2076.5 L451.5 2076.6 L447.8 2076.7 L444.1 2076.8 L440.5 2076.9 L436.8 2077.1 L433.1 2077.2 L429.4 2077.4 L425.8 2077.6 L422.1 2077.8 L418.4 2078 L414.7 2078.2 L411.1 2078.4 L407.4 2078.5 L403.7 2078.7 L400 2078.9 L396.4 2079 L392.7 2079.2 L389 2079.3 L385.3 2079.4 L381.7 2079.4 L378 2079.5 L374.3 2079.5 M157.7 2084.1 L161.4 2084.7 L165 2085.3 L168.7 2086 L172.4 2086.6 L176.1 2087.3 L179.7 2088 L183.4 2088.7 L187.1 2089.5 L190.7 2090.3 L194.4 2091.2 L198.1 2092.1 L201.8 2093.1 L205.4 2094.1 L209.1 2095.3 L212.8 2096.5 L216.4 2097.9 L220.1 2099.3 L223.8 2100.9 L227.5 2102.6 L231.1 2104.4 L234.8 2106.3 L238.5 2108.2 L242.1 2110.3 L245.8 2112.4 L249.5 2114.5 L253.2 2116.7 L256.8 2118.9 L260.5 2121.1 L264.2 2123.4 L267.8 2125.6 L271.5 2127.9 L275.2 2130.1 L278.8 2132.4 L282.5 2134.7 L286.2 2137 L289.9 2139.3 L293.5 2141.7 L297.2 2144.2 L300.9 2146.7 L304.5 2149.2 L308.2 2151.9 L311.9 2154.6 L315.6 2157.3 L319.2 2160 L322.9 2162.6 L326.6 2164.9 L330.2 2167.1 L333.9 2169 L337.6 2170.5 L341.3 2171.9 L344.9 2173 L348.6 2174 L352.3 2174.9 L355.9 2175.7 L359.6 2176.5 L363.3 2177.1 L367 2177.6 L370.6 2177.9 L374.3 2178 M591.2 2084.1 L587.5 2084.7 L583.8 2085.3 L580.2 2086 L576.5 2086.6 L572.8 2087.3 L569.1 2088 L565.5 2088.7 L561.8 2089.5 L558.1 2090.3 L554.4 2091.2 L550.8 2092.1 L547.1 2093.1 L543.4 2094.1 L539.7 2095.3 L536.1 2096.5 L532.4 2097.9 L528.7 2099.3 L525 2100.9 L521.4 2102.6 L517.7 2104.4 L514 2106.3 L510.3 2108.2 L506.6 2110.3 L503 2112.4 L499.3 2114.5 L495.6 2116.7 L491.9 2118.9 L488.3 2121.1 L484.6 2123.4 L480.9 2125.6 L477.2 2127.9 L473.6 2130.1 L469.9 2132.4 L466.2 2134.7 L462.5 2137 L458.9 2139.3 L455.2 2141.7 L451.5 2144.2 L447.8 2146.7 L444.1 2149.2 L440.5 2151.9 L436.8 2154.6 L433.1 2157.3 L429.4 2160 L425.8 2162.6 L422.1 2164.9 L418.4 2167.1 L414.7 2169 L411.1 2170.5 L407.4 2171.9 L403.7 2173 L400 2174 L396.4 2174.9 L392.7 2175.7 L389 2176.5 L385.3 2177.1 L381.7 2177.6 L378 2177.9 L374.3 2178 M157.7 2232.4 L161.4 2230.2 L165 2228 L168.7 2225.8 L172.4 2223.6 L176.1 2221.4 L179.7 2219.2 L183.4 2217 L187.1 2214.8 L190.7 2212.7 L194.4 2210.6 L198.1 2208.5 L201.8 2206.5 L205.4 2204.6 L209.1 2202.7 L212.8 2200.9 L216.4 2199.2 L220.1 2197.5 L223.8 2196 L227.5 2194.6 L231.1 2193.3 L234.8 2192.1 L238.5 2190.9 L242.1 2189.8 L245.8 2188.8 L249.5 2187.8 L253.2 2186.9 L256.8 2186 L260.5 2185.1 L264.2 2184.3 L267.8 2183.4 L271.5 2182.5 L275.2 2181.7 L278.8 2180.8 L282.5 2179.9 L286.2 2179.1 L289.9 2178.2 L293.5 2177.4 L297.2 2176.6 L300.9 2175.7 L304.5 2175 L308.2 2174.2 L311.9 2173.5 L315.6 2172.7 L319.2 2172.1 L322.9 2171.4 L326.6 2170.9 L330.2 2170.3 L333.9 2169.8 L337.6 2169.4 L341.3 2169 L344.9 2168.7 L348.6 2168.4 L352.3 2168.1 L355.9 2167.9 L359.6 2167.8 L363.3 2167.6 L367 2167.6 L370.6 2167.5 L374.3 2167.5 M591.2 2232.4 L587.5 2230.2 L583.8 2228 L580.2 2225.8 L576.5 2223.6 L572.8 2221.4 L569.1 2219.2 L565.5 2217 L561.8 2214.8 L558.1 2212.7 L554.4 2210.6 L550.8 2208.5 L547.1 2206.5 L543.4 2204.6 L539.7 2202.7 L536.1 2200.9 L532.4 2199.2 L528.7 2197.5 L525 2196 L521.4 2194.6 L517.7 2193.3 L514 2192.1 L510.3 2190.9 L506.6 2189.8 L503 2188.8 L499.3 2187.8 L495.6 2186.9 L491.9 2186 L488.3 2185.1 L484.6 2184.3 L480.9 2183.4 L477.2 2182.5 L473.6 2181.7 L469.9 2180.8 L466.2 2179.9 L462.5 2179.1 L458.9 2178.2 L455.2 2177.4 L451.5 2176.6 L447.8 2175.7 L444.1 2175 L440.5 2174.2 L436.8 2173.5 L433.1 2172.7 L429.4 2172.1 L425.8 2171.4 L422.1 2170.9 L418.4 2170.3 L414.7 2169.8 L411.1 2169.4 L407.4 2169 L403.7 2168.7 L400 2168.4 L396.4 2168.1 L392.7 2167.9 L389 2167.8 L385.3 2167.6 L381.7 2167.6 L378 2167.5 L374.3 2167.5 M591.2 1828.3 L594.4 1828.3 L597.6 1828.4 L600.8 1828.6 L604 1828.8 L607.2 1829 L610.4 1829.3 L613.6 1829.7 L616.8 1830.1 L620 1830.6 L623.2 1831.1 L626.4 1831.6 L629.6 1832.2 L632.8 1832.8 L636 1833.5 L639.1 1834.2 L642.3 1834.9 L645.5 1835.7 L648.7 1836.6 L651.9 1837.5 L655.1 1838.4 L658.3 1839.4 L661.5 1840.5 L664.7 1841.6 L667.9 1842.7 L671.1 1844 L674.3 1845.2 L677.5 1846.5 L680.7 1847.8 L683.9 1849.1 L687.1 1850.4 L690.3 1851.8 L693.5 1853.1 L696.7 1854.4 L699.9 1855.7 L703.1 1857 L706.3 1858.2 L709.5 1859.5 L712.7 1860.7 L715.9 1861.8 L719.1 1863 L722.3 1864.1 L725.5 1865.2 L728.7 1866.3 L731.9 1867.3 L735 1868.3 L738.2 1869.3 L741.4 1870.3 L744.6 1871.2 L747.8 1872.1 L751 1873 L754.2 1873.8 L757.4 1874.5 L760.6 1875 L763.8 1875.5 L767 1875.9 L770.2 1876.2 L773.4 1876.4 L776.6 1876.5 L779.8 1876.5 M591.2 1975.6 L594.4 1975.6 L597.6 1975.7 L600.8 1975.8 L604 1976 L607.2 1976.2 L610.4 1976.4 L613.6 1976.6 L616.8 1976.9 L620 1977.2 L623.2 1977.5 L626.4 1977.8 L629.6 1978.2 L632.8 1978.5 L636 1978.9 L639.1 1979.3 L642.3 1979.7 L645.5 1980.1 L648.7 1980.5 L651.9 1980.9 L655.1 1981.3 L658.3 1981.7 L661.5 1982.2 L664.7 1982.6 L667.9 1983.1 L671.1 1983.5 L674.3 1984 L677.5 1984.5 L680.7 1985 L683.9 1985.4 L687.1 1985.9 L690.3 1986.4 L693.5 1986.9 L696.7 1987.4 L699.9 1987.9 L703.1 1988.5 L706.3 1989 L709.5 1989.5 L712.7 1990 L715.9 1990.5 L719.1 1991.1 L722.3 1991.6 L725.5 1992 L728.7 1992.5 L731.9 1993 L735 1993.4 L738.2 1993.8 L741.4 1994.1 L744.6 1994.5 L747.8 1994.8 L751 1995 L754.2 1995.3 L757.4 1995.5 L760.6 1995.6 L763.8 1995.8 L767 1995.9 L770.2 1996 L773.4 1996.1 L776.6 1996.1 L779.8 1996.1 M591.2 2084.9 L594.4 2084.9 L597.6 2084.9 L600.8 2084.9 L604 2084.9 L607.2 2084.9 L610.4 2084.9 L613.6 2084.9 L616.8 2084.9 L620 2084.9 L623.2 2084.9 L626.4 2084.9 L629.6 2084.9 L632.8 2084.9 L636 2084.9 L639.1 2084.9 L642.3 2084.9 L645.5 2084.9 L648.7 2084.9 L651.9 2084.9 L655.1 2084.9 L658.3 2084.9 L661.5 2084.9 L664.7 2084.9 L667.9 2084.9 L671.1 2084.9 L674.3 2084.9 L677.5 2084.9 L680.7 2084.9 L683.9 2084.9 L687.1 2084.9 L690.3 2084.9 L693.5 2084.9 L696.7 2084.9 L699.9 2084.9 L703.1 2084.9 L706.3 2084.9 L709.5 2084.9 L712.7 2084.9 L715.9 2084.9 L719.1 2084.9 L722.3 2084.9 L725.5 2084.9 L728.7 2084.9 L731.9 2084.9 L735 2084.9 L738.2 2084.9 L741.4 2084.9 L744.6 2084.9 L747.8 2084.9 L751 2084.9 L754.2 2084.9 L757.4 2084.9 L760.6 2084.9 L763.8 2084.9 L767 2084.9 L770.2 2084.9 L773.4 2084.9 L776.6 2084.9 L779.8 2084.9 M591.2 2084.9 L594.4 2084.9 L597.6 2085 L600.8 2085.1 L604 2085.2 L607.2 2085.4 L610.4 2085.6 L613.6 2085.8 L616.8 2086 L620 2086.3 L623.2 2086.7 L626.4 2087 L629.6 2087.4 L632.8 2087.7 L636 2088.2 L639.1 2088.6 L642.3 2089 L645.5 2089.5 L648.7 2090 L651.9 2090.5 L655.1 2091 L658.3 2091.5 L661.5 2092.1 L664.7 2092.6 L667.9 2093.2 L671.1 2093.7 L674.3 2094.3 L677.5 2094.9 L680.7 2095.5 L683.9 2096.1 L687.1 2096.7 L690.3 2097.3 L693.5 2098 L696.7 2098.6 L699.9 2099.3 L703.1 2100 L706.3 2100.7 L709.5 2101.5 L712.7 2102.2 L715.9 2103 L719.1 2103.8 L722.3 2104.6 L725.5 2105.4 L728.7 2106.2 L731.9 2107 L735 2107.7 L738.2 2108.5 L741.4 2109.3 L744.6 2110 L747.8 2110.8 L751 2111.4 L754.2 2112.1 L757.4 2112.7 L760.6 2113.3 L763.8 2113.8 L767 2114.2 L770.2 2114.5 L773.4 2114.8 L776.6 2114.9 L779.8 2115 M591.2 2232.4 L594.4 2228.6 L597.6 2224.9 L600.8 2221.1 L604 2217.4 L607.2 2213.7 L610.4 2210 L613.6 2206.4 L616.8 2202.9 L620 2199.4 L623.2 2196 L626.4 2192.7 L629.6 2189.5 L632.8 2186.3 L636 2183.2 L639.1 2180.2 L642.3 2177.2 L645.5 2174.3 L648.7 2171.4 L651.9 2168.6 L655.1 2165.8 L658.3 2163.1 L661.5 2160.4 L664.7 2157.7 L667.9 2155 L671.1 2152.4 L674.3 2149.7 L677.5 2147.2 L680.7 2144.6 L683.9 2142.1 L687.1 2139.7 L690.3 2137.3 L693.5 2135 L696.7 2132.7 L699.9 2130.5 L703.1 2128.4 L706.3 2126.3 L709.5 2124.3 L712.7 2122.4 L715.9 2120.6 L719.1 2118.8 L722.3 2117.2 L725.5 2115.6 L728.7 2114.1 L731.9 2112.7 L735 2111.3 L738.2 2110 L741.4 2108.9 L744.6 2107.8 L747.8 2106.8 L751 2105.9 L754.2 2105.1 L757.4 2104.3 L760.6 2103.7 L763.8 2103.2 L767 2102.7 L770.2 2102.4 L773.4 2102.2 L776.6 2102 L779.8 2102 M591.2 2232.4 L594.4 2229.7 L597.6 2226.9 L600.8 2224.2 L604 2221.5 L607.2 2218.9 L610.4 2216.2 L613.6 2213.7 L616.8 2211.1 L620 2208.6 L623.2 2206.2 L626.4 2203.9 L629.6 2201.6 L632.8 2199.4 L636 2197.2 L639.1 2195.1 L642.3 2193 L645.5 2190.9 L648.7 2188.9 L651.9 2186.8 L655.1 2184.8 L658.3 2182.8 L661.5 2180.7 L664.7 2178.6 L667.9 2176.6 L671.1 2174.5 L674.3 2172.4 L677.5 2170.3 L680.7 2168.3 L683.9 2166.2 L687.1 2164.3 L690.3 2162.3 L693.5 2160.4 L696.7 2158.6 L699.9 2156.9 L703.1 2155.2 L706.3 2153.7 L709.5 2152.2 L712.7 2150.8 L715.9 2149.5 L719.1 2148.3 L722.3 2147.1 L725.5 2145.9 L728.7 2144.9 L731.9 2143.8 L735 2142.8 L738.2 2141.9 L741.4 2140.9 L744.6 2140 L747.8 2139.2 L751 2138.3 L754.2 2137.6 L757.4 2136.9 L760.6 2136.3 L763.8 2135.7 L767 2135.3 L770.2 2135 L773.4 2134.8 L776.6 2134.6 L779.8 2134.6" stroke="#a400da" stroke-width="5.4" fill="none" stroke-linejoin="round" stroke-linecap="butt" clip-path="url(#cb3)"/>
<path d="M157.7 1883 L161.4 1883 L165 1883 L168.7 1883.1 L172.4 1883.1 L176.1 1883.2 L179.7 1883.2 L183.4 1883.3 L187.1 1883.4 L190.7 1883.5 L194.4 1883.6 L198.1 1883.7 L201.8 1883.8 L205.4 1884 L209.1 1884.1 L212.8 1884.2 L216.4 1884.4 L220.1 1884.6 L223.8 1884.7 L227.5 1884.9 L231.1 1885.1 L234.8 1885.3 L238.5 1885.5 L242.1 1885.7 L245.8 1885.9 L249.5 1886.1 L253.2 1886.3 L256.8 1886.5 L260.5 1886.8 L264.2 1887 L267.8 1887.2 L271.5 1887.5 L275.2 1887.8 L278.8 1888.1 L282.5 1888.4 L286.2 1888.7 L289.9 1889 L293.5 1889.4 L297.2 1889.7 L300.9 1890.1 L304.5 1890.5 L308.2 1890.9 L311.9 1891.4 L315.6 1891.8 L319.2 1892.3 L322.9 1892.8 L326.6 1893.3 L330.2 1893.7 L333.9 1894.2 L337.6 1894.6 L341.3 1895 L344.9 1895.3 L348.6 1895.7 L352.3 1895.9 L355.9 1896.2 L359.6 1896.3 L363.3 1896.5 L367 1896.5 L370.6 1896.6 L374.3 1896.6 M591.2 1883 L587.5 1883 L583.8 1883 L580.2 1883.1 L576.5 1883.1 L572.8 1883.2 L569.1 1883.2 L565.5 1883.3 L561.8 1883.4 L558.1 1883.5 L554.4 1883.6 L550.8 1883.7 L547.1 1883.8 L543.4 1884 L539.7 1884.1 L536.1 1884.2 L532.4 1884.4 L528.7 1884.6 L525 1884.7 L521.4 1884.9 L517.7 1885.1 L514 1885.3 L510.3 1885.5 L506.6 1885.7 L503 1885.9 L499.3 1886.1 L495.6 1886.3 L491.9 1886.5 L488.3 1886.8 L484.6 1887 L480.9 1887.2 L477.2 1887.5 L473.6 1887.8 L469.9 1888.1 L466.2 1888.4 L462.5 1888.7 L458.9 1889 L455.2 1889.4 L451.5 1889.7 L447.8 1890.1 L444.1 1890.5 L440.5 1890.9 L436.8 1891.4 L433.1 1891.8 L429.4 1892.3 L425.8 1892.8 L422.1 1893.3 L418.4 1893.7 L414.7 1894.2 L411.1 1894.6 L407.4 1895 L403.7 1895.3 L400 1895.7 L396.4 1895.9 L392.7 1896.2 L389 1896.3 L385.3 1896.5 L381.7 1896.5 L378 1896.6 L374.3 1896.6 M157.7 2035.7 L161.4 2035.7 L165 2035.8 L168.7 2035.9 L172.4 2036.1 L176.1 2036.3 L179.7 2036.6 L183.4 2036.9 L187.1 2037.3 L190.7 2037.7 L194.4 2038.1 L198.1 2038.5 L201.8 2039 L205.4 2039.5 L209.1 2040 L212.8 2040.5 L216.4 2041.1 L220.1 2041.6 L223.8 2042.2 L227.5 2042.8 L231.1 2043.4 L234.8 2044 L238.5 2044.6 L242.1 2045.3 L245.8 2045.9 L249.5 2046.6 L253.2 2047.3 L256.8 2048 L260.5 2048.8 L264.2 2049.5 L267.8 2050.3 L271.5 2051.1 L275.2 2051.9 L278.8 2052.7 L282.5 2053.5 L286.2 2054.4 L289.9 2055.2 L293.5 2056 L297.2 2056.8 L300.9 2057.6 L304.5 2058.4 L308.2 2059.1 L311.9 2059.8 L315.6 2060.5 L319.2 2061.2 L322.9 2061.8 L326.6 2062.4 L330.2 2063 L333.9 2063.5 L337.6 2064 L341.3 2064.5 L344.9 2064.9 L348.6 2065.3 L352.3 2065.7 L355.9 2066.1 L359.6 2066.4 L363.3 2066.6 L367 2066.8 L370.6 2067 L374.3 2067 M591.2 2035.7 L587.5 2035.7 L583.8 2035.8 L580.2 2035.9 L576.5 2036.1 L572.8 2036.3 L569.1 2036.6 L565.5 2036.9 L561.8 2037.3 L558.1 2037.7 L554.4 2038.1 L550.8 2038.5 L547.1 2039 L543.4 2039.5 L539.7 2040 L536.1 2040.5 L532.4 2041.1 L528.7 2041.6 L525 2042.2 L521.4 2042.8 L517.7 2043.4 L514 2044 L510.3 2044.6 L506.6 2045.3 L503 2045.9 L499.3 2046.6 L495.6 2047.3 L491.9 2048 L488.3 2048.8 L484.6 2049.5 L480.9 2050.3 L477.2 2051.1 L473.6 2051.9 L469.9 2052.7 L466.2 2053.5 L462.5 2054.4 L458.9 2055.2 L455.2 2056 L451.5 2056.8 L447.8 2057.6 L444.1 2058.4 L440.5 2059.1 L436.8 2059.8 L433.1 2060.5 L429.4 2061.2 L425.8 2061.8 L422.1 2062.4 L418.4 2063 L414.7 2063.5 L411.1 2064 L407.4 2064.5 L403.7 2064.9 L400 2065.3 L396.4 2065.7 L392.7 2066.1 L389 2066.4 L385.3 2066.6 L381.7 2066.8 L378 2067 L374.3 2067 M157.7 2232.4 L161.4 2229.7 L165 2226.9 L168.7 2224.1 L172.4 2221.3 L176.1 2218.4 L179.7 2215.4 L183.4 2212.4 L187.1 2209.2 L190.7 2205.9 L194.4 2202.4 L198.1 2198.8 L201.8 2195 L205.4 2191 L209.1 2186.9 L212.8 2182.7 L216.4 2178.4 L220.1 2174 L223.8 2169.6 L227.5 2165.1 L231.1 2160.7 L234.8 2156.2 L238.5 2151.9 L242.1 2147.5 L245.8 2143.3 L249.5 2139.2 L253.2 2135.2 L256.8 2131.3 L260.5 2127.5 L264.2 2123.8 L267.8 2120.3 L271.5 2116.8 L275.2 2113.5 L278.8 2110.3 L282.5 2107.2 L286.2 2104.3 L289.9 2101.5 L293.5 2098.8 L297.2 2096.3 L300.9 2093.9 L304.5 2091.6 L308.2 2089.4 L311.9 2087.3 L315.6 2085.3 L319.2 2083.4 L322.9 2081.6 L326.6 2079.9 L330.2 2078.3 L333.9 2076.8 L337.6 2075.3 L341.3 2074 L344.9 2072.7 L348.6 2071.6 L352.3 2070.5 L355.9 2069.6 L359.6 2068.9 L363.3 2068.3 L367 2067.9 L370.6 2067.6 L374.3 2067.5 M591.2 2232.4 L587.5 2229.7 L583.8 2226.9 L580.2 2224.1 L576.5 2221.3 L572.8 2218.4 L569.1 2215.4 L565.5 2212.4 L561.8 2209.2 L558.1 2205.9 L554.4 2202.4 L550.8 2198.8 L547.1 2195 L543.4 2191 L539.7 2186.9 L536.1 2182.7 L532.4 2178.4 L528.7 2174 L525 2169.6 L521.4 2165.1 L517.7 2160.7 L514 2156.2 L510.3 2151.9 L506.6 2147.5 L503 2143.3 L499.3 2139.2 L495.6 2135.2 L491.9 2131.3 L488.3 2127.5 L484.6 2123.8 L480.9 2120.3 L477.2 2116.8 L473.6 2113.5 L469.9 2110.3 L466.2 2107.2 L462.5 2104.3 L458.9 2101.5 L455.2 2098.8 L451.5 2096.3 L447.8 2093.9 L444.1 2091.6 L440.5 2089.4 L436.8 2087.3 L433.1 2085.3 L429.4 2083.4 L425.8 2081.6 L422.1 2079.9 L418.4 2078.3 L414.7 2076.8 L411.1 2075.3 L407.4 2074 L403.7 2072.7 L400 2071.6 L396.4 2070.5 L392.7 2069.6 L389 2068.9 L385.3 2068.3 L381.7 2067.9 L378 2067.6 L374.3 2067.5 M157.7 2105 L161.4 2105 L165 2104.9 L168.7 2104.8 L172.4 2104.6 L176.1 2104.4 L179.7 2104.1 L183.4 2103.8 L187.1 2103.5 L190.7 2103.1 L194.4 2102.8 L198.1 2102.3 L201.8 2101.9 L205.4 2101.4 L209.1 2101 L212.8 2100.5 L216.4 2100 L220.1 2099.5 L223.8 2098.9 L227.5 2098.4 L231.1 2097.9 L234.8 2097.4 L238.5 2096.9 L242.1 2096.3 L245.8 2095.8 L249.5 2095.3 L253.2 2094.9 L256.8 2094.4 L260.5 2093.9 L264.2 2093.5 L267.8 2093.1 L271.5 2092.6 L275.2 2092.3 L278.8 2091.9 L282.5 2091.6 L286.2 2091.3 L289.9 2091 L293.5 2090.8 L297.2 2090.6 L300.9 2090.4 L304.5 2090.2 L308.2 2090.1 L311.9 2090 L315.6 2089.9 L319.2 2089.9 L322.9 2089.8 L326.6 2089.8 L330.2 2089.8 L333.9 2089.8 L337.6 2089.8 L341.3 2089.8 L344.9 2089.8 L348.6 2089.8 L352.3 2089.9 L355.9 2089.9 L359.6 2089.9 L363.3 2090 L367 2090 L370.6 2090 L374.3 2090 M591.2 2105 L587.5 2105 L583.8 2104.9 L580.2 2104.8 L576.5 2104.6 L572.8 2104.4 L569.1 2104.1 L565.5 2103.8 L561.8 2103.5 L558.1 2103.1 L554.4 2102.8 L550.8 2102.3 L547.1 2101.9 L543.4 2101.4 L539.7 2101 L536.1 2100.5 L532.4 2100 L528.7 2099.5 L525 2098.9 L521.4 2098.4 L517.7 2097.9 L514 2097.4 L510.3 2096.9 L506.6 2096.3 L503 2095.8 L499.3 2095.3 L495.6 2094.9 L491.9 2094.4 L488.3 2093.9 L484.6 2093.5 L480.9 2093.1 L477.2 2092.6 L473.6 2092.3 L469.9 2091.9 L466.2 2091.6 L462.5 2091.3 L458.9 2091 L455.2 2090.8 L451.5 2090.6 L447.8 2090.4 L444.1 2090.2 L440.5 2090.1 L436.8 2090 L433.1 2089.9 L429.4 2089.9 L425.8 2089.8 L422.1 2089.8 L418.4 2089.8 L414.7 2089.8 L411.1 2089.8 L407.4 2089.8 L403.7 2089.8 L400 2089.8 L396.4 2089.9 L392.7 2089.9 L389 2089.9 L385.3 2090 L381.7 2090 L378 2090 L374.3 2090 M157.7 2105 L161.4 2105.3 L165 2105.6 L168.7 2106 L172.4 2106.4 L176.1 2106.9 L179.7 2107.5 L183.4 2108.3 L187.1 2109.1 L190.7 2110.2 L194.4 2111.4 L198.1 2112.7 L201.8 2114.3 L205.4 2115.9 L209.1 2117.7 L212.8 2119.6 L216.4 2121.5 L220.1 2123.5 L223.8 2125.6 L227.5 2127.8 L231.1 2130 L234.8 2132.2 L238.5 2134.4 L242.1 2136.7 L245.8 2139 L249.5 2141.4 L253.2 2143.7 L256.8 2146.1 L260.5 2148.5 L264.2 2150.9 L267.8 2153.3 L271.5 2155.7 L275.2 2158 L278.8 2160.4 L282.5 2162.8 L286.2 2165.2 L289.9 2167.5 L293.5 2169.8 L297.2 2172.2 L300.9 2174.5 L304.5 2176.9 L308.2 2179.3 L311.9 2181.8 L315.6 2184.3 L319.2 2187 L322.9 2189.7 L326.6 2192.5 L330.2 2195.5 L333.9 2198.6 L337.6 2201.8 L341.3 2205.1 L344.9 2208.5 L348.6 2212 L352.3 2215.6 L355.9 2219.2 L359.6 2222.9 L363.3 2226.6 L367 2230.3 L370.6 2234.1 L374.3 2237.8 M591.2 2105 L587.5 2105.3 L583.8 2105.6 L580.2 2106 L576.5 2106.4 L572.8 2106.9 L569.1 2107.5 L565.5 2108.3 L561.8 2109.1 L558.1 2110.2 L554.4 2111.4 L550.8 2112.7 L547.1 2114.3 L543.4 2115.9 L539.7 2117.7 L536.1 2119.6 L532.4 2121.5 L528.7 2123.5 L525 2125.6 L521.4 2127.8 L517.7 2130 L514 2132.2 L510.3 2134.4 L506.6 2136.7 L503 2139 L499.3 2141.4 L495.6 2143.7 L491.9 2146.1 L488.3 2148.5 L484.6 2150.9 L480.9 2153.3 L477.2 2155.7 L473.6 2158 L469.9 2160.4 L466.2 2162.8 L462.5 2165.2 L458.9 2167.5 L455.2 2169.8 L451.5 2172.2 L447.8 2174.5 L444.1 2176.9 L440.5 2179.3 L436.8 2181.8 L433.1 2184.3 L429.4 2187 L425.8 2189.7 L422.1 2192.5 L418.4 2195.5 L414.7 2198.6 L411.1 2201.8 L407.4 2205.1 L403.7 2208.5 L400 2212 L396.4 2215.6 L392.7 2219.2 L389 2222.9 L385.3 2226.6 L381.7 2230.3 L378 2234.1 L374.3 2237.8 M157.7 2232.4 L161.4 2230.9 L165 2229.3 L168.7 2227.8 L172.4 2226.2 L176.1 2224.7 L179.7 2223.1 L183.4 2221.6 L187.1 2220.1 L190.7 2218.6 L194.4 2217.1 L198.1 2215.7 L201.8 2214.3 L205.4 2212.9 L209.1 2211.6 L212.8 2210.3 L216.4 2209.1 L220.1 2208 L223.8 2206.9 L227.5 2205.9 L231.1 2205 L234.8 2204.1 L238.5 2203.3 L242.1 2202.6 L245.8 2201.8 L249.5 2201.2 L253.2 2200.5 L256.8 2199.9 L260.5 2199.3 L264.2 2198.7 L267.8 2198.1 L271.5 2197.6 L275.2 2197 L278.8 2196.5 L282.5 2196 L286.2 2195.5 L289.9 2195 L293.5 2194.5 L297.2 2194.1 L300.9 2193.7 L304.5 2193.2 L308.2 2192.8 L311.9 2192.5 L315.6 2192.1 L319.2 2191.8 L322.9 2191.5 L326.6 2191.2 L330.2 2191 L333.9 2190.8 L337.6 2190.6 L341.3 2190.5 L344.9 2190.3 L348.6 2190.2 L352.3 2190.2 L355.9 2190.1 L359.6 2190.1 L363.3 2190 L367 2190 L370.6 2190 L374.3 2190 M591.2 2232.4 L587.5 2230.9 L583.8 2229.3 L580.2 2227.8 L576.5 2226.2 L572.8 2224.7 L569.1 2223.1 L565.5 2221.6 L561.8 2220.1 L558.1 2218.6 L554.4 2217.1 L550.8 2215.7 L547.1 2214.3 L543.4 2212.9 L539.7 2211.6 L536.1 2210.3 L532.4 2209.1 L528.7 2208 L525 2206.9 L521.4 2205.9 L517.7 2205 L514 2204.1 L510.3 2203.3 L506.6 2202.6 L503 2201.8 L499.3 2201.2 L495.6 2200.5 L491.9 2199.9 L488.3 2199.3 L484.6 2198.7 L480.9 2198.1 L477.2 2197.6 L473.6 2197 L469.9 2196.5 L466.2 2196 L462.5 2195.5 L458.9 2195 L455.2 2194.5 L451.5 2194.1 L447.8 2193.7 L444.1 2193.2 L440.5 2192.8 L436.8 2192.5 L433.1 2192.1 L429.4 2191.8 L425.8 2191.5 L422.1 2191.2 L418.4 2191 L414.7 2190.8 L411.1 2190.6 L407.4 2190.5 L403.7 2190.3 L400 2190.2 L396.4 2190.2 L392.7 2190.1 L389 2190.1 L385.3 2190 L381.7 2190 L378 2190 L374.3 2190 M591.2 1882.9 L594.4 1882.9 L597.6 1883 L600.8 1883.1 L604 1883.2 L607.2 1883.4 L610.4 1883.6 L613.6 1883.9 L616.8 1884.1 L620 1884.4 L623.2 1884.8 L626.4 1885.1 L629.6 1885.5 L632.8 1886 L636 1886.4 L639.1 1886.9 L642.3 1887.4 L645.5 1888 L648.7 1888.6 L651.9 1889.2 L655.1 1889.9 L658.3 1890.6 L661.5 1891.4 L664.7 1892.2 L667.9 1893 L671.1 1893.9 L674.3 1894.8 L677.5 1895.8 L680.7 1896.8 L683.9 1897.7 L687.1 1898.7 L690.3 1899.7 L693.5 1900.7 L696.7 1901.7 L699.9 1902.7 L703.1 1903.7 L706.3 1904.6 L709.5 1905.6 L712.7 1906.5 L715.9 1907.3 L719.1 1908.2 L722.3 1909.1 L725.5 1909.9 L728.7 1910.7 L731.9 1911.5 L735 1912.3 L738.2 1913 L741.4 1913.8 L744.6 1914.5 L747.8 1915.2 L751 1915.9 L754.2 1916.5 L757.4 1917 L760.6 1917.5 L763.8 1917.9 L767 1918.2 L770.2 1918.4 L773.4 1918.5 L776.6 1918.6 L779.8 1918.6 M591.2 2036.1 L594.4 2036.1 L597.6 2036.2 L600.8 2036.3 L604 2036.4 L607.2 2036.6 L610.4 2036.8 L613.6 2037 L616.8 2037.2 L620 2037.5 L623.2 2037.7 L626.4 2038 L629.6 2038.3 L632.8 2038.6 L636 2038.9 L639.1 2039.2 L642.3 2039.6 L645.5 2039.9 L648.7 2040.3 L651.9 2040.6 L655.1 2041 L658.3 2041.4 L661.5 2041.8 L664.7 2042.2 L667.9 2042.6 L671.1 2043 L674.3 2043.4 L677.5 2043.8 L680.7 2044.2 L683.9 2044.6 L687.1 2045 L690.3 2045.5 L693.5 2045.9 L696.7 2046.3 L699.9 2046.8 L703.1 2047.2 L706.3 2047.6 L709.5 2048.1 L712.7 2048.5 L715.9 2049 L719.1 2049.4 L722.3 2049.8 L725.5 2050.2 L728.7 2050.6 L731.9 2051 L735 2051.4 L738.2 2051.7 L741.4 2052 L744.6 2052.3 L747.8 2052.5 L751 2052.8 L754.2 2053 L757.4 2053.1 L760.6 2053.3 L763.8 2053.4 L767 2053.5 L770.2 2053.6 L773.4 2053.7 L776.6 2053.7 L779.8 2053.7 M591.2 2105 L594.4 2105 L597.6 2105 L600.8 2105 L604 2105 L607.2 2105 L610.4 2104.9 L613.6 2104.9 L616.8 2104.9 L620 2104.9 L623.2 2104.8 L626.4 2104.8 L629.6 2104.8 L632.8 2104.8 L636 2104.7 L639.1 2104.7 L642.3 2104.6 L645.5 2104.6 L648.7 2104.6 L651.9 2104.5 L655.1 2104.5 L658.3 2104.4 L661.5 2104.4 L664.7 2104.3 L667.9 2104.3 L671.1 2104.2 L674.3 2104.2 L677.5 2104.1 L680.7 2104.1 L683.9 2104 L687.1 2104 L690.3 2103.9 L693.5 2103.9 L696.7 2103.8 L699.9 2103.8 L703.1 2103.7 L706.3 2103.7 L709.5 2103.6 L712.7 2103.6 L715.9 2103.5 L719.1 2103.5 L722.3 2103.4 L725.5 2103.4 L728.7 2103.4 L731.9 2103.3 L735 2103.3 L738.2 2103.2 L741.4 2103.2 L744.6 2103.2 L747.8 2103.2 L751 2103.1 L754.2 2103.1 L757.4 2103.1 L760.6 2103.1 L763.8 2103 L767 2103 L770.2 2103 L773.4 2103 L776.6 2103 L779.8 2103 M591.2 2105 L594.4 2105 L597.6 2105 L600.8 2105.1 L604 2105.2 L607.2 2105.3 L610.4 2105.4 L613.6 2105.5 L616.8 2105.7 L620 2105.9 L623.2 2106 L626.4 2106.2 L629.6 2106.5 L632.8 2106.7 L636 2106.9 L639.1 2107.2 L642.3 2107.5 L645.5 2107.8 L648.7 2108 L651.9 2108.3 L655.1 2108.7 L658.3 2109 L661.5 2109.3 L664.7 2109.6 L667.9 2110 L671.1 2110.3 L674.3 2110.7 L677.5 2111 L680.7 2111.4 L683.9 2111.8 L687.1 2112.2 L690.3 2112.6 L693.5 2113 L696.7 2113.5 L699.9 2113.9 L703.1 2114.4 L706.3 2114.9 L709.5 2115.5 L712.7 2116 L715.9 2116.6 L719.1 2117.1 L722.3 2117.7 L725.5 2118.3 L728.7 2118.9 L731.9 2119.5 L735 2120.1 L738.2 2120.7 L741.4 2121.3 L744.6 2121.9 L747.8 2122.5 L751 2123 L754.2 2123.5 L757.4 2124 L760.6 2124.5 L763.8 2124.9 L767 2125.2 L770.2 2125.5 L773.4 2125.7 L776.6 2125.9 L779.8 2125.9 M591.2 2232.4 L594.4 2229 L597.6 2225.7 L600.8 2222.3 L604 2219 L607.2 2215.7 L610.4 2212.4 L613.6 2209.2 L616.8 2206.1 L620 2203 L623.2 2199.9 L626.4 2197 L629.6 2194.1 L632.8 2191.3 L636 2188.5 L639.1 2185.8 L642.3 2183.1 L645.5 2180.5 L648.7 2178 L651.9 2175.5 L655.1 2173 L658.3 2170.5 L661.5 2168.1 L664.7 2165.7 L667.9 2163.3 L671.1 2161 L674.3 2158.6 L677.5 2156.3 L680.7 2154.1 L683.9 2151.8 L687.1 2149.6 L690.3 2147.5 L693.5 2145.4 L696.7 2143.4 L699.9 2141.4 L703.1 2139.5 L706.3 2137.7 L709.5 2135.9 L712.7 2134.2 L715.9 2132.6 L719.1 2131 L722.3 2129.5 L725.5 2128.1 L728.7 2126.8 L731.9 2125.5 L735 2124.3 L738.2 2123.2 L741.4 2122.1 L744.6 2121.2 L747.8 2120.3 L751 2119.5 L754.2 2118.7 L757.4 2118.1 L760.6 2117.5 L763.8 2117 L767 2116.7 L770.2 2116.4 L773.4 2116.2 L776.6 2116 L779.8 2116 M591.2 2232.4 L594.4 2229.5 L597.6 2226.5 L600.8 2223.6 L604 2220.7 L607.2 2217.8 L610.4 2215 L613.6 2212.2 L616.8 2209.5 L620 2206.8 L623.2 2204.2 L626.4 2201.7 L629.6 2199.2 L632.8 2196.8 L636 2194.5 L639.1 2192.2 L642.3 2189.9 L645.5 2187.7 L648.7 2185.5 L651.9 2183.3 L655.1 2181.1 L658.3 2178.9 L661.5 2176.7 L664.7 2174.5 L667.9 2172.2 L671.1 2170 L674.3 2167.7 L677.5 2165.5 L680.7 2163.3 L683.9 2161.1 L687.1 2159 L690.3 2156.9 L693.5 2154.8 L696.7 2152.9 L699.9 2151 L703.1 2149.3 L706.3 2147.6 L709.5 2146 L712.7 2144.5 L715.9 2143.1 L719.1 2141.7 L722.3 2140.4 L725.5 2139.2 L728.7 2138.1 L731.9 2136.9 L735 2135.9 L738.2 2134.8 L741.4 2133.8 L744.6 2132.8 L747.8 2131.9 L751 2131 L754.2 2130.2 L757.4 2129.4 L760.6 2128.8 L763.8 2128.2 L767 2127.8 L770.2 2127.4 L773.4 2127.2 L776.6 2127 L779.8 2127" stroke="#fb9bd9" stroke-width="5.4" fill="none" stroke-linejoin="round" stroke-linecap="butt" clip-path="url(#cb3)"/>
<path d="M157.7 1854.9 L161.4 1854.9 L165 1854.9 L168.7 1855 L172.4 1855 L176.1 1855.1 L179.7 1855.2 L183.4 1855.3 L187.1 1855.4 L190.7 1855.5 L194.4 1855.6 L198.1 1855.8 L201.8 1855.9 L205.4 1856.1 L209.1 1856.3 L212.8 1856.4 L216.4 1856.6 L220.1 1856.8 L223.8 1857 L227.5 1857.2 L231.1 1857.5 L234.8 1857.7 L238.5 1857.9 L242.1 1858.2 L245.8 1858.4 L249.5 1858.7 L253.2 1858.9 L256.8 1859.2 L260.5 1859.5 L264.2 1859.8 L267.8 1860.1 L271.5 1860.4 L275.2 1860.7 L278.8 1861 L282.5 1861.4 L286.2 1861.8 L289.9 1862.1 L293.5 1862.5 L297.2 1863 L300.9 1863.4 L304.5 1863.9 L308.2 1864.3 L311.9 1864.8 L315.6 1865.4 L319.2 1865.9 L322.9 1866.4 L326.6 1867 L330.2 1867.5 L333.9 1868 L337.6 1868.4 L341.3 1868.9 L344.9 1869.3 L348.6 1869.6 L352.3 1870 L355.9 1870.2 L359.6 1870.4 L363.3 1870.5 L367 1870.6 L370.6 1870.7 L374.3 1870.7 M591.2 1854.9 L587.5 1854.9 L583.8 1854.9 L580.2 1855 L576.5 1855 L572.8 1855.1 L569.1 1855.2 L565.5 1855.3 L561.8 1855.4 L558.1 1855.5 L554.4 1855.6 L550.8 1855.8 L547.1 1855.9 L543.4 1856.1 L539.7 1856.3 L536.1 1856.4 L532.4 1856.6 L528.7 1856.8 L525 1857 L521.4 1857.2 L517.7 1857.5 L514 1857.7 L510.3 1857.9 L506.6 1858.2 L503 1858.4 L499.3 1858.7 L495.6 1858.9 L491.9 1859.2 L488.3 1859.5 L484.6 1859.8 L480.9 1860.1 L477.2 1860.4 L473.6 1860.7 L469.9 1861 L466.2 1861.4 L462.5 1861.8 L458.9 1862.1 L455.2 1862.5 L451.5 1863 L447.8 1863.4 L444.1 1863.9 L440.5 1864.3 L436.8 1864.8 L433.1 1865.4 L429.4 1865.9 L425.8 1866.4 L422.1 1867 L418.4 1867.5 L414.7 1868 L411.1 1868.4 L407.4 1868.9 L403.7 1869.3 L400 1869.6 L396.4 1870 L392.7 1870.2 L389 1870.4 L385.3 1870.5 L381.7 1870.6 L378 1870.7 L374.3 1870.7 M157.7 2006.8 L161.4 2006.8 L165 2006.9 L168.7 2007.1 L172.4 2007.3 L176.1 2007.5 L179.7 2007.8 L183.4 2008.1 L187.1 2008.5 L190.7 2008.9 L194.4 2009.4 L198.1 2009.9 L201.8 2010.4 L205.4 2010.9 L209.1 2011.5 L212.8 2012.1 L216.4 2012.7 L220.1 2013.3 L223.8 2013.9 L227.5 2014.5 L231.1 2015.2 L234.8 2015.8 L238.5 2016.5 L242.1 2017.2 L245.8 2017.9 L249.5 2018.7 L253.2 2019.4 L256.8 2020.2 L260.5 2021 L264.2 2021.8 L267.8 2022.7 L271.5 2023.6 L275.2 2024.5 L278.8 2025.4 L282.5 2026.3 L286.2 2027.2 L289.9 2028.1 L293.5 2029 L297.2 2029.9 L300.9 2030.7 L304.5 2031.6 L308.2 2032.4 L311.9 2033.2 L315.6 2034 L319.2 2034.7 L322.9 2035.4 L326.6 2036.1 L330.2 2036.7 L333.9 2037.3 L337.6 2037.9 L341.3 2038.4 L344.9 2038.9 L348.6 2039.3 L352.3 2039.8 L355.9 2040.2 L359.6 2040.5 L363.3 2040.8 L367 2041 L370.6 2041.2 L374.3 2041.2 M591.2 2006.8 L587.5 2006.8 L583.8 2006.9 L580.2 2007.1 L576.5 2007.3 L572.8 2007.5 L569.1 2007.8 L565.5 2008.1 L561.8 2008.5 L558.1 2008.9 L554.4 2009.4 L550.8 2009.9 L547.1 2010.4 L543.4 2010.9 L539.7 2011.5 L536.1 2012.1 L532.4 2012.7 L528.7 2013.3 L525 2013.9 L521.4 2014.5 L517.7 2015.2 L514 2015.8 L510.3 2016.5 L506.6 2017.2 L503 2017.9 L499.3 2018.7 L495.6 2019.4 L491.9 2020.2 L488.3 2021 L484.6 2021.8 L480.9 2022.7 L477.2 2023.6 L473.6 2024.5 L469.9 2025.4 L466.2 2026.3 L462.5 2027.2 L458.9 2028.1 L455.2 2029 L451.5 2029.9 L447.8 2030.7 L444.1 2031.6 L440.5 2032.4 L436.8 2033.2 L433.1 2034 L429.4 2034.7 L425.8 2035.4 L422.1 2036.1 L418.4 2036.7 L414.7 2037.3 L411.1 2037.9 L407.4 2038.4 L403.7 2038.9 L400 2039.3 L396.4 2039.8 L392.7 2040.2 L389 2040.5 L385.3 2040.8 L381.7 2041 L378 2041.2 L374.3 2041.2 M157.7 2232.4 L161.4 2228.3 L165 2224.2 L168.7 2220.1 L172.4 2216 L176.1 2211.8 L179.7 2207.7 L183.4 2203.5 L187.1 2199.3 L190.7 2195.1 L194.4 2190.8 L198.1 2186.5 L201.8 2182.1 L205.4 2177.7 L209.1 2173.3 L212.8 2168.9 L216.4 2164.5 L220.1 2160 L223.8 2155.6 L227.5 2151.2 L231.1 2146.8 L234.8 2142.5 L238.5 2138.2 L242.1 2133.9 L245.8 2129.8 L249.5 2125.7 L253.2 2121.7 L256.8 2117.7 L260.5 2113.9 L264.2 2110.2 L267.8 2106.6 L271.5 2103.1 L275.2 2099.7 L278.8 2096.4 L282.5 2093.3 L286.2 2090.3 L289.9 2087.5 L293.5 2084.8 L297.2 2082.3 L300.9 2079.9 L304.5 2077.6 L308.2 2075.4 L311.9 2073.4 L315.6 2071.4 L319.2 2069.6 L322.9 2067.9 L326.6 2066.3 L330.2 2064.9 L333.9 2063.6 L337.6 2062.5 L341.3 2061.5 L344.9 2060.6 L348.6 2059.7 L352.3 2058.9 L355.9 2058.2 L359.6 2057.5 L363.3 2056.9 L367 2056.4 L370.6 2056.1 L374.3 2056 M591.2 2232.4 L587.5 2228.3 L583.8 2224.2 L580.2 2220.1 L576.5 2216 L572.8 2211.8 L569.1 2207.7 L565.5 2203.5 L561.8 2199.3 L558.1 2195.1 L554.4 2190.8 L550.8 2186.5 L547.1 2182.1 L543.4 2177.7 L539.7 2173.3 L536.1 2168.9 L532.4 2164.5 L528.7 2160 L525 2155.6 L521.4 2151.2 L517.7 2146.8 L514 2142.5 L510.3 2138.2 L506.6 2133.9 L503 2129.8 L499.3 2125.7 L495.6 2121.7 L491.9 2117.7 L488.3 2113.9 L484.6 2110.2 L480.9 2106.6 L477.2 2103.1 L473.6 2099.7 L469.9 2096.4 L466.2 2093.3 L462.5 2090.3 L458.9 2087.5 L455.2 2084.8 L451.5 2082.3 L447.8 2079.9 L444.1 2077.6 L440.5 2075.4 L436.8 2073.4 L433.1 2071.4 L429.4 2069.6 L425.8 2067.9 L422.1 2066.3 L418.4 2064.9 L414.7 2063.6 L411.1 2062.5 L407.4 2061.5 L403.7 2060.6 L400 2059.7 L396.4 2058.9 L392.7 2058.2 L389 2057.5 L385.3 2056.9 L381.7 2056.4 L378 2056.1 L374.3 2056 M157.7 2096.2 L161.4 2096.2 L165 2096.1 L168.7 2096 L172.4 2095.8 L176.1 2095.6 L179.7 2095.4 L183.4 2095.1 L187.1 2094.8 L190.7 2094.5 L194.4 2094.1 L198.1 2093.7 L201.8 2093.3 L205.4 2092.9 L209.1 2092.4 L212.8 2092 L216.4 2091.5 L220.1 2091.1 L223.8 2090.6 L227.5 2090.1 L231.1 2089.7 L234.8 2089.2 L238.5 2088.7 L242.1 2088.3 L245.8 2087.8 L249.5 2087.4 L253.2 2087 L256.8 2086.6 L260.5 2086.2 L264.2 2085.8 L267.8 2085.5 L271.5 2085.1 L275.2 2084.8 L278.8 2084.6 L282.5 2084.3 L286.2 2084.1 L289.9 2083.9 L293.5 2083.8 L297.2 2083.6 L300.9 2083.5 L304.5 2083.4 L308.2 2083.4 L311.9 2083.4 L315.6 2083.4 L319.2 2083.4 L322.9 2083.4 L326.6 2083.4 L330.2 2083.5 L333.9 2083.5 L337.6 2083.6 L341.3 2083.7 L344.9 2083.7 L348.6 2083.8 L352.3 2083.9 L355.9 2083.9 L359.6 2084 L363.3 2084 L367 2084.1 L370.6 2084.1 L374.3 2084.1 M591.2 2096.2 L587.5 2096.2 L583.8 2096.1 L580.2 2096 L576.5 2095.8 L572.8 2095.6 L569.1 2095.4 L565.5 2095.1 L561.8 2094.8 L558.1 2094.5 L554.4 2094.1 L550.8 2093.7 L547.1 2093.3 L543.4 2092.9 L539.7 2092.4 L536.1 2092 L532.4 2091.5 L528.7 2091.1 L525 2090.6 L521.4 2090.1 L517.7 2089.7 L514 2089.2 L510.3 2088.7 L506.6 2088.3 L503 2087.8 L499.3 2087.4 L495.6 2087 L491.9 2086.6 L488.3 2086.2 L484.6 2085.8 L480.9 2085.5 L477.2 2085.1 L473.6 2084.8 L469.9 2084.6 L466.2 2084.3 L462.5 2084.1 L458.9 2083.9 L455.2 2083.8 L451.5 2083.6 L447.8 2083.5 L444.1 2083.4 L440.5 2083.4 L436.8 2083.4 L433.1 2083.4 L429.4 2083.4 L425.8 2083.4 L422.1 2083.4 L418.4 2083.5 L414.7 2083.5 L411.1 2083.6 L407.4 2083.7 L403.7 2083.7 L400 2083.8 L396.4 2083.9 L392.7 2083.9 L389 2084 L385.3 2084 L381.7 2084.1 L378 2084.1 L374.3 2084.1 M157.7 2096.2 L161.4 2097.8 L165 2099.3 L168.7 2100.9 L172.4 2102.4 L176.1 2104 L179.7 2105.6 L183.4 2107.2 L187.1 2108.8 L190.7 2110.4 L194.4 2112.1 L198.1 2113.8 L201.8 2115.6 L205.4 2117.4 L209.1 2119.2 L212.8 2121.2 L216.4 2123.2 L220.1 2125.2 L223.8 2127.4 L227.5 2129.6 L231.1 2131.9 L234.8 2134.2 L238.5 2136.5 L242.1 2138.9 L245.8 2141.3 L249.5 2143.7 L253.2 2146.1 L256.8 2148.6 L260.5 2150.9 L264.2 2153.3 L267.8 2155.6 L271.5 2157.9 L275.2 2160.2 L278.8 2162.5 L282.5 2164.7 L286.2 2167 L289.9 2169.2 L293.5 2171.4 L297.2 2173.7 L300.9 2175.9 L304.5 2178.2 L308.2 2180.4 L311.9 2182.7 L315.6 2184.9 L319.2 2187.1 L322.9 2189.2 L326.6 2191.1 L330.2 2192.9 L333.9 2194.4 L337.6 2195.8 L341.3 2197 L344.9 2198 L348.6 2199 L352.3 2199.9 L355.9 2200.7 L359.6 2201.5 L363.3 2202.2 L367 2202.8 L370.6 2203.4 L374.3 2203.8 M591.2 2096.2 L587.5 2097.8 L583.8 2099.3 L580.2 2100.9 L576.5 2102.4 L572.8 2104 L569.1 2105.6 L565.5 2107.2 L561.8 2108.8 L558.1 2110.4 L554.4 2112.1 L550.8 2113.8 L547.1 2115.6 L543.4 2117.4 L539.7 2119.2 L536.1 2121.2 L532.4 2123.2 L528.7 2125.2 L525 2127.4 L521.4 2129.6 L517.7 2131.9 L514 2134.2 L510.3 2136.5 L506.6 2138.9 L503 2141.3 L499.3 2143.7 L495.6 2146.1 L491.9 2148.6 L488.3 2150.9 L484.6 2153.3 L480.9 2155.6 L477.2 2157.9 L473.6 2160.2 L469.9 2162.5 L466.2 2164.7 L462.5 2167 L458.9 2169.2 L455.2 2171.4 L451.5 2173.7 L447.8 2175.9 L444.1 2178.2 L440.5 2180.4 L436.8 2182.7 L433.1 2184.9 L429.4 2187.1 L425.8 2189.2 L422.1 2191.1 L418.4 2192.9 L414.7 2194.4 L411.1 2195.8 L407.4 2197 L403.7 2198 L400 2199 L396.4 2199.9 L392.7 2200.7 L389 2201.5 L385.3 2202.2 L381.7 2202.8 L378 2203.4 L374.3 2203.8 M157.7 2232.4 L161.4 2230.6 L165 2228.8 L168.7 2226.9 L172.4 2225.1 L176.1 2223.3 L179.7 2221.5 L183.4 2219.7 L187.1 2217.9 L190.7 2216.2 L194.4 2214.4 L198.1 2212.7 L201.8 2211.1 L205.4 2209.4 L209.1 2207.9 L212.8 2206.4 L216.4 2205 L220.1 2203.7 L223.8 2202.4 L227.5 2201.2 L231.1 2200.2 L234.8 2199.1 L238.5 2198.2 L242.1 2197.3 L245.8 2196.4 L249.5 2195.6 L253.2 2194.9 L256.8 2194.2 L260.5 2193.4 L264.2 2192.7 L267.8 2192 L271.5 2191.3 L275.2 2190.6 L278.8 2189.9 L282.5 2189.2 L286.2 2188.5 L289.9 2187.9 L293.5 2187.2 L297.2 2186.5 L300.9 2185.9 L304.5 2185.3 L308.2 2184.7 L311.9 2184.1 L315.6 2183.6 L319.2 2183 L322.9 2182.6 L326.6 2182.1 L330.2 2181.7 L333.9 2181.3 L337.6 2181 L341.3 2180.7 L344.9 2180.5 L348.6 2180.2 L352.3 2180.1 L355.9 2179.9 L359.6 2179.8 L363.3 2179.7 L367 2179.6 L370.6 2179.6 L374.3 2179.6 M591.2 2232.4 L587.5 2230.6 L583.8 2228.8 L580.2 2226.9 L576.5 2225.1 L572.8 2223.3 L569.1 2221.5 L565.5 2219.7 L561.8 2217.9 L558.1 2216.2 L554.4 2214.4 L550.8 2212.7 L547.1 2211.1 L543.4 2209.4 L539.7 2207.9 L536.1 2206.4 L532.4 2205 L528.7 2203.7 L525 2202.4 L521.4 2201.2 L517.7 2200.2 L514 2199.1 L510.3 2198.2 L506.6 2197.3 L503 2196.4 L499.3 2195.6 L495.6 2194.9 L491.9 2194.2 L488.3 2193.4 L484.6 2192.7 L480.9 2192 L477.2 2191.3 L473.6 2190.6 L469.9 2189.9 L466.2 2189.2 L462.5 2188.5 L458.9 2187.9 L455.2 2187.2 L451.5 2186.5 L447.8 2185.9 L444.1 2185.3 L440.5 2184.7 L436.8 2184.1 L433.1 2183.6 L429.4 2183 L425.8 2182.6 L422.1 2182.1 L418.4 2181.7 L414.7 2181.3 L411.1 2181 L407.4 2180.7 L403.7 2180.5 L400 2180.2 L396.4 2180.1 L392.7 2179.9 L389 2179.8 L385.3 2179.7 L381.7 2179.6 L378 2179.6 L374.3 2179.6 M591.2 1855.6 L594.4 1855.6 L597.6 1855.7 L600.8 1855.8 L604 1856 L607.2 1856.2 L610.4 1856.5 L613.6 1856.8 L616.8 1857.1 L620 1857.5 L623.2 1857.9 L626.4 1858.4 L629.6 1858.9 L632.8 1859.4 L636 1859.9 L639.1 1860.5 L642.3 1861.2 L645.5 1861.9 L648.7 1862.6 L651.9 1863.3 L655.1 1864.2 L658.3 1865 L661.5 1865.9 L664.7 1866.9 L667.9 1867.9 L671.1 1869 L674.3 1870 L677.5 1871.2 L680.7 1872.3 L683.9 1873.4 L687.1 1874.6 L690.3 1875.8 L693.5 1876.9 L696.7 1878.1 L699.9 1879.2 L703.1 1880.4 L706.3 1881.5 L709.5 1882.5 L712.7 1883.6 L715.9 1884.6 L719.1 1885.6 L722.3 1886.6 L725.5 1887.6 L728.7 1888.5 L731.9 1889.4 L735 1890.3 L738.2 1891.2 L741.4 1892.1 L744.6 1892.9 L747.8 1893.7 L751 1894.5 L754.2 1895.2 L757.4 1895.8 L760.6 1896.3 L763.8 1896.7 L767 1897.1 L770.2 1897.3 L773.4 1897.5 L776.6 1897.6 L779.8 1897.6 M591.2 2006.4 L594.4 2006.4 L597.6 2006.5 L600.8 2006.6 L604 2006.8 L607.2 2007 L610.4 2007.2 L613.6 2007.4 L616.8 2007.7 L620 2008 L623.2 2008.3 L626.4 2008.7 L629.6 2009 L632.8 2009.4 L636 2009.7 L639.1 2010.1 L642.3 2010.5 L645.5 2010.9 L648.7 2011.4 L651.9 2011.8 L655.1 2012.2 L658.3 2012.7 L661.5 2013.1 L664.7 2013.6 L667.9 2014.1 L671.1 2014.6 L674.3 2015 L677.5 2015.5 L680.7 2016 L683.9 2016.5 L687.1 2017 L690.3 2017.5 L693.5 2018 L696.7 2018.6 L699.9 2019.1 L703.1 2019.6 L706.3 2020.1 L709.5 2020.7 L712.7 2021.2 L715.9 2021.7 L719.1 2022.2 L722.3 2022.7 L725.5 2023.2 L728.7 2023.7 L731.9 2024.1 L735 2024.5 L738.2 2024.9 L741.4 2025.3 L744.6 2025.6 L747.8 2025.9 L751 2026.2 L754.2 2026.4 L757.4 2026.6 L760.6 2026.8 L763.8 2027 L767 2027.1 L770.2 2027.2 L773.4 2027.2 L776.6 2027.3 L779.8 2027.3 M591.2 2097 L594.4 2097 L597.6 2097 L600.8 2097 L604 2097 L607.2 2097 L610.4 2097 L613.6 2097 L616.8 2096.9 L620 2096.9 L623.2 2096.9 L626.4 2096.9 L629.6 2096.9 L632.8 2096.9 L636 2096.9 L639.1 2096.8 L642.3 2096.8 L645.5 2096.8 L648.7 2096.8 L651.9 2096.8 L655.1 2096.7 L658.3 2096.7 L661.5 2096.7 L664.7 2096.7 L667.9 2096.6 L671.1 2096.6 L674.3 2096.6 L677.5 2096.6 L680.7 2096.5 L683.9 2096.5 L687.1 2096.5 L690.3 2096.5 L693.5 2096.4 L696.7 2096.4 L699.9 2096.4 L703.1 2096.4 L706.3 2096.3 L709.5 2096.3 L712.7 2096.3 L715.9 2096.3 L719.1 2096.2 L722.3 2096.2 L725.5 2096.2 L728.7 2096.2 L731.9 2096.2 L735 2096.1 L738.2 2096.1 L741.4 2096.1 L744.6 2096.1 L747.8 2096.1 L751 2096.1 L754.2 2096.1 L757.4 2096 L760.6 2096 L763.8 2096 L767 2096 L770.2 2096 L773.4 2096 L776.6 2096 L779.8 2096 M591.2 2097 L594.4 2097 L597.6 2097 L600.8 2097.1 L604 2097.1 L607.2 2097.2 L610.4 2097.2 L613.6 2097.3 L616.8 2097.4 L620 2097.5 L623.2 2097.6 L626.4 2097.8 L629.6 2097.9 L632.8 2098 L636 2098.2 L639.1 2098.4 L642.3 2098.5 L645.5 2098.7 L648.7 2098.9 L651.9 2099.1 L655.1 2099.3 L658.3 2099.5 L661.5 2099.7 L664.7 2099.9 L667.9 2100.1 L671.1 2100.4 L674.3 2100.6 L677.5 2100.8 L680.7 2101.1 L683.9 2101.4 L687.1 2101.7 L690.3 2102 L693.5 2102.3 L696.7 2102.6 L699.9 2103 L703.1 2103.4 L706.3 2103.8 L709.5 2104.2 L712.7 2104.7 L715.9 2105.2 L719.1 2105.7 L722.3 2106.2 L725.5 2106.7 L728.7 2107.3 L731.9 2107.9 L735 2108.4 L738.2 2109 L741.4 2109.6 L744.6 2110.1 L747.8 2110.7 L751 2111.2 L754.2 2111.7 L757.4 2112.2 L760.6 2112.7 L763.8 2113.1 L767 2113.4 L770.2 2113.7 L773.4 2113.9 L776.6 2114.1 L779.8 2114.1 M591.2 2232.4 L594.4 2228.8 L597.6 2225.2 L600.8 2221.6 L604 2218.1 L607.2 2214.6 L610.4 2211.1 L613.6 2207.6 L616.8 2204.3 L620 2200.9 L623.2 2197.7 L626.4 2194.5 L629.6 2191.4 L632.8 2188.4 L636 2185.5 L639.1 2182.6 L642.3 2179.8 L645.5 2177 L648.7 2174.3 L651.9 2171.6 L655.1 2168.9 L658.3 2166.3 L661.5 2163.7 L664.7 2161.1 L667.9 2158.6 L671.1 2156 L674.3 2153.6 L677.5 2151.1 L680.7 2148.7 L683.9 2146.3 L687.1 2144 L690.3 2141.7 L693.5 2139.4 L696.7 2137.3 L699.9 2135.2 L703.1 2133.1 L706.3 2131.2 L709.5 2129.3 L712.7 2127.5 L715.9 2125.7 L719.1 2124.1 L722.3 2122.5 L725.5 2121 L728.7 2119.5 L731.9 2118.2 L735 2116.9 L738.2 2115.7 L741.4 2114.6 L744.6 2113.5 L747.8 2112.6 L751 2111.7 L754.2 2110.9 L757.4 2110.2 L760.6 2109.6 L763.8 2109.1 L767 2108.7 L770.2 2108.4 L773.4 2108.2 L776.6 2108 L779.8 2108 M591.2 2232.4 L594.4 2229.6 L597.6 2226.7 L600.8 2223.9 L604 2221.1 L607.2 2218.4 L610.4 2215.7 L613.6 2213 L616.8 2210.3 L620 2207.8 L623.2 2205.3 L626.4 2202.8 L629.6 2200.5 L632.8 2198.1 L636 2195.9 L639.1 2193.7 L642.3 2191.5 L645.5 2189.4 L648.7 2187.2 L651.9 2185.1 L655.1 2183 L658.3 2180.9 L661.5 2178.8 L664.7 2176.7 L667.9 2174.5 L671.1 2172.3 L674.3 2170.2 L677.5 2168 L680.7 2165.9 L683.9 2163.8 L687.1 2161.7 L690.3 2159.7 L693.5 2157.8 L696.7 2155.9 L699.9 2154.1 L703.1 2152.4 L706.3 2150.8 L709.5 2149.3 L712.7 2147.8 L715.9 2146.5 L719.1 2145.2 L722.3 2143.9 L725.5 2142.8 L728.7 2141.6 L731.9 2140.6 L735 2139.5 L738.2 2138.5 L741.4 2137.6 L744.6 2136.6 L747.8 2135.7 L751 2134.9 L754.2 2134.1 L757.4 2133.4 L760.6 2132.7 L763.8 2132.2 L767 2131.8 L770.2 2131.4 L773.4 2131.2 L776.6 2131 L779.8 2131" stroke="#1626e6" stroke-width="5.4" fill="none" stroke-linejoin="round" stroke-linecap="butt" clip-path="url(#cb3)"/>
<path d="M157.7 1877.3 L161.4 1877.3 L165 1877.3 L168.7 1877.4 L172.4 1877.4 L176.1 1877.5 L179.7 1877.5 L183.4 1877.6 L187.1 1877.7 L190.7 1877.8 L194.4 1877.9 L198.1 1878.1 L201.8 1878.2 L205.4 1878.3 L209.1 1878.5 L212.8 1878.7 L216.4 1878.8 L220.1 1879 L223.8 1879.2 L227.5 1879.4 L231.1 1879.6 L234.8 1879.8 L238.5 1880 L242.1 1880.2 L245.8 1880.4 L249.5 1880.7 L253.2 1880.9 L256.8 1881.1 L260.5 1881.4 L264.2 1881.6 L267.8 1881.9 L271.5 1882.2 L275.2 1882.5 L278.8 1882.8 L282.5 1883.1 L286.2 1883.4 L289.9 1883.8 L293.5 1884.2 L297.2 1884.5 L300.9 1885 L304.5 1885.4 L308.2 1885.8 L311.9 1886.3 L315.6 1886.8 L319.2 1887.3 L322.9 1887.7 L326.6 1888.2 L330.2 1888.7 L333.9 1889.2 L337.6 1889.6 L341.3 1890 L344.9 1890.4 L348.6 1890.7 L352.3 1891 L355.9 1891.2 L359.6 1891.4 L363.3 1891.5 L367 1891.6 L370.6 1891.7 L374.3 1891.7 M591.2 1877.3 L587.5 1877.3 L583.8 1877.3 L580.2 1877.4 L576.5 1877.4 L572.8 1877.5 L569.1 1877.5 L565.5 1877.6 L561.8 1877.7 L558.1 1877.8 L554.4 1877.9 L550.8 1878.1 L547.1 1878.2 L543.4 1878.3 L539.7 1878.5 L536.1 1878.7 L532.4 1878.8 L528.7 1879 L525 1879.2 L521.4 1879.4 L517.7 1879.6 L514 1879.8 L510.3 1880 L506.6 1880.2 L503 1880.4 L499.3 1880.7 L495.6 1880.9 L491.9 1881.1 L488.3 1881.4 L484.6 1881.6 L480.9 1881.9 L477.2 1882.2 L473.6 1882.5 L469.9 1882.8 L466.2 1883.1 L462.5 1883.4 L458.9 1883.8 L455.2 1884.2 L451.5 1884.5 L447.8 1885 L444.1 1885.4 L440.5 1885.8 L436.8 1886.3 L433.1 1886.8 L429.4 1887.3 L425.8 1887.7 L422.1 1888.2 L418.4 1888.7 L414.7 1889.2 L411.1 1889.6 L407.4 1890 L403.7 1890.4 L400 1890.7 L396.4 1891 L392.7 1891.2 L389 1891.4 L385.3 1891.5 L381.7 1891.6 L378 1891.7 L374.3 1891.7 M157.7 2031.3 L161.4 2031.3 L165 2031.4 L168.7 2031.5 L172.4 2031.7 L176.1 2031.9 L179.7 2032.2 L183.4 2032.4 L187.1 2032.8 L190.7 2033.1 L194.4 2033.5 L198.1 2033.9 L201.8 2034.4 L205.4 2034.8 L209.1 2035.3 L212.8 2035.8 L216.4 2036.3 L220.1 2036.8 L223.8 2037.4 L227.5 2037.9 L231.1 2038.5 L234.8 2039.1 L238.5 2039.6 L242.1 2040.2 L245.8 2040.8 L249.5 2041.5 L253.2 2042.1 L256.8 2042.8 L260.5 2043.5 L264.2 2044.2 L267.8 2044.9 L271.5 2045.7 L275.2 2046.5 L278.8 2047.2 L282.5 2048 L286.2 2048.8 L289.9 2049.6 L293.5 2050.4 L297.2 2051.1 L300.9 2051.9 L304.5 2052.6 L308.2 2053.4 L311.9 2054 L315.6 2054.7 L319.2 2055.3 L322.9 2055.9 L326.6 2056.5 L330.2 2057.1 L333.9 2057.6 L337.6 2058.1 L341.3 2058.5 L344.9 2059 L348.6 2059.4 L352.3 2059.7 L355.9 2060.1 L359.6 2060.4 L363.3 2060.6 L367 2060.8 L370.6 2061 L374.3 2061 M591.2 2031.3 L587.5 2031.3 L583.8 2031.4 L580.2 2031.5 L576.5 2031.7 L572.8 2031.9 L569.1 2032.2 L565.5 2032.4 L561.8 2032.8 L558.1 2033.1 L554.4 2033.5 L550.8 2033.9 L547.1 2034.4 L543.4 2034.8 L539.7 2035.3 L536.1 2035.8 L532.4 2036.3 L528.7 2036.8 L525 2037.4 L521.4 2037.9 L517.7 2038.5 L514 2039.1 L510.3 2039.6 L506.6 2040.2 L503 2040.8 L499.3 2041.5 L495.6 2042.1 L491.9 2042.8 L488.3 2043.5 L484.6 2044.2 L480.9 2044.9 L477.2 2045.7 L473.6 2046.5 L469.9 2047.2 L466.2 2048 L462.5 2048.8 L458.9 2049.6 L455.2 2050.4 L451.5 2051.1 L447.8 2051.9 L444.1 2052.6 L440.5 2053.4 L436.8 2054 L433.1 2054.7 L429.4 2055.3 L425.8 2055.9 L422.1 2056.5 L418.4 2057.1 L414.7 2057.6 L411.1 2058.1 L407.4 2058.5 L403.7 2059 L400 2059.4 L396.4 2059.7 L392.7 2060.1 L389 2060.4 L385.3 2060.6 L381.7 2060.8 L378 2061 L374.3 2061 M157.7 2232.4 L161.4 2229.5 L165 2226.6 L168.7 2223.6 L172.4 2220.6 L176.1 2217.6 L179.7 2214.4 L183.4 2211.2 L187.1 2207.8 L190.7 2204.3 L194.4 2200.7 L198.1 2196.9 L201.8 2193 L205.4 2188.8 L209.1 2184.6 L212.8 2180.2 L216.4 2175.7 L220.1 2171.2 L223.8 2166.6 L227.5 2162 L231.1 2157.4 L234.8 2152.9 L238.5 2148.4 L242.1 2144 L245.8 2139.6 L249.5 2135.5 L253.2 2131.4 L256.8 2127.4 L260.5 2123.5 L264.2 2119.8 L267.8 2116.2 L271.5 2112.7 L275.2 2109.3 L278.8 2106 L282.5 2102.8 L286.2 2099.8 L289.9 2096.9 L293.5 2094.1 L297.2 2091.5 L300.9 2088.9 L304.5 2086.5 L308.2 2084.1 L311.9 2081.9 L315.6 2079.8 L319.2 2077.8 L322.9 2075.9 L326.6 2074.1 L330.2 2072.3 L333.9 2070.7 L337.6 2069.2 L341.3 2067.7 L344.9 2066.4 L348.6 2065.2 L352.3 2064.1 L355.9 2063.2 L359.6 2062.4 L363.3 2061.8 L367 2061.4 L370.6 2061.1 L374.3 2061 M591.2 2232.4 L587.5 2229.5 L583.8 2226.6 L580.2 2223.6 L576.5 2220.6 L572.8 2217.6 L569.1 2214.4 L565.5 2211.2 L561.8 2207.8 L558.1 2204.3 L554.4 2200.7 L550.8 2196.9 L547.1 2193 L543.4 2188.8 L539.7 2184.6 L536.1 2180.2 L532.4 2175.7 L528.7 2171.2 L525 2166.6 L521.4 2162 L517.7 2157.4 L514 2152.9 L510.3 2148.4 L506.6 2144 L503 2139.6 L499.3 2135.5 L495.6 2131.4 L491.9 2127.4 L488.3 2123.5 L484.6 2119.8 L480.9 2116.2 L477.2 2112.7 L473.6 2109.3 L469.9 2106 L466.2 2102.8 L462.5 2099.8 L458.9 2096.9 L455.2 2094.1 L451.5 2091.5 L447.8 2088.9 L444.1 2086.5 L440.5 2084.1 L436.8 2081.9 L433.1 2079.8 L429.4 2077.8 L425.8 2075.9 L422.1 2074.1 L418.4 2072.3 L414.7 2070.7 L411.1 2069.2 L407.4 2067.7 L403.7 2066.4 L400 2065.2 L396.4 2064.1 L392.7 2063.2 L389 2062.4 L385.3 2061.8 L381.7 2061.4 L378 2061.1 L374.3 2061 M157.7 2102.8 L161.4 2102.8 L165 2102.7 L168.7 2102.6 L172.4 2102.4 L176.1 2102.2 L179.7 2101.9 L183.4 2101.6 L187.1 2101.3 L190.7 2101 L194.4 2100.6 L198.1 2100.2 L201.8 2099.7 L205.4 2099.3 L209.1 2098.8 L212.8 2098.3 L216.4 2097.9 L220.1 2097.4 L223.8 2096.9 L227.5 2096.3 L231.1 2095.8 L234.8 2095.3 L238.5 2094.8 L242.1 2094.3 L245.8 2093.8 L249.5 2093.4 L253.2 2092.9 L256.8 2092.4 L260.5 2092 L264.2 2091.6 L267.8 2091.1 L271.5 2090.8 L275.2 2090.4 L278.8 2090.1 L282.5 2089.7 L286.2 2089.5 L289.9 2089.2 L293.5 2089 L297.2 2088.8 L300.9 2088.7 L304.5 2088.5 L308.2 2088.4 L311.9 2088.3 L315.6 2088.3 L319.2 2088.2 L322.9 2088.2 L326.6 2088.2 L330.2 2088.2 L333.9 2088.2 L337.6 2088.2 L341.3 2088.2 L344.9 2088.3 L348.6 2088.3 L352.3 2088.3 L355.9 2088.4 L359.6 2088.4 L363.3 2088.5 L367 2088.5 L370.6 2088.5 L374.3 2088.5 M591.2 2102.8 L587.5 2102.8 L583.8 2102.7 L580.2 2102.6 L576.5 2102.4 L572.8 2102.2 L569.1 2101.9 L565.5 2101.6 L561.8 2101.3 L558.1 2101 L554.4 2100.6 L550.8 2100.2 L547.1 2099.7 L543.4 2099.3 L539.7 2098.8 L536.1 2098.3 L532.4 2097.9 L528.7 2097.4 L525 2096.9 L521.4 2096.3 L517.7 2095.8 L514 2095.3 L510.3 2094.8 L506.6 2094.3 L503 2093.8 L499.3 2093.4 L495.6 2092.9 L491.9 2092.4 L488.3 2092 L484.6 2091.6 L480.9 2091.1 L477.2 2090.8 L473.6 2090.4 L469.9 2090.1 L466.2 2089.7 L462.5 2089.5 L458.9 2089.2 L455.2 2089 L451.5 2088.8 L447.8 2088.7 L444.1 2088.5 L440.5 2088.4 L436.8 2088.3 L433.1 2088.3 L429.4 2088.2 L425.8 2088.2 L422.1 2088.2 L418.4 2088.2 L414.7 2088.2 L411.1 2088.2 L407.4 2088.2 L403.7 2088.3 L400 2088.3 L396.4 2088.3 L392.7 2088.4 L389 2088.4 L385.3 2088.5 L381.7 2088.5 L378 2088.5 L374.3 2088.5 M157.7 2102.8 L161.4 2104.4 L165 2106 L168.7 2107.6 L172.4 2109.3 L176.1 2110.9 L179.7 2112.5 L183.4 2114.2 L187.1 2115.8 L190.7 2117.5 L194.4 2119.3 L198.1 2121 L201.8 2122.8 L205.4 2124.6 L209.1 2126.5 L212.8 2128.5 L216.4 2130.5 L220.1 2132.6 L223.8 2134.7 L227.5 2136.9 L231.1 2139.1 L234.8 2141.4 L238.5 2143.7 L242.1 2146.1 L245.8 2148.4 L249.5 2150.8 L253.2 2153.2 L256.8 2155.5 L260.5 2157.8 L264.2 2160.1 L267.8 2162.4 L271.5 2164.6 L275.2 2166.8 L278.8 2169 L282.5 2171.1 L286.2 2173.3 L289.9 2175.4 L293.5 2177.5 L297.2 2179.7 L300.9 2181.8 L304.5 2183.9 L308.2 2186 L311.9 2188.2 L315.6 2190.2 L319.2 2192.3 L322.9 2194.2 L326.6 2196 L330.2 2197.7 L333.9 2199.1 L337.6 2200.4 L341.3 2201.5 L344.9 2202.5 L348.6 2203.5 L352.3 2204.3 L355.9 2205.1 L359.6 2205.9 L363.3 2206.6 L367 2207.2 L370.6 2207.8 L374.3 2208.2 M591.2 2102.8 L587.5 2104.4 L583.8 2106 L580.2 2107.6 L576.5 2109.3 L572.8 2110.9 L569.1 2112.5 L565.5 2114.2 L561.8 2115.8 L558.1 2117.5 L554.4 2119.3 L550.8 2121 L547.1 2122.8 L543.4 2124.6 L539.7 2126.5 L536.1 2128.5 L532.4 2130.5 L528.7 2132.6 L525 2134.7 L521.4 2136.9 L517.7 2139.1 L514 2141.4 L510.3 2143.7 L506.6 2146.1 L503 2148.4 L499.3 2150.8 L495.6 2153.2 L491.9 2155.5 L488.3 2157.8 L484.6 2160.1 L480.9 2162.4 L477.2 2164.6 L473.6 2166.8 L469.9 2169 L466.2 2171.1 L462.5 2173.3 L458.9 2175.4 L455.2 2177.5 L451.5 2179.7 L447.8 2181.8 L444.1 2183.9 L440.5 2186 L436.8 2188.2 L433.1 2190.2 L429.4 2192.3 L425.8 2194.2 L422.1 2196 L418.4 2197.7 L414.7 2199.1 L411.1 2200.4 L407.4 2201.5 L403.7 2202.5 L400 2203.5 L396.4 2204.3 L392.7 2205.1 L389 2205.9 L385.3 2206.6 L381.7 2207.2 L378 2207.8 L374.3 2208.2 M157.7 2232.4 L161.4 2230.8 L165 2229.1 L168.7 2227.5 L172.4 2225.9 L176.1 2224.2 L179.7 2222.6 L183.4 2221 L187.1 2219.4 L190.7 2217.8 L194.4 2216.2 L198.1 2214.7 L201.8 2213.2 L205.4 2211.7 L209.1 2210.3 L212.8 2209 L216.4 2207.7 L220.1 2206.5 L223.8 2205.4 L227.5 2204.4 L231.1 2203.4 L234.8 2202.5 L238.5 2201.6 L242.1 2200.8 L245.8 2200 L249.5 2199.3 L253.2 2198.6 L256.8 2198 L260.5 2197.3 L264.2 2196.7 L267.8 2196.1 L271.5 2195.5 L275.2 2194.9 L278.8 2194.3 L282.5 2193.7 L286.2 2193.1 L289.9 2192.6 L293.5 2192 L297.2 2191.5 L300.9 2191 L304.5 2190.5 L308.2 2190 L311.9 2189.5 L315.6 2189.1 L319.2 2188.7 L322.9 2188.3 L326.6 2188 L330.2 2187.7 L333.9 2187.4 L337.6 2187.2 L341.3 2186.9 L344.9 2186.8 L348.6 2186.6 L352.3 2186.5 L355.9 2186.4 L359.6 2186.3 L363.3 2186.3 L367 2186.2 L370.6 2186.2 L374.3 2186.2 M591.2 2232.4 L587.5 2230.8 L583.8 2229.1 L580.2 2227.5 L576.5 2225.9 L572.8 2224.2 L569.1 2222.6 L565.5 2221 L561.8 2219.4 L558.1 2217.8 L554.4 2216.2 L550.8 2214.7 L547.1 2213.2 L543.4 2211.7 L539.7 2210.3 L536.1 2209 L532.4 2207.7 L528.7 2206.5 L525 2205.4 L521.4 2204.4 L517.7 2203.4 L514 2202.5 L510.3 2201.6 L506.6 2200.8 L503 2200 L499.3 2199.3 L495.6 2198.6 L491.9 2198 L488.3 2197.3 L484.6 2196.7 L480.9 2196.1 L477.2 2195.5 L473.6 2194.9 L469.9 2194.3 L466.2 2193.7 L462.5 2193.1 L458.9 2192.6 L455.2 2192 L451.5 2191.5 L447.8 2191 L444.1 2190.5 L440.5 2190 L436.8 2189.5 L433.1 2189.1 L429.4 2188.7 L425.8 2188.3 L422.1 2188 L418.4 2187.7 L414.7 2187.4 L411.1 2187.2 L407.4 2186.9 L403.7 2186.8 L400 2186.6 L396.4 2186.5 L392.7 2186.4 L389 2186.3 L385.3 2186.3 L381.7 2186.2 L378 2186.2 L374.3 2186.2 M591.2 1877.1 L594.4 1877.1 L597.6 1877.2 L600.8 1877.3 L604 1877.5 L607.2 1877.7 L610.4 1877.9 L613.6 1878.2 L616.8 1878.5 L620 1878.9 L623.2 1879.2 L626.4 1879.7 L629.6 1880.1 L632.8 1880.6 L636 1881.1 L639.1 1881.6 L642.3 1882.2 L645.5 1882.9 L648.7 1883.5 L651.9 1884.2 L655.1 1885 L658.3 1885.8 L661.5 1886.6 L664.7 1887.5 L667.9 1888.5 L671.1 1889.4 L674.3 1890.4 L677.5 1891.5 L680.7 1892.5 L683.9 1893.6 L687.1 1894.7 L690.3 1895.8 L693.5 1896.9 L696.7 1897.9 L699.9 1899 L703.1 1900.1 L706.3 1901.1 L709.5 1902.1 L712.7 1903.1 L715.9 1904 L719.1 1904.9 L722.3 1905.9 L725.5 1906.8 L728.7 1907.6 L731.9 1908.5 L735 1909.3 L738.2 1910.1 L741.4 1911 L744.6 1911.7 L747.8 1912.5 L751 1913.2 L754.2 1913.8 L757.4 1914.4 L760.6 1914.9 L763.8 1915.3 L767 1915.6 L770.2 1915.8 L773.4 1916 L776.6 1916.1 L779.8 1916.1 M591.2 2031.2 L594.4 2031.2 L597.6 2031.3 L600.8 2031.4 L604 2031.5 L607.2 2031.7 L610.4 2031.9 L613.6 2032.1 L616.8 2032.4 L620 2032.7 L623.2 2033 L626.4 2033.3 L629.6 2033.6 L632.8 2034 L636 2034.3 L639.1 2034.7 L642.3 2035.1 L645.5 2035.4 L648.7 2035.8 L651.9 2036.2 L655.1 2036.7 L658.3 2037.1 L661.5 2037.5 L664.7 2037.9 L667.9 2038.4 L671.1 2038.8 L674.3 2039.3 L677.5 2039.7 L680.7 2040.2 L683.9 2040.7 L687.1 2041.1 L690.3 2041.6 L693.5 2042.1 L696.7 2042.6 L699.9 2043.1 L703.1 2043.5 L706.3 2044 L709.5 2044.5 L712.7 2045 L715.9 2045.5 L719.1 2046 L722.3 2046.4 L725.5 2046.9 L728.7 2047.3 L731.9 2047.7 L735 2048.1 L738.2 2048.5 L741.4 2048.8 L744.6 2049.1 L747.8 2049.4 L751 2049.7 L754.2 2049.9 L757.4 2050.1 L760.6 2050.2 L763.8 2050.4 L767 2050.5 L770.2 2050.6 L773.4 2050.7 L776.6 2050.7 L779.8 2050.7 M591.2 2103.4 L594.4 2103.4 L597.6 2103.4 L600.8 2103.4 L604 2103.4 L607.2 2103.3 L610.4 2103.3 L613.6 2103.3 L616.8 2103.2 L620 2103.2 L623.2 2103.1 L626.4 2103.1 L629.6 2103 L632.8 2103 L636 2102.9 L639.1 2102.9 L642.3 2102.8 L645.5 2102.7 L648.7 2102.6 L651.9 2102.6 L655.1 2102.5 L658.3 2102.4 L661.5 2102.3 L664.7 2102.3 L667.9 2102.2 L671.1 2102.1 L674.3 2102 L677.5 2101.9 L680.7 2101.8 L683.9 2101.7 L687.1 2101.7 L690.3 2101.6 L693.5 2101.5 L696.7 2101.4 L699.9 2101.3 L703.1 2101.2 L706.3 2101.1 L709.5 2101.1 L712.7 2101 L715.9 2100.9 L719.1 2100.8 L722.3 2100.8 L725.5 2100.7 L728.7 2100.6 L731.9 2100.5 L735 2100.5 L738.2 2100.4 L741.4 2100.4 L744.6 2100.3 L747.8 2100.3 L751 2100.2 L754.2 2100.2 L757.4 2100.1 L760.6 2100.1 L763.8 2100.1 L767 2100 L770.2 2100 L773.4 2100 L776.6 2100 L779.8 2100 M591.2 2103.4 L594.4 2103.4 L597.6 2103.4 L600.8 2103.5 L604 2103.6 L607.2 2103.7 L610.4 2103.8 L613.6 2103.9 L616.8 2104.1 L620 2104.2 L623.2 2104.4 L626.4 2104.6 L629.6 2104.8 L632.8 2105 L636 2105.3 L639.1 2105.5 L642.3 2105.8 L645.5 2106 L648.7 2106.3 L651.9 2106.6 L655.1 2106.9 L658.3 2107.2 L661.5 2107.5 L664.7 2107.8 L667.9 2108.2 L671.1 2108.5 L674.3 2108.8 L677.5 2109.2 L680.7 2109.5 L683.9 2109.9 L687.1 2110.3 L690.3 2110.7 L693.5 2111.1 L696.7 2111.5 L699.9 2112 L703.1 2112.5 L706.3 2113 L709.5 2113.5 L712.7 2114 L715.9 2114.6 L719.1 2115.1 L722.3 2115.7 L725.5 2116.3 L728.7 2116.9 L731.9 2117.5 L735 2118.1 L738.2 2118.7 L741.4 2119.3 L744.6 2119.9 L747.8 2120.4 L751 2121 L754.2 2121.5 L757.4 2122 L760.6 2122.5 L763.8 2122.9 L767 2123.2 L770.2 2123.5 L773.4 2123.7 L776.6 2123.9 L779.8 2123.9 M591.2 2232.4 L594.4 2229.2 L597.6 2226 L600.8 2222.8 L604 2219.7 L607.2 2216.6 L610.4 2213.5 L613.6 2210.4 L616.8 2207.4 L620 2204.5 L623.2 2201.6 L626.4 2198.8 L629.6 2196.1 L632.8 2193.4 L636 2190.8 L639.1 2188.2 L642.3 2185.7 L645.5 2183.2 L648.7 2180.8 L651.9 2178.4 L655.1 2176.1 L658.3 2173.7 L661.5 2171.4 L664.7 2169.1 L667.9 2166.9 L671.1 2164.6 L674.3 2162.4 L677.5 2160.2 L680.7 2158.1 L683.9 2156 L687.1 2153.9 L690.3 2151.9 L693.5 2149.9 L696.7 2148 L699.9 2146.1 L703.1 2144.3 L706.3 2142.6 L709.5 2140.9 L712.7 2139.3 L715.9 2137.7 L719.1 2136.3 L722.3 2134.8 L725.5 2133.5 L728.7 2132.2 L731.9 2131 L735 2129.9 L738.2 2128.8 L741.4 2127.8 L744.6 2126.9 L747.8 2126 L751 2125.3 L754.2 2124.6 L757.4 2124 L760.6 2123.4 L763.8 2123 L767 2122.6 L770.2 2122.4 L773.4 2122.2 L776.6 2122 L779.8 2122 M591.2 2232.4 L594.4 2229.8 L597.6 2227.2 L600.8 2224.6 L604 2222.1 L607.2 2219.6 L610.4 2217.1 L613.6 2214.6 L616.8 2212.2 L620 2209.8 L623.2 2207.5 L626.4 2205.3 L629.6 2203.1 L632.8 2201 L636 2199 L639.1 2196.9 L642.3 2194.9 L645.5 2193 L648.7 2191 L651.9 2189.1 L655.1 2187.2 L658.3 2185.2 L661.5 2183.3 L664.7 2181.3 L667.9 2179.4 L671.1 2177.4 L674.3 2175.4 L677.5 2173.4 L680.7 2171.5 L683.9 2169.6 L687.1 2167.7 L690.3 2165.8 L693.5 2164 L696.7 2162.3 L699.9 2160.7 L703.1 2159.1 L706.3 2157.6 L709.5 2156.2 L712.7 2154.9 L715.9 2153.7 L719.1 2152.5 L722.3 2151.3 L725.5 2150.3 L728.7 2149.2 L731.9 2148.3 L735 2147.3 L738.2 2146.4 L741.4 2145.5 L744.6 2144.7 L747.8 2143.8 L751 2143 L754.2 2142.3 L757.4 2141.7 L760.6 2141.1 L763.8 2140.6 L767 2140.2 L770.2 2139.9 L773.4 2139.7 L776.6 2139.5 L779.8 2139.5" stroke="#fee237" stroke-width="5.4" fill="none" stroke-linejoin="round" stroke-linecap="butt" clip-path="url(#cb3)"/>
<path d="M157.7 1839.5 L161.4 1839.5 L165 1839.5 L168.7 1839.6 L172.4 1839.7 L176.1 1839.8 L179.7 1839.9 L183.4 1840 L187.1 1840.2 L190.7 1840.3 L194.4 1840.5 L198.1 1840.7 L201.8 1840.9 L205.4 1841.2 L209.1 1841.4 L212.8 1841.7 L216.4 1841.9 L220.1 1842.2 L223.8 1842.5 L227.5 1842.8 L231.1 1843.1 L234.8 1843.4 L238.5 1843.7 L242.1 1844.1 L245.8 1844.4 L249.5 1844.8 L253.2 1845.1 L256.8 1845.5 L260.5 1845.9 L264.2 1846.2 L267.8 1846.6 L271.5 1847.1 L275.2 1847.5 L278.8 1847.9 L282.5 1848.4 L286.2 1848.8 L289.9 1849.3 L293.5 1849.8 L297.2 1850.3 L300.9 1850.9 L304.5 1851.4 L308.2 1852 L311.9 1852.6 L315.6 1853.2 L319.2 1853.8 L322.9 1854.4 L326.6 1855 L330.2 1855.6 L333.9 1856.2 L337.6 1856.7 L341.3 1857.2 L344.9 1857.7 L348.6 1858.1 L352.3 1858.4 L355.9 1858.7 L359.6 1858.9 L363.3 1859.1 L367 1859.2 L370.6 1859.3 L374.3 1859.3 M591.2 1839.5 L587.5 1839.5 L583.8 1839.5 L580.2 1839.6 L576.5 1839.7 L572.8 1839.8 L569.1 1839.9 L565.5 1840 L561.8 1840.2 L558.1 1840.3 L554.4 1840.5 L550.8 1840.7 L547.1 1840.9 L543.4 1841.2 L539.7 1841.4 L536.1 1841.7 L532.4 1841.9 L528.7 1842.2 L525 1842.5 L521.4 1842.8 L517.7 1843.1 L514 1843.4 L510.3 1843.7 L506.6 1844.1 L503 1844.4 L499.3 1844.8 L495.6 1845.1 L491.9 1845.5 L488.3 1845.9 L484.6 1846.2 L480.9 1846.6 L477.2 1847.1 L473.6 1847.5 L469.9 1847.9 L466.2 1848.4 L462.5 1848.8 L458.9 1849.3 L455.2 1849.8 L451.5 1850.3 L447.8 1850.9 L444.1 1851.4 L440.5 1852 L436.8 1852.6 L433.1 1853.2 L429.4 1853.8 L425.8 1854.4 L422.1 1855 L418.4 1855.6 L414.7 1856.2 L411.1 1856.7 L407.4 1857.2 L403.7 1857.7 L400 1858.1 L396.4 1858.4 L392.7 1858.7 L389 1858.9 L385.3 1859.1 L381.7 1859.2 L378 1859.3 L374.3 1859.3 M157.7 1998.4 L161.4 1998.4 L165 1998.5 L168.7 1998.6 L172.4 1998.8 L176.1 1999 L179.7 1999.2 L183.4 1999.5 L187.1 1999.8 L190.7 2000.1 L194.4 2000.5 L198.1 2000.8 L201.8 2001.2 L205.4 2001.7 L209.1 2002.1 L212.8 2002.6 L216.4 2003 L220.1 2003.5 L223.8 2004 L227.5 2004.5 L231.1 2005 L234.8 2005.5 L238.5 2006 L242.1 2006.6 L245.8 2007.1 L249.5 2007.7 L253.2 2008.3 L256.8 2008.9 L260.5 2009.6 L264.2 2010.2 L267.8 2010.9 L271.5 2011.7 L275.2 2012.4 L278.8 2013.2 L282.5 2013.9 L286.2 2014.7 L289.9 2015.5 L293.5 2016.3 L297.2 2017 L300.9 2017.8 L304.5 2018.5 L308.2 2019.2 L311.9 2019.9 L315.6 2020.6 L319.2 2021.2 L322.9 2021.8 L326.6 2022.4 L330.2 2023 L333.9 2023.5 L337.6 2024 L341.3 2024.4 L344.9 2024.9 L348.6 2025.3 L352.3 2025.7 L355.9 2026 L359.6 2026.3 L363.3 2026.6 L367 2026.8 L370.6 2027 L374.3 2027 M591.2 1998.4 L587.5 1998.4 L583.8 1998.5 L580.2 1998.6 L576.5 1998.8 L572.8 1999 L569.1 1999.2 L565.5 1999.5 L561.8 1999.8 L558.1 2000.1 L554.4 2000.5 L550.8 2000.8 L547.1 2001.2 L543.4 2001.7 L539.7 2002.1 L536.1 2002.6 L532.4 2003 L528.7 2003.5 L525 2004 L521.4 2004.5 L517.7 2005 L514 2005.5 L510.3 2006 L506.6 2006.6 L503 2007.1 L499.3 2007.7 L495.6 2008.3 L491.9 2008.9 L488.3 2009.6 L484.6 2010.2 L480.9 2010.9 L477.2 2011.7 L473.6 2012.4 L469.9 2013.2 L466.2 2013.9 L462.5 2014.7 L458.9 2015.5 L455.2 2016.3 L451.5 2017 L447.8 2017.8 L444.1 2018.5 L440.5 2019.2 L436.8 2019.9 L433.1 2020.6 L429.4 2021.2 L425.8 2021.8 L422.1 2022.4 L418.4 2023 L414.7 2023.5 L411.1 2024 L407.4 2024.4 L403.7 2024.9 L400 2025.3 L396.4 2025.7 L392.7 2026 L389 2026.3 L385.3 2026.6 L381.7 2026.8 L378 2027 L374.3 2027 M157.7 2232.4 L161.4 2228.3 L165 2224.1 L168.7 2220 L172.4 2215.8 L176.1 2211.6 L179.7 2207.4 L183.4 2203.2 L187.1 2199 L190.7 2194.7 L194.4 2190.4 L198.1 2186 L201.8 2181.6 L205.4 2177.2 L209.1 2172.7 L212.8 2168.3 L216.4 2163.8 L220.1 2159.3 L223.8 2154.8 L227.5 2150.4 L231.1 2145.9 L234.8 2141.6 L238.5 2137.2 L242.1 2132.9 L245.8 2128.7 L249.5 2124.6 L253.2 2120.6 L256.8 2116.6 L260.5 2112.7 L264.2 2108.9 L267.8 2105.3 L271.5 2101.7 L275.2 2098.3 L278.8 2095 L282.5 2091.8 L286.2 2088.8 L289.9 2085.9 L293.5 2083.2 L297.2 2080.6 L300.9 2078.1 L304.5 2075.7 L308.2 2073.5 L311.9 2071.3 L315.6 2069.3 L319.2 2067.4 L322.9 2065.6 L326.6 2064 L330.2 2062.5 L333.9 2061.1 L337.6 2059.9 L341.3 2058.8 L344.9 2057.8 L348.6 2056.9 L352.3 2056.1 L355.9 2055.3 L359.6 2054.5 L363.3 2053.9 L367 2053.4 L370.6 2053.1 L374.3 2053 M591.2 2232.4 L587.5 2228.3 L583.8 2224.1 L580.2 2220 L576.5 2215.8 L572.8 2211.6 L569.1 2207.4 L565.5 2203.2 L561.8 2199 L558.1 2194.7 L554.4 2190.4 L550.8 2186 L547.1 2181.6 L543.4 2177.2 L539.7 2172.7 L536.1 2168.3 L532.4 2163.8 L528.7 2159.3 L525 2154.8 L521.4 2150.4 L517.7 2145.9 L514 2141.6 L510.3 2137.2 L506.6 2132.9 L503 2128.7 L499.3 2124.6 L495.6 2120.6 L491.9 2116.6 L488.3 2112.7 L484.6 2108.9 L480.9 2105.3 L477.2 2101.7 L473.6 2098.3 L469.9 2095 L466.2 2091.8 L462.5 2088.8 L458.9 2085.9 L455.2 2083.2 L451.5 2080.6 L447.8 2078.1 L444.1 2075.7 L440.5 2073.5 L436.8 2071.3 L433.1 2069.3 L429.4 2067.4 L425.8 2065.6 L422.1 2064 L418.4 2062.5 L414.7 2061.1 L411.1 2059.9 L407.4 2058.8 L403.7 2057.8 L400 2056.9 L396.4 2056.1 L392.7 2055.3 L389 2054.5 L385.3 2053.9 L381.7 2053.4 L378 2053.1 L374.3 2053 M157.7 2092.9 L161.4 2092.9 L165 2092.8 L168.7 2092.7 L172.4 2092.5 L176.1 2092.3 L179.7 2092.1 L183.4 2091.8 L187.1 2091.5 L190.7 2091.1 L194.4 2090.8 L198.1 2090.4 L201.8 2090 L205.4 2089.5 L209.1 2089.1 L212.8 2088.7 L216.4 2088.2 L220.1 2087.7 L223.8 2087.3 L227.5 2086.8 L231.1 2086.3 L234.8 2085.8 L238.5 2085.4 L242.1 2084.9 L245.8 2084.5 L249.5 2084.1 L253.2 2083.6 L256.8 2083.2 L260.5 2082.8 L264.2 2082.5 L267.8 2082.1 L271.5 2081.8 L275.2 2081.5 L278.8 2081.2 L282.5 2081 L286.2 2080.8 L289.9 2080.6 L293.5 2080.4 L297.2 2080.3 L300.9 2080.2 L304.5 2080.1 L308.2 2080.1 L311.9 2080.1 L315.6 2080.1 L319.2 2080.1 L322.9 2080.1 L326.6 2080.2 L330.2 2080.2 L333.9 2080.3 L337.6 2080.4 L341.3 2080.4 L344.9 2080.5 L348.6 2080.6 L352.3 2080.6 L355.9 2080.7 L359.6 2080.8 L363.3 2080.8 L367 2080.9 L370.6 2080.9 L374.3 2080.9 M591.2 2092.9 L587.5 2092.9 L583.8 2092.8 L580.2 2092.7 L576.5 2092.5 L572.8 2092.3 L569.1 2092.1 L565.5 2091.8 L561.8 2091.5 L558.1 2091.1 L554.4 2090.8 L550.8 2090.4 L547.1 2090 L543.4 2089.5 L539.7 2089.1 L536.1 2088.7 L532.4 2088.2 L528.7 2087.7 L525 2087.3 L521.4 2086.8 L517.7 2086.3 L514 2085.8 L510.3 2085.4 L506.6 2084.9 L503 2084.5 L499.3 2084.1 L495.6 2083.6 L491.9 2083.2 L488.3 2082.8 L484.6 2082.5 L480.9 2082.1 L477.2 2081.8 L473.6 2081.5 L469.9 2081.2 L466.2 2081 L462.5 2080.8 L458.9 2080.6 L455.2 2080.4 L451.5 2080.3 L447.8 2080.2 L444.1 2080.1 L440.5 2080.1 L436.8 2080.1 L433.1 2080.1 L429.4 2080.1 L425.8 2080.1 L422.1 2080.2 L418.4 2080.2 L414.7 2080.3 L411.1 2080.4 L407.4 2080.4 L403.7 2080.5 L400 2080.6 L396.4 2080.6 L392.7 2080.7 L389 2080.8 L385.3 2080.8 L381.7 2080.9 L378 2080.9 L374.3 2080.9 M157.7 2092.9 L161.4 2094 L165 2095 L168.7 2096.1 L172.4 2097.2 L176.1 2098.3 L179.7 2099.4 L183.4 2100.5 L187.1 2101.7 L190.7 2102.9 L194.4 2104.2 L198.1 2105.5 L201.8 2106.8 L205.4 2108.2 L209.1 2109.7 L212.8 2111.2 L216.4 2112.9 L220.1 2114.6 L223.8 2116.4 L227.5 2118.3 L231.1 2120.3 L234.8 2122.4 L238.5 2124.5 L242.1 2126.7 L245.8 2128.9 L249.5 2131.1 L253.2 2133.4 L256.8 2135.6 L260.5 2137.9 L264.2 2140.2 L267.8 2142.4 L271.5 2144.6 L275.2 2146.9 L278.8 2149.1 L282.5 2151.3 L286.2 2153.5 L289.9 2155.8 L293.5 2158 L297.2 2160.3 L300.9 2162.7 L304.5 2165 L308.2 2167.4 L311.9 2169.9 L315.6 2172.3 L319.2 2174.7 L322.9 2176.9 L326.6 2179.1 L330.2 2181 L333.9 2182.7 L337.6 2184.1 L341.3 2185.3 L344.9 2186.4 L348.6 2187.4 L352.3 2188.3 L355.9 2189.1 L359.6 2189.8 L363.3 2190.5 L367 2191 L370.6 2191.4 L374.3 2191.7 M591.2 2092.9 L587.5 2094 L583.8 2095 L580.2 2096.1 L576.5 2097.2 L572.8 2098.3 L569.1 2099.4 L565.5 2100.5 L561.8 2101.7 L558.1 2102.9 L554.4 2104.2 L550.8 2105.5 L547.1 2106.8 L543.4 2108.2 L539.7 2109.7 L536.1 2111.2 L532.4 2112.9 L528.7 2114.6 L525 2116.4 L521.4 2118.3 L517.7 2120.3 L514 2122.4 L510.3 2124.5 L506.6 2126.7 L503 2128.9 L499.3 2131.1 L495.6 2133.4 L491.9 2135.6 L488.3 2137.9 L484.6 2140.2 L480.9 2142.4 L477.2 2144.6 L473.6 2146.9 L469.9 2149.1 L466.2 2151.3 L462.5 2153.5 L458.9 2155.8 L455.2 2158 L451.5 2160.3 L447.8 2162.7 L444.1 2165 L440.5 2167.4 L436.8 2169.9 L433.1 2172.3 L429.4 2174.7 L425.8 2176.9 L422.1 2179.1 L418.4 2181 L414.7 2182.7 L411.1 2184.1 L407.4 2185.3 L403.7 2186.4 L400 2187.4 L396.4 2188.3 L392.7 2189.1 L389 2189.8 L385.3 2190.5 L381.7 2191 L378 2191.4 L374.3 2191.7 M157.7 2232.4 L161.4 2230.1 L165 2227.8 L168.7 2225.6 L172.4 2223.3 L176.1 2221 L179.7 2218.8 L183.4 2216.5 L187.1 2214.3 L190.7 2212.1 L194.4 2209.9 L198.1 2207.8 L201.8 2205.7 L205.4 2203.7 L209.1 2201.8 L212.8 2199.9 L216.4 2198.1 L220.1 2196.5 L223.8 2194.9 L227.5 2193.4 L231.1 2192.1 L234.8 2190.8 L238.5 2189.6 L242.1 2188.5 L245.8 2187.5 L249.5 2186.5 L253.2 2185.5 L256.8 2184.6 L260.5 2183.7 L264.2 2182.9 L267.8 2182.1 L271.5 2181.3 L275.2 2180.6 L278.8 2179.9 L282.5 2179.2 L286.2 2178.6 L289.9 2178 L293.5 2177.4 L297.2 2176.8 L300.9 2176.3 L304.5 2175.8 L308.2 2175.4 L311.9 2175 L315.6 2174.6 L319.2 2174.3 L322.9 2174 L326.6 2173.8 L330.2 2173.5 L333.9 2173.4 L337.6 2173.2 L341.3 2173.1 L344.9 2173.1 L348.6 2173 L352.3 2173 L355.9 2173 L359.6 2173 L363.3 2173 L367 2173 L370.6 2173 L374.3 2173 M591.2 2232.4 L587.5 2230.1 L583.8 2227.8 L580.2 2225.6 L576.5 2223.3 L572.8 2221 L569.1 2218.8 L565.5 2216.5 L561.8 2214.3 L558.1 2212.1 L554.4 2209.9 L550.8 2207.8 L547.1 2205.7 L543.4 2203.7 L539.7 2201.8 L536.1 2199.9 L532.4 2198.1 L528.7 2196.5 L525 2194.9 L521.4 2193.4 L517.7 2192.1 L514 2190.8 L510.3 2189.6 L506.6 2188.5 L503 2187.5 L499.3 2186.5 L495.6 2185.5 L491.9 2184.6 L488.3 2183.7 L484.6 2182.9 L480.9 2182.1 L477.2 2181.3 L473.6 2180.6 L469.9 2179.9 L466.2 2179.2 L462.5 2178.6 L458.9 2178 L455.2 2177.4 L451.5 2176.8 L447.8 2176.3 L444.1 2175.8 L440.5 2175.4 L436.8 2175 L433.1 2174.6 L429.4 2174.3 L425.8 2174 L422.1 2173.8 L418.4 2173.5 L414.7 2173.4 L411.1 2173.2 L407.4 2173.1 L403.7 2173.1 L400 2173 L396.4 2173 L392.7 2173 L389 2173 L385.3 2173 L381.7 2173 L378 2173 L374.3 2173 M591.2 1840 L594.4 1840 L597.6 1840.1 L600.8 1840.2 L604 1840.4 L607.2 1840.7 L610.4 1841 L613.6 1841.3 L616.8 1841.7 L620 1842.1 L623.2 1842.5 L626.4 1843 L629.6 1843.5 L632.8 1844.1 L636 1844.7 L639.1 1845.4 L642.3 1846 L645.5 1846.8 L648.7 1847.6 L651.9 1848.4 L655.1 1849.3 L658.3 1850.2 L661.5 1851.2 L664.7 1852.2 L667.9 1853.3 L671.1 1854.4 L674.3 1855.6 L677.5 1856.7 L680.7 1858 L683.9 1859.2 L687.1 1860.4 L690.3 1861.7 L693.5 1862.9 L696.7 1864.2 L699.9 1865.4 L703.1 1866.6 L706.3 1867.8 L709.5 1868.9 L712.7 1870 L715.9 1871.1 L719.1 1872.2 L722.3 1873.2 L725.5 1874.3 L728.7 1875.3 L731.9 1876.2 L735 1877.2 L738.2 1878.1 L741.4 1879 L744.6 1879.9 L747.8 1880.8 L751 1881.6 L754.2 1882.3 L757.4 1883 L760.6 1883.5 L763.8 1884 L767 1884.3 L770.2 1884.6 L773.4 1884.8 L776.6 1884.9 L779.8 1884.9 M591.2 1998.6 L594.4 1998.6 L597.6 1998.7 L600.8 1998.8 L604 1998.9 L607.2 1999 L610.4 1999.2 L613.6 1999.4 L616.8 1999.6 L620 1999.9 L623.2 2000.1 L626.4 2000.4 L629.6 2000.6 L632.8 2000.9 L636 2001.2 L639.1 2001.5 L642.3 2001.8 L645.5 2002.1 L648.7 2002.4 L651.9 2002.7 L655.1 2003 L658.3 2003.4 L661.5 2003.7 L664.7 2004.1 L667.9 2004.4 L671.1 2004.7 L674.3 2005.1 L677.5 2005.5 L680.7 2005.8 L683.9 2006.2 L687.1 2006.6 L690.3 2007 L693.5 2007.3 L696.7 2007.7 L699.9 2008.1 L703.1 2008.6 L706.3 2009 L709.5 2009.4 L712.7 2009.8 L715.9 2010.2 L719.1 2010.6 L722.3 2011 L725.5 2011.4 L728.7 2011.8 L731.9 2012.1 L735 2012.5 L738.2 2012.8 L741.4 2013.1 L744.6 2013.3 L747.8 2013.6 L751 2013.8 L754.2 2014 L757.4 2014.1 L760.6 2014.2 L763.8 2014.4 L767 2014.4 L770.2 2014.5 L773.4 2014.6 L776.6 2014.6 L779.8 2014.6 M591.2 2091.7 L594.4 2091.7 L597.6 2091.7 L600.8 2091.7 L604 2091.7 L607.2 2091.7 L610.4 2091.7 L613.6 2091.7 L616.8 2091.6 L620 2091.6 L623.2 2091.6 L626.4 2091.6 L629.6 2091.6 L632.8 2091.6 L636 2091.6 L639.1 2091.5 L642.3 2091.5 L645.5 2091.5 L648.7 2091.5 L651.9 2091.5 L655.1 2091.4 L658.3 2091.4 L661.5 2091.4 L664.7 2091.4 L667.9 2091.3 L671.1 2091.3 L674.3 2091.3 L677.5 2091.3 L680.7 2091.2 L683.9 2091.2 L687.1 2091.2 L690.3 2091.2 L693.5 2091.1 L696.7 2091.1 L699.9 2091.1 L703.1 2091.1 L706.3 2091 L709.5 2091 L712.7 2091 L715.9 2091 L719.1 2090.9 L722.3 2090.9 L725.5 2090.9 L728.7 2090.9 L731.9 2090.9 L735 2090.8 L738.2 2090.8 L741.4 2090.8 L744.6 2090.8 L747.8 2090.8 L751 2090.8 L754.2 2090.8 L757.4 2090.7 L760.6 2090.7 L763.8 2090.7 L767 2090.7 L770.2 2090.7 L773.4 2090.7 L776.6 2090.7 L779.8 2090.7 M591.2 2091.7 L594.4 2091.7 L597.6 2091.8 L600.8 2091.8 L604 2091.9 L607.2 2092.1 L610.4 2092.2 L613.6 2092.4 L616.8 2092.6 L620 2092.8 L623.2 2093.1 L626.4 2093.3 L629.6 2093.6 L632.8 2093.9 L636 2094.2 L639.1 2094.6 L642.3 2094.9 L645.5 2095.3 L648.7 2095.7 L651.9 2096.1 L655.1 2096.5 L658.3 2096.9 L661.5 2097.3 L664.7 2097.7 L667.9 2098.2 L671.1 2098.6 L674.3 2099.1 L677.5 2099.5 L680.7 2100 L683.9 2100.5 L687.1 2101 L690.3 2101.5 L693.5 2102 L696.7 2102.6 L699.9 2103.2 L703.1 2103.8 L706.3 2104.4 L709.5 2105 L712.7 2105.7 L715.9 2106.3 L719.1 2107 L722.3 2107.7 L725.5 2108.4 L728.7 2109.1 L731.9 2109.8 L735 2110.5 L738.2 2111.2 L741.4 2111.9 L744.6 2112.5 L747.8 2113.2 L751 2113.8 L754.2 2114.4 L757.4 2115 L760.6 2115.5 L763.8 2116 L767 2116.3 L770.2 2116.7 L773.4 2116.9 L776.6 2117 L779.8 2117.1 M591.2 2232.4 L594.4 2228.7 L597.6 2225.1 L600.8 2221.4 L604 2217.8 L607.2 2214.2 L610.4 2210.6 L613.6 2207.1 L616.8 2203.7 L620 2200.3 L623.2 2197 L626.4 2193.7 L629.6 2190.6 L632.8 2187.5 L636 2184.5 L639.1 2181.5 L642.3 2178.7 L645.5 2175.8 L648.7 2173 L651.9 2170.3 L655.1 2167.6 L658.3 2164.9 L661.5 2162.3 L664.7 2159.6 L667.9 2157 L671.1 2154.5 L674.3 2151.9 L677.5 2149.4 L680.7 2146.9 L683.9 2144.5 L687.1 2142.1 L690.3 2139.8 L693.5 2137.5 L696.7 2135.3 L699.9 2133.1 L703.1 2131.1 L706.3 2129.1 L709.5 2127.1 L712.7 2125.3 L715.9 2123.5 L719.1 2121.8 L722.3 2120.2 L725.5 2118.6 L728.7 2117.2 L731.9 2115.8 L735 2114.5 L738.2 2113.2 L741.4 2112.1 L744.6 2111 L747.8 2110.1 L751 2109.2 L754.2 2108.4 L757.4 2107.7 L760.6 2107.1 L763.8 2106.5 L767 2106.1 L770.2 2105.8 L773.4 2105.6 L776.6 2105.4 L779.8 2105.4 M591.2 2232.4 L594.4 2229.5 L597.6 2226.6 L600.8 2223.7 L604 2220.9 L607.2 2218.1 L610.4 2215.3 L613.6 2212.5 L616.8 2209.9 L620 2207.2 L623.2 2204.7 L626.4 2202.2 L629.6 2199.8 L632.8 2197.4 L636 2195.1 L639.1 2192.8 L642.3 2190.6 L645.5 2188.4 L648.7 2186.3 L651.9 2184.1 L655.1 2182 L658.3 2179.8 L661.5 2177.6 L664.7 2175.5 L667.9 2173.3 L671.1 2171 L674.3 2168.8 L677.5 2166.6 L680.7 2164.5 L683.9 2162.3 L687.1 2160.2 L690.3 2158.2 L693.5 2156.2 L696.7 2154.3 L699.9 2152.4 L703.1 2150.7 L706.3 2149 L709.5 2147.5 L712.7 2146 L715.9 2144.6 L719.1 2143.3 L722.3 2142 L725.5 2140.8 L728.7 2139.7 L731.9 2138.6 L735 2137.5 L738.2 2136.5 L741.4 2135.5 L744.6 2134.5 L747.8 2133.6 L751 2132.7 L754.2 2131.9 L757.4 2131.2 L760.6 2130.6 L763.8 2130 L767 2129.6 L770.2 2129.2 L773.4 2129 L776.6 2128.8 L779.8 2128.8" stroke="#44f3f7" stroke-width="5.4" fill="none" stroke-linejoin="round" stroke-linecap="butt" clip-path="url(#cb3)"/>
<path d="M780.5 1822.3 L782.1 1826.2 L790.3 1833.7 L808.7 1839.4 L813.9 1845 L804.6 1854.5 L802.6 1866 L802.6 1881.4 L798.5 1895 L792.3 1906.8 L783.1 1916.6 L786.2 1926.3 L794.4 1939.9 L804.6 1955.7 L819 1967.7 L849.7 1975.8 L866.1 1979.9 L839.5 1984 L835.4 1990 L870.2 1994.2 L929.6 1996.6 L880.4 2000.5 L835.4 2003.4 L782.1 2008.4 L782.1 2035.1 L808.7 2044.3 L860 2053.5 L921.4 2062.7 L941.9 2067.2 L933.7 2072.9 L970.6 2079.7 L890.7 2081.7 L880.4 2088.1 L866.1 2093.8 L888.6 2096.7 L819 2103.4 L876.3 2108.4 L845.6 2113.4 L855.9 2123.5 L851.8 2136.2 L860 2153.7 L880.4 2162.7 L907.1 2169.5 L860 2172 L808.7 2177 L794.4 2186.8 L784.1 2204 L782.1 2223.6 L780.5 2231.9" stroke="#a400da" stroke-width="5.4" fill="none" stroke-linejoin="round" clip-path="url(#cd3)"/>
<path d="M780.5 1878.5 L782.1 1883.1 L790.3 1891.6 L808.7 1898 L813.9 1904.2 L804.6 1914.7 L802.6 1927.2 L802.6 1943.6 L798.5 1957.7 L792.3 1969.7 L783.1 1979.6 L786.2 1989.4 L794.4 2002.9 L804.6 2018.1 L819 2029.5 L849.7 2037 L866.1 2040.7 L839.5 2044.4 L835.4 2049.9 L870.2 2053.6 L929.6 2055.7 L880.4 2057.7 L835.4 2059 L782.1 2061.4 L782.1 2075 L808.7 2080.6 L860 2086.6 L921.4 2092.6 L941.9 2095.7 L933.7 2099.6 L970.6 2104.3 L890.7 2106.6 L880.4 2114.9 L866.1 2122.1 L888.6 2125.6 L819 2133.5 L876.3 2139.1 L845.6 2144.5 L855.9 2155.1 L851.8 2167.2 L860 2182.3 L880.4 2189.5 L907.1 2194.6 L860 2196.2 L808.7 2199.1 L794.4 2205 L784.1 2215.3 L782.1 2227.2 L780.5 2232.1" stroke="#fb9bd9" stroke-width="5.4" fill="none" stroke-linejoin="round" clip-path="url(#cd3)"/>
<path d="M780.5 1849.6 L782.1 1853.9 L790.3 1862 L808.7 1868.1 L813.9 1874.1 L804.6 1884.2 L802.6 1896.2 L802.6 1912.3 L798.5 1926.2 L792.3 1938.2 L783.1 1948.2 L786.2 1958.2 L794.4 1972.2 L804.6 1988.2 L819 2000.1 L849.7 2008.1 L866.1 2012 L839.5 2016 L835.4 2021.9 L870.2 2025.9 L929.6 2028.2 L880.4 2031.3 L835.4 2033.4 L782.1 2037.2 L782.1 2058 L808.7 2065.3 L860 2072.6 L921.4 2080.1 L941.9 2083.8 L933.7 2088.4 L970.6 2094 L890.7 2096.3 L880.4 2104 L866.1 2110.7 L888.6 2114 L819 2121.6 L876.3 2127.1 L845.6 2132.4 L855.9 2142.9 L851.8 2155.3 L860 2171.5 L880.4 2179.4 L907.1 2185.2 L860 2187.1 L808.7 2190.8 L794.4 2198.2 L784.1 2211.1 L782.1 2225.8 L780.5 2232" stroke="#1626e6" stroke-width="5.4" fill="none" stroke-linejoin="round" clip-path="url(#cd3)"/>
<path d="M780.5 1872.5 L782.1 1877 L790.3 1885.5 L808.7 1891.9 L813.9 1898.1 L804.6 1908.6 L802.6 1921 L802.6 1937.5 L798.5 1951.6 L792.3 1963.7 L783.1 1973.6 L786.2 1983.4 L794.4 1997 L804.6 2012.3 L819 2023.8 L849.7 2031.3 L866.1 2035.1 L839.5 2038.9 L835.4 2044.4 L870.2 2048.2 L929.6 2050.4 L880.4 2052.3 L835.4 2053.6 L782.1 2056 L782.1 2069.5 L808.7 2075.5 L860 2081.7 L921.4 2088 L941.9 2091.2 L933.7 2095.3 L970.6 2100.2 L890.7 2102.5 L880.4 2111.1 L866.1 2118.4 L888.6 2122 L819 2130.1 L876.3 2135.9 L845.6 2141.4 L855.9 2152.2 L851.8 2164.7 L860 2180.3 L880.4 2187.7 L907.1 2193.1 L860 2194.7 L808.7 2197.8 L794.4 2203.9 L784.1 2214.6 L782.1 2226.9 L780.5 2232.1" stroke="#fee237" stroke-width="5.4" fill="none" stroke-linejoin="round" clip-path="url(#cd3)"/>
<path d="M780.5 1834 L782.1 1838.4 L790.3 1846.6 L808.7 1852.8 L813.9 1858.9 L804.6 1869.2 L802.6 1881.5 L802.6 1897.9 L798.5 1912.2 L792.3 1924.5 L783.1 1934.7 L786.2 1945 L794.4 1959.3 L804.6 1975.7 L819 1988 L849.7 1996.2 L866.1 2000.3 L839.5 2004.4 L835.4 2010.5 L870.2 2014.6 L929.6 2017 L880.4 2020.5 L835.4 2023 L782.1 2027.4 L782.1 2051 L808.7 2059.2 L860 2067.4 L921.4 2075.6 L941.9 2079.7 L933.7 2084.8 L970.6 2090.9 L890.7 2093 L880.4 2100.1 L866.1 2106.3 L888.6 2109.4 L819 2116.5 L876.3 2121.7 L845.6 2126.8 L855.9 2137 L851.8 2149.3 L860 2165.7 L880.4 2173.9 L907.1 2180 L860 2182.1 L808.7 2186.2 L794.4 2194.4 L784.1 2208.7 L782.1 2225.1 L780.5 2232" stroke="#44f3f7" stroke-width="5.4" fill="none" stroke-linejoin="round" clip-path="url(#cd3)"/>
<rect x="157.7" y="1783.1" width="828.9" height="475" fill="none" stroke="#000" stroke-width="2.3"/>
<line x1="779.8" y1="1783.1" x2="779.8" y2="2258.1" stroke="#000" stroke-width="2.3"/>
<line x1="157.7" y1="1783.1" x2="164" y2="1783.1" stroke="#000" stroke-width="4"/>
<text x="150.5" y="1797.6" font-size="41" text-anchor="end">350</text>
<line x1="157.7" y1="1901.8" x2="164" y2="1901.8" stroke="#000" stroke-width="4"/>
<text x="150.5" y="1916.3" font-size="41" text-anchor="end">258</text>
<line x1="157.7" y1="2020.6" x2="164" y2="2020.6" stroke="#000" stroke-width="4"/>
<text x="150.5" y="2035.1" font-size="41" text-anchor="end">165</text>
<line x1="157.7" y1="2139.3" x2="164" y2="2139.3" stroke="#000" stroke-width="4"/>
<text x="150.5" y="2153.8" font-size="41" text-anchor="end">72</text>
<line x1="157.7" y1="2258.1" x2="164" y2="2258.1" stroke="#000" stroke-width="4"/>
<text x="148" y="2272.4" font-size="41.5" text-anchor="end">20<tspan font-style="italic">i</tspan></text>
<line x1="374.3" y1="2258.1" x2="374.3" y2="2251.8" stroke="#000" stroke-width="4"/>
<line x1="374.3" y1="1783.1" x2="374.3" y2="1789.4" stroke="#000" stroke-width="4"/>
<line x1="591.2" y1="2258.1" x2="591.2" y2="2251.8" stroke="#000" stroke-width="4"/>
<line x1="591.2" y1="1783.1" x2="591.2" y2="1789.4" stroke="#000" stroke-width="4"/>
<line x1="779.8" y1="2258.1" x2="779.8" y2="2251.8" stroke="#000" stroke-width="4"/>
<line x1="779.8" y1="1783.1" x2="779.8" y2="1789.4" stroke="#000" stroke-width="4"/>
<line x1="896.1" y1="1783.1" x2="896.1" y2="1789.1" stroke="#000" stroke-width="1"/>
<line x1="896.1" y1="2258.1" x2="896.1" y2="2252.1" stroke="#000" stroke-width="1"/>
<text x="158.5" y="2293.1" font-size="42" text-anchor="middle">Γ</text>
<text x="375.8" y="2293.1" font-size="43" text-anchor="middle" font-style="italic">X</text>
<text x="592.2" y="2293.1" font-size="42" text-anchor="middle">Γ</text>
<text x="780.3" y="2293.1" font-size="43" text-anchor="middle" font-style="italic">L</text>
<text transform="translate(63.5 2181.5) rotate(-90)" font-size="42">Frequency [cm</text>
<path d="M23.4 1907.4 V1894.1 M34.3 1875.8 H14 L20.4 1882.1" stroke="#000" stroke-width="2.3" fill="none" stroke-linejoin="miter"/>
<text transform="translate(63.5 1866.3) rotate(-90)" font-size="42">]</text>
<text x="817.9" y="1833.6" font-size="42">(d) Rb<tspan font-size="30" dy="11.5">2</tspan><tspan dy="-11.5">O</tspan></text>
<line x1="986.6" y1="2232.4" x2="980.6" y2="2232.4" stroke="#000" stroke-width="1"/>
<line x1="986.6" y1="2104" x2="980.6" y2="2104" stroke="#000" stroke-width="1"/>
<line x1="986.6" y1="1975.7" x2="980.6" y2="1975.7" stroke="#000" stroke-width="1"/>
<line x1="986.6" y1="1847.3" x2="980.6" y2="1847.3" stroke="#000" stroke-width="1"/>
</svg></body></html>
